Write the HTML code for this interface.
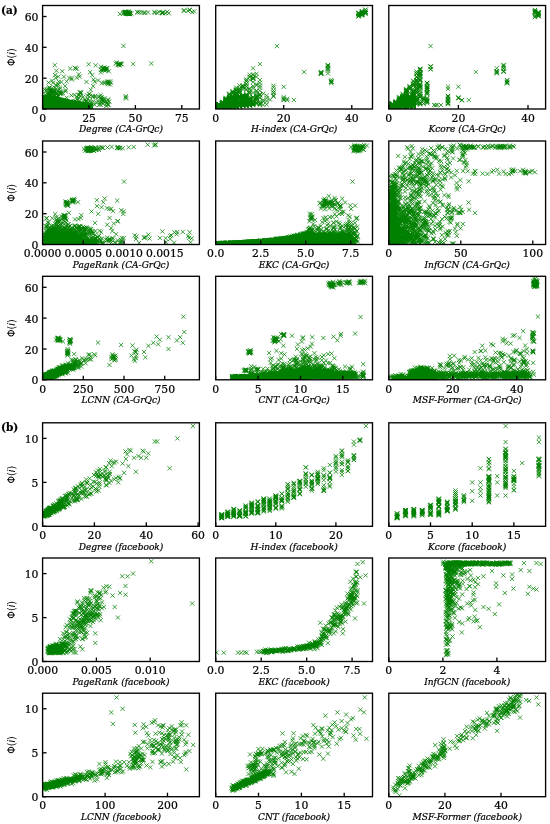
<!DOCTYPE html>
<html><head><meta charset="utf-8"><style>
html,body{margin:0;padding:0;background:#fff;}
svg{display:block;}
.fr{fill:none;stroke:#000;stroke-width:1.35;}
.tk{stroke:#000;stroke-width:1.3;fill:none;}
.m{fill:none;stroke:none;marker-start:url(#mx);marker-mid:url(#mx);marker-end:url(#mx);}
text{fill:#000;stroke:#000;stroke-width:0.22px;}
.tl{font-family:"DejaVu Serif","Liberation Serif",serif;font-size:10.8px;}
.xl{font-family:"DejaVu Serif","Liberation Serif",serif;font-style:italic;font-size:9.05px;}
.yl{font-family:"DejaVu Sans","Liberation Sans",sans-serif;font-size:9.6px;stroke:none;}
.pl{font-family:"DejaVu Serif","Liberation Serif",serif;font-weight:bold;font-size:10.5px;}
</style></head><body>
<svg width="550" height="824" viewBox="0 0 550 824">
<defs><marker id="mx" markerWidth="6" markerHeight="6" refX="3" refY="3" markerUnits="userSpaceOnUse" overflow="visible"><path d="M0.9 0.9L5.1 5.1M0.9 5.1L5.1 0.9" stroke="#008000" stroke-opacity="0.75" stroke-width="1.0" fill="none"/></marker>
<clipPath id="c0"><rect x="42.6" y="5.5" width="156.8" height="103.5"/></clipPath>
<clipPath id="c1"><rect x="215.7" y="5.5" width="156.8" height="103.5"/></clipPath>
<clipPath id="c2"><rect x="388.8" y="5.5" width="156.8" height="103.5"/></clipPath>
<clipPath id="c3"><rect x="42.6" y="141" width="156.8" height="103.5"/></clipPath>
<clipPath id="c4"><rect x="215.7" y="141" width="156.8" height="103.5"/></clipPath>
<clipPath id="c5"><rect x="388.8" y="141" width="156.8" height="103.5"/></clipPath>
<clipPath id="c6"><rect x="42.6" y="276.3" width="156.8" height="103.5"/></clipPath>
<clipPath id="c7"><rect x="215.7" y="276.3" width="156.8" height="103.5"/></clipPath>
<clipPath id="c8"><rect x="388.8" y="276.3" width="156.8" height="103.5"/></clipPath>
<clipPath id="c9"><rect x="42.6" y="422.8" width="156.8" height="103.5"/></clipPath>
<clipPath id="c10"><rect x="215.7" y="422.8" width="156.8" height="103.5"/></clipPath>
<clipPath id="c11"><rect x="388.8" y="422.8" width="156.8" height="103.5"/></clipPath>
<clipPath id="c12"><rect x="42.6" y="558" width="156.8" height="103.5"/></clipPath>
<clipPath id="c13"><rect x="215.7" y="558" width="156.8" height="103.5"/></clipPath>
<clipPath id="c14"><rect x="388.8" y="558" width="156.8" height="103.5"/></clipPath>
<clipPath id="c15"><rect x="42.6" y="693.2" width="156.8" height="103.5"/></clipPath>
<clipPath id="c16"><rect x="215.7" y="693.2" width="156.8" height="103.5"/></clipPath>
<clipPath id="c17"><rect x="388.8" y="693.2" width="156.8" height="103.5"/></clipPath></defs>
<rect width="550" height="824" fill="#fff"/>
<path clip-path="url(#c0)" class="m" d="M68 106.2 88.5 108 50.8 107 88.4 107.7 58.7 104.4 63.9 102.3 82.8 106.6 63.2 107 69.8 107 45.4 97.4 79.3 105.3 69.2 106.2 59.5 101 81 104.2 58.3 103.4 65.3 104.8 50.4 104.1 62.9 105.2 53.6 99.8 56.4 101.7 79.2 104 57.2 107.8 66.8 107.2 89.9 106.9 89.1 106.6 78 106.1 69.4 104.8 57 100.1 51.6 102.5 89.4 107.5 68.2 104.8 49.5 105 73.2 104.5 80.4 105.6 72.7 104 87 105.3 45.9 102.6 68.8 107.8 65.6 104.5 47 102.6 74.1 103.8 84 104.9 71.8 107.1 56.2 100.1 83.4 107.5 67.9 104.1 68 108 79.3 104.4 51 103.9 82.4 107.3 76 103.3 80.9 107.7 53 104.7 81.6 106.2 53 105.5 47.9 104.3 84.1 105.2 84.4 107.4 85.1 106.3 66.2 106.6 56.9 102.6 44.4 105.2 74.3 106.4 77.7 105.6 83.2 107.2 57.3 101.7 54.1 106 74 103.5 81.7 105.3 89.1 107.8 51.1 102.9 66.6 107.6 85.9 107.5 63.9 105.7 71.7 103.9 45.2 101.2 75.6 105.3 87.1 107.6 82.7 107 85.5 105.9 75 105.5 55.6 105.1 80 107.8 54 107.6 83 104.7 47 103.6 82.7 104.7 51.8 105.7 61.6 103.4 58.9 105.9 76.4 103.7 52.4 105.9 62.6 103.9 44.4 97.1 56.4 101.5 63.8 103.9 49 104.3 73.7 105.1 61.9 108 78 107.5 74.7 106.6 64.2 107.7 84.6 107.3 73.6 105.7 82 104.8 60.1 100.5 69.5 107.9 53.3 103.7 90.7 106.6 55.5 101.2 56.1 106.6 47.5 108 56.1 105.8 79.8 106.7 76.7 107.2 50.1 105.8 61.7 102.8 63.8 106.4 75.2 107.1 65.4 106.1 71.5 105.4 83.3 107.4 78.1 105.8 61.2 100.6 65.1 102.1 61.3 102.1 49.2 98.3 53.6 99.3 57.4 103.2 58.8 102.2 58.7 105.1 71.1 104.8 89.5 105.9 80.3 105.9 81.1 106.4 79.6 105.2 72 105.4 87 107.8 76.3 106.2 67.5 107.2 47.7 98.3 66.9 103 54 103.9 50.3 107.4 67.7 107.3 80.8 107 57.9 103.5 80 107.6 68.7 105.7 51.1 106.3 89.2 107.8 62.9 107.1 57.9 107 83.7 105.1 49.9 106.2 78.4 107.6 52.9 100 62.4 100.6 54.9 101.3 83.4 107.8 62.3 107 89.7 107.7 73.3 107.5 76.5 105.7 68.5 107.7 58.5 101.3 62.6 104.9 88.1 107.6 53.5 107.2 90.3 106.8 79.5 104.7 60.9 103.4 74.1 106.8 61.9 101.8 61.9 104 67.6 104.1 44.9 97.8 67.2 103.5 89.5 107.8 57.4 102 79.1 106.8 64.8 102.3 53.9 102.7 86.4 106.5 44.9 106.5 58.3 107.8 90.8 106 56.3 107.8 83.8 107.9 72.4 105.4 81.8 104.4 73.6 105.1 61 100.1 79.7 105 45.3 98.9 65 102.1 61.5 100.6 66.4 101.3 50.1 104.7 54.5 101.5 70.4 104.9 62.2 100.4 81.1 105.7 72.4 105.8 84.4 108 78.3 104.7 72.2 108 57.5 102.4 80.7 107 55.8 101.9 47.6 97.4 89.1 107.2 69.3 104.5 80.3 105.7 68.8 107 72.7 103.9 45.7 100.3 52.8 100.6 75.6 106.9 70.8 107.7 51.5 104.2 88.6 107.8 51.3 105.3 67.9 108 50.8 104 77.6 106.4 57 105.2 50.4 104.2 46.2 107.6 52.3 103.8 53.1 101.8 69.2 106 65.2 104 88.8 106.1 88.7 106.7 81.3 104.4 75.5 104.1 83.6 106.1 88 107.9 45.1 102.8 49.6 107.7 60.9 100.4 48.5 107.6 72.1 106.9 56.3 106.4 56.4 100.4 57.6 100.1 48.7 100.4 78.7 104.2 74.5 106.7 72.4 102.9 45.7 107 64.2 105.8 76.1 103.7 51.4 101.2 62.1 100.8 45 98.5 47.9 105.8 54.2 104.1 63.5 100.6 65.7 103.1 85.4 105.6 58.9 107.4 45.1 97.4 82.7 106 47 106.4 48.4 102 89.1 105.8 79.3 105.7 59.9 99.9 50.3 98.6 62.2 104.2 59.9 100.1 85 105.6 63.7 106.2 47.9 107 87.4 108 73.2 105.1 49.5 100.3 49.4 106.7 65.9 106.6 48.4 97.8 73.6 103.6 72.9 106.2 45.6 97.6 81.8 106.2 80.9 107 86.9 107.1 75.4 106.7 76.5 104.6 51.7 104.4 45.2 101.6 47.2 101.4 89.2 106.8 74.3 105.6 88.4 107.2 60.4 106.2 79.4 107.7 47.1 100.5 51.9 107.9 57 101.6 69.8 103.3 70.1 103.1 67.4 103.7 63.9 101 71 105.8 89.3 107 65.5 106 83.2 108 46.7 103.3 62.1 104.2 70.3 105.2 73.1 107.9 55.8 106.6 62.8 106 88.4 107 74.4 107 71.4 105.9 47.1 105 46.5 106.9 54 99.8 50.5 101.9 90.1 105.9 44.2 101.2 61.2 103.1 46.8 104.1 74 103.7 46.3 103 47.3 99.2 47.8 103.1 56.8 101.5 71 104.1 81.7 106.5 56.6 107.3 57.3 106 82.6 106.4 79 106 50 105.9 81.8 107.1 83 106.9 52.4 102.7 73.4 107.6 53.3 104.2 55.5 101.8 67.2 102.4 68.5 104.7 66.5 101.5 69.4 103.4 54.1 100.6 80.5 107.5 57.1 103.6 86.8 108 68.2 103.6 58.3 105.3 52.2 99.5 66.8 107.2 61.7 107.5 73.2 105.9 67.4 107 45.8 102 83 106.5 46.5 107.8 82.8 107.2 82.1 107.5 87.3 107.6 75.2 102.9 51.6 102.3 64.7 102.4 64.6 105.3 73.7 107.1 61.9 105.4 75.7 104.5 53.6 104.1 60.6 108 69.5 104.5 64.1 104.3 49.8 101.1 89.2 108 76.4 103.7 83 106.4 60.8 105.2 88.3 107.3 82.1 104.8 89.9 107.5 53.3 105.2 66.4 101.9 62.1 104.4 72.8 107.8 55.8 107 48.8 100.2 66.4 105.8 74 106.4 62 105.8 90.3 105.9 63.1 104.4 58.1 100.3 82.1 105 65.9 102.5 56.9 101.2 57.5 105.4 88.4 105.9 89.1 106.9 74.3 107.1 57.1 105.8 77.3 105.5 54.2 103.5 59.1 99.8 69.4 104.1 62.8 103.3 60.5 107.6 89.6 107.9 52 105.1 72.8 105.5 45.9 97.8 48.4 107.5 53.9 101.2 90.5 106.7 78.1 106.9 84.7 105 46.4 103.9 75.9 103.8 64.7 106.1 63.6 103.8 77.2 104.3 58.5 100.7 68.1 105.7 56.3 106.2 62.4 103 69 103.9 51.5 107.6 57 102.7 63.7 101 66.2 106.3 81.5 105.6 74.1 103.1 70.4 105.7 84.8 105.4 53.3 99.5 49 107.6 62.5 105.8 50.5 105.6 70.1 102.4 70.9 104.4 50.2 106.8 77.6 106.3 70.1 106.4 63.9 100.6 87 105.6 84.1 105.1 54.4 107.1 51.9 104.3 86.9 106.8 51.4 104.9 79.5 104.2 58.7 104.2 61 101.9 70 104.4 87.4 107 44.2 107.1 51.7 99.6 77.8 105.8 62.5 107.5 57.5 103.9 89.1 108 56.4 105.2 77.5 103.8 89.2 107.2 79.8 106.6 77.3 106.6 77.9 105.4 81.7 106.1 56.8 104.7 73.4 103.3 81.6 106.2 85.6 105.4 86.4 106.9 86.4 107 48.7 106.2 61.7 107.5 65.4 104 85.8 107 63.7 107 56.5 103.4 45 100 57.6 102.6 80.6 108 45 103.9 51.8 101.4 58.6 104.7 69 105.2 61.1 101.7 85.4 107.6 53.8 106.5 70.3 103.3 80.5 104.2 87.6 107.6 84.9 107.9 50.4 99.8 81.1 105.8 75.7 106.8 63.8 107.7 45.3 101.9 51.9 106.6 79.1 104.1 48 98.4 58.7 101.8 56 99.2 79 106.7 60.9 107.1 48.2 101.2 61.4 106.1 59.4 102.2 77.6 107.7 59.1 105.2 76.5 104.8 69.3 102.1 85.6 107.8 78.4 106 63.2 100.9 66.8 107.7 66.1 104.9 84.8 105.6 50.5 103.2 63.9 101.7 69.1 105.5 64.5 105.8 72 107.9 67.4 104.7 63.4 100.7 76.2 103.5 59.5 108.1 72.5 107.9 78.2 107.8 50.2 99.3 59.3 105 88.3 107.4 89.3 106.3 90.5 107.3 46.1 103.9 82.7 105.5 87.8 105.7 86.3 107.5 77.5 107.1 75.7 107.1 77.7 103.6 71 104.7 81 104.7 67.6 106.8 54.6 100 48.5 104.9 86.6 106.2 79.4 107.1 52.4 103.1 82.5 105.2 58.1 106.6 73.8 102.8 60.7 101.2 54.1 101.4 52.3 100.7 47.4 105 47.6 107.1 47.3 104.6 48.3 106.7 83.1 106.9 68.3 103 50.1 106.3 68.6 107.6 69.5 102.9 67.3 101.7 53.7 104.2 64.4 106.5 84.8 105.2 62 107.6 67.7 105.7 87.6 105.9 55 101.3 78 104.5 66.7 104.8 80.9 105.2 60.9 105.6 69.4 102.6 61.3 101.8 84.6 104.9 86.9 105.9 73.6 104 90 107.6 78.3 105.5 82.9 107.8 85.9 105.3 56.8 101 90.2 106.9 62.3 101.6 67.3 102.2 52.5 104.6 82.5 105.5 59.8 107 76.3 107.8 54.3 100.8 60.5 106.3 62.1 104.9 55.1 103.6 45.7 97.6 80.1 104.8 88.5 106.7 54.7 100.5 51.7 105.6 60.3 107.4 48 105.4 74.5 104.9 61.3 105.4 70.4 102 86.4 106.4 84.4 106.1 87.2 106 87.8 106.7 71.7 107 67.6 106.7 45.8 103 48.9 105.4 68.6 106.7 84.1 106.8 64.3 102.1 44.3 98.2 54 105.6 79.6 107.2 51.5 107.7 53.4 108 57.4 104.9 72.6 107 83.2 106.2 54.3 106.8 72.1 104.4 68.9 104.5 64.9 101.4 71.2 103.2 82.2 107.6 54.3 102.9 67.3 105.6 48.7 107.6 68.1 104.4 81.1 104.1 90.8 107.8 66.3 108 58 106.4 71.2 105.5 61.5 106 49.6 100.9 68.6 106.3 81.5 104.6 85.8 107.7 89.8 107.7 61.3 100.3 55.9 107.4 49.3 100.2 64.5 107.5 81.8 107.5 55.1 102.3 83.8 105.2 77.4 105.1 53.5 98.6 73.6 102.6 82.4 107.5 87.7 106.8 51.7 103.4 82.5 107.4 80.4 105.3 55.5 100.1 57.9 101.7 88.8 106.1 61 106 57.6 103.1 77.8 107.2 50.3 100.3 66.7 101.6 60.8 104 69.5 104.8 72.3 103.8 74 103.2 64.3 107.4 85.6 105.7 83.2 104.8 87.7 107.5 64.9 105.9 78.2 105.9 64.2 103.7 57.1 104 74.6 105 88.3 107.1 81.7 106.4 57.4 105.4 54.8 102 80.2 104.1 77.1 103.3 84.5 106.8 50.9 107.6 84.4 105.9 64.3 101 56.9 99.6 60.1 102.4 90.5 107.3 88.8 107.9 48 103.2 58.8 102.5 77.7 104.7 45.7 100.7 45.8 99.3 46.2 106.8 84.7 106.4 59.7 104.3 59 103.8 81.2 106.2 59 103 78.6 107.6 61.4 108 58 104.3 62.2 103.5 51.9 103.9 47.6 102.6 84.8 106.8 84.7 105.4 65.6 102.3 76.3 107.3 84.4 106 62.4 104 77.4 107.8 79.4 107.7 47.7 99.4 50.5 100.8 79.2 107.4 77.1 105.2 52.7 99.4 82.7 106.1 81.5 105.7 59.6 102.4 60 103.7 49.3 98.9 64.9 106.2 49.2 105.7 69.5 107.4 73.3 105.6 71.3 106.1 47.4 102.7 73.2 107.1 79.3 106 50.7 103.1 71.9 106.3 82.4 105 53.1 103.2 86.8 106.3 89.5 105.8 77.4 103.9 84.9 106 56.8 108 75.2 104.7 87.4 107.2 46.2 105.4 82.5 105.8 55.2 106.5 81.5 105.2 74.1 103.9 81.6 107.5 62.8 106.9 65.1 101.4 87.3 108 47.4 99.5 51.4 100.6 89.6 106.4 86.8 108 51 98.6 89.6 107.6 56.5 100.3 85.8 106.5 86.4 107.1 45.2 106.1 44.5 107.9 59.4 106.1 87.6 107.8 81.1 108 62.2 102.9 84.2 104.7 58.5 103.7 60.3 101.4 53 98.7 89 107.9 81.7 106.4 65.7 105.1 56.4 105.8 89.3 106.3 62.6 103.8 53.9 106.5 63.9 101 77.7 107.5 80.1 107.9 49.2 100.2 88.3 107 75.6 104.7 47 107.8 83.2 107.8 89.5 107.4 83.3 106.9 44.5 102.1 66.2 105.8 71.6 106.7 85.6 105.1 67.6 107.2 47.7 102.7 87.7 107.5 88.6 106 66.8 103.8 46.6 101.3 83.3 106.5 78.8 106 89.5 105.7 44.4 103.2 64.4 103.2 57.4 107.3 49.1 102.6 78.5 104.6 60 104.2 45.9 100 50.3 101.3 81.8 107.6 72.4 105.3 54.1 107.8 76.6 107.6 50.2 101.2 75.6 106.9 74.7 107.8 44.3 102.7 68 103.4 78 106.8 79.6 107.2 77.1 107 85.5 108 79.4 107.9 87.2 106.8 63.5 106.4 45.7 103.3 52.5 99.2 57.5 101 46 99 49.1 98.4 68.3 103.7 55.9 104.1 57.4 107.4 78.8 104.8 84.1 107.7 84.4 107 61.4 105.8 77.3 103.6 83.9 105.1 51.1 105.5 53.5 104.5 74.4 105.5 56.5 107.6 53.1 107.9 61.3 103.5 44.8 102.4 64.6 103.5 46.3 98.4 55.5 106.8 54.3 99.7 59.5 106.3 49.9 98.6 66.1 107 76.2 106.1 59.9 102 87.4 107.5 84.3 107.7 58.4 105.8 45.9 104.4 80 104.3 55.3 105.8 59.6 102.4 71.2 103 90.8 108 58.1 105.7 66 101.7 73.4 104.8 76 107.2 54 103.4 71.9 105.7 69.5 102.8 74.9 103.9 49.5 104.7 50 98 89.7 108 82.5 104.6 82.8 107.7 87.8 106.6 89 107 62.5 101.7 79.3 106 74.1 106.5 70.3 103.7 75.9 106.1 59 104.5 84.4 105.3 63.1 105.4 51 102.8 44.6 98.9 74 103.6 54.9 101.7 88.8 106.3 53.2 107.2 58.9 103.5 90.1 106.7 68.4 107.1 87.2 105.6 80.6 105.3 49.6 107 54.2 106.9 62.2 107.3 85.3 107.6 59.7 103.2 65.7 107.4 66.6 105.2 59.3 105.7 80.9 105.4 46.6 100.3 54.6 102.1 82.7 105.9 72.9 104.9 68 103 61.4 104.1 50.2 105.9 65.4 107.3 90.2 106.7 71.9 103.3 71 103.7 90.4 106.5 85.5 105.6 90.8 107.9 88.7 105.9 75.3 107.9 58.4 103.3 73.5 105.8 60.4 107 82 105.9 50.5 106.9 65.7 107.7 83.4 105.5 65.3 101.7 72.2 105.5 48.7 99.6 57.4 99.7 88.7 106.2 74.8 105.8 61.1 100.5 68.3 106.4 80.3 107.1 80.9 105.3 82.8 105 57.6 105.8 55.2 105.2 73.9 107.9 68.7 107.5 70.5 106 54.1 107.2 59 107.9 79.3 104.7 60.8 100.9 79.5 107.5 46.3 104.3 88.5 108 53.8 104.1 66.4 107.2 87.1 106.5 55.9 101.9 54.7 101.4 90.2 107.8 86.4 105.7 69 102.7 46.9 105.1 72.4 102.4 55.8 105 54.1 105.6 87.7 107.6 73 102.6 64.8 100.9 47 99.6 61.5 105.7 84.5 107.4 58.2 101.1 59.2 101.2 72.5 104.1 55.9 107.9 70.1 107.5 80 105.6 57.5 107.7 66.2 102.3 71 102.2 61.1 100.2 54.5 100.3 49.4 107.7 70.5 107.4 87.9 105.4 45 102 84.6 107.7 89.1 108.1 69.4 107.3 89.3 106 77 106.6 69.6 103.3 65.8 101.4 65.9 105.6 76 103.4 55.1 99.9 77.5 107.5 67 107.2 75.6 103.4 88.1 105.9 55 100.4 62.9 103 57 99.6 46.5 103.5 73.2 103.5 73.5 103.8 90.8 107.2 72.2 106.4 62.6 107.2 86.2 105.2 44.8 98.8 58.2 101.7 79.2 107 51.6 99.9 61 106.5 83.8 105.8 60.2 106.7 55.4 103.9 85.7 106.2 47.7 100.4 84.1 104.9 58.8 99.9 53.8 100.9 66.9 107.8 66.7 105.4 89.2 106.3 79.3 104.2 65.6 107.9 70.2 105.6 59 100.2 90 106 62.1 101.2 85.5 107.6 74.8 106.4 86.9 105.4 60.7 100.6 63.6 100.8 61.4 102.5 82.8 105.4 88.7 107.4 82.6 105.4 65.2 106.2 82.9 105 78.2 105.3 68.4 106.2 52.7 106.6 55.2 106.9 77 107.3 53.4 99.3 70.3 105.8 81.7 105.8 74.7 107.3 72.6 102.9 56.1 99.1 49.7 102.8 45.7 97.5 46.3 97.4 54.9 101.8 70.2 107.2 63.9 103.1 53.6 106.3 58.2 100.4 65.7 101.7 81.4 107.4 74.8 106.2 46 100.5 66.6 106.4 52.8 99.9 84.1 106.3 85.5 106 70 105.2 78.5 104.4 76.2 104.1 82.3 105 57.1 104.9 54.8 104.8 79 107 88.9 105.8 54.8 107 70.6 105.9 69.5 107.9 61.6 102.9 79.2 103.8 50.2 102.6 61.5 107.8 64.2 105.5 88.6 106.4 76.1 107.3 77.3 105.6 90.8 107.4 54.7 107.7 72.3 103.5 49.1 105.1 51.7 106.3 76.6 104.8 82.7 106.4 73.8 106.3 71.2 107.5 81.1 104.1 88.8 106.6 87.4 106.8 81.9 105.8 64.3 104.7 79.9 104.7 55 100.1 86.4 107.2 57.2 99.9 89.9 107.4 58.2 102.6 56.4 99.6 59.8 102.3 66.8 107.7 53.4 102.1 56.4 100.4 85.4 107.9 87.6 107.5 51.4 104 64.7 105.2 63.7 100.7 82.8 107.8 75 107.1 63.2 103.2 81 107.6 72.4 104.5 53.9 102.1 81.1 105.8 65.9 105.1 85.6 106.6 75.2 106.1 51.2 104.2 79.5 106.6 71.3 106.2 69.4 107 63.7 103.9 75.1 104.9 47 102.2 67.6 104.7 87.8 105.9 53.7 99.4 50.5 107.4 63.3 105 68.4 105 61.7 107.3 66.7 105.8 75.6 105.9 81.2 107.9 46.5 103.3 61.9 107.3 73 105.8 45.1 105.8 88.5 107.8 74.1 107.7 66.8 104.5 65 108.1 51 104.1 47.2 107.4 75.9 104.6 87.3 106.3 81.1 107.5 45.1 104 45.9 100.1 68.1 107.2 70.9 103.1 72.4 104.3 85 105 86.1 106.2 90.3 108 59.7 104.7 66 103.2 90.5 107.1 76.8 106.3 46.8 105.3 86.6 106 72.9 107.2 53.1 100.7 60.3 105.8 71.1 104.6 74.6 103.2 63.3 103.6 78.9 104.2 69 107.5 89.7 106.9 84 105.8 51.1 106.4 48.9 100.8 84 105.8 72.5 105.4 89.7 106.2 64.5 108.1 52.5 99 45.8 107.1 80 104.8 48 106.4 74.2 108 70.4 104.4 78.7 105.6 88.2 106.1 55.1 100.1 66.7 104.8 79.2 105.8 53.5 102.5 48.4 104.5 50.5 100 87.7 106 81 107.4 53.5 101.5 44.8 105.7 73.9 106.5 59.1 103.2 54.7 104 53.4 102.5 66.2 106.4 60.1 101.8 88.1 107.8 70.5 108 86.2 107.5 87.3 106.7 86.2 105.5 67.4 105.8 71.4 107.6 69.1 101.7 45 100.4 88.3 107.3 51.1 105.8 70 107.1 76 107.5 80.9 105.1 69.4 107.3 74 104.4 82.8 106.6 74.2 104.7 75.3 106.2 84 107.7 47.5 108.1 68.3 102.6 45.3 98.8 51.2 106.8 45.4 105 84.6 106.6 59.5 100.3 68.5 105.7 80.9 105.8 76.3 108 87.4 107.9 67 103 76.9 105.6 84.7 107.9 49.1 100.5 66.1 106.6 48.2 98.5 70.1 101.9 58.7 100 83.4 107.4 66 103.9 51.7 99.4 84.9 106 64 107.6 45 105.1 56.6 102.1 62 105.1 45.3 106.2 50.6 102.4 57.9 100.7 59.9 102.4 64.5 106.1 58 106.4 59.1 107.1 65.7 106.1 60.5 103.3 79.1 104 80.6 107 44.9 99.7 51.7 98.7 48.8 104.2 60.6 101.8 60.7 100 79.1 107 78.2 105.5 85.3 105.3 76 107.4 71.9 107.6 90.6 106.7 74.1 104.8 62.3 101 58.3 102.4 45.8 98 88.2 106.7 79.3 105.3 61.7 101.6 85 106.7 79.8 106.3 65.8 103.1 88.8 107.9 85.8 106.6 64.9 107 64.1 104.6 51.2 107.9 48.9 107.5 60.8 103.7 54.1 105.2 47.3 100.5 78.5 105.5 89 106.9 76.2 103.8 86.5 107.9 84.8 105 74.3 107.6 68.5 107.8 60.8 100.3 67.2 107 59.1 104.2 52.1 104.5 67.2 106.2 75 105.4 71.5 102.8 78.6 106.1 59.8 102.9 44.1 97.2 54 103.8 57.6 105.2 69.9 105 62.3 101.9 74.8 104.4 54.6 99.1 66 105.7 44.2 97.4 76.2 106.2 84.6 108 84.2 105.9 85 105 53.3 105.8 90 106 69.9 102.8 52.8 105 48.3 99.8 47.4 104.6 73.9 104.6 73.5 105.3 80.9 107.2 74.9 105.8 68.4 105.4 51.7 107.3 78.4 104.1 44.3 104.7 75 106.4 51.8 98.6 51.5 104.1 86.5 106.9 87.4 105.7 77.8 106.4 54.8 99.2 66 104.7 60.3 105 49.6 104.8 55.2 105.2 46.8 97.5 89.6 106.9 55.1 107.5 62.2 107.5 55.6 101 74.5 103.3 70.4 102.1 79.9 107.8 44.6 105.2 53.7 100.2 72.1 103.3 71 103.1 82.6 107.4 47.9 99.9 61.4 102.2 63 101.1 68.1 105.1 60.5 102.8 78.4 107.2 49 100.3 46.9 107.9 58.7 100.8 48.3 100.9 62.4 105.6 71.1 106.9 48 103.1 65.6 102.8 70.1 102.3 70.5 102.1 45.5 102.1 80.2 106.8 77.8 107.5 58 101.8 66.1 103.9 78.6 107.1 83.1 106.1 55.7 104.5 80.1 104.7 63.9 107.4 88.7 107.6 85.2 107.5 60.8 104.2 60.9 105.4 66.8 104 89 106.9 50.8 104.6 69.8 103.8 74.4 105 77.8 107.5 47.2 104 72.1 104.5 65.1 103.6 60 104.3 89.5 107.6 49 99.4 77.2 105.5 53.6 102 88.4 105.8 67.5 107.8 65.3 107.2 55.7 101.4 69 107.4 84.5 108.1 47.5 97.6 74.9 107.8 50.9 99.4 54.6 98.9 84 106.7 47.5 101.4 78.3 107.6 46.8 97.2 67.9 102.1 73.2 106.4 51 107.3 81.6 105 54.4 98.7 66.3 107 55.3 99.9 79.8 104.4 55.8 106.2 56.3 106.4 44.7 105.8 86.2 107.2 45.7 103.4 58.8 106.3 74.3 106.3 59.6 103.3 72 104.6 61.1 100.1 85.2 107.6 51.5 99.2 44.9 105.3 48.7 105.9 68.6 102.3 71.8 104.7 83.1 105.5 88.7 105.8 62.9 102.2 82.6 105.3 63 105.5 61.4 105.5 50.3 103 84.7 106.8 59.8 106.5 74.3 104.1 68.3 103 90.7 106.1 56 102.2 69.9 104.8 81 106.6 53 104.2 82.6 105 70.2 103.5 48.9 107 89.4 106.7 63.3 101.3 66.3 102.2 80.8 106.5 89.2 106.1 55.6 100.4 50.5 101.8 78.9 104.1 75.7 107.3 65 101.3 74.4 103.5 88.2 107 83.5 105.2 70.7 105 86.6 105.7 86.8 107.1 80.1 105.3 49.6 107.4 70.4 102 72.5 104 85.2 105.2 68.2 103.7 72.7 104.2 77.5 103.8 48 97.5 46.7 104 45.5 104.8 49.1 100.2 56 103.7 46.3 97.1 72 104.8 70.8 107.4 65.4 107.8 44.5 99.6 68.4 105.8 50 105.2 44.3 100.4 81.3 107.1 86.7 107 47.5 104 74.9 104 46.6 100.2 71.3 102.6 73.3 106.5 71.5 102.1 90.4 106.9 72.8 106 51.9 98.8 87.7 107.6 58.1 99.8 69.3 107.9 64.3 106.9 81.8 106 48 105.2 61.3 102.2 64.8 103.8 72 106.6 86.5 106.7 58.2 107.9 60.2 100.6 75.5 107.8 53.9 105.1 67.9 102 59 103.7 73.3 105 71.2 104.2 76.2 104.6 64.2 105.7 55 107 44.8 101.1 72.2 105.3 54.6 102.4 44.3 97.2 61.6 103.6 56.9 106.3 76 106.4 58 100.5 61.3 106 77.9 106.6 75.6 103.2 51.6 103.3 71.5 104 87.7 105.5 86.6 105.6 83.8 108 57.3 103.7 89 106.4 53.4 106.8 62.9 106.7 49.4 100 70.5 103.5 77.9 103.5 76.2 107.8 44.4 107.5 90 105.8 58.6 102.1 78.8 107.6 87.4 106.2 80.6 105.4 68.6 103.6 69.3 102.8 50.8 100.7 62 103.7 82.5 106.7 75.9 107.1 75.1 102.9 75.9 105.8 60.4 105.9 89.9 106.6 59.8 102.5 52.8 102.3 75.4 103.5 52 102.1 89.7 107.2 71 107.5 49.7 106.8 45.2 102.5 72.2 106.6 46.1 106.5 46.5 99 63.4 104.6 65 102.8 82.8 104.9 50.1 107.5 84.7 104.9 63 103.8 84 106.9 51.2 103.2 46.3 105.6 64.5 105.6 54.2 102.3 66.4 106.7 82.4 106.4 85.5 107.2 48.1 99.8 56.1 105.9 58.3 101.8 52.2 107.9 65.9 105 46.6 102.9 53.3 104.2 47.1 102.5 65.5 102 88 106.7 51.2 99.9 85.6 105.8 58.9 106.4 79 106.7 83.5 107.5 72.4 103.6 77.7 107.6 73.6 103.3 87.6 106.6 80.5 106.3 63.7 103.8 57.7 103.4 51.4 101.9 68 104.5 54.8 105.2 55.1 99.8 85.3 106.1 76.8 103.2 69.3 107.2 83.5 104.7 68.7 104 62.5 102.8 76.1 103.3 72.6 107.7 53.8 106.3 59 103.2 70.3 106.2 54.3 107.9 87 107.2 46.2 100.5 85.1 105.9 89.9 108 72.9 106.2 54 100 81.9 105.5 64.7 103.5 77.4 103.4 59.2 105.3 54.4 107.3 88.7 106.5 47.6 101.2 46.8 102.1 80.7 104.1 80.3 105.2 58.6 107.5 61.6 102.9 76.3 107.7 72.1 104.7 74.4 105.4 64.4 108.1 89.9 107.6 51 103.9 73.6 106.3 53.7 106.8 59.7 103 58 99.9 82.7 107.9 71.2 103.4 59.6 105.1 69.1 106.3 65.7 102.4 69.5 102.2 55.2 99 61.6 100.7 65.5 107.2 48 108 44.8 99.6 71.8 103.6 53.8 106.7 81.6 105.8 45.3 100.9 54.5 104.5 73.5 107.1 50.3 104.6 63.8 106 58 108 56.6 105.6 55.1 105.8 89.7 106.5 59 102.7 49.6 101.1 86.9 107.2 51.5 102.2 78.5 107.5 74.9 104 77.6 103.6 80.2 104.9 52.5 100.9 45.8 101.7 64.2 102.4 64.9 104.7 55.1 105.7 82 105.1 49.2 102.7 67.3 101.8 68.8 104.3 44.5 102 82 107.9 60.8 106.3 65.5 102.9 51.6 103.7 62.7 100.9 65.2 103.6 72.2 106.5 45.7 105.4 64.1 105.9 67 106.6 88.6 106.7 71.9 107.6 76.1 105.2 64.7 104.9 67.2 102.1 90 106.1 63.5 105.8 90.6 107.7 72.6 105.7 86.9 106.6 71.1 103.8 82.5 104.4 82.5 104.7 62.1 105 59.5 103.5 88 106.5 59.5 100.7 80.7 107.6 52.4 100.1 67 106.3 61.8 107.2 57 99.4 55.2 104.9 89.2 106.3 75.4 106.2 65.8 106 70.9 104.8 83.6 107.3 75.7 106.8 50.1 107.6 53.9 101.3 85.8 105.2 70.2 108 71.7 106.4 51.7 99.5 50.5 102 54.2 106.9 59.3 106.1 70.2 106.8 61.5 107.8 75.8 107.4 64.3 107.1 68.1 104.7 88.6 106.1 46.1 102.3 73.9 104.5 78.5 104 52.5 100.5 84.3 107.7 49.8 107.8 81.9 104.5 53.1 105.6 64 101.6 62.6 106.7 70.8 102.7 73.8 105.6 46 107.8 82.2 104.3 68.7 107.3 87 108 52 100.2 64.9 105.7 88.8 108 73.8 108 67.8 105.3 66.1 107.3 86.9 107.1 44.4 100.3 90.4 106 66.1 106 82.5 105.9 66.7 103.2 82.8 105.1 48.7 102.9 64 102.2 80.1 106.1 90.7 106.5 68.1 103.9 47.6 103.1 79 104.2 74.4 106.4 51.1 104.5 53.9 103.5 67.6 107.7 51.9 102.2 86.9 108 90.4 106.2 79.3 106.5 83.6 104.9 59.6 106.8 49.1 100.6 78.2 105.4 81.2 105.8 76.6 103.6 52.4 107.2 45.3 97.8 70 106.3 51.1 105.5 57.9 102.1 66.4 105.2 55.8 106.9 87.7 106.6 59.1 100.7 70.3 108 89.6 107.1 75.5 107.1 62.1 102.5 79.3 104.6 53.1 106.7 48.9 99.2 45.9 104.6 75.3 104.2 74.9 107.4 75.5 105.6 75.6 104.7 71.3 105.1 88.1 106.3 65.6 102.5 49.9 98.5 55.8 102.2 63.2 106.7 72.7 103.7 60.8 104.6 64.5 102.9 57.8 102.1 78.1 104 83.6 106 59.9 106.2 81.5 106.5 53.3 102.1 89.7 106.7 60.7 106.5 75 103.7 72.2 104.7 47.9 101.9 71.5 106.9 46.3 102.7 66.8 106.2 69.2 105.9 88.6 107.2 52.6 102.2 46.4 104 73.4 103.1 58.6 101.7 69.8 101.9 56 102.5 76.4 105.9 50 104 68 107.8 80.2 105.1 85.8 107.1 59.4 107.9 69.7 102.3 88.7 107.5 50.6 107.1 82.9 105.4 78.3 104.5 89.3 106.2 66.9 103.8 65.4 107.9 69.6 104.7 61 100.3 46.8 103.1 70.7 106.3 62.3 103.7 67.7 103.8 76.8 106.6 62.5 102.1 51.7 99.7 82.9 108 88.2 107.8 55.1 103.5 72.6 107.7 61.7 106.5 76.9 103.8 46.6 97.2 87.1 105.7 84 107.5 50.6 99.9 74.1 104.9 59.5 99.8 53.9 105.4 83.7 104.9 79.3 108 71.1 106.7 73.1 103 84.8 106.4 60 106.4 67.1 103.3 54.8 105.1 65.3 103.8 52.1 104 60.2 107.4 74.2 107.7 57 100 74.6 103.4 81.4 106.2 73.5 106.7 66 107.1 62.4 100.6 47.5 102.3 79.9 108 88.8 106.5 55.4 101.1 76.6 106.6 72.3 102.4 82.1 107.8 76 107.5 53.3 102.3 50.4 103.4 59.8 105 52.8 101.3 72.3 102.7 48.2 98.9 75.7 104.3 80.8 106.9 46 104.7 85.6 107.5 82.4 104.8 46.1 100.6 69.7 104.4 45.4 107.3 66.4 102.2 47.9 106.5 71 105 47.7 98.1 48.3 104.3 89.5 107 81.9 104.4 75.5 106.5 80.9 106.2 54.1 104.5 48.9 103.8 59.1 104.4 79.7 103.8 79.4 104.5 77.6 107.9 63.6 103.5 67.9 108 78.7 107.7 71.6 104.6 54.4 102.3 66.1 106.9 87.8 107 89 107.2 47.7 100.5 49.7 103.7 46.8 103.9 67.7 102.5 86.1 106 68.2 107.3 59.6 103.6 85.3 107.4 55.4 105.6 69.8 104.2 85.5 105.3 84.8 106.9 50.3 102.8 58.4 107.4 63.2 102.2 80.2 107.3 76.2 106.1 69.2 106.3 61.7 104 57.5 105.5 71.3 105.3 81.7 106.3 60.5 103.1 50.1 91.2 53.5 95.7 47.8 94.8 52 91.3 56.9 93 53.1 93.5 53.5 92.5 51.3 99.7 53.1 90.7 46.1 90.6 46.7 89.2 54.3 100.1 46.2 96.7 57.6 95.9 55.9 89.6 48.3 92.7 44.6 89.4 43.7 93 53.9 96.1 52.4 97.9 57.7 95.9 54.5 90.4 58.5 96.6 56 99.2 49.2 93.5 52 90.5 49.6 87.5 51.5 90.8 50.8 91.6 51.8 99.2 57.7 95.3 50.7 95.3 48.3 93.9 50.4 96.9 50.9 92.1 50.5 90.8 52.1 94 51.1 95.1 56.8 93.8 56.1 93.2 49.9 92.1 56.4 96.7 57.9 90.3 52.7 94.2 49.6 94.8 54.4 92.4 52.4 96.2 54 91.9 48.8 88.3 60.5 93.1 52 93.7 54.7 95.6 50.6 90.2 53.4 91.2 44.3 98.5 48 91.6 43.6 96.2 56.5 97.6 47.6 94.5 47 96.2 100.8 97.7 59.4 92.2 101.4 99.1 90.3 103.8 48 105 52.9 103.2 92.8 95.9 99.2 104.8 69.7 103.4 63.1 103.1 107.8 104.7 99.8 102.2 109.2 101.5 57.4 85.8 78.4 102.6 52.4 104 89.2 93.7 71.9 102.8 51.7 88.3 55.9 85.1 103.7 102 101.6 97 106.6 103 102.9 103.8 80.1 92.6 78.8 95.3 83.4 101 94.7 104.7 58.8 99 74.4 95 71.4 95.4 96.1 102.4 49.2 95.3 86.7 100.9 51.9 103.4 80.5 95.9 60.3 94.2 108 99.6 54.8 87.5 66.6 97.7 59.6 89.4 62.7 92.9 89.2 94.3 50.6 99.9 85.5 101.2 79.2 98 49.3 101.9 106.1 101.1 76.9 99 49.8 87.9 80.6 93.6 70.6 103.5 53 82.8 95.4 97.2 102.3 99 90.5 102.3 75.2 101.1 98.5 97.1 47.8 104 60 102.7 83.1 96.9 58.4 100.2 87.9 98.8 76.9 96.9 98 101.4 108.3 100.1 49.9 100.4 92.8 97 50.1 95.5 80.2 92 68.9 102.4 76.5 101.6 93.2 101.6 46.7 100.1 86.2 101.2 101.7 102 102.4 98.9 78.4 94.7 87.2 95.4 56.1 93.3 59.4 99.2 108 104.2 48.6 82.6 103.7 100.3 63.2 101.1 79.8 100.7 61.2 93.7 52 94.6 100.8 104.8 86.2 101.2 79.6 76.7 92.2 75.2 60 87.6 62.3 71.2 71.9 79.4 65.1 86.1 93.2 86.1 78.8 74.3 61.3 92.5 75.5 68.5 77 68.8 63.9 76.7 81.1 92.8 90.1 72.1 61.3 82 65.6 91.5 58 83.9 66.6 81.4 90.7 89.8 88.7 64.3 98.1 80.4 70.2 68.6 55.1 75.1 58.7 81.8 76.7 77.8 55.8 78 86.5 81.9 65.7 90.1 74.8 67.8 71.5 78.1 69.4 78 93.6 79.7 52.1 80.6 95.6 65.3 54.8 65.1 56.5 70.8 60.2 92.1 94.7 81.7 100.9 72.4 58.3 76.6 106.8 103.6 89.3 96.5 108.5 105 89.9 100.6 95.2 95.9 88.3 102.7 104.3 98.4 84.9 99.8 106.3 105.9 102.8 100.7 101 69.9 106.7 70 106.1 68.9 105 70.8 103.1 68.2 103.9 68.4 103 69.3 106.5 68.4 100.9 66.7 105.1 68.9 104.4 67.3 101.7 69.5 105.9 69.9 103.6 68.1 108.9 71.3 107.2 68.2 104.3 69.2 103.5 69.7 108.1 81.5 108.2 83.3 110.9 82.7 109.9 84.4 108.4 83.1 107.4 82 105.6 82.3 108.4 81.8 101.7 83.1 110.2 81.5 107.9 84 103.9 82.9 115.8 63.5 118.8 63.8 118.5 64.9 119 63.9 120 63.5 120.9 63.8 117.7 64.5 118.9 64.7 116.7 62.6 121.6 64.2 120.9 64 119.8 65.5 123.5 45.9 133.2 64 151.3 63.5 125.7 97.4 125.9 96.2 126.1 98.4 99.2 96.7 100.7 95.1 128.5 13.7 127.8 13.3 126 11.9 129.6 13.9 127.4 13.8 128.5 13.2 128.2 12.8 126.2 13.5 127.9 13 129.7 14.2 125.6 11.9 125.7 13.3 125.9 13 128.6 11.2 126.6 13.4 127.9 13.9 129.3 13.7 125.5 11.9 129.9 13.2 127.4 13.6 127.1 13.1 130 13.1 128.2 12.4 125.2 12.6 127.3 12.8 126.1 12.7 127.8 13.6 126.6 13.9 126.8 12.8 129 12.7 124.6 12.9 127.9 12.9 127 12.6 127.9 13.8 123.4 13.3 139.6 12.3 145.1 12.7 119.9 13.9 142 12.4 128.1 13.3 131.3 13.3 148 12.4 129.6 14 124.7 12.3 144.1 12.8 125.3 12.5 137.8 12.4 137.2 12.1 123.6 12.2 157.3 12.9 162.4 13.3 161.9 12.8 165.6 13.1 167.3 11.7 159 11.8 162.3 12.8 163.4 12.2 154.7 12.8 168.7 13.3 162.6 12.6 154.5 12 189.8 10.1 189.5 9.8 187.8 10.8 192.2 12.1 194.2 11.4 183.7 10.9 184.1 10.3"/>
<path clip-path="url(#c1)" class="m" d="M219.1 108.1 219.1 108 219.1 107.6 219.1 107.4 219.1 106.7 219.1 106.6 219.1 107.9 219.1 108 219.1 107.6 219.1 107.5 219.1 105.9 219.1 107.8 219.1 107.1 219.1 106.9 219.1 107.7 219.1 104.8 219.1 106.2 219.1 104.7 219.1 108.1 219.1 108 219.1 108.1 219.1 107.5 219.1 106 219.1 106.3 219.1 107.3 219.1 106.9 219.1 107 219.1 106.8 219.1 107.5 219.1 107.6 219.1 108 219.1 107.8 219.1 106.5 219.1 107.2 219.1 105.9 219.1 107.3 219.1 107.8 219.1 106.9 219.1 107.1 219.1 106.9 219.1 107.9 219.1 107.5 219.1 105.8 219.1 107.7 219.1 108.1 219.1 106.8 219.1 107.9 219.1 107.9 219.1 108.1 219.1 107.2 219.1 107.3 219.1 107.1 219.1 104.9 219.1 107.7 219.1 106.1 219.1 107.8 219.1 106.3 219.1 107.9 219.1 107.7 219.1 107.8 219.1 108.1 219.1 107.3 219.1 107.5 219.1 108.2 219.1 106.4 219.1 107.7 219.1 104.6 219.1 106.6 219.1 108 219.1 107.5 219.1 106.7 219.1 105.3 219.1 107.5 219.1 107.3 219.1 105.3 219.1 107.1 219.1 105.2 219.1 108.1 219.1 108.1 219.1 107.7 219.1 106.5 219.1 104.8 219.1 108.2 219.1 107.7 219.1 108.2 219.1 107.5 219.1 108.1 219.1 108 219.1 104.6 219.1 107.4 219.1 107.7 219.1 108.1 219.1 106.8 219.1 107.9 219.1 107.3 219.1 108.2 219.1 107.2 219.1 107.2 219.1 107 219.1 106.3 219.1 104.6 219.1 107.5 219.1 107.8 219.1 106.1 219.1 108.2 219.1 108.1 219.1 108.2 219.1 107.9 219.1 107.6 219.1 106.5 219.1 106.9 219.1 107 219.1 106.5 219.1 104.8 219.1 108.2 219.1 106.5 219.1 107.9 219.1 107.9 219.1 107.7 219.1 106.6 219.1 107.9 219.1 107.9 219.1 107.1 219.1 106.4 219.1 106.6 219.1 106.8 219.1 107 219.1 107.8 219.1 105.9 219.1 108.1 219.1 105.7 219.1 107 219.1 106.5 219.1 108 219.1 107 219.1 107.7 219.1 108.2 219.1 108.2 219.1 106.9 219.1 107.5 219.1 107.6 219.1 107.6 219.1 107.5 219.1 106.5 219.1 107.6 219.1 106.2 219.1 105.4 219.1 107.9 219.1 106.2 219.1 106.9 219.1 106.8 219.1 108 219.1 105.9 219.1 105.5 219.1 107.8 219.1 107.1 219.1 107.7 219.1 107.9 219.1 108.1 219.1 107.2 219.1 105.6 219.1 107.7 219.1 105.9 219.1 104.9 219.1 108 219.1 107.9 219.1 107.2 219.1 108.1 219.1 108 219.1 106.5 219.1 108 219.1 106.9 219.1 106.5 219.1 107 219.1 107.4 219.1 107.7 219.1 107.6 219.1 108.1 219.1 108.1 219.1 107.4 219.1 106.6 219.1 108.2 219.1 104.6 219.1 105.3 219.1 107.6 219.1 107.4 219.1 108.1 219.1 107.5 219.1 108.1 219.1 106.6 219.1 108.2 219.1 104.8 219.1 107.1 219.1 106.2 219.1 106.2 219.1 108 219.1 107.5 219.1 107.5 219.1 108 219.1 107.9 219.1 107.8 219.1 105.7 219.1 105.9 219.1 107.9 219.1 107.2 219.1 107.1 219.1 106.4 219.1 105.5 219.1 108.2 219.1 108.2 219.1 107.3 219.1 107 219.1 107.6 219.1 108.2 219.1 107.4 219.1 107.4 219.1 107.9 219.1 107.8 219.1 107.1 219.1 108.2 219.1 108.2 219.1 107.9 219.1 107.8 219.1 108.1 219.1 107.9 219.1 108 219.1 105.5 219.1 107.5 219.1 108 219.1 105.9 219.1 106.4 219.1 104.5 219.1 106.1 219.1 107.1 219.1 107.5 219.1 107.6 219.1 107.2 219.1 107.1 219.1 108 219.1 108.1 219.1 108 219.1 108.1 219.1 107.9 219.1 107.3 219.1 106.7 219.1 108 219.1 108 219.1 107.8 219.1 105.7 219.1 108.1 219.1 106.7 219.1 107.9 219.1 106.7 219.1 107.1 219.1 108 219.1 107.9 219.1 108.2 219.1 106.1 219.1 107.2 219.1 107.9 219.1 107.8 219.1 108.2 219.1 107.6 219.1 106.7 219.1 105.7 219.1 107.6 219.1 105.9 219.1 108.1 219.1 107.7 219.1 108.1 219.1 107.9 219.1 107.9 219.1 107.3 219.1 107 219.1 106.6 219.1 108 219.1 107.3 219.1 107.3 219.1 108 219.1 107.5 219.1 106.6 219.1 108.1 219.1 107.7 219.1 107.4 219.1 107.7 219.1 107.8 219.1 107.7 219.1 107.7 219.1 107.9 219.1 104.5 219.1 107.8 219.1 108 219.1 106.6 219.1 106.9 219.1 107.6 219.1 107.2 219.1 106 219.1 108 219.1 107.8 219.1 106.2 219.1 107.9 219.1 107.5 219.1 107.8 219.1 107.3 219.1 107.2 219.1 107.8 219.1 107.6 219.1 107.1 219.1 108 219.1 105.5 219.1 104.9 219.1 104.5 219.1 107.9 219.1 107.2 219.1 108 219.1 108.2 219.1 107.5 219.1 105.6 219.1 107.3 219.1 106.7 219.1 105.8 219.1 106.8 219.1 107.1 219.1 107 219.1 107.9 219.1 105.2 219.1 107.5 219.1 108.1 219.1 107.4 219.1 108.1 219.1 105.3 219.1 107.9 219.1 108 219.1 108.1 219.1 107.3 219.1 107.9 219.1 107.3 219.1 107.5 219.1 107.6 219.1 107.9 219.1 106 219.1 107.9 219.1 107.5 219.1 107.1 219.1 105.2 219.1 108 219.1 107.7 219.1 105.9 219.1 107 219.1 108 219.1 106.2 219.1 106.1 219.1 106.4 219.1 108.1 219.1 106.3 219.1 105.5 219.1 108.1 219.1 107.3 219.1 107 219.1 107.7 219.1 107.8 219.1 107 219.1 106.3 219.1 106.5 219.1 105.8 219.1 107.7 219.1 104.9 219.1 106 219.1 107 219.1 108.2 219.1 107.4 219.1 108.2 219.1 106.9 219.1 108 219.1 107.8 219.1 105.6 219.1 107.5 219.1 107.6 219.1 107.4 219.1 107.2 219.1 108.1 219.1 106.2 219.1 107.7 219.1 107.7 219.1 107.8 219.1 107.4 219.1 107.9 219.1 105.9 219.1 108.1 219.1 107.7 219.1 107.9 219.1 108 219.1 107.9 219.1 107.1 219.1 108.2 219.1 108.2 219.1 107.9 219.1 107.5 219.1 107 219.1 106.3 219.1 107.9 219.1 108.1 219.1 107.3 219.1 108 219.1 108.1 219.1 107.8 219.1 107.1 219.1 107.6 219.1 108 219.1 107.9 219.1 104.8 219.1 107.1 219.1 107.8 219.1 108.2 219.1 107 219.1 105.6 219.1 105.6 219.1 108 219.1 108.1 219.1 107.2 219.1 106.7 219.1 106.3 219.1 107.9 219.1 108.1 219.1 107.6 219.1 108.2 219.1 108.1 219.1 107.5 219.1 108.1 219.1 106.4 219.1 107.5 219.1 107.5 219.1 106.7 219.1 107.4 219.1 106.8 219.1 106.1 219.1 106.6 219.1 106.3 219.1 108.1 219.1 107.3 219.1 106.8 219.1 107.3 219.1 106.2 219.1 108.1 219.1 107.6 219.1 107.2 219.1 104.5 219.1 108.2 219.1 106.5 219.1 108.2 219.1 108.2 219.1 106.6 219.1 106 219.1 108 219.1 106.9 219.1 107.3 219.1 107.6 219.1 107.8 219.1 107.7 219.1 106.3 219.1 105.5 219.1 107.4 219.1 106.1 219.1 105.7 219.1 107.9 219.1 107.6 219.1 106.6 219.1 108.2 219.1 106.5 219.1 107.9 219.1 108 219.1 105.7 219.1 106.4 219.1 105.6 219.1 108.1 219.1 106.7 219.1 108 219.1 107.1 219.1 106.4 219.1 107.9 219.1 106.9 219.1 107.5 219.1 108 219.1 107 219.1 106.3 219.1 108.1 219.1 108.2 219.1 108.1 222.5 107 222.5 104.2 222.5 108 222.5 107.7 222.5 107.1 222.5 107.8 222.5 107.1 222.5 106.8 222.5 107.8 222.5 102.7 222.5 107.5 222.5 105.5 222.5 107.8 222.5 105.1 222.5 105.6 222.5 106.3 222.5 107.7 222.5 107.5 222.5 107.4 222.5 107 222.5 103.3 222.5 107.6 222.5 104 222.5 106.2 222.5 107.1 222.5 107.2 222.5 102.3 222.5 102.9 222.5 104.5 222.5 106.3 222.5 106.8 222.5 107.4 222.5 104.9 222.5 107.9 222.5 106.9 222.5 103.9 222.5 107.5 222.5 106.3 222.5 107.5 222.5 107.9 222.5 106.7 222.5 108.1 222.5 105.7 222.5 107.9 222.5 106.7 222.5 107.2 222.5 107.5 222.5 107.3 222.5 107.8 222.5 107.3 222.5 106.8 222.5 107.8 222.5 106.6 222.5 107.2 222.5 107.8 222.5 105.3 222.5 102.6 222.5 106.3 222.5 107.4 222.5 106.4 222.5 107.6 222.5 105.8 222.5 102.9 222.5 105.7 222.5 107 222.5 106.2 222.5 108 222.5 104.1 222.5 107.9 222.5 107.8 222.5 106.1 222.5 107.6 222.5 107.9 222.5 106.9 222.5 103.7 222.5 107.8 222.5 104.4 222.5 107.3 222.5 107.9 222.5 107 222.5 106.6 222.5 102.4 222.5 107.8 222.5 106.7 222.5 107.2 222.5 107.2 222.5 106.5 222.5 107.9 222.5 107.5 222.5 108 222.5 107.4 222.5 103.8 222.5 107.6 222.5 107.9 222.5 106 222.5 104.8 222.5 105.4 222.5 105.2 222.5 103.6 222.5 104.7 222.5 106.7 222.5 107.5 222.5 107.5 222.5 107.2 222.5 106.6 222.5 107 222.5 107.2 222.5 105.4 222.5 106.8 222.5 107.2 222.5 102.6 222.5 106.7 222.5 104.8 222.5 107.8 222.5 103.4 222.5 107.2 222.5 106.4 222.5 106 222.5 106.1 222.5 106 222.5 105.9 222.5 107.4 222.5 106.9 222.5 107.5 222.5 106.9 222.5 106 222.5 107.3 222.5 106.8 222.5 106.6 222.5 106.3 222.5 107.5 222.5 106.5 222.5 106 222.5 106.7 222.5 106.5 222.5 103.2 222.5 103.6 222.5 106.7 222.5 105.9 222.5 106.5 222.5 107.8 222.5 105.2 222.5 107.9 222.5 104.2 222.5 106.8 222.5 108.1 222.5 107.2 222.5 107.8 222.5 106.9 222.5 103.9 222.5 106.2 222.5 107.1 222.5 105.8 222.5 107.3 222.5 108 222.5 107.2 222.5 107.7 222.5 107.5 222.5 105.3 222.5 104.7 222.5 107.8 222.5 107.7 222.5 107.7 222.5 106.3 222.5 106.8 222.5 107.7 222.5 107.7 222.5 107.7 222.5 106.7 222.5 106.5 222.5 106.2 222.5 107.5 222.5 107.5 222.5 107.9 222.5 108 222.5 106.7 222.5 107.1 222.5 107.7 222.5 107.1 222.5 107.5 222.5 108.1 222.5 107.8 222.5 105.6 222.5 107.9 222.5 107.2 222.5 107.1 222.5 107.2 222.5 107.7 222.5 106.6 222.5 107.4 222.5 107.9 222.5 107.7 222.5 107.9 222.5 105.6 222.5 105.4 222.5 107 222.5 107.9 222.5 107.6 222.5 106.9 222.5 106.1 222.5 107 222.5 108 222.5 107.1 222.5 107.7 222.5 107.2 222.5 106.8 222.5 105.1 222.5 106.3 222.5 107.9 222.5 104.5 222.5 106.9 222.5 107.5 222.5 105.5 222.5 105.4 222.5 107.5 222.5 106.6 222.5 106.4 222.5 107.4 222.5 107.5 222.5 107 222.5 106.3 222.5 106.1 222.5 107.4 222.5 105.3 222.5 107.1 222.5 108 222.5 107.4 222.5 107.2 222.5 107.6 222.5 107.7 222.5 107.4 222.5 104.8 222.5 107.7 222.5 107.1 222.5 101.9 222.5 106.5 222.5 107.9 222.5 106.8 222.5 107.5 222.5 107.1 222.5 107.7 222.5 102.4 222.5 105.3 222.5 107.3 222.5 107 222.5 106 222.5 107.3 222.5 106.4 222.5 107.9 222.5 107.8 222.5 107.2 222.5 105.5 222.5 105.6 222.5 107.5 222.5 106.1 222.5 107.3 222.5 107 222.5 105.2 222.5 106.8 222.5 107.7 222.5 107.9 222.5 104.4 222.5 107.5 222.5 107.8 222.5 107 222.5 105.7 222.5 104.4 222.5 107.1 222.5 105.4 222.5 107.7 222.5 107.8 222.5 106.5 222.5 105.2 222.5 107 222.5 106.3 222.5 107.2 222.5 107.9 222.5 105.5 222.5 104.4 222.5 107.2 222.5 106.3 222.5 107.8 222.5 107.5 222.5 106.9 222.5 107.6 222.5 105.1 222.5 106.3 222.5 105.9 222.5 107.8 222.5 107.7 222.5 102.6 222.5 104.7 222.5 107.6 222.5 107.4 222.5 105.7 222.5 107.4 222.5 105.7 222.5 105 222.5 106.6 222.5 105.6 222.5 107.5 222.5 106.9 222.5 108.1 222.5 108.1 222.5 107.7 222.5 106.4 222.5 106.4 222.5 107.6 222.5 103.8 222.5 107.4 222.5 106.9 222.5 106.3 222.5 106.7 222.5 107.9 222.5 105.4 222.5 106.9 222.5 106.9 222.5 106.8 222.5 105.1 222.5 106.8 222.5 107.1 222.5 105.5 222.5 106 222.5 107.3 222.5 105.6 222.5 108 222.5 107.5 222.5 107.5 222.5 108 222.5 107.2 222.5 107.1 222.5 105.9 222.5 106.6 222.5 106 222.5 106.5 222.5 105.7 222.5 104.6 222.5 107.3 222.5 105.5 222.5 107.6 222.5 107.1 222.5 103.4 222.5 107 222.5 107.8 222.5 105.2 222.5 106.8 222.5 107 222.5 107.2 222.5 106 222.5 107.2 222.5 105.7 222.5 107.3 222.5 105.4 222.5 107.9 222.5 107.9 222.5 106.5 222.5 104.3 222.5 108 222.5 103.2 222.5 106.3 222.5 107.2 222.5 106.1 222.5 106.8 222.5 106.4 222.5 107 222.5 106.1 222.5 105.4 222.5 106.8 222.5 108 222.5 105.8 222.5 107.3 222.5 106.8 222.5 105.5 222.5 105.5 222.5 107.7 222.5 107.4 222.5 105.3 222.5 105.2 222.5 107.2 222.5 106.4 222.5 107.4 222.5 105.8 222.5 106.5 222.5 108.1 222.5 107.2 222.5 106.8 222.5 104.3 222.5 107.2 222.5 107.1 222.5 103 222.5 107.9 222.5 103.5 222.5 106.6 222.5 105 222.5 102.2 222.5 105.3 225.9 104.5 225.9 106.4 225.9 101.8 225.9 102.2 225.9 101.7 225.9 106.6 225.9 106.2 225.9 105.4 225.9 106 225.9 106.5 225.9 107.7 225.9 107.4 225.9 107.4 225.9 107.5 225.9 106.4 225.9 105.4 225.9 104.6 225.9 107 225.9 106 225.9 104.1 225.9 105.3 225.9 106.4 225.9 106.5 225.9 105.4 225.9 104.9 225.9 103.7 225.9 105.9 225.9 102.8 225.9 107.2 225.9 106.5 225.9 106.9 225.9 107.8 225.9 105.3 225.9 102.9 225.9 100.2 225.9 107.1 225.9 106.2 225.9 106.5 225.9 105 225.9 107.6 225.9 102.8 225.9 105.4 225.9 103.3 225.9 106.8 225.9 107.5 225.9 107.1 225.9 107.4 225.9 107.5 225.9 105.3 225.9 105.1 225.9 107.5 225.9 99.3 225.9 105.5 225.9 105 225.9 105.2 225.9 107.7 225.9 107.7 225.9 105.6 225.9 107.7 225.9 103.5 225.9 106.7 225.9 106.8 225.9 107.5 225.9 104.2 225.9 107.4 225.9 107.6 225.9 103.8 225.9 104.9 225.9 105.3 225.9 106 225.9 105.7 225.9 104.5 225.9 107.2 225.9 107.6 225.9 106.3 225.9 107 225.9 102.2 225.9 105.5 225.9 103 225.9 104 225.9 104.6 225.9 105.9 225.9 105.1 225.9 107.6 225.9 100.8 225.9 107.1 225.9 104.8 225.9 105.8 225.9 101.7 225.9 107.1 225.9 107.3 225.9 107 225.9 106.8 225.9 106.8 225.9 103.9 225.9 107.4 225.9 105.9 225.9 105.7 225.9 107.7 225.9 102.5 225.9 105.6 225.9 107.2 225.9 100 225.9 106.2 225.9 106.8 225.9 106.4 225.9 106.3 225.9 107.2 225.9 107.4 225.9 107.4 225.9 107.2 225.9 105.1 225.9 107 225.9 105.8 225.9 106.8 225.9 104.8 225.9 102.6 225.9 103.9 225.9 105.1 225.9 103.3 225.9 105.2 225.9 102 225.9 104.7 225.9 106.4 225.9 106.9 225.9 107.5 225.9 105.4 225.9 107.4 225.9 107.5 225.9 107.4 225.9 106.1 225.9 107.5 225.9 99.1 225.9 105.1 225.9 104.8 225.9 107.5 225.9 103.9 225.9 106.5 225.9 106.7 225.9 104.4 225.9 107.7 225.9 105.8 225.9 107.1 225.9 106.5 225.9 106.5 225.9 106.6 225.9 107.1 225.9 106.1 225.9 98.8 225.9 107.6 225.9 102 225.9 107.7 225.9 106.8 225.9 105.4 225.9 106.3 225.9 105.9 225.9 104 225.9 106.5 225.9 100.9 225.9 100.5 225.9 106.6 225.9 104.3 225.9 106 225.9 106.1 225.9 107 225.9 105.9 225.9 104.8 225.9 107.4 225.9 106.6 225.9 105.3 225.9 106 225.9 106.7 225.9 106.9 225.9 99.9 225.9 105.4 225.9 107.2 225.9 102.5 225.9 104.9 225.9 106.7 225.9 99.3 225.9 107.1 225.9 102.9 225.9 106.9 225.9 106.5 225.9 106.4 225.9 102.4 225.9 105.6 225.9 103.6 225.9 105.9 225.9 106.7 225.9 107.3 225.9 103.1 225.9 101.7 225.9 106.7 225.9 104.2 225.9 104.1 225.9 106.3 225.9 106.5 225.9 106.5 225.9 106.3 225.9 107.5 225.9 99 225.9 107.7 225.9 105 225.9 102.1 225.9 105.9 225.9 102.2 225.9 107 225.9 105.7 225.9 104.8 225.9 106.3 225.9 102.8 225.9 107.1 225.9 106.8 225.9 107.3 225.9 107 225.9 106.3 225.9 105.3 225.9 107.4 225.9 105.1 225.9 103.1 225.9 105 225.9 105.3 225.9 105.7 225.9 103.1 225.9 103.6 225.9 103.5 225.9 107.3 225.9 105.3 225.9 103.3 225.9 99.1 225.9 102.4 225.9 104.2 225.9 107 225.9 107.8 225.9 107.2 225.9 106.8 225.9 107.3 225.9 107.2 225.9 107.1 225.9 106.8 225.9 106.8 225.9 105.1 225.9 106.7 225.9 107.3 225.9 106.2 225.9 103.7 225.9 100.2 225.9 107.7 225.9 104.5 225.9 106.8 225.9 103.8 225.9 99.9 225.9 106.4 225.9 107.6 225.9 103.6 225.9 107.5 225.9 100.3 225.9 107.3 225.9 107 225.9 104 225.9 105.9 225.9 106.7 225.9 107.4 225.9 99.7 225.9 105.3 225.9 105.9 225.9 107.8 225.9 106.9 225.9 101.5 225.9 97.8 225.9 104.9 225.9 102.1 225.9 107.7 225.9 106.8 225.9 104.6 225.9 104.2 225.9 100.8 225.9 106.6 225.9 107.6 225.9 106.3 225.9 107.4 225.9 106.7 225.9 103.8 225.9 107.5 225.9 106.4 225.9 105.5 225.9 106.7 225.9 105.3 225.9 106.4 225.9 105.4 225.9 105 225.9 103.4 225.9 107.4 225.9 106.3 225.9 105.1 225.9 106.1 229.3 107.2 229.3 104.6 229.3 98.7 229.3 103.2 229.3 106.9 229.3 103.8 229.3 107.3 229.3 107.2 229.3 102.4 229.3 106.6 229.3 104.7 229.3 105.7 229.3 106.3 229.3 106.2 229.3 94.5 229.3 98.3 229.3 107.5 229.3 107.3 229.3 104.9 229.3 104.3 229.3 106.1 229.3 107.3 229.3 105.9 229.3 107.4 229.3 93.7 229.3 105.4 229.3 104.4 229.3 106.8 229.3 107.2 229.3 106.3 229.3 106 229.3 101.4 229.3 107 229.3 103.6 229.3 105.8 229.3 102.7 229.3 106.7 229.3 106.9 229.3 103.7 229.3 102.7 229.3 106.4 229.3 106.4 229.3 107 229.3 106.6 229.3 106.7 229.3 104.3 229.3 104.2 229.3 105.8 229.3 106.5 229.3 107.2 229.3 102.7 229.3 107 229.3 102.8 229.3 98.4 229.3 106.7 229.3 106.2 229.3 107.4 229.3 105.5 229.3 103.6 229.3 105.6 229.3 99.9 229.3 105.6 229.3 104.9 229.3 100.9 229.3 107.1 229.3 103.2 229.3 106.8 229.3 106.9 229.3 103.6 229.3 101.5 229.3 105.4 229.3 104.9 229.3 100.9 229.3 106.6 229.3 99.5 229.3 106.5 229.3 107.4 229.3 104.2 229.3 100.8 229.3 107 229.3 106 229.3 106.6 229.3 107.2 229.3 106.9 229.3 106 229.3 98.6 229.3 107.3 229.3 103.4 229.3 103.3 229.3 103.5 229.3 102.8 229.3 106.5 229.3 103.5 229.3 107.3 229.3 104.2 229.3 105.2 229.3 107.3 229.3 106.9 229.3 102.9 229.3 103.2 229.3 100 229.3 104 229.3 101.6 229.3 99.4 229.3 107.4 229.3 105.9 229.3 107 229.3 99.7 229.3 104.6 229.3 94.6 229.3 105.5 229.3 107.2 229.3 106.8 229.3 106.6 229.3 99.8 229.3 103.5 229.3 105.4 229.3 103.7 229.3 104.6 229.3 106 229.3 106.3 229.3 107.2 229.3 107.4 229.3 106.3 229.3 107 229.3 102.6 229.3 106.3 229.3 101.6 229.3 106.2 229.3 107.1 229.3 99.8 229.3 105.1 229.3 107.1 229.3 104.4 229.3 103.8 229.3 104.3 229.3 106.8 229.3 106.4 229.3 105.2 229.3 102 229.3 107.3 229.3 104.5 229.3 106.9 229.3 106.2 229.3 103.9 229.3 101.3 229.3 104.9 229.3 106.6 229.3 102.6 229.3 104.1 229.3 101.2 229.3 106.3 229.3 105.3 229.3 106.1 229.3 103 229.3 105.3 229.3 97.4 229.3 104.7 229.3 100.1 229.3 105 229.3 107.3 229.3 105.3 229.3 105.7 229.3 101.3 229.3 103.5 229.3 103.5 229.3 101.2 229.3 106.6 229.3 102.7 229.3 103.7 229.3 103.1 229.3 107.4 229.3 106.4 229.3 105.7 229.3 106.9 229.3 103.7 229.3 101.3 229.3 103.2 229.3 100.6 229.3 102.4 229.3 106 229.3 103.5 229.3 101.6 229.3 106.5 229.3 100.4 229.3 103.2 229.3 107 229.3 101.3 229.3 107.4 229.3 107 229.3 102 229.3 107 229.3 104.8 229.3 107 229.3 97.2 229.3 105.1 229.3 107 229.3 94.9 229.3 102.9 229.3 107.3 229.3 106.9 229.3 107.4 229.3 96.6 229.3 106.7 229.3 106.8 229.3 103.1 229.3 106.8 229.3 103.2 229.3 104.7 229.3 103.8 229.3 102.3 229.3 102.7 229.3 97.1 229.3 106.2 229.3 105.4 229.3 106.1 229.3 106.5 232.7 107.2 232.7 100.6 232.7 106.8 232.7 106.4 232.7 105.5 232.7 106.5 232.7 107.3 232.7 101.4 232.7 93.9 232.7 98.3 232.7 99.8 232.7 104.2 232.7 107.4 232.7 103.2 232.7 106.5 232.7 107 232.7 104.8 232.7 103.4 232.7 106.5 232.7 99.9 232.7 102.5 232.7 103.9 232.7 105.4 232.7 104.6 232.7 105.8 232.7 105.8 232.7 106.2 232.7 106.3 232.7 101.6 232.7 105.5 232.7 106 232.7 107.4 232.7 102.1 232.7 106.9 232.7 105.7 232.7 107.2 232.7 107.3 232.7 106.8 232.7 106.6 232.7 104.4 232.7 107 232.7 103.3 232.7 104.5 232.7 102.2 232.7 101 232.7 105 232.7 106.2 232.7 105.7 232.7 99.8 232.7 102.2 232.7 106.5 232.7 105.3 232.7 105.1 232.7 96.1 232.7 106.2 232.7 105.7 232.7 106 232.7 105.6 232.7 102.3 232.7 101.9 232.7 105.6 232.7 104.3 232.7 103.5 232.7 106.2 232.7 91.5 232.7 105.1 232.7 105.2 232.7 104.7 232.7 98.5 232.7 97.9 232.7 102.8 232.7 107.4 232.7 107.4 232.7 107.2 232.7 103.9 232.7 106.4 232.7 106.5 232.7 105.7 232.7 105.6 232.7 106.9 232.7 104 232.7 107.3 232.7 96 232.7 98.5 232.7 106.6 232.7 107.1 232.7 106.7 232.7 102.4 232.7 106 232.7 102.5 232.7 103.4 232.7 105 232.7 106.2 232.7 103 232.7 106.1 232.7 104 232.7 106.9 232.7 102.5 232.7 103.7 232.7 101.8 232.7 100.4 232.7 104.9 232.7 107 232.7 100 232.7 103.9 232.7 105.4 232.7 102.3 232.7 106.5 232.7 105.3 232.7 99.5 232.7 106.2 232.7 104.7 232.7 106.3 232.7 107.4 232.7 103.5 232.7 106.5 232.7 96.4 232.7 107.3 232.7 107.3 232.7 102.2 232.7 106.5 232.7 104.8 232.7 107.3 232.7 103.6 232.7 103.9 232.7 101.6 232.7 104.3 232.7 106.2 232.7 104.3 232.7 97 232.7 101 232.7 105.1 232.7 105.3 232.7 106.8 232.7 104.8 232.7 103.3 232.7 105.5 232.7 105.3 232.7 106.4 232.7 107 232.7 105.4 232.7 104.6 232.7 104.7 232.7 102.6 232.7 106.7 232.7 103.3 232.7 106.1 232.7 107.4 232.7 102.3 232.7 107.4 232.7 106.1 232.7 103.3 232.7 98.6 232.7 104.5 232.7 102.6 232.7 99.6 232.7 106.2 232.7 100.5 232.7 105 236.1 104.5 236.1 102.8 236.1 96.2 236.1 104.5 236.1 90.4 236.1 103.2 236.1 104.5 236.1 102.9 236.1 101.4 236.1 106.3 236.1 104 236.1 90.5 236.1 103.5 236.1 97.7 236.1 102.9 236.1 99.7 236.1 103.4 236.1 105.1 236.1 102.6 236.1 104.7 236.1 105.7 236.1 101.5 236.1 103.8 236.1 106.1 236.1 102.1 236.1 106.5 236.1 106.4 236.1 106.2 236.1 106.1 236.1 99.1 236.1 101.7 236.1 103 236.1 106 236.1 102.8 236.1 103.1 236.1 94.2 236.1 106.1 236.1 98.4 236.1 106.4 236.1 106.2 236.1 101 236.1 106.3 236.1 105.8 236.1 102.4 236.1 104.7 236.1 105.2 236.1 98.9 236.1 105.1 236.1 104.9 236.1 104.8 236.1 102.9 236.1 105 236.1 103.6 236.1 105.8 236.1 106.2 236.1 104.8 236.1 105.6 236.1 100.5 236.1 97.6 236.1 104.7 236.1 98.1 236.1 103.8 236.1 98.6 236.1 105.8 236.1 105.6 236.1 106.3 236.1 94.5 236.1 100.8 236.1 104.8 236.1 105.4 236.1 105.5 236.1 103.6 236.1 102.8 236.1 100.4 236.1 100.8 236.1 103.5 236.1 100.6 236.1 105.1 236.1 100.2 236.1 102.7 236.1 104.9 236.1 106.2 236.1 94.7 236.1 105.4 236.1 103.7 236.1 106.3 236.1 104.3 236.1 103.3 236.1 104.3 236.1 104.5 236.1 104.2 236.1 101.4 236.1 95.7 236.1 99.9 236.1 106.7 236.1 105.6 236.1 98.6 236.1 103.9 236.1 92.3 236.1 102.7 236.1 102.6 236.1 105.9 236.1 95.2 236.1 102.1 236.1 96.2 236.1 97.1 236.1 97.7 236.1 93.9 236.1 106.4 236.1 106.3 239.5 103.8 239.5 105.4 239.5 106.5 239.5 101.4 239.5 103.3 239.5 104.7 239.5 106.6 239.5 96.7 239.5 104.2 239.5 105.8 239.5 106.5 239.5 102.4 239.5 106 239.5 95.9 239.5 102.6 239.5 105.6 239.5 106.4 239.5 102.1 239.5 102.5 239.5 104.9 239.5 103 239.5 101.3 239.5 98.4 239.5 97.8 239.5 103.1 239.5 106.3 239.5 105.7 239.5 99 239.5 97 239.5 104.3 239.5 105.2 239.5 99.8 239.5 98.2 239.5 93.4 239.5 101.4 239.5 101.5 239.5 104.3 239.5 102.8 239.5 104.6 239.5 105.3 239.5 98.3 239.5 104.9 239.5 103.9 239.5 104.2 239.5 98.3 239.5 105.8 239.5 102.9 239.5 105.9 239.5 105.7 239.5 105.2 239.5 103 239.5 103.9 239.5 103.2 239.5 103.3 239.5 101.6 239.5 105.3 239.5 106.3 239.5 102.7 239.5 95.4 239.5 103.2 239.5 104.8 239.5 96.8 239.5 105.2 239.5 102.3 239.5 104.1 239.5 105 239.5 102.6 239.5 101 239.5 102.8 239.5 102.1 239.5 92.9 239.5 103.2 239.5 104.5 239.5 106.5 239.5 105.8 239.5 104.5 239.5 89.8 239.5 103.9 239.5 105 239.5 96.9 242.9 96.9 242.9 96 242.9 105.6 242.9 101.9 242.9 105.9 242.9 95.4 242.9 95 242.9 104.8 242.9 103.7 242.9 104.2 242.9 105.3 242.9 104.2 242.9 98.8 242.9 104.5 242.9 96.1 242.9 105.7 242.9 104.5 242.9 95.7 242.9 102.8 242.9 103.5 242.9 101.1 242.9 97.9 242.9 101.3 242.9 105.6 242.9 103.3 242.9 96 242.9 105 242.9 103.4 242.9 104.1 242.9 105.4 242.9 104.5 242.9 103.5 242.9 97.9 242.9 104.7 242.9 97.6 242.9 102.4 242.9 103.4 242.9 105.1 242.9 102.7 242.9 104.7 242.9 104.1 242.9 105.2 242.9 97.9 242.9 101.3 242.9 96 242.9 105 242.9 104.9 242.9 95.9 242.9 104.8 242.9 99.3 242.9 101.3 242.9 102.8 242.9 105.2 242.9 105.6 246.3 104 246.3 97.5 246.3 103.9 246.3 104.7 246.3 104.5 246.3 104.7 246.3 89.1 246.3 96.3 246.3 79.4 246.3 103.1 246.3 96.6 246.3 103.8 246.3 99.5 246.3 101.8 246.3 97.8 246.3 86.4 246.3 105.9 246.3 105.8 246.3 105.9 246.3 94.6 246.3 103.2 246.3 99.9 246.3 102.8 246.3 104.2 246.3 101.2 246.3 86.5 246.3 100.6 246.3 97.9 246.3 105.1 246.3 104.9 246.3 97.1 246.3 100.4 246.3 105.7 246.3 95.6 246.3 102.1 246.3 103.9 246.3 103.2 246.3 104.2 249.7 102.4 249.7 105.5 249.7 93.7 249.7 99.4 249.7 102.4 249.7 101.8 249.7 99.5 249.7 98.2 249.7 103.4 249.7 104.7 249.7 99.6 249.7 105.4 249.7 98.7 249.7 101.6 249.7 105.5 249.7 104.8 249.7 98.5 249.7 100.9 249.7 92.5 249.7 100.6 249.7 99.5 249.7 99.4 249.7 103.1 249.7 96.6 249.7 105 249.7 98.7 249.7 103.1 253.1 75.3 253.1 102.8 253.1 86.1 253.1 78.7 253.1 104.9 253.1 104.2 253.1 105 253.1 97.2 253.1 100.9 253.1 101 253.1 99.2 253.1 103.9 253.1 77.8 253.1 102.6 253.1 103.9 253.1 103.5 253.1 105.1 253.1 97.2 253.1 103.8 253.1 92.6 256.5 103.1 256.5 98.4 256.5 99.1 256.5 76.9 256.5 100.2 256.5 97.6 256.5 97 256.5 102.4 256.5 100.7 256.5 95 256.5 98.9 256.5 102.9 256.5 96.4 256.5 92.9 259.9 85.6 259.9 101.5 259.9 95.1 259.9 97.6 259.9 97.8 259.9 94.1 259.9 103.9 259.9 95.2 259.9 103.1 259.9 103.7 225.9 99.2 225.9 105 225.9 105.4 225.9 99.6 229.3 101.1 229.3 99.9 229.3 98.5 229.3 99.3 229.3 97.1 229.3 100.1 232.7 93.1 232.7 98.8 232.7 101.3 232.7 93.3 232.7 91.2 232.7 92.4 232.7 101.9 232.7 97.1 236.1 92.9 236.1 93.8 236.1 90.1 236.1 87.6 236.1 93.1 236.1 89.3 236.1 97.3 236.1 94.7 239.5 85.6 239.5 98.7 239.5 91.8 239.5 90.8 239.5 97 239.5 88.5 239.5 88.3 239.5 91.2 239.5 98.8 242.9 95.9 242.9 89.4 242.9 96.4 242.9 86 242.9 85.4 242.9 99.4 242.9 87.7 242.9 86.4 242.9 87 246.3 81.1 246.3 83.9 246.3 97.2 246.3 94.2 246.3 84 246.3 81.1 246.3 95.6 246.3 90 246.3 98.2 249.7 79.9 249.7 77 249.7 98.5 249.7 76.8 249.7 91.7 249.7 89.7 249.7 88.4 249.7 74.8 253.1 88.3 253.1 74.4 253.1 68.3 253.1 77.9 253.1 78.4 253.1 78.3 253.1 82.1 256.5 96 256.5 84.2 256.5 85.3 256.5 90.9 256.5 73.8 256.5 90.8 259.9 87.6 259.9 90.7 259.9 82.8 259.9 80 259.9 64.1 263.3 101.7 263.3 93.6 263.3 100 266.7 95.6 266.7 101.1 266.7 98.2 273.5 90.5 273.5 87.4 273.5 85.7 273.5 92.4 273.5 92.9 273.5 96.5 273.5 95.4 283.7 97.1 283.7 100 283.7 98.5 283.7 99.7 287.1 98.8 287.1 100.2 283.7 86.8 293.9 99.9 259.9 105.3 263.3 105 266.7 104.4 256.5 103.9 270.1 99.7 276.9 46.1 304.1 72 321.1 73.4 321.1 72.5 321.1 72 321.1 73.5 321.1 74 321.1 73 327.9 73.4 327.9 66.1 327.9 70.7 327.9 67.2 327.9 65.3 327.9 68.6 327.9 65.1 327.9 68.9 331.3 83.1 331.3 81.4 331.3 81.9 331.3 82 331.3 81.5 331.3 79.9 358.6 13.6 358.6 13.7 358.6 16.4 358.6 13.8 358.6 13.7 358.6 16.2 358.6 12.8 358.6 15.4 358.6 13.3 358.6 15 362 13.2 362 12.1 362 11.6 362 14.2 362 11.9 362 15 362 14.5 362 13.7 362 15.6 362 11.2 362 13 362 14.7 362 12.3 362 14.2 365.4 13.3 365.4 12.5 365.4 13.1 365.4 13.1 365.4 9.9 365.4 13.8 365.4 11.7 365.4 11.6 365.4 11.7 365.4 9.7"/>
<path clip-path="url(#c2)" class="m" d="M392.3 108.1 392.3 107.7 392.3 106.5 392.3 105.5 392.3 107.8 392.3 107.9 392.3 107.7 392.3 108.1 392.3 107 392.3 108.1 392.3 107.7 392.3 104.1 392.3 107.9 392.3 106.6 392.3 107.6 392.3 105.7 392.3 107.1 392.3 106.4 392.3 107.9 392.3 108 392.3 108.2 392.3 106.8 392.3 107.1 392.3 106.7 392.3 107.4 392.3 107.5 392.3 107.5 392.3 107.5 392.3 108.2 392.3 105.6 392.3 106.5 392.3 108.1 392.3 106.4 392.3 104.5 392.3 108 392.3 107.3 392.3 108.1 392.3 106.7 392.3 105.6 392.3 107.1 392.3 106.6 392.3 106.8 392.3 107.3 392.3 106 392.3 107.7 392.3 105.7 392.3 108 392.3 105.3 392.3 107.3 392.3 107.6 392.3 108 392.3 104.4 392.3 108.1 392.3 106.4 392.3 107.5 392.3 105.1 392.3 106.8 392.3 108 392.3 108 392.3 106 392.3 107.7 392.3 104.8 392.3 106.9 392.3 107.6 392.3 104.1 392.3 108.1 392.3 106.9 392.3 107.2 392.3 108.1 392.3 108 392.3 108.1 392.3 107.8 392.3 107.8 392.3 107.8 392.3 107.5 392.3 108 392.3 105.2 392.3 107 392.3 106.1 392.3 105.7 392.3 108.1 392.3 107.1 392.3 107 392.3 108.2 392.3 104.1 392.3 108.1 392.3 107.1 392.3 104.4 392.3 107.7 392.3 107.5 392.3 106.2 392.3 108 392.3 107.3 392.3 107.6 392.3 106.4 392.3 106.9 392.3 107.2 392.3 107 392.3 108.2 392.3 105.6 392.3 107.5 392.3 104.8 392.3 106.8 392.3 105.2 392.3 104.5 392.3 106.7 392.3 107.7 392.3 107.7 392.3 107.5 392.3 108 392.3 105.6 392.3 108.1 392.3 106.8 392.3 107.1 392.3 106.1 392.3 106.8 392.3 107.6 392.3 107.2 392.3 106.7 392.3 106.5 392.3 108 392.3 107.9 392.3 105.8 392.3 107.5 392.3 107.8 392.3 107.8 392.3 107.1 392.3 106.2 392.3 108 392.3 108 392.3 107.5 392.3 106.7 392.3 107.3 392.3 107.6 392.3 105 392.3 107.8 392.3 107.8 392.3 107.7 392.3 106.3 392.3 106.9 392.3 106.1 392.3 106.9 392.3 108.1 392.3 108.1 392.3 106 392.3 107.7 392.3 106.7 392.3 106.9 392.3 107.9 392.3 106.7 392.3 107.9 392.3 105.8 392.3 104.6 392.3 106.7 392.3 108.2 392.3 108.1 392.3 107.2 392.3 107 392.3 107.5 392.3 106.5 392.3 105.6 392.3 107.6 392.3 106.6 392.3 107.8 392.3 106.9 392.3 106.5 392.3 107.1 392.3 107.6 392.3 107.4 392.3 108.1 392.3 106.1 392.3 106.1 392.3 107.4 392.3 106.7 392.3 108.2 392.3 107.7 392.3 105.5 392.3 107.3 392.3 107.3 392.3 105.8 392.3 105.2 392.3 106.6 392.3 107.9 392.3 107 392.3 107.6 392.3 103.9 392.3 107.2 392.3 105.6 392.3 106.5 392.3 108.1 392.3 106 392.3 106.2 392.3 105.6 392.3 106.8 392.3 105.6 392.3 107.1 392.3 107.3 392.3 108.1 392.3 106.4 392.3 105.7 392.3 106 392.3 107.9 392.3 108.1 392.3 104.5 392.3 106.9 392.3 106.9 392.3 106.9 392.3 107.2 392.3 108.1 392.3 105.9 392.3 106.5 392.3 108.2 392.3 106.6 392.3 107.9 392.3 107.5 392.3 107.3 392.3 107.6 392.3 105.7 392.3 107.1 392.3 107 392.3 107.9 392.3 107.1 392.3 103.7 392.3 105.4 392.3 107.9 392.3 107.6 392.3 105.8 392.3 107.8 392.3 107.6 392.3 107.3 392.3 107.6 392.3 107.9 392.3 105.3 392.3 107.6 392.3 106.8 392.3 108.1 392.3 105 392.3 104.6 392.3 105.9 392.3 107.4 392.3 107.5 392.3 105.2 392.3 107.8 392.3 108.1 392.3 108.2 392.3 104.5 392.3 103.8 392.3 107.9 392.3 107.9 392.3 108.2 392.3 106.5 392.3 107 392.3 104.6 392.3 108 392.3 107.8 392.3 107.4 392.3 106.8 392.3 107.9 392.3 104.2 392.3 107.6 392.3 106.6 392.3 107.4 392.3 107.5 392.3 106.1 392.3 106.8 392.3 104.4 392.3 108.2 392.3 106.6 392.3 107.4 392.3 108 392.3 107.8 392.3 106.3 392.3 106.7 392.3 107.8 392.3 107.1 392.3 106.7 392.3 107.7 392.3 108.2 392.3 107.7 392.3 106.8 392.3 107.1 392.3 107.2 392.3 106.6 392.3 103.9 392.3 106.6 392.3 107.7 392.3 108 392.3 104.2 392.3 107.2 392.3 107.1 392.3 107.8 392.3 108.1 392.3 107.4 392.3 107.2 392.3 107.7 392.3 108.1 392.3 106.6 392.3 107.9 392.3 105.6 392.3 108.1 392.3 106.7 392.3 108.1 392.3 105.3 392.3 108.2 392.3 107.8 392.3 106.8 392.3 107.7 392.3 106.3 392.3 108.2 392.3 107.6 392.3 106.6 392.3 108.2 392.3 107.6 392.3 107.9 392.3 107.8 392.3 107.5 392.3 108.1 392.3 107.6 392.3 107.5 392.3 107.8 392.3 105 392.3 107.5 392.3 107.2 392.3 107.3 392.3 107.6 392.3 107.3 392.3 108.2 392.3 107.6 392.3 107.5 392.3 108.1 392.3 107.3 392.3 108 392.3 103.8 392.3 107.3 392.3 108.2 392.3 108.1 392.3 107.7 392.3 107.1 392.3 103.7 392.3 105.1 392.3 106.5 392.3 108.1 392.3 107.4 392.3 107 392.3 107.4 392.3 106.6 392.3 107.5 392.3 105.4 392.3 107 392.3 107.4 392.3 106.2 392.3 107.7 392.3 103.6 392.3 108 392.3 108 392.3 107.2 392.3 106.5 392.3 107.7 392.3 107.7 392.3 105.2 392.3 108.2 392.3 108 392.3 104.9 392.3 105.5 392.3 107.4 392.3 107.9 392.3 107 392.3 106.5 392.3 107.7 392.3 106.6 392.3 107.3 392.3 104.8 392.3 107.7 392.3 108.2 392.3 108.1 392.3 107.9 392.3 107.3 392.3 107.5 392.3 107.4 392.3 107.9 392.3 108.2 392.3 107.9 392.3 107 392.3 107.9 392.3 107.6 392.3 107.8 392.3 107.9 392.3 107.2 392.3 107.7 392.3 107.3 392.3 106.4 392.3 106.7 392.3 107.9 392.3 107.6 392.3 107.4 392.3 105.8 392.3 106.8 392.3 106.1 392.3 106.6 392.3 104.8 392.3 107.4 392.3 107.4 392.3 108.2 392.3 108.1 392.3 108.2 392.3 108.2 392.3 106.6 392.3 108 392.3 107.7 392.3 107.2 392.3 107.8 392.3 108.2 392.3 107.6 392.3 106.4 392.3 107.5 392.3 107.5 392.3 106.9 392.3 106.6 392.3 105.4 392.3 108.1 392.3 107.5 392.3 107.4 392.3 107.4 392.3 106.5 392.3 106.4 392.3 106.4 392.3 108.2 392.3 107.7 392.3 108.2 392.3 107.4 392.3 103.9 392.3 107.5 392.3 108 392.3 108.1 392.3 106.5 392.3 107.1 392.3 105.4 392.3 104.9 395.8 107.8 395.8 107.8 395.8 102.4 395.8 108.1 395.8 107.2 395.8 106.7 395.8 105.8 395.8 104.2 395.8 108 395.8 107.3 395.8 107.5 395.8 107.4 395.8 107.4 395.8 108.1 395.8 107.7 395.8 106.2 395.8 107.7 395.8 105 395.8 102.7 395.8 107.2 395.8 107.5 395.8 104 395.8 107.4 395.8 106.3 395.8 107.5 395.8 106.2 395.8 104.2 395.8 103.7 395.8 105.2 395.8 105.8 395.8 106.4 395.8 107.6 395.8 107.5 395.8 107.3 395.8 107.3 395.8 104.6 395.8 107.7 395.8 103.2 395.8 107.6 395.8 106.8 395.8 105.2 395.8 105.5 395.8 107.5 395.8 106.6 395.8 105.6 395.8 106.8 395.8 105.7 395.8 108 395.8 107.8 395.8 107.9 395.8 108 395.8 105.8 395.8 103.3 395.8 105.7 395.8 107.7 395.8 107.4 395.8 105.3 395.8 106.3 395.8 108 395.8 106.7 395.8 105.2 395.8 107.8 395.8 106.7 395.8 107.3 395.8 107.7 395.8 105.6 395.8 107.2 395.8 107.4 395.8 107.8 395.8 107.4 395.8 108 395.8 107.2 395.8 107.3 395.8 108.1 395.8 106.1 395.8 107.5 395.8 108 395.8 104.8 395.8 106.3 395.8 103.8 395.8 105 395.8 107.2 395.8 108 395.8 102.8 395.8 107.8 395.8 108.1 395.8 105.9 395.8 107.8 395.8 105.6 395.8 106.8 395.8 106.6 395.8 104.4 395.8 105.2 395.8 106.8 395.8 103.3 395.8 105.1 395.8 107.6 395.8 107.7 395.8 107.1 395.8 106.6 395.8 107.9 395.8 107 395.8 107.1 395.8 106.9 395.8 107.5 395.8 107.9 395.8 104 395.8 105.6 395.8 106.4 395.8 105.5 395.8 107.3 395.8 108 395.8 105.8 395.8 107.7 395.8 107.5 395.8 106.9 395.8 107.6 395.8 106.8 395.8 104.4 395.8 105.8 395.8 107.3 395.8 107.7 395.8 106.2 395.8 107.9 395.8 107.3 395.8 107.8 395.8 107.2 395.8 107.3 395.8 107.6 395.8 108 395.8 106 395.8 105 395.8 103.7 395.8 107.5 395.8 105.5 395.8 107.6 395.8 107.8 395.8 104.6 395.8 105.4 395.8 105.7 395.8 107.1 395.8 106 395.8 105.3 395.8 105.5 395.8 107.2 395.8 107.7 395.8 106.3 395.8 107.8 395.8 107.3 395.8 107.5 395.8 104.8 395.8 108 395.8 108.1 395.8 106.8 395.8 107.1 395.8 106.8 395.8 106.6 395.8 106.1 395.8 106.8 395.8 108 395.8 105.3 395.8 104.2 395.8 105.5 395.8 104.3 395.8 106.7 395.8 108.1 395.8 107.2 395.8 107.6 395.8 105.3 395.8 107.4 395.8 106.1 395.8 108 395.8 106.7 395.8 107.2 395.8 106.5 395.8 107.4 395.8 107.3 395.8 105.8 395.8 107.5 395.8 108.1 395.8 106.4 395.8 105.8 395.8 104.5 395.8 105.1 395.8 107.9 395.8 107.8 395.8 108 395.8 102.1 395.8 107.5 395.8 107.5 395.8 106.9 395.8 105.3 395.8 106.5 395.8 107.4 395.8 107.4 395.8 107.7 395.8 107.6 395.8 106.9 395.8 107.8 395.8 107.4 395.8 107.6 395.8 106.3 395.8 108 395.8 106.4 395.8 106.8 395.8 105.2 395.8 106 395.8 104.3 395.8 107.3 395.8 107.4 395.8 105.9 395.8 107.3 395.8 107.4 395.8 107.8 395.8 107.9 395.8 106 395.8 106.2 395.8 101.5 395.8 107.1 395.8 103.7 395.8 105.9 395.8 107.1 395.8 108 395.8 107.6 395.8 105.7 395.8 107.5 395.8 106.9 395.8 107.3 395.8 107.5 395.8 107.7 395.8 107.7 395.8 104.9 395.8 107.5 395.8 107.8 395.8 108 395.8 107.2 395.8 106 395.8 106.6 395.8 107.3 395.8 102.3 395.8 107.8 395.8 107.4 395.8 107.9 395.8 107.7 395.8 104.3 395.8 108 395.8 106.7 395.8 106.9 395.8 107.3 395.8 107.3 395.8 107.1 395.8 107.7 395.8 106.7 395.8 106.9 395.8 107.6 395.8 107.5 395.8 108 395.8 107.7 395.8 107.9 395.8 104.4 395.8 107.3 395.8 104.8 395.8 107.6 395.8 105.5 395.8 106.1 395.8 103.5 395.8 108 395.8 104.2 395.8 107.5 395.8 107.3 395.8 107.2 395.8 107.8 395.8 106.6 395.8 107.2 395.8 105.6 395.8 107.9 395.8 107.2 395.8 107.5 395.8 107.9 395.8 106.9 395.8 107.5 395.8 107.9 395.8 105.9 395.8 105.7 395.8 104.6 395.8 107.5 395.8 107.4 395.8 106.3 395.8 106.1 395.8 107.9 395.8 107.7 395.8 107.6 395.8 106.5 395.8 107.1 395.8 107.1 395.8 107.8 395.8 104 395.8 106.6 395.8 106.8 395.8 106.3 395.8 108.1 395.8 105.9 395.8 104.9 395.8 102.3 395.8 105.1 395.8 108 395.8 106.2 395.8 107.5 395.8 107.3 395.8 105.9 395.8 107.4 395.8 106.5 395.8 107.6 395.8 102.9 395.8 104.5 395.8 106 395.8 105.7 395.8 107.7 395.8 106.8 395.8 105.3 395.8 106.8 395.8 106.6 395.8 104.3 395.8 107.4 395.8 107.4 395.8 102.3 395.8 107.5 395.8 105.8 395.8 107.9 395.8 106.8 395.8 107.7 395.8 107.9 395.8 105.4 395.8 105.8 395.8 105.3 395.8 107.5 395.8 108 395.8 105.6 395.8 107.7 395.8 106.2 395.8 104.9 395.8 107.1 395.8 106.8 395.8 105.4 395.8 107.7 395.8 107.5 395.8 103.8 395.8 104.4 395.8 108 395.8 106.9 395.8 107.9 395.8 106.8 395.8 105.6 395.8 104 395.8 107 395.8 105.2 395.8 108 395.8 106.2 395.8 103.4 395.8 107.2 395.8 104.8 395.8 106.6 395.8 107.3 395.8 107.8 395.8 101.5 395.8 108.1 395.8 107.6 395.8 107.6 395.8 107.3 395.8 108 395.8 106.1 395.8 107.5 395.8 107.6 395.8 106.3 395.8 106.1 399.2 107.1 399.2 106.2 399.2 105 399.2 106 399.2 105.9 399.2 105.6 399.2 106.8 399.2 103.7 399.2 101.1 399.2 106.5 399.2 107.4 399.2 104.2 399.2 105.5 399.2 102.8 399.2 106.9 399.2 105.9 399.2 101.2 399.2 105.6 399.2 105 399.2 98.7 399.2 106.8 399.2 105.7 399.2 106.1 399.2 107.6 399.2 103 399.2 105.7 399.2 105.3 399.2 98 399.2 104.8 399.2 102.9 399.2 107.4 399.2 103.5 399.2 101.4 399.2 105.5 399.2 107.1 399.2 102.5 399.2 106.4 399.2 107.1 399.2 106.3 399.2 107.4 399.2 107 399.2 107.7 399.2 105.2 399.2 105.3 399.2 104.8 399.2 104.9 399.2 106.9 399.2 105.5 399.2 107.6 399.2 104.6 399.2 106.9 399.2 107.3 399.2 106.4 399.2 106.8 399.2 105.8 399.2 104.1 399.2 105.7 399.2 105.8 399.2 100.4 399.2 106.9 399.2 102.4 399.2 106.1 399.2 103.7 399.2 105.2 399.2 107.3 399.2 106.8 399.2 105.6 399.2 106.7 399.2 104.9 399.2 106.9 399.2 106.1 399.2 107.5 399.2 107.6 399.2 107.2 399.2 107.6 399.2 104.9 399.2 106.7 399.2 106.1 399.2 103.9 399.2 107.4 399.2 102 399.2 103.3 399.2 103.5 399.2 104.4 399.2 107.4 399.2 105.9 399.2 105.7 399.2 102.4 399.2 107.7 399.2 105.7 399.2 104.1 399.2 105.3 399.2 107.4 399.2 106.6 399.2 107.7 399.2 104.9 399.2 107.6 399.2 105.9 399.2 106.9 399.2 106.1 399.2 102.9 399.2 106.5 399.2 106.2 399.2 105.3 399.2 105 399.2 103.1 399.2 107.2 399.2 101.6 399.2 106.9 399.2 107.3 399.2 106.4 399.2 106.4 399.2 103.9 399.2 106.6 399.2 104.3 399.2 105.2 399.2 101.6 399.2 104.5 399.2 103.7 399.2 105.3 399.2 103.6 399.2 104.4 399.2 102.6 399.2 106.9 399.2 107.2 399.2 105.8 399.2 106.9 399.2 103 399.2 104.8 399.2 106.6 399.2 104.5 399.2 106.7 399.2 106.8 399.2 105.1 399.2 103.8 399.2 105.8 399.2 107.3 399.2 104.6 399.2 107.1 399.2 103.2 399.2 107.2 399.2 103.5 399.2 106.5 399.2 106.4 399.2 105.8 399.2 105.9 399.2 103.3 399.2 107.2 399.2 101.5 399.2 105.6 399.2 106.1 399.2 106.2 399.2 107.6 399.2 107.4 399.2 106.6 399.2 100.5 399.2 101.9 399.2 107.7 399.2 107.4 399.2 107.5 399.2 97.7 399.2 105.3 399.2 106.1 399.2 107.4 399.2 101.7 399.2 107.2 399.2 104.4 399.2 105.3 399.2 99.1 399.2 107 399.2 106.9 399.2 106.6 399.2 106.2 399.2 106 399.2 107.7 399.2 102.2 399.2 104.4 399.2 104.2 399.2 102.1 399.2 102.9 399.2 105.7 399.2 101.6 399.2 106.2 399.2 102.6 399.2 107.7 399.2 107.7 399.2 107.5 399.2 103.2 399.2 104.4 399.2 107.7 399.2 106.6 399.2 103.7 399.2 106.2 399.2 103.7 399.2 107.2 399.2 107.7 399.2 106.8 399.2 107.4 399.2 104.9 399.2 103.8 399.2 107.2 399.2 107.5 399.2 107.4 399.2 107.5 399.2 104.5 399.2 107.2 399.2 107.2 399.2 106.8 399.2 107.2 399.2 106.2 399.2 103.1 399.2 104.3 399.2 103.8 399.2 104.8 399.2 107.7 399.2 106.5 399.2 104 399.2 107.3 399.2 105.6 399.2 106.7 399.2 105.5 399.2 105.6 399.2 107.6 399.2 106.3 399.2 106.5 399.2 105.9 399.2 106.2 399.2 105.2 399.2 102.1 399.2 106.4 399.2 105.7 399.2 103.4 399.2 106.9 399.2 107 399.2 107.3 399.2 107.2 399.2 106 399.2 102.4 399.2 105.5 399.2 102.4 399.2 101.1 399.2 104.7 399.2 102.7 399.2 97 399.2 105.5 399.2 102.1 399.2 107 399.2 107.4 399.2 107.1 399.2 103.2 399.2 107.4 399.2 107.6 399.2 106.6 399.2 104.7 399.2 107 399.2 106.8 399.2 104.6 399.2 103.7 399.2 103.3 399.2 102.3 399.2 105.1 399.2 103.9 399.2 106.8 399.2 107.2 399.2 105.9 399.2 104 399.2 100.9 399.2 103.7 399.2 107 399.2 106.2 399.2 104.2 399.2 103.4 399.2 106.9 399.2 105.7 399.2 103.4 399.2 103.9 399.2 101.1 399.2 105.9 399.2 99.5 399.2 105.2 399.2 105.7 399.2 105.2 399.2 107.6 399.2 107.2 399.2 104.1 399.2 104.5 399.2 104.5 399.2 105 399.2 107.5 399.2 105.2 399.2 107.4 399.2 106.1 399.2 105.6 399.2 107.6 399.2 103.7 399.2 107.1 399.2 106.6 402.7 105.4 402.7 107.1 402.7 106.9 402.7 106.4 402.7 106.7 402.7 104.2 402.7 97.3 402.7 106.5 402.7 104.2 402.7 103.2 402.7 103.9 402.7 107 402.7 98.5 402.7 107.1 402.7 103.2 402.7 99.6 402.7 106.4 402.7 102.8 402.7 107.1 402.7 102.8 402.7 105.8 402.7 106.7 402.7 106.5 402.7 100.2 402.7 95.9 402.7 99.3 402.7 105 402.7 103.6 402.7 104.1 402.7 106 402.7 104.4 402.7 107.3 402.7 105.8 402.7 103.2 402.7 102.7 402.7 106.9 402.7 104.6 402.7 104.2 402.7 107.1 402.7 107 402.7 106.9 402.7 102.7 402.7 101.7 402.7 105.4 402.7 104.2 402.7 105.5 402.7 103.1 402.7 101.6 402.7 107.3 402.7 93.8 402.7 106.9 402.7 106.6 402.7 106.8 402.7 100.6 402.7 103.4 402.7 103.3 402.7 107.3 402.7 106.1 402.7 102.6 402.7 106.6 402.7 106.4 402.7 107.1 402.7 105.8 402.7 106.3 402.7 106.4 402.7 104.4 402.7 104.3 402.7 102.8 402.7 107.1 402.7 107.3 402.7 106.8 402.7 106.4 402.7 100.2 402.7 106.3 402.7 107 402.7 101 402.7 107 402.7 105.7 402.7 99.4 402.7 106.1 402.7 107.1 402.7 107.4 402.7 106.2 402.7 105.3 402.7 105.8 402.7 107.3 402.7 106.7 402.7 101.3 402.7 102.8 402.7 106.7 402.7 102.3 402.7 100.2 402.7 107 402.7 106.5 402.7 105.6 402.7 104 402.7 100.1 402.7 106.9 402.7 106.5 402.7 104.8 402.7 100.8 402.7 105.3 402.7 104.6 402.7 107 402.7 107.3 402.7 105.5 402.7 102.2 402.7 100.2 402.7 106 402.7 106.3 402.7 105.6 402.7 106 402.7 107.1 402.7 103.2 402.7 99.9 402.7 106.9 402.7 104.7 402.7 107.2 402.7 106.6 402.7 101.1 402.7 106.1 402.7 105.5 402.7 104.9 402.7 106.4 402.7 102.9 402.7 104 402.7 96.4 402.7 105.6 402.7 104.1 402.7 100.7 402.7 103 402.7 105 402.7 97.7 402.7 97.8 402.7 106.6 402.7 107.4 402.7 104.3 402.7 107.2 402.7 100.5 402.7 104 402.7 99.3 402.7 103.7 402.7 97.8 402.7 104.1 402.7 102.3 402.7 105 402.7 107.3 402.7 105.3 402.7 106.2 402.7 104.1 402.7 105 402.7 106.1 402.7 105.7 402.7 106.1 402.7 99.3 402.7 101.4 402.7 96.7 402.7 106.7 402.7 104.6 402.7 102.6 402.7 99.6 402.7 106.2 402.7 104.6 402.7 107.2 402.7 106.1 402.7 103.8 402.7 98.6 402.7 106.1 402.7 104.7 402.7 105.1 402.7 104 402.7 104.7 402.7 105.7 402.7 94.8 402.7 107.1 402.7 105.2 402.7 106.7 402.7 102.7 402.7 106.8 402.7 102.2 402.7 96.5 402.7 98.2 402.7 106.3 402.7 107 402.7 105.1 402.7 99.8 402.7 104.6 402.7 104.6 402.7 107.3 402.7 103.7 402.7 106.8 402.7 107.4 402.7 107.4 402.7 96.3 402.7 105.4 402.7 105.5 402.7 100.9 402.7 107.4 402.7 106.7 402.7 106.1 402.7 104.7 402.7 104.4 402.7 105.9 402.7 102.2 402.7 105.4 402.7 105.3 402.7 105.6 402.7 103.8 402.7 107.4 402.7 100.6 402.7 105.4 402.7 101.8 402.7 105.9 402.7 107 402.7 106.2 402.7 102 402.7 101.6 402.7 105.1 402.7 98.8 402.7 104.5 402.7 100.9 402.7 107 402.7 103.9 402.7 104.9 406.2 104.9 406.2 106.6 406.2 106.1 406.2 106.6 406.2 105 406.2 98.2 406.2 103.2 406.2 106.2 406.2 106.3 406.2 106.5 406.2 106.4 406.2 98 406.2 107.1 406.2 107.3 406.2 106.5 406.2 106.1 406.2 106.5 406.2 106.8 406.2 106 406.2 97.5 406.2 105 406.2 100.3 406.2 104.7 406.2 100.4 406.2 105.4 406.2 107.3 406.2 99.9 406.2 106.6 406.2 107.2 406.2 92 406.2 104.5 406.2 92 406.2 100.2 406.2 104.2 406.2 101.4 406.2 102 406.2 107.5 406.2 101 406.2 104.1 406.2 106.4 406.2 106.1 406.2 105.9 406.2 89.7 406.2 107.2 406.2 106.4 406.2 100.2 406.2 104.8 406.2 106.1 406.2 106.3 406.2 106.5 406.2 100.8 406.2 106.1 406.2 107.1 406.2 99 406.2 107.3 406.2 107.3 406.2 95.6 406.2 103.7 406.2 99.3 406.2 106.3 406.2 102.3 406.2 104.9 406.2 106.5 406.2 104.6 406.2 93.1 406.2 97.3 406.2 97.4 406.2 106.6 406.2 106.9 406.2 106.6 406.2 105.5 406.2 102.1 406.2 105.4 406.2 105.4 406.2 100.7 406.2 104.7 406.2 105.5 406.2 97.7 406.2 102.4 406.2 100.1 406.2 98.4 406.2 107.2 406.2 96.9 406.2 103.5 406.2 106.7 406.2 106.9 406.2 104.7 406.2 89.1 406.2 106 406.2 105.4 406.2 106.7 406.2 107.4 406.2 99.7 406.2 97.6 406.2 107.3 406.2 106 406.2 99.2 406.2 90.1 406.2 102 406.2 104.7 406.2 107.4 406.2 106 406.2 101.9 406.2 107 406.2 102.1 406.2 102.3 406.2 105.7 406.2 106.3 406.2 105.7 406.2 107.4 406.2 98.5 406.2 90.8 406.2 102.5 406.2 104.9 406.2 104.7 406.2 106.1 406.2 94.3 406.2 104.8 406.2 107.2 406.2 106.4 406.2 98.3 406.2 107.4 406.2 106 406.2 99.1 406.2 107 406.2 105.3 406.2 106.7 406.2 104 406.2 101.7 406.2 106.6 406.2 101.6 406.2 105.4 406.2 99.7 406.2 107.1 406.2 99.5 406.2 106.9 406.2 101.9 406.2 101.8 406.2 106.9 406.2 103.9 406.2 105.6 406.2 105 406.2 105.9 406.2 101.4 406.2 98.9 406.2 107.4 406.2 107.5 406.2 100.9 406.2 106.6 406.2 98.9 406.2 104.6 406.2 104 406.2 105 406.2 107.2 406.2 101 406.2 106.3 406.2 98 406.2 107.3 406.2 107.4 406.2 103.4 406.2 104.1 406.2 106.5 406.2 104.4 406.2 102.8 406.2 105.2 406.2 106.8 406.2 106.6 406.2 106.6 409.7 92.6 409.7 101.8 409.7 105.6 409.7 102.8 409.7 99.4 409.7 88.9 409.7 104.6 409.7 105.1 409.7 101.4 409.7 95.7 409.7 105.2 409.7 98 409.7 104.2 409.7 100.3 409.7 92.7 409.7 98.8 409.7 104.2 409.7 105.8 409.7 103.8 409.7 105.6 409.7 105 409.7 99 409.7 105 409.7 88.3 409.7 103.1 409.7 89.3 409.7 104.6 409.7 104.8 409.7 101.6 409.7 103.4 409.7 105 409.7 96.6 409.7 103.1 409.7 100.1 409.7 106.6 409.7 100.2 409.7 103.6 409.7 104 409.7 104.2 409.7 101.1 409.7 106.1 409.7 103.4 409.7 99.8 409.7 105.7 409.7 104 409.7 97.8 409.7 102.2 409.7 100.8 409.7 96.8 409.7 97.8 409.7 104.3 409.7 103.3 409.7 102.5 409.7 103 409.7 99.8 409.7 106.2 409.7 105.5 409.7 106 409.7 104.3 409.7 105.4 409.7 101.2 409.7 106.7 409.7 103.1 409.7 102.7 409.7 106.7 409.7 98.2 409.7 99.1 409.7 97.8 409.7 103.9 409.7 100.2 409.7 104.9 409.7 105.2 409.7 104.5 409.7 103.9 409.7 101.6 409.7 106.2 409.7 105.6 409.7 96.6 409.7 106.3 409.7 106.6 409.7 106 409.7 105.8 409.7 104.8 409.7 102.6 409.7 101.6 409.7 106.4 409.7 100.3 409.7 99 409.7 100.6 409.7 106.6 409.7 106.5 409.7 103 409.7 101.9 409.7 106.5 409.7 106.2 409.7 105.6 409.7 104.9 409.7 101.2 409.7 104.2 409.7 106.3 409.7 102.1 409.7 102.5 409.7 106.3 409.7 106.4 409.7 106.1 409.7 99.7 409.7 106.4 409.7 104.7 409.7 101.6 409.7 106.2 409.7 105.1 409.7 102.7 409.7 106.3 409.7 105.9 409.7 102.2 409.7 106.2 409.7 105.6 413.2 106.4 413.2 101.1 413.2 98.7 413.2 98.4 413.2 106.3 413.2 106.4 413.2 103.9 413.2 103.7 413.2 106 413.2 104.4 413.2 96.2 413.2 106.6 413.2 103.7 413.2 101.9 413.2 98.3 413.2 103.1 413.2 105.5 413.2 103.1 413.2 96.8 413.2 100.6 413.2 92.3 413.2 105.3 413.2 103.8 413.2 106.4 413.2 101.2 413.2 103.2 413.2 101 413.2 106.4 413.2 99.1 413.2 94.9 413.2 105.1 413.2 94.8 413.2 103.7 413.2 102.8 413.2 93.7 413.2 92.1 413.2 104 413.2 104.1 413.2 104.5 413.2 103 413.2 104.2 413.2 91.2 413.2 91.5 413.2 94.1 413.2 104.9 413.2 102.9 413.2 106.3 413.2 105.8 413.2 105.6 413.2 86 413.2 92.1 413.2 102.7 413.2 102.2 413.2 94.1 413.2 98.3 413.2 99.2 413.2 105.7 413.2 95.2 413.2 97.9 413.2 103.9 413.2 105.8 413.2 104.1 413.2 106.5 413.2 99.1 413.2 103.9 413.2 102.1 413.2 90.6 413.2 106.6 413.2 100.2 413.2 105.5 413.2 96.5 413.2 105.7 413.2 88.9 413.2 95.7 413.2 98 413.2 103.7 413.2 106 413.2 102.9 413.2 99.4 413.2 84.3 413.2 105.3 413.2 101.4 413.2 103.3 413.2 106.4 413.2 104.5 402.7 103.5 402.7 103.5 402.7 103.9 402.7 103.7 402.7 103.3 406.2 96.1 406.2 99.1 406.2 90.6 406.2 95.1 406.2 91.3 406.2 93.8 409.7 87.6 409.7 86.8 409.7 96.2 409.7 98.9 409.7 101.5 409.7 86.5 409.7 98.8 409.7 86.2 413.2 85.6 413.2 83.7 413.2 100.5 413.2 81.6 413.2 99.5 413.2 83.8 413.2 100.5 413.2 80.8 416.6 103.2 416.6 99.7 416.6 89.7 416.6 99.2 416.6 101.3 416.6 92.7 416.6 103.2 416.6 85.4 416.6 80 416.6 88.1 416.6 85.8 416.6 96.7 416.6 89.1 416.6 83.8 416.6 73.3 416.6 87.3 416.6 71.6 416.6 91.5 416.6 84.5 416.6 80.2 416.6 101.6 416.6 76.7 416.6 76.8 416.6 101.2 416.6 82.7 416.6 91 416.6 99 416.6 97.8 416.6 100.4 416.6 73.5 416.6 77.1 416.6 80 416.6 99 416.6 80.1 416.6 96.1 416.6 87.8 416.6 104.4 416.6 74 416.6 93.4 416.6 81.5 420.1 100.4 420.1 97.3 420.1 74.9 420.1 77.2 420.1 81 420.1 89.5 420.1 79.8 420.1 69 420.1 72.3 420.1 73.7 420.1 87.3 420.1 87.2 420.1 69.3 420.1 94.2 420.1 83.9 420.1 96.6 420.1 87.4 420.1 95.7 420.1 70.1 420.1 69.1 420.1 90.8 420.1 73.7 420.1 73.3 420.1 70.2 420.1 75.8 420.1 96.3 420.1 79.8 420.1 94.6 420.1 86.2 420.1 102.9 420.1 104.4 420.1 68.8 420.1 86.8 420.1 85.5 420.1 79.9 420.1 103.9 420.1 79.2 420.1 76.4 420.1 102.8 420.1 72.7 420.1 84.9 420.1 84.6 420.1 92.7 420.1 102.9 420.1 97 423.6 103.5 423.6 98.4 423.6 99.9 423.6 97.1 423.6 103.6 423.6 98.5 423.6 99.4 423.6 101.2 427.1 88.5 427.1 100.1 427.1 88.1 427.1 98 427.1 92.4 427.1 89.6 427.1 99 427.1 83.2 427.1 101.2 427.1 84.6 427.1 83.1 427.1 86.5 427.1 94.2 427.1 87 427.1 90.3 427.1 82.8 427.1 88.9 427.1 101.1 427.1 92.1 427.1 102.1 427.1 92.6 427.1 101.3 427.1 93.4 427.1 86.8 427.1 103.2 430.6 66.5 430.6 69 430.6 66.8 430.6 66.3 430.6 69.4 448 101.2 448 97.6 448 99.7 448 103.1 448 100.3 448 104.2 448 102.9 448 100.1 448 102.8 448 98.9 448 103.2 448 96.6 448 96 448 96.1 458.4 97.8 458.4 98.3 458.4 97.4 461.9 100.1 461.9 100.3 430.6 46.1 448 86.6 448 88.9 458.4 86.8 468.8 99.9 434 105 437.5 105 441 105 475.8 72 435.8 105.3 496.7 72.7 496.7 68.3 496.7 71.8 496.7 71.2 496.7 73.3 496.7 71.2 503.6 64.9 503.6 66.7 503.6 71.6 503.6 68.7 503.6 68.3 503.6 70.9 503.6 71.6 503.6 65.5 507.1 83.3 507.1 82.2 507.1 80.8 507.1 80.1 507.1 82.3 507.1 83.1 535 9.9 535 12 535 11.2 535 12 535 11.7 535 17.1 535 16.6 535 10.1 535 15.2 535 12.5 535 11.7 535 13.3 538.4 16 538.4 12.3 538.4 13 538.4 14.3 538.4 13.2 538.4 12.3 538.4 16.2 538.4 13.7 538.4 15 538.4 12.8 538.4 15.2 538.4 13.3 538.4 13.1 538.4 15.3"/>
<path clip-path="url(#c3)" class="m" d="M54.4 235.6 92.7 243.7 48.2 243.5 54.7 240.9 48.3 243.5 64.5 241.2 65.7 243.3 48.8 237 57.5 239.8 54.4 242 66.6 234.3 88.1 242 61.3 242.9 73.2 243.1 57.4 238.5 48.9 243.3 63.7 240.4 76.7 235.6 53.2 235.1 76.6 232.4 72.7 242.4 53.9 241.4 53.2 243 58.5 232 103.6 243.1 58 242.5 52 232.1 61.5 241.7 49.7 237.8 57.3 234.1 74.5 241.9 78.7 236.5 61.1 238.6 51.7 242.9 53.4 237.6 103.5 243.6 50.5 242.9 57.5 238.2 53 228.9 48 241.9 51.9 242.6 73.6 242.5 51.5 241.5 54.8 242.8 48.9 242.4 53.4 242.7 61.3 238.9 82.8 238.9 51.5 243.4 80.3 238 60.9 223.9 59.9 243 73.4 242.7 73.7 237.5 68.7 239.3 85 235.8 63.8 243.6 61.2 241.2 81.5 242.7 52.3 239.5 47.9 236.2 59.3 241 109.7 238.9 62.9 237.6 79.3 237.5 59.7 241.5 82.2 240.9 72.8 233.2 50.8 233.3 82.4 241.4 60.7 239.7 62.4 240.5 58 237.3 70.4 234.7 53.7 242.5 53.4 234.6 66.5 242.8 59.8 240.8 55.3 229 58.9 240 60.1 242 60.7 238.2 92.7 240.5 56.4 241.2 84.4 240.3 71.4 242 87.1 242.5 50.2 241.8 63.6 236.6 73 232.5 45.3 238.9 78.3 243.5 57.1 239.3 49.9 242.2 58.6 225.5 52.2 243.4 79.7 243.1 68.6 242.7 52.6 242.8 91.3 238.5 81.1 241 57.4 243.6 49.5 243.3 63.8 241.2 56 229.1 53.3 237.6 62.9 242.5 70.4 242.3 97.5 237.3 69.3 243.1 50.5 241.7 61.5 243.2 60.8 242.8 68.4 241.4 51.5 230.8 74.4 241.6 83.8 242.6 58.4 238.2 74.5 239.9 78.9 237.1 62.6 234.1 81.7 237.2 59.6 231.5 74 242.6 100 241.7 83.6 242.8 70.7 242.2 95.5 243.4 56.7 243.6 66.8 239.6 58.4 228.2 78 243.1 51.4 241.1 60.1 241.1 52 239.4 90.2 242.8 76.7 241 66.9 235.1 96 239.2 64.3 238.4 50.9 231.1 53 230.2 72.5 239.4 122.1 241.8 84.8 235.3 58.4 242.6 46.3 243.5 54.7 242.6 56.6 238.4 83.5 241.4 68.1 230.4 52 243.6 62.1 239.7 80.2 242.9 64.9 243.1 53.3 243.5 72.4 228 59.3 239.8 54.2 242.3 71.6 243.5 68.4 241.3 72.2 239.7 52.3 218.2 60.4 238.8 52.4 241.2 60.3 243.3 79.8 243.5 57.5 226 63.9 242.4 91.2 237.8 68.2 239.4 95.7 238.1 53.9 243.4 50.8 242.1 71.6 238.6 56.9 243.5 73.1 243.5 57.8 233.5 54.3 236.7 54.1 234.3 114.7 242.6 57.3 242.3 45.2 233.5 61.5 243.6 67.8 230.7 61.2 232.8 46.2 239.6 58.8 242.1 53.8 239.1 63.1 243.1 58.7 241.6 46.3 242.2 75 239 96.1 241.7 55.6 242 57.7 233.7 61 243.5 90 243.4 82.2 242.1 57.4 238.3 64.7 240.4 65.7 242.3 51.9 243.7 48.7 243.4 55.2 214.1 61.5 243.5 59.5 239.1 49.8 233.7 51.9 238.8 59.6 239.5 52.9 238.2 92.3 243.2 82.6 240.8 53.9 237.6 48.8 241.5 56.3 239.1 51.4 241.1 55.1 236.6 53.6 240.3 50.1 236.7 66.1 242.5 62 241.5 50 239.4 51.7 241 63.8 239.6 75.1 243 68.8 243.4 49.4 240.5 103.2 243.6 68 237.9 61.2 239.1 55.1 240.9 74.1 239.8 87.7 240.6 71.3 235.2 98.2 236.9 46.4 242.3 55.8 235.7 82.3 242 64.5 238.3 49.9 233.3 57.7 243.2 60.7 238.6 51.7 240.7 63 237.8 78.8 243.2 50.3 236.5 59.2 242.7 80.9 242.5 78.6 239 59.4 235.3 58.3 242.4 51.7 242.1 57.6 238.9 78 241.8 74.3 241.5 54.9 235.2 58.5 240.1 87.5 242.1 85.9 242.2 55.9 241.9 54.1 242.9 52.9 240.6 66.7 243.3 56.3 242.4 75.9 241.3 58.9 242.1 56.9 243.6 82.6 239.8 85.8 243.1 65.6 243 53.6 241.9 68.7 237.1 53.9 234.4 63.1 242.2 85.8 243.6 46 239.7 95 222.9 65.5 237.8 58.9 236.5 67.4 243.6 54 240.8 59.2 238.7 69 241.4 64.3 237.2 47.7 239.7 76.1 243.5 46.3 243.1 62.9 238.7 70.7 231.3 74.8 243.6 51.1 239.9 50.8 239.4 57.7 239.6 51.8 236.1 53 243.3 55.8 243.5 92.8 241.8 77.3 243.6 48.8 237.2 60.6 243.2 53 243.2 67.6 236.6 55.1 241.5 52 242.9 45.7 240.4 55.8 241.3 62.5 242.2 75.2 242.5 111.3 240.2 68.4 239 84.8 242.2 49.3 243.5 45.9 242 56.4 238.9 58.3 242.3 53.7 238.9 55.4 242.5 49.8 236.4 49 241.5 63.6 243.5 55.2 242.4 73.3 241.5 60 243.1 48.2 231.8 86.2 236 90.3 240.2 56.9 236.7 51.6 234.9 66.7 243.6 94.6 240.8 56.5 236.3 51.3 230.5 56.9 230.7 65.4 241 67.3 237.6 53.3 231.4 78.1 233.9 71.4 242.3 55.7 227.6 58.9 242.4 61.2 243.5 75.4 242.6 117.8 240.3 56.5 243.6 52.8 238.5 61.7 242.6 55.7 240.4 58.4 243.7 70.9 241 87.4 239.8 60.9 239.5 51.7 242.4 87.4 242.3 49.3 235.3 75.8 239.8 79.4 241.6 50 241.8 51.9 232.2 61.6 240.4 59.9 240.6 73.7 240.4 50.3 243.1 64.5 235.7 63.9 238.8 70.2 234.8 58 241.6 75.9 241.5 47.5 242.1 71.9 238.5 64.6 243.7 64.7 240.3 64.5 240.9 55.9 232.7 66.6 232.9 78.6 236.8 54.3 226.7 73.9 236.9 63.1 242.8 51.8 239.9 48.8 243 67 238.4 87.3 239.4 66.2 239.6 69.2 243.2 80 240.3 86.4 232.6 74.8 242.2 48.8 242.9 55.1 243.5 69.4 237.9 48.1 242.4 49.5 237.2 50.1 243.7 73.8 241.7 77.1 240.2 52.9 242.4 62.2 233.7 47 237.1 58.9 238.7 59.5 243.4 60 243.2 52 236.3 74.7 230.3 46.9 239.8 56.3 242 71.8 242.6 59.4 243.2 56.3 240.9 89.2 243 59.8 221 65.7 218.8 59.7 242.2 66 232.5 57.2 240.2 64.7 242.8 94.1 241.5 100.6 240.8 52.1 241.3 64.6 227.6 55.6 242.9 78.9 238.1 63.9 240 58 238.6 59.5 242.6 55 235.9 56.9 243 66 242.8 62.8 242.9 57.9 242.7 54.2 241.9 46.9 237.9 47.7 243.5 71.7 240 83.5 241.4 56.4 243.5 59.7 233.3 55.4 241.4 76.3 234.4 59.8 242.7 52.3 242.1 50 240 46.5 243 54.4 242.6 53.3 227.4 63 234 89.5 242.4 48.8 240.8 52.1 234.9 54.2 233 56.4 242.7 84.2 243.5 59.5 240.9 67.6 237.3 50.9 233.8 63.4 236.5 74.6 242.2 50.6 234.4 62.6 243.4 50.2 242.8 66.1 243.1 50.2 240.2 47.4 236.1 84.6 242.6 51.8 240 81.9 241.3 51.5 243.6 48 239.6 50.9 232.9 56.9 240.7 49.6 243 82.7 243.4 68.3 240.2 53.1 242.1 61.1 242.1 101.3 232.1 55.4 241.5 51.1 236.3 82.8 241.9 46.8 239.4 111.4 242.6 67.6 239.7 52.9 242.4 52.4 241.9 57.8 240.9 94.3 241.8 73.7 240 49.5 243.7 71.8 239.4 56.6 242.7 83.9 240.8 58.9 241.2 63.9 239.2 73.6 242.8 76.9 242 71 229.3 50.5 231.6 49.4 239.7 75.9 236.4 61.5 241.8 68.2 237.7 68.4 233.5 57.6 242.2 57.5 240.1 71.3 240.6 61.6 242.8 53.3 240.5 55.4 241.6 49.2 227.6 57.1 243.6 64.4 243.6 48.7 238 60.2 241.5 71 241.7 68.7 243 89.6 242.1 89.3 240.3 55.6 236.1 54.4 243.1 60.5 242.3 62.5 240 79.2 242.7 75.4 239.8 61.8 234.4 82 237.2 72.1 243.4 56.8 242.8 85.9 243.2 81.5 240.6 80.3 226.5 46.6 238.3 54.4 235.1 55.9 243.1 59 243.3 81.5 242 66.8 243.5 52.5 239.5 52.5 241.3 56.1 233.8 62.8 232.9 56.6 240.3 71.5 233.7 53.9 243 73.7 237 53.7 242.3 50.6 242.1 78.6 242.4 62.1 241.6 51.1 240.3 54.8 241.5 65.2 237.9 80.7 217.9 100.6 239.8 64 220.5 84.3 243.4 61.9 236.2 70.2 235.4 65.9 242.5 72.3 233.4 46.9 226.2 51.4 241.4 66.1 240.5 83.1 240.1 77.5 243.1 64.4 242.9 62.1 242.6 46.3 237.1 62.3 240.1 60.4 242.4 56 243.3 58.6 242.4 53.8 236.4 54.2 239.4 50.6 239.1 62 231.5 55.5 240 74.9 243.3 53.1 237.4 84.5 229.2 60.3 242 74.7 228.6 78 240.2 105.7 239.6 49.9 242.6 68.3 224.3 55.7 240.3 57.9 238.3 83.5 236 51.5 236.8 52.7 239 54.4 243.3 49.9 241.3 48.3 235.9 102 238.5 75 243.5 64.3 227.5 80.6 240.9 84.9 234.9 62.2 240 70.8 242.6 50.6 240.7 63.4 243.6 62.9 240.9 55.6 238 61.7 242.9 49 231.5 51.8 243.4 64.4 233.6 70.9 241.5 68.1 237 56 241.5 65.8 240.1 74.1 239.9 78.5 241.2 50 240.5 83.5 242.6 56.3 241.7 59 236 58 239 122 243.5 49.5 242.9 51.7 232 49.3 242.6 96.6 242.5 53.6 242.3 58.1 240 95.6 243.2 50.9 235 66.5 243.7 91 240.7 46.5 241.2 74.5 235.4 91.2 243.4 84.7 243.5 84.4 227.6 49.9 243.6 62.6 242 79.7 235.3 65 240.1 49.7 239.5 61.8 239.1 52.4 240.7 50.7 238.5 57.1 234.5 70.5 242.4 50 233.1 76.7 243.3 51 239 54.5 228.8 59.3 243.4 55.8 242.5 85.2 243.1 57.2 236.7 69.3 241.6 65.6 242.5 56.6 237.9 69 233.6 58.6 238.2 59.1 240.2 51.2 239.5 72 239.5 52.7 242.8 69.8 239.9 68.4 242.9 56.7 225.1 58.4 235.3 63.7 243.6 59.8 239.2 58.1 239.3 62.6 243.3 52.6 240.7 67.9 243.4 60.8 232.5 53.3 231.2 61.7 239.7 60.5 233.1 45.6 226.2 64.5 243.4 64.8 236.9 53.2 239 52.1 240.2 80.4 237.5 56.6 241.7 58.8 238.7 63.8 233.9 62.3 242.1 64.3 241.4 101.8 243.4 56.2 241.1 70.9 241.9 60.7 241.9 68.2 243.6 52.1 239.3 47.3 242.5 60.7 236.9 71.2 240.3 51.5 239.8 65.1 241.5 57.8 243.6 84.9 242.3 62.9 243.4 85.6 242.9 59.6 241.9 62.4 226 61.5 239.1 56 240.5 92.7 242.7 53.1 240.8 48.6 240.3 65.8 243.5 91.6 243.5 68.4 239.8 78.9 236.1 50.9 229.8 58.9 241.1 51.4 237.7 50.5 239.3 53.7 240.2 66.5 242.7 49.8 234.7 55.8 233.2 72.9 243.7 60.5 241.6 65.4 241.6 57 239.2 51.8 229.2 50.1 231.4 72.7 238.1 47.7 240 51.7 243.6 77.1 243.5 59.3 242.2 88.4 242.2 95.1 238.2 57.8 243.7 94.9 239 68.4 242.9 52.1 241.8 64.1 236.2 91.1 241.4 112 238.6 54.9 240.5 54.4 242.6 72.7 238.5 57.7 240.4 63.4 237.9 80.9 243.6 49.5 238.1 47.1 240.3 55.1 234.9 64.7 237.6 61 242.2 68.7 240.7 75.8 231.2 96.5 242.8 72.1 238.1 56.4 235.2 60.4 242.4 60.3 229.7 47.4 242 53.9 243.7 57 237.9 63.3 239.7 58.7 243.1 60.1 240.9 70.8 238.2 71.2 238.3 76.9 243.1 63.7 236.5 68.5 242.7 88.3 242.4 61.1 242.7 60.8 243.2 64.2 237.7 56.4 241.6 71.4 240.5 57.9 242.5 50.3 239.8 69.1 230.8 85.3 242.5 57.9 233.3 94.9 239.4 59.1 232.7 87 242.7 108.9 241.6 52.1 240.9 71.2 236 46.8 242.7 48.7 238.8 86.7 243 61.3 239.7 70 242.6 55.8 237.1 57.6 242.5 47 239.6 76.5 242.1 78.8 243.3 82.6 242.9 57.9 242.8 63.4 239.9 54.1 234.6 50.3 234.1 71.8 230 76.1 242.4 65.6 236.9 53.7 237.7 90.8 230.7 70.5 235.5 52.1 243.4 64.2 240.9 69.4 238.7 56.9 243.6 58.7 235 91.8 240.5 79.2 239.2 79.7 230.9 69 243.5 57.3 242.6 58.2 238.3 54 241.5 55.3 242.1 65.9 238.5 48.7 235.4 54.2 242.5 53.2 237.4 89.7 243.3 50.6 241.2 107.5 240.2 52.8 243.4 60.9 243.3 47.8 241.5 59.8 240.6 59.6 236.8 73.1 243.4 59.5 237.2 71.4 243.4 62.6 243.3 70.1 240.3 63.6 242.8 89.8 228.6 54.5 242.5 66.4 235.5 56.3 228 55.6 242.9 60.5 242.8 55.2 230.5 59.8 240.2 55.8 238.7 79.8 239.2 56.6 242.3 82.6 239.8 63.8 239.5 54.3 237.7 66.5 243.2 57.7 235 65.2 241 59.9 241.7 61.9 238.6 76.8 242.7 51.2 238 49.9 240.9 46.6 236.6 69 240.2 66.9 239.4 54 228.3 59.4 231.6 50.4 243.2 64.5 241.2 57.6 243.4 55.8 239 74.2 236.9 94.1 239.6 73.2 241.9 72 242.5 72.2 240.8 60.2 243.1 73.2 241 72.3 232.9 66.5 242.9 53.6 243.5 76.1 242.7 69.4 229.8 63.5 229.8 54.2 240.2 69.8 237.4 63.9 243.7 67.8 238.2 54.5 240.5 54.4 240.1 60.8 240.9 84.1 242.4 57.2 236.7 56.4 243.7 53.6 225.7 70.7 243.3 66.1 243.7 62.8 242 72.4 232.5 60.8 242.1 51.3 229.9 55.7 242.5 58.1 239 57.3 240.5 61.5 240 62.9 243 78.8 242.2 46.5 238.4 91.5 243.1 67.5 240.1 59 239.3 75 232.8 60.9 233.3 56.4 237.9 59.8 227.8 51.4 242.1 46 243.4 53.1 235.2 53.9 231.7 69.5 243.7 81.5 239.9 53.5 242.2 90.1 243.5 61.8 241 49.2 240 64 243.2 60.1 241.6 55.3 243.5 49.9 233 51.7 239.8 73.5 237 80.7 242.3 54.7 239.3 47 238.8 47.7 222.4 70.2 239.5 54.3 229.7 72.8 242.6 55.7 237.8 63.2 240.8 57.1 237 54.8 236.9 49.4 241.9 72.3 241.8 53 240.6 56.8 241.8 46.8 237.7 53.9 243.6 62 242.5 97.5 243 71.5 243.4 46.8 233.5 54.7 240.5 51.5 240.5 53.4 228 62.6 241.2 48 243.7 54.3 242.8 61.5 219.2 71.4 243.5 53.3 240.7 58 241.5 63.1 237.1 87.7 238.5 77.7 243.2 59.4 240.3 55.7 237.2 76 240.3 66.5 235.1 61.9 231.8 50.8 243.6 55 238.8 51.7 241 46.3 240.7 57.8 238.6 99.1 235.7 54.3 240.5 67.8 236.8 50.8 230.2 64.4 239.8 71.7 241.3 53.4 235.1 54.8 241.4 58.1 243.5 63.7 241.8 120.9 242.1 56.9 239.1 53.5 237.1 59.3 235.5 81.7 242.3 71.6 242.7 51 242.1 51.4 238.3 53.8 241.5 53.2 243.6 50.3 239.2 53.6 240.9 49.6 239.3 74 240.9 62.9 243.2 50.6 242.7 47.1 242.5 48.3 240.2 84.6 228.2 52.9 231.8 95.6 238.1 68.2 243.4 56.3 238.4 65.9 239.4 60.9 241.2 80.2 233.5 50.3 243.3 80.4 243.7 54.3 241.2 53.8 239.7 67.9 238.8 70.7 241.4 48.6 243.3 47.7 224.9 51.4 240.7 61.5 242.2 51.5 230.9 96.7 240.5 76.7 240.6 59.8 235 69.2 243.5 68.5 242.2 60.2 234 75.7 240.8 47.7 231.9 56.9 242.2 66.2 241.7 66.9 243.3 52.7 230 60.2 243.5 63.8 234.9 58.7 218.2 52.2 241.7 54.8 238.4 70.7 243.4 50 239.2 59.8 237.3 62.5 237.1 76.4 240.2 85.4 239.3 61.7 239.2 81.3 243.3 69.9 243.3 63.2 240.1 51.6 232.1 84.7 241.8 59.8 242.2 66.2 242.7 73.7 241.2 70.2 233.8 54.2 226.4 58.8 242.2 46.1 242.9 56.6 242.3 57.4 243.7 56 241.9 70.9 242.4 77.9 239.9 67 238.8 82.2 240.8 80.2 241.4 66.4 239.4 63.3 243.6 50.4 243.5 60.8 242.9 69.5 240.4 65.7 233.7 63.6 241 74.1 229.6 88.3 242.2 50.2 227.5 58.1 240.3 55.3 242.9 55.6 242.5 100.5 242.8 77.9 242.3 51.4 238.6 62.4 234.1 66.7 243.1 93.9 241.2 56.3 219.6 65.5 234.4 77.1 243.2 62.1 240.6 77.2 243.5 67.1 243.6 54.6 241.3 81.5 241.2 64.4 241.9 62.7 240.3 70.8 241.3 79.6 242.6 47.6 233.2 94.4 242.5 54.3 239.5 79.8 237.1 80.8 238.1 66.8 242.2 48.5 242.1 102 243.3 63.7 239.2 57.7 243.5 54 241.2 69 241 60.3 240.4 58.7 242.8 62.3 239.2 107.2 237.6 48.5 243.2 62.2 235.1 63.9 235.3 58.9 241.9 67.1 241.9 64.1 240.6 77.4 240.4 68.1 241.7 73.9 242.8 63.3 235.4 55 232.9 68.3 243.5 60.3 225.1 62.7 243 79 230.4 59 241.3 53.4 242.6 73.3 241.5 71.1 237.3 52.5 241.8 65.4 243.5 49.8 238.2 60.2 238.9 52.2 243.5 54 236 71.7 243.5 67.7 233.5 60.7 239.3 47.2 233.4 63.7 235.3 64.3 238.8 57.8 242.9 48.8 235.5 64.7 228.4 51.3 234.7 107.7 239.7 71.7 243.5 85.6 241 63.1 230.6 55.6 238.1 61.5 240.7 55.4 230.5 51.9 231.4 80.1 241.7 53.2 242.4 52.3 242.7 77.5 235.2 57.8 237.4 76.4 243.3 58.8 243 60.9 242.5 46.5 240.1 60.5 227.4 99.2 238.8 95.6 242.7 70 239.3 67.9 241.2 78.2 241.8 53.9 242.6 108.7 240.4 74.1 235.5 53.5 243.5 55 240.2 52 240.9 57.2 234.6 57.4 231.5 67.1 241.5 60.5 243 58.2 221 57.4 243.1 54.8 241.9 59.3 240.3 52 241.2 47.7 240.6 70.3 242.6 89.2 243.4 57.3 234.4 80.1 241.7 67.5 243.7 119.5 242.7 73.2 239 97.7 240.9 50.4 242.8 60.8 242.5 66.2 243.7 48.8 240.4 101.3 243.6 49 241.7 60.2 242.2 76.3 243.1 89.4 243.2 54.3 242.4 67.3 243.2 68.2 241.9 85.4 241.4 51 241.6 71 241.2 85.2 242.4 83.5 232.3 79.6 243.6 65 239.7 61 237.7 67.2 243.1 61.3 234.7 73.9 243.1 54.5 242.9 65.4 243.2 76.5 241.6 68.1 237.8 53.8 243.2 67.5 233.6 62.3 238.6 63.4 229.8 56.3 217.2 86.5 240.9 92.3 238 61.3 241.1 62.2 243.7 63.2 242.7 63.5 242.2 51.3 241.2 59.5 243.4 64.6 242.2 66.2 241.8 61.9 231.4 56.3 239.3 78 243.1 69.1 243.7 64.7 236.3 82.3 234.8 64.6 242.1 74.4 242.3 53 240.2 47.5 242.1 50 242.3 59.8 242.5 57.9 243.2 84.6 231.4 54.3 238.3 49.6 241.5 79 242.8 57.2 243 65 233.7 83.9 235.1 74.7 242.4 50.4 242.2 75.9 236.1 60.6 238.5 81.7 233.2 56 242.3 80.9 243.7 53.9 240.4 50.1 242.6 74.2 243.3 51.8 231.7 52.1 242.6 48.8 240.6 67.5 241 45.7 237.4 72.3 234.9 71.2 242.1 70 239.4 67 242.4 49.7 234 77.8 239.4 58.7 241.9 55.9 235.1 49.3 243.1 52.8 243.7 60.3 243.5 53.7 243.1 50.4 239.2 64.3 242.5 56.5 230.5 72.5 240.3 57.9 242.3 54.8 243 51.4 243.6 76.6 241.7 68.5 237.2 48.8 242.9 51.2 240.3 48.4 239 57.5 236.8 115.8 242.9 83.3 242.4 71.9 243.2 56.8 237 53.3 235.9 70.3 241.1 73.7 237.8 64 241.7 60.1 242.6 57.5 235.6 46.6 238.8 68.1 237.3 72 243.1 68.8 241.1 60.7 235.5 59.2 237.7 76.3 236.5 70.7 241.7 62.1 241.6 77 240.7 63.6 239.6 51.8 238.6 45.1 238.8 71 239.9 72.5 238.2 68.7 239.5 75 240.8 74.9 241.3 64.6 239 56.6 242.6 75.6 241.9 51.3 239.2 70.2 236.4 48.5 239.5 62 235.8 52.1 241.6 74.1 241.7 50.9 242.3 76.6 237.8 52.5 235.1 71.4 239.3 66.6 243.5 73.5 238.9 58 235.5 47.7 234.6 57.9 242.4 77.3 237.6 47.4 236 51.4 235.9 45.6 242 76.5 240.6 73.2 243.4 69.5 236.7 47.4 235.7 73.3 238.6 70.4 243.5 71.4 237.4 60.4 236.4 57.4 240.4 51 238.6 67.6 240.4 56.9 242.1 71.2 242.9 71.1 240.3 76.5 240.5 54.5 240.9 67.9 236.5 75.1 239 55.6 239.4 65.5 235.9 56.2 242.4 55.1 240.9 49.1 239.8 60.1 238.3 45.3 234.9 45.9 241.8 47.3 241.7 60.8 241.2 50.3 236.2 60.4 237.1 56.5 238.8 51.3 243.3 48.6 237.6 63.7 242.9 58.9 243.5 49.4 240.3 47.6 235.2 72.3 240.1 75.1 236.4 54 239.1 63.6 242.8 54.6 236.3 60.2 235 78.2 239.2 65.6 235.3 77.8 239.2 61.1 238.6 78 241 49.3 240.4 73.7 237 77.8 243.3 53.4 236.3 47.1 236.6 59.5 236.4 69.7 241.9 67.7 236.7 55.5 241.6 56 234.6 75.7 241.7 47.6 237.1 74.5 238.9 58.4 234.7 79.2 238.7 48.8 239.7 78.8 241.5 52.8 240.9 51.2 240.3 65.5 240.1 67.3 240.7 70.4 241 68.3 241.9 45.4 241.7 60.2 240.8 48.9 242.6 63.6 239.3 73.1 241.3 50.7 235.9 74.1 239 47.2 242 69.2 239.2 55.3 243.3 70.3 235.8 75.4 240.5 62.5 241.2 46.3 243.5 51.1 237.1 72.8 238.8 51.4 236.3 60.4 239.5 68.2 236.6 48.8 243.2 55 242.3 57.6 240.4 59.7 235.7 63.4 243.5 65.1 240.8 53.7 241 50.2 240.9 49.5 237.7 65 236 59.1 237.1 70.8 237.9 56.1 240 52.9 238.5 74.6 241 52.5 238.4 53.8 242.5 76.6 238.7 61.8 241.7 65.5 239.1 64 237.9 71.6 242.2 62.9 241.4 64.8 242 66 241.8 63.5 235 58.2 237.7 65.5 242.6 64.3 236.5 62.6 237.3 55.3 243.2 47.2 240 68.8 241.3 47.5 241.5 66.9 242.3 66.9 239.7 50.8 237.7 53.2 238.2 50.5 238.6 73.8 241.6 47.4 238.2 70.7 241.3 67.9 236.9 45.5 241.7 62.4 241.7 55.9 242 73.4 239.5 73.9 239.8 50.4 239.2 67.7 236.2 63.1 243.6 48 241.8 51.4 234.5 47.4 240.8 69 239.8 68.3 241.7 78 240.6 45.3 241.3 48.4 237 47.3 238.6 77 238.8 51.1 239.6 68.4 236.7 58 239.3 52.5 235.9 75 236 71.9 238.8 57.7 236.7 55.8 238.1 65.1 241.4 45.3 234.7 51.5 242 49.8 240.6 47.7 239.6 54 235 76.3 236.6 73.1 238.7 63.8 236.2 62.3 240.9 74.8 238 48.1 236.6 72.6 241.1 54.2 240.2 63.8 239.9 66.9 239.2 45.8 238.4 75.2 243.6 72.7 239.1 55.3 243.4 62.6 237.4 52.7 243.5 63.6 242.8 57.7 243.3 78.4 236.5 66.1 241.4 48.7 242.8 69.3 240.8 65.3 242.7 48.5 237.9 45.2 235.6 49.1 235.8 56.8 236.7 72.3 237.7 52.8 242.1 73 237.3 50.1 242.1 62.8 235.4 52.8 240.1 71.1 237 57 240.4 59.3 241.1 66.3 238.2 53.5 240.8 76.5 240.8 47.6 243.4 59.4 238.3 60.3 239 78.5 242.8 71.8 238.6 73.5 241.3 50.6 236.8 55.3 243.6 52.9 241.9 45.6 235.2 64.7 238.2 53.8 241.7 56.5 241.2 74.1 239.1 50.7 237.1 69.5 238.7 61.7 240.8 75.1 237.4 61.1 243.3 55.1 242.3 53.9 243 49.4 238.5 77 237.5 70.8 241.6 62.9 242.7 78.2 240.8 54.2 238.5 54.1 242.2 54.3 240.9 71.8 243.4 73.5 240.2 46.7 240.3 51 243 53.7 235.5 53.1 236.2 69.1 238.7 45 236.5 48.4 239 53 239.4 48.4 239.4 76.7 236.8 48.4 239.5 52 234.8 50.3 243.4 50.3 238.1 67.5 238.4 56.8 242.4 74.5 243.7 67.9 240.8 78.1 236.9 75.6 242.7 52.7 242.5 64.4 235.2 72 243.5 51.4 241.5 75.9 238.2 50.2 239.1 55.5 237.2 53.2 235.8 45.4 236.1 47.6 243.1 71.6 239.4 60.1 236.6 51.3 243.3 69.1 242.4 70.1 241 62.4 235.1 52.2 238.4 58.2 236.6 45.4 237.7 78.8 237.1 76.6 243 54.8 243.5 59 242.7 77.7 236.5 45.8 240.5 51.2 240.7 57.9 235.1 60.6 242.3 67.1 236.5 74 240.8 75 237.8 54.9 242.6 64.8 237.1 61.3 234.7 51.8 242 57.1 242.2 53.8 236.9 78.9 238.3 70.7 241.3 57.2 242.3 49.3 235 76.3 237.7 69.2 236.5 77.6 243.2 68.7 236.3 77 240.9 60.4 243.1 73.5 238.4 58 236.6 66.8 242.3 50.1 242 47.7 241.1 63.9 242.4 69.3 236 75.4 243.3 67.2 240.5 56.8 240.6 59.8 235.1 46.2 243.2 60.2 240.3 75 237.7 48.2 237.5 65 239 48.4 238.6 67.5 238.5 52.1 239.1 72 241.6 70.7 236.5 54.3 240.4 67.7 239.5 63.6 240.3 69.9 243.4 70.3 237.9 78.5 241.5 71.6 239.1 60.7 241 63.9 236.4 48.3 237.1 50.6 240.8 65.1 243.7 59.7 242.5 68.6 241.4 62.9 240.7 59.2 236.5 56.8 242 75.1 239.9 78.3 237.6 73.6 240 53.6 242.7 61.9 239.6 48.7 234.7 69.1 241.5 73.2 241.7 70.7 235.8 48.4 240.6 68.7 236.6 57.5 241.7 65.4 239.7 75.8 241.1 80 226.6 83 227 85.6 229 76.5 232.7 89.6 231.5 56.6 228.1 87.4 228.2 75.8 232 49 233.6 48.8 229 57.1 222.1 61.3 228.5 62.8 223.5 51.7 230.8 51.5 226 71.7 230.3 79.5 226 64.3 234.7 66.4 230.5 93.2 234 51.8 231.2 78.5 227.8 58.8 222.3 67.5 233.7 55.5 230 65.5 228.6 92 232.6 86.5 229.3 46.2 231.3 63.3 222.7 68.3 224.4 66.5 230.4 89.5 232.1 82.2 228.3 71.8 234.7 61.6 231.7 71.1 228.4 81.3 230.1 55.3 234.1 54.7 223.6 68.3 226.2 54.6 231.5 76.8 234.1 69.6 229.9 94.9 235.2 59.4 227 86.4 227.5 50.2 232.6 77.6 229.6 77.6 231.5 46.3 218.4 52.7 230.5 48.7 222.6 56.4 231.8 62.7 233 68.6 227.3 89.8 234.7 85.5 228.7 78.3 226.7 82.6 232 66.7 231.6 47.5 234 80.9 232.8 61.8 234.8 50.2 230.8 74.7 225.9 73.4 232.5 65.7 228.2 53.1 231 54.6 233.2 90.2 233.5 60.1 235.1 89.1 233.5 46.7 228 95.4 231 52.2 232.3 92.5 231.3 90.9 229.2 46.8 226.5 58.7 221.2 93.5 233.4 46.8 230.5 70 232 80.5 229 80.8 229.8 70 226 48.9 230.7 79.4 227.2 84.4 230.2 48.5 229.8 86 234.6 80 228.9 75.2 225.5 82.2 234.8 46.9 218.2 62.4 228.8 56.4 223.1 65.4 233.4 78.9 226.3 74.1 226.4 59.1 232.6 48.9 232.2 84.8 232.4 86.1 233 79.8 229.6 77.1 228.1 90.1 229.5 76.6 228.3 47 234.9 65.9 225.6 113.1 211.2 109.6 217.9 65.9 222.9 72.9 201.5 121.2 210.3 123.8 211.4 84.3 239.7 78.4 219 66.7 220.3 65.1 218.2 78 202.2 121.8 237.9 96.8 200.2 103.3 202.3 101.6 207.2 97 206.1 104.7 198.5 68.9 212.8 118 221.1 99.6 230.9 83.1 235.6 117.2 200.6 109.4 208.9 123.7 238.2 113.7 223.5 91.5 211.4 120.9 239.8 98.2 213.8 112.3 231.1 75 219.4 111.2 228 117.5 221.3 109.5 239.5 61.8 216.5 86.5 237.3 107 208.3 65 229.6 111.3 208.9 56.9 220.8 56.2 233 116.1 234.2 113.1 238.3 107.2 224.7 123.3 214 81.3 215.2 170.3 238.9 136 239 190.5 242.3 139.1 242.9 189 237.9 188.2 236.1 189.6 232.3 144.1 237.6 171.3 235.3 174 242.7 148.3 234.6 145.7 237.2 159.9 237.9 166.1 242.2 149.4 238.6 144.3 237.8 170.1 235.9 134.6 235.3 176.6 234.3 165.7 238.2 136.6 236.5 174.4 232.4 67.4 203 67.2 203.1 66.8 203.8 66 203.7 66.7 202.2 67.2 205.3 66.7 204.4 66.7 203.3 66.9 201.9 67.4 205.2 66 204.3 67.3 203.5 67.9 203 65.5 201.5 65.7 202.8 66.8 204.7 67.8 205.3 67.8 205.7 71.6 201 72.6 201.3 74.4 200.4 72.9 202.5 72.4 201.5 72.8 200.1 72.5 199.7 74.1 198.9 73.2 200 72.3 200.3 73 200.7 73.2 200.7 64.8 216 64.5 217.7 64.9 215.6 63.9 218.1 64.8 215.9 63.4 215.6 63.2 217.3 64.9 215.3 64.8 217.4 64.9 217.5 64 215.4 64.7 216.2 124.1 181.6 162.4 231.4 177.1 232.2 182.8 231.9 191.7 238.3 86.4 149 96.4 149.4 90.9 149.9 90.8 148.9 89.5 150.7 88.1 151.2 89.4 150 89.2 148.3 88.4 149 88 149.5 91.1 147.1 87.8 149 92.7 148.2 91.7 148.8 88.8 149.7 89.7 148.7 87.9 149.6 89.7 150.9 89.9 149.6 90.1 150.7 90.2 148.8 90.6 149.1 91.2 149.9 88.3 150.7 89.9 150.1 87.2 148.5 84 148.8 87.3 148.5 87.6 150.3 87.7 147.8 91.8 148.2 88.5 149 92.2 149.5 88.3 147.8 87.6 149.6 89.3 148.4 93.6 150.2 86.7 148.2 90.2 147.8 91.5 149.5 91.7 150.3 88.4 150.7 90.7 149.3 90.1 149.3 93.6 148.8 98.6 148.5 98.9 149.9 90.5 149.1 95.7 148 88.3 150.6 99.1 147.4 95.2 147.5 85.2 150.7 94 151 95.8 149.9 92 149.6 89.3 149.5 117.7 147.7 133.7 146.9 122.7 148.3 120 148.2 128.7 147.4 107.5 147.5 102.6 147.9 118.6 148.1 117 148.1 117.9 147 101.3 147.4 102.9 147.8 120.2 147.6 111.6 146.9 154.1 145.4 155.4 144.4 147.7 144.7 155.5 145"/>
<path clip-path="url(#c4)" class="m" d="M292.7 241.2 293 240.5 265.3 240.3 243.6 242.6 221.7 243.6 252.8 241.4 255.2 242.2 220.9 243.5 221.2 243.4 311 238.5 278.3 243.8 238.8 243.3 257.7 243.3 308.7 232.6 301.4 236.7 296.4 243 253.7 243.5 263.2 243.9 280.6 239.5 222.3 243.3 269.1 242.6 242.3 243.7 299.7 241.5 222.7 243.4 280.8 243.3 298.8 243.7 238.1 243.5 301.2 234 299 242.7 218.4 243.5 283.5 238.2 216.7 243.3 264.2 241.7 257.9 242.6 235.8 242.9 247.3 242.1 292.8 241 246.5 242.8 230.7 243.3 282.6 244 259 241.3 292.1 237.4 238.9 242.5 246.8 243.7 292.2 242.2 264.5 242.2 264.5 242.9 238.9 243.8 218 244 304.8 242.2 224.7 243.9 296.5 239.6 251.4 241.8 306.5 243.4 254.4 243.9 305.1 233.3 269.2 244 239.3 243.7 286.7 239 280.3 240.6 281.3 241.6 260.4 240.9 237.6 243.9 277.2 241 226.7 243.1 282 238.7 276.7 243.5 252.2 242.5 292.1 242.1 234.9 243.5 253.5 243.7 292 243.3 252.6 241.4 284 241.8 274.5 241.7 305.5 236.4 310.3 232.6 285 238.6 293 239 231 242.8 284 242.3 296.7 236.7 254.5 243.8 268.9 241 261.9 241.4 307.2 235.8 246.6 242.6 254.6 241.3 216.7 243.9 256.3 242.6 276.3 242.5 305 238.8 303.9 235.9 247.5 242.2 310.1 238.3 234.3 243.9 294.4 242.5 231.5 243.2 254.9 242.2 223.5 243.2 297.7 240.6 294.9 239 229.8 243.7 266.4 241.1 241 243.8 263.1 242.6 268.9 240.3 226.6 243.2 298.3 239.3 242.9 243.1 258.9 243.7 222 244 216.9 243.3 235 243.7 248.9 242.6 304.3 241.7 300.7 234.6 262 242.1 259.6 243.2 279.6 240.5 297.8 240.9 248.5 243.6 291.6 243 254.3 243.2 272.7 239.5 286.3 240.9 264 242.5 281.9 241.4 282.5 243.6 217.1 243.3 220.3 243.4 230.7 243.6 236.8 243.4 235.8 242.7 221.2 243.5 237.1 243.5 273.4 243.4 300.3 234.4 249.6 242.7 251.2 242.3 256 242.8 280.9 241.9 290.8 242.3 305.5 238.5 252.1 241.9 283.4 243.8 248.9 242.7 294.5 239.3 238.4 243.8 298.9 243.6 264.3 242 285.2 241.2 267.2 241 246.5 242.8 263.3 242.7 221.4 243.4 220.7 243.5 266.7 242.9 261.7 243.2 295.3 236.5 218.5 243.6 269.2 242.8 263 240.9 273.1 242.3 285.6 242.9 266.2 243.2 269.8 242.8 263.1 241.4 274.7 242.7 240.1 242.4 268.8 243.5 280.1 241.7 234.7 243 310.2 231.7 287.1 238.3 306.9 239.9 244.4 243.4 258.5 244 241.3 243.7 221 243.9 218.2 243.5 239.9 243.9 298 243.6 232.1 243 281.8 243.8 240.2 243 222.8 244 234.8 243.4 280.7 238.3 264 242.9 268.5 239.9 259.4 242.1 242.5 242.5 262.8 243.1 303.8 238.1 235.6 243.5 285.9 243 240.3 242.4 234.9 242.5 247.2 243.2 225.4 243.7 305 236.2 251.1 243.9 233.2 243.8 216.6 244 222.3 243.4 236.9 242.5 256.1 242.5 273.5 243.8 309.3 237.5 300.8 236.1 239.5 243.8 274.4 242.2 303.7 239.3 226.2 243.6 297.3 235.1 254 242.1 290.5 239.5 247.1 243.8 275.7 242.6 264.5 242.6 226.5 243.5 288.4 240.4 294.4 240.2 262.2 241.6 253.3 242.8 306.1 239.3 252 243.8 299.7 235.2 256.2 242.3 251.9 243.8 250.8 243.4 222.3 243.4 242.8 242.8 238.3 244 222.5 243.1 267.8 242.8 258.4 241.2 219 243.3 231.3 242.8 303.4 242.1 229.2 243.3 251.9 243.5 306.5 236.1 227.3 243.1 255.3 242.8 292.3 241.9 218.4 244 223 243.1 304.5 243.7 281.3 240.1 241.3 242.4 262 242.8 240.1 243.7 300.9 240.5 306.4 236.3 223.3 243.1 266.1 242.8 234 243.3 254.8 242.7 286.7 242.8 284 243.4 234.5 243 248 243.3 256.8 243.9 253.1 243.1 281.1 243 291.1 242.1 248.3 243.6 258.3 242.1 223 243.7 251.3 243.2 306.1 235.8 264.1 242.5 269.3 241.3 273.9 240.4 270.2 243.8 292.6 237.7 241.1 242.7 246.5 242.1 300.4 239.2 263.8 241.7 307.3 241.6 229.7 243.7 290.6 243.5 261.3 244 261.4 243.3 299.9 241.6 228.9 243.7 265.2 244 240.2 244 249 241.7 293.8 238 254.2 243.2 290.7 242.7 217.9 243.8 311 240.3 306.9 243.9 280.7 240.5 235.2 243.5 278.7 243.3 234.6 242.7 251.9 242 219.9 243.5 223.2 243.2 231.5 243.3 233.8 243.7 295.8 235.5 239.7 243.1 294.6 243.5 217.2 243.9 222.1 243.7 222.4 243.3 304.7 234.5 293.8 235.8 218.1 243.5 304.6 234.4 238 242.9 241.6 242.3 271.8 239.6 236 243.3 308.7 240.6 251.2 242.9 270.6 242 270.7 243.1 243.2 242.3 286 238.1 310.4 241.7 272.9 242.3 224.5 243.5 293 243.5 279.6 244 262.9 242 278.4 242.5 241.3 242.6 245.3 242.5 265.3 242.8 223.1 243.5 272.2 241.9 233.8 242.9 240.6 243.4 301.7 235.7 272.2 240.9 239.7 243.2 282.7 242.1 310.8 236.5 301.4 235.4 292.1 243.2 248 241.9 271.7 240.6 271.9 243 225 244 282.1 240.8 265.9 243.8 265.9 240.4 286.3 241 223.9 243.6 236.7 244 310 237.6 244.9 242.6 240.7 243 223.4 243.1 246.1 242.4 269.6 241.1 220.3 243.6 243.9 243 240.8 243 231.2 242.7 291.4 237.4 307.5 242.6 303.1 242.7 258.3 241.7 222.9 243.7 249.6 243.2 266.2 243.4 252.5 243.9 285.7 242.7 286.8 238.9 301.3 237.9 260.9 242.5 239.1 242.8 302.7 237.1 300.2 242.1 228.6 244 236.6 244 279 243.9 294.2 239.3 307.3 241.9 218.6 243.4 234.5 244 256.6 242.2 268.7 242.5 290.2 241.6 269.2 240.5 265.6 241.1 239.2 243 278 238.7 271.6 240.5 306 244 234.5 243.3 228.4 243.4 250 242.8 247.4 242.2 259.4 243.2 232.8 243.1 283.4 238 294.4 243 217.2 243.5 302.6 237.2 225.2 243.6 245.5 242.1 262.6 243.7 256.7 243.2 237 242.8 285.5 238.2 295.9 237 238.1 243.5 232.2 243.4 265.7 243.1 230.6 242.9 305.4 233.8 297.1 238.2 295.5 242.7 255.5 242.2 291 237.6 253.6 241.6 259.9 242.4 226.6 243.2 220.1 243.4 280 242.3 234.9 243 307 237.7 270 241.8 271.1 242.3 301.1 239.7 244.7 243.2 217.6 243.5 237.4 243.1 259.9 242.2 231 243.7 243.1 242.7 286.3 241 252.2 243.8 248.9 243.1 238.7 243.7 266.8 241.2 310.7 242.5 232.6 243.9 296.3 241 289.8 243.4 273.4 241.1 267.9 243.9 265.7 243.8 226.3 243.7 270.4 242.6 310.1 242.4 285.5 239.2 260.7 241.3 258.5 242.7 298.8 238.4 217.2 243.9 235.5 242.7 307.1 243.3 278.4 242.6 294.8 239.1 267.1 243.7 220.5 243.5 267.3 241.5 276.1 242 225 243.1 262 242.8 305.7 239.8 222.5 243.2 221 243.3 226.3 242.9 281.1 243.6 301 238.4 231.4 244 296.4 240.2 237.6 242.9 267.5 240.9 288.8 242.6 227.7 243.5 261.7 243.6 298.5 239 250.1 242.8 292 236.2 259.5 242 305.8 235.9 254.5 243.8 294.4 239.1 223.7 243.7 248.6 242.7 230.4 243.7 254.8 243.2 254.9 242.2 239.3 243.3 256.2 242.4 281 239.5 271.2 243.8 239.6 243.7 283.8 242.1 283.6 243.8 256.5 243.7 260 241.3 233 243.9 295.5 239.8 250.3 242.9 244.3 243 304.4 242.6 245.5 243.4 235.3 242.9 252.7 243.6 265.3 242.5 274.6 240.5 254.3 243.3 281.3 243.4 218.8 244 304.2 233.4 260.2 244 259 243.4 258.8 241.7 242.7 243.8 293.6 243.4 259.4 241.6 225.6 243 249.7 241.6 262.4 241.7 250.6 242.7 226.3 243.3 300.6 236.6 230.9 243.7 285.5 239.4 256.7 242.1 263.4 243.8 280.6 239.4 218.2 243.5 262.9 243.2 260 241.6 257.1 243.2 216.7 243.7 217.7 243.5 262.9 242.6 259.7 242.3 248.2 242 227.6 243.1 251 243 280.2 240.4 294.1 239.5 288.8 238 216.8 244 248.6 242.7 262.8 241 293.6 235.9 270 243.2 292.4 244 281.7 238.9 223.4 243.8 309.3 240.8 269.3 241.7 273.7 240.9 241.1 242.6 301.9 240.2 311 239.5 249 241.8 262.8 242.5 222.6 244 288.7 240 277.4 241.5 238.7 244 295 241.4 268.3 242.8 304.4 235.3 294.1 238.3 226.1 243 239 242.5 296.8 235.9 219.6 243.5 228.9 243.8 303.5 239.4 293.2 239.9 240.7 242.3 248.6 242 220.2 243.4 228.6 243 217.7 244 272.1 242.1 274.3 241.6 230.2 243.4 295.4 242.9 262.7 242.8 273.2 240.3 279.2 240 236 242.8 292.6 240.5 255.4 243.4 263.7 242.4 228.5 242.9 240.7 243.5 259.6 243.1 285.1 239.3 259.8 242.5 269.6 243.2 288.1 240.7 254.7 241.7 218.1 243.4 269.7 242 305.8 243.1 220.2 243.3 260.3 242.2 278.5 242.8 262.8 243.9 226.4 243.9 265.2 243.7 224.1 243.5 223.2 243.7 248.6 242.2 233.4 243.2 264.3 241.4 305.9 238.8 236.9 243.2 310 233.7 249.6 241.8 295.6 243.8 266 241.1 290.4 242.8 298.4 238 296.2 238.9 230.6 243.8 300.8 237.4 227.9 243.7 286 238.9 220.9 243.2 245 243.1 229.1 244 275.4 240.4 246.4 242.1 270.1 242.7 237.2 242.8 254.3 242.1 301.8 240.3 273.1 243.2 262.6 242.8 285.2 242.2 310.4 235 248.2 242.7 227 243.2 239.4 242.4 231.4 242.9 254.9 241.9 286.7 240.5 289 239.1 226.8 243.6 231.9 243.4 250.6 243.7 296.4 241.7 262.3 242.1 267.6 243.3 244.1 242.2 268.6 242.2 273.8 241.1 248.4 243.2 273.4 241 287.9 237.3 250.1 242.7 259.7 243 228.9 242.8 241.1 242.2 220.4 243.5 221.9 243.9 224.6 244 301.4 242.1 285.8 240 271.9 241.9 292 239.1 233.2 243.2 249.9 242.5 271.6 242 297.4 244 267.7 242.2 228.5 243 220.8 243.4 219.9 243.8 288.1 241.8 301.1 240.3 230.3 243.7 293.1 243.5 220.6 243.2 295.5 236.9 283 242.6 261.3 241.7 261.7 243.6 237.3 243.8 304.6 238.6 242.3 242.5 241.6 244 289.5 237.4 271.1 243.1 265.4 243.3 270.6 240.1 227 243.8 226.9 243.7 309.1 232.2 283 243.1 274.7 243 269.6 242.8 238.8 243.2 231.4 243.4 271.8 242.9 217.6 243.6 219.2 243.8 249 242.9 272 241.2 304.5 234.8 259.4 243.8 245.5 243.4 306.8 237.5 244.7 242.1 262.1 243.8 261.7 241.8 220.8 243.6 226.6 243.5 217.4 244 291.6 241 252.5 243.3 280.9 241.4 258.8 243.2 263.4 240.9 298.3 236.8 253.9 241.5 226.2 243.7 279.8 240.9 219.4 243.5 265.3 243.7 251.4 243.7 256.9 242.7 285.4 240.7 295.9 243.2 307.6 239.1 290.3 243.7 294.1 243 305.1 235.9 253 242.2 249 242 219.2 243.4 259.5 241.7 221.9 243.5 236.8 243.9 255.6 242 255.5 243.6 288.9 239 260.4 240.8 283.4 238.7 218.8 243.2 284.8 241.8 288.6 240.2 217.8 243.6 249.8 242.5 276.7 238.9 229.6 243.9 292.8 241 308.5 238 290.7 239.7 275.2 242.9 290.7 240.2 305.3 233.8 306.9 241.1 248 243.9 277.8 241.3 225.5 243.4 303.1 234.1 222.1 243.2 243.8 243 270.8 240.8 237.7 243.6 256.4 241.3 249.7 241.6 279.6 242.2 265.5 240.9 295 242.3 275.3 243.5 284.7 239.8 218.1 243.2 280.5 240.7 302.6 236.6 229.4 243.6 290.6 236.9 290.8 243.2 224.5 243.8 274.7 240.2 246 242 251.5 241.8 310.6 234.6 270.5 243.1 261.7 242.8 291.9 239.6 253.6 242.4 228.8 243.4 309.3 234.9 231.9 243.7 301.8 240.8 308.9 243.8 260.9 243.9 228 243.2 260.1 242.5 267.9 243.3 290.9 243.4 311 237.2 239.7 242.3 219.8 243.2 309.4 234.9 216.8 243.4 307.6 240.2 301 243 301.6 239.8 254.6 241.3 235.5 243.5 273.1 239.7 257.5 242 283.7 239 234.7 243.6 261.1 242.8 302.9 242.2 272.3 241.8 304.3 242.8 287.5 237.8 229.3 243.7 277.6 242.7 234 244 223.4 243.2 273.7 243 217.4 243.8 221.6 243.3 253.5 242.7 233.7 243.6 279.4 239.3 242.9 244 239.5 242.6 268.7 241.1 266.2 241.2 296.5 242 294.2 239.9 304.9 237.4 227.1 244 221.9 243.1 287.6 239.9 254.4 243.7 221.6 243.6 266.7 240.3 246.9 242 236.8 243.1 279.4 242.8 286 239.8 241.2 243.3 279.5 241 237.9 242.7 300.3 236.9 254.3 242.7 261.3 240.8 232.5 243 260.5 243.1 242.8 242.3 290.7 243.7 229.4 243.9 267.1 241.1 254.8 242.8 302.9 236.6 278.5 243.8 269.8 243.8 230.4 243.4 226.4 243.7 273.8 241.4 303.6 238.9 224.3 243.5 256.5 241.3 251.6 243.7 218.7 243.4 275.6 240.8 260.4 242 262.2 243.2 295 237.2 275.5 239.4 239.3 242.5 307.4 237 304 233.8 282.1 238.9 228.2 243.5 276.4 240.8 216.8 243.2 243.7 244 257.7 241.3 260.2 242.9 291.1 238.3 269.4 241.9 277.8 243.3 259.1 243.7 285.7 238.7 234.3 242.6 301.5 235.3 296 238 302.9 241.1 306.5 235.1 290.6 236.5 244.1 242.4 303 235.4 293.2 242.6 261.2 241.8 225.9 243.1 308.7 233.3 236.8 242.6 233 243.3 269 243.5 297.8 242.5 242.1 242.1 236.3 243.5 290.8 243 270.1 241.4 270.3 240.1 272.9 243.8 293 243.8 290.4 242.7 241.6 243 250.9 243 311 243.2 295.8 240.1 267.7 241.1 246.9 243.7 301.7 239.3 243.3 243.9 260.3 241.1 272.7 241.6 289.1 239.7 283.4 240 281.5 239.7 236.2 243.7 248.6 242.3 287.5 240.3 271.2 242.6 302.8 237.4 223.3 243.7 309.6 240.6 263.2 242 244.6 243.5 226.1 242.9 223.1 243.5 310.3 238.7 291 241.3 309.1 243.5 296.7 241 257.3 241.6 234.8 243.7 267.3 242.3 239.2 242.9 231.7 243.4 269.1 242 270.5 242.2 309.6 236.1 292.6 239.2 218.3 243.6 232.8 242.8 269.4 242.5 283.5 239.3 310.1 239.8 268.6 243.6 260.9 242.5 217.6 243.9 257.7 241.2 298.1 235.5 222.1 243.9 266.2 240.8 306.5 243.1 307.6 239.4 218.2 243.8 245.6 243.9 235 243.9 309.4 232.2 292.1 243.3 242 242.2 253.1 243.4 280.4 240.5 219 244 232.4 242.9 291.2 243.8 245.5 242.5 239 243.9 302.6 237.4 284.7 241.4 297.7 235.1 290.6 243 265.1 243.4 234.1 242.9 282.3 238.6 268.4 244 285.5 241.5 280.4 243.7 291.2 241.1 221.8 243.9 232.2 242.8 300 236.7 281.4 238.6 298.6 238.1 221.9 243.9 265.9 243.7 217.8 243.7 231.5 244 221.1 244 234.5 243.2 240.9 242.8 223.4 243.5 278 240.9 271.9 242.4 281.4 241.8 309 236.5 243.2 242.9 239.6 243.5 245.4 242.6 293.6 242.8 278.4 239.8 287.5 242.8 238.9 242.4 229.2 243.4 261.3 242.8 302 238.5 241.1 242.3 288.7 236.9 283 243.7 251.2 242 282.7 239.7 303.6 237.2 236.6 243.9 241.2 243.4 253.5 243.5 235.3 243.1 254.5 243.6 285.8 242.5 297.5 235.7 279.4 242.3 267.8 243.9 303.6 234.7 234.3 243.2 282.5 243.3 252.5 242.3 305.1 234.7 235 244 240.7 242.8 227.4 243.7 259.6 243.4 281.7 243.6 244.2 242.4 301.4 240.8 292.3 240.1 242.2 243.8 273.6 241 278.6 239 229.5 243.2 277.9 242.3 275.7 240 298.9 238.3 244.7 242.9 229.6 243.8 268 242.6 297.7 243 228 243.1 236.2 243.2 226.5 243.1 309.9 236.3 288.5 243.2 225.4 243.9 296.7 241.9 257.9 241.1 218.9 243.9 222.4 243.7 240.1 243.3 220.3 243.5 232.5 244 222.6 243.6 229.9 243.8 225.9 242.9 256.8 243 294.7 242.6 290.7 240.6 266.7 242.8 222.5 243.3 306.2 236.7 222.8 243.4 217.8 243.5 287.4 239.3 275.7 241.2 288.2 243.4 242.6 243.9 301 235 299 241.7 220.8 243.1 307 239.9 289.3 243.5 297.3 238.9 261.9 242.9 291.7 241.4 302.7 236.8 301.4 236.1 242.8 243.8 232.8 242.6 277.9 238.9 258.6 243.7 297.8 240.8 259.3 242.2 231.6 243.7 252 241.9 307.6 239.7 282.6 241.8 232.5 243.6 234.4 243.5 253.1 243.3 305.5 241.8 265.4 240.2 242.1 243.9 236.6 243.7 240 243.3 267.2 242.2 236.7 243 226.6 243.9 294.3 237.9 278.5 240.8 272.9 240.9 240.7 243.7 256.3 243.5 299.7 236.1 241.4 243.4 257.5 241.9 225.9 243 253.4 242.4 224.6 243.8 289.4 237.7 310.9 243 223.7 243.7 250.7 241.9 306.6 233.6 228 243.9 293.2 243.2 227 243.9 260.2 241.8 290.6 242.4 291.2 240.4 292.6 238.9 247.2 242.1 267.6 241.8 228.8 243.9 310.5 232 285.9 238 253.7 243.1 263.3 243.4 271.7 242 250.5 242.9 247.8 243.3 302.4 241 231.6 243.3 306.4 233 268.5 241.5 260.1 242.2 261.1 240.9 218 243.3 247.4 242.9 260.1 241.4 221 243.8 217.7 243.4 217.2 243.4 275.1 241.3 217.3 243.6 306.7 237.2 275.7 239 284.5 239 220.6 243.8 264.6 241.3 236.2 242.6 303.6 239.9 250.2 241.7 235.4 243.3 257.3 242.5 247.1 242.6 230.2 243.9 290.3 240.2 237.1 243.4 302.5 234 286.2 241.3 298 239 285.5 240.7 300.2 243.9 307 241.6 217.6 243.3 241 243.8 302.2 239.7 268.1 241.8 303.7 243.5 260.3 240.8 248.9 242.3 295.3 236.5 241.5 243.1 255.1 241.3 294.7 241.5 253.5 243.1 278.6 242.6 230.9 243.2 236.4 242.9 309.2 233.4 234.9 243.6 232.2 242.7 218.1 243.7 223.9 243.9 254.4 242.7 274.8 243.6 299.9 239 310 243.9 250.2 242.1 263.5 240.9 254.6 244 260.4 241.4 297.4 236.6 255.7 241.7 286.9 240.5 297.5 236.5 255.2 241.2 248.8 241.7 225.2 243.8 280.3 243.5 292.1 237.7 276.5 242.8 242.7 242.9 283.1 241.4 237.7 243.2 292.6 237.1 305.6 242.8 247.4 242.4 273.7 240 259.6 242.3 248 242.1 300.9 239.4 246.4 244 291.5 243.6 287.8 243.7 227.2 244 294.9 237.9 252.1 243.9 251.4 241.5 258.7 243.6 254.4 242.5 256.4 242.8 287.9 240.8 246 244 231.6 243.3 288.1 239 257.2 242.7 267.5 242.4 232.9 243.3 280.4 243.3 274.6 243.6 276.7 239.7 304.6 239.6 223.7 243.1 265.7 240.5 221 243.8 251.3 243.8 277.4 239.9 293.5 240.3 242.8 244 301.3 237.4 303.7 242 303.6 237.1 258 241.2 275.7 240 261.6 241.1 223 244 242.5 242.5 295.8 239.6 233.7 243 258.6 242.1 280.4 238.6 255.6 244 271.7 240.9 270 240.2 228.8 243.4 220.3 243.2 266.1 240.2 276.5 238.9 269.3 240.6 308.8 232.2 231 243.8 224.8 243.5 295.5 238.7 300.9 240.2 308.2 237.5 301 242.2 254.2 243.5 270.2 239.9 276.8 243.7 270.5 241 256.3 241.8 294.8 238.1 289.5 238 219.6 243.8 303.1 233.8 256.4 242 285.7 238 308.3 233.6 278.1 239.5 241.6 243.4 273.9 242 257.3 242.6 233.8 243.2 231 243.4 289.1 242.8 257.2 243.1 258.1 243.6 250.4 241.7 274.3 243.9 275.8 243 291.6 238.8 245.3 242 273.5 243.9 264.6 241.9 225.6 243.3 298 241.1 274.2 241.8 262.3 243.5 265.6 240.3 266.1 242.1 255.4 241.5 265.1 242.7 294.6 240.8 252.2 242.5 288.3 239.8 217.8 243.8 246.7 243.2 286.9 243 278.5 238.6 225.7 243.2 250.4 243.9 258.4 241.5 293.6 237.7 226.9 243.6 231.1 243.1 245.1 242.6 255 241.8 283.4 239 253.8 241.8 284.5 241.2 238.2 243.8 250.8 242.6 289.7 241.5 257.6 243.9 264.7 243.3 256.7 243.4 225.5 243.3 264.6 240.4 220.9 243.4 231.5 242.9 286 243.5 286.9 238.3 308.3 243.8 287.4 242.2 254.2 242.4 236 243.4 236.3 243.7 240.7 242.5 302.9 243.3 257.2 243.7 266.3 243.8 265.4 243.7 227.6 243.8 273.8 240.4 217.1 243.4 276.8 240.4 238.4 243.1 307.3 242 276.2 243.6 263.5 241.2 227.8 242.9 242.5 242.2 243 243 304.6 235.5 265.4 242.4 264.9 243.9 261.3 243.9 250 243.8 279.8 239.1 260.7 240.9 269.7 240.3 283.9 240.2 277.6 240.9 233.3 242.9 302.5 240.5 232.7 242.7 269.9 243.8 303.3 233.8 309.6 234.5 250.2 242.2 269 241.3 277.9 239.9 238.7 243.3 255.8 243.1 273.6 241.9 236.3 243.2 288.1 238.6 310.8 240.6 217 243.8 310.8 241.4 262.9 240.5 291.4 237.9 263.4 241.2 260.7 240.9 224.1 243.5 242.2 243.1 220.3 243.7 267.7 242.4 279 242.8 254.6 243.6 301.5 238.3 306.8 232.9 239.6 243.6 247.7 242.6 235.5 242.9 237 243.9 280.8 243.8 288.9 239.7 308.2 233.1 265.7 242.7 254.9 243.5 306.1 237.1 221.4 243.9 266.1 242.7 244.8 243.9 285.8 243.6 247.5 242.6 228.8 243.9 306.6 239.1 307.4 240.3 304.5 239 231.9 243.4 247 241.8 252.4 242.7 255 242.2 266.3 240.3 294.2 237.8 310.9 237.1 288 242 288.9 238.5 261 241.2 244.8 242.9 308.5 234.2 253.9 243.9 307.8 237.6 287 238.4 247.8 244 236 243.2 284.6 243.3 279.8 240.3 271.1 241.8 267.8 243.3 242.6 243.6 303 237.7 264.7 242.1 303.2 240.5 292.7 240.3 287.2 241.5 232.3 243.8 229.9 243.2 251.3 242.3 306.6 235 228.9 242.9 222.2 243.1 235.5 243.2 240.5 242.5 272.5 242.5 228.2 242.8 288.4 238.3 271.7 241.1 273.2 242.9 294.6 235.9 248.7 243.8 306.2 236.7 260.1 242.9 278.8 242.2 291.1 243.5 252 241.6 294.4 241 220.6 244 267.1 242.1 266.1 242.1 225 243.7 270.5 240.7 309.4 242.3 281.9 242.5 246.8 243.4 273.8 239.8 290.3 240.4 287.7 240.4 287.3 238.2 292.6 242 254.8 242.9 287.3 241.9 262.8 241.5 333.5 227.6 357 217.7 335.2 241.8 348.2 229.1 309.3 221.1 350.9 238 355.3 238.7 349.6 234.2 306.8 238.2 314.2 242 308 229.5 319.1 240.4 318.6 240.7 346.6 236.5 323.2 237.6 317.4 242 322.1 239.5 316.2 235.6 355.2 240.5 340.5 233.4 309.8 242.6 332.9 241.6 320.6 239.1 330.8 239.4 336.3 238.2 312.2 242.8 342.5 226.2 317.8 241 333.3 228 341.5 240.8 349.4 234.6 321.1 234.2 332.3 241.4 309.1 229.2 313.2 240.3 322.9 237 324.7 235.6 321.4 239.6 306.9 241.5 334 232.4 334.6 198 322.5 242.7 346.9 239.8 350.9 242.8 357.4 235.5 340.2 238.1 328.7 236 313.3 240.6 339.2 213.9 329.8 217 312.6 237.8 356.5 239.7 320.1 230.8 339.8 239.8 346 226 332.5 239.6 342.1 239.8 356.5 218.4 345.4 225.7 306.1 242.7 309.5 241.5 355.3 242.8 316.5 242.3 315 219.9 323.8 240.1 346.5 242.4 332.8 242.6 321.1 234.9 318.3 240.8 316.3 239.6 333.6 239.2 318.4 228.3 332 236.9 317 229.4 353.3 241 318.4 242.2 337.2 233.9 325.6 232.6 316.9 241.2 336.6 231.9 322.6 235.5 355.9 239.9 354.5 232.8 354.1 242.5 343.4 236 353.7 234.6 336.5 221.7 315.3 243 316.3 242.6 316.6 237 308.5 241.3 324.7 239.9 333.4 230.9 328.4 230.6 311.5 231.1 348.6 234 356.6 236.3 342.5 231.8 306.9 242.1 329 237.5 339 235.3 313.4 224 346 241.1 325.8 239.3 330.8 239.1 314.4 230.4 330 238 315.6 241.9 342 231 329 233 351 236.8 313.4 235 342 236.2 306.8 238.3 317.4 242.4 313 235 313.7 242.2 343.2 236.6 313.2 239.6 308.2 237.1 338.4 241.5 320.2 239.4 310.1 241.5 336.9 236.9 338.1 239.6 328.3 240.7 310.2 240.4 332.6 239.6 307.6 241.4 327.1 219.7 320 242.1 307.6 237.6 326.1 234.2 328.8 234.3 311.2 219.7 307.8 238.8 353.5 227.6 321.4 234.9 315.3 237.2 333.6 232.3 342.8 241.1 326.4 239.3 334 239.6 335.3 239.2 313.3 238.4 347.4 223.6 349.1 232.8 324.3 233.3 357.8 241.5 329.9 235.3 333.6 235.8 334.7 236.9 309.8 228.3 308.9 241.3 351.1 209 346.7 242.5 311.5 230.7 342 242.2 319.4 242 311.5 241.5 354.9 228.9 323.5 242.3 312.9 235.9 350.6 235.7 305.8 240.9 305.9 238.1 329.9 226.3 333.1 242.3 330.9 240.2 326.6 234.2 326.8 228.5 341.5 235.9 312.1 240.5 348.1 215.4 307.3 236.8 308 236.8 307.1 240.2 337.3 237.3 335.4 226.9 341.1 242.7 324.6 236 319.1 241.7 305.8 239.7 332.3 241.6 318.9 240.4 325.7 240.3 349.5 222.6 305.9 238.7 342.8 242.3 308.9 229 321.3 229.2 349.6 239.3 346.3 229.7 311 237.3 343.5 233.4 306.7 232 332.1 237.6 316.2 239.8 324.6 236.7 312.9 237.3 317 240.2 339.9 241.9 334.8 208.7 310.3 238.5 322.8 204 333.6 222.5 340.7 235.2 352.5 241.5 310.8 230.2 309 239.8 311 230.4 322.8 238.4 346.3 224.3 336.3 240 341.6 234.4 341.6 234.5 330.4 233.6 316.3 239.6 314.3 238.3 333.5 239.4 351.1 241.3 348.9 228.9 346.5 237.9 323.5 239.3 335 237.1 353.2 241.9 334.1 238 308.5 241.3 356 236.9 329.3 241.2 343.1 240.7 311.4 239.2 331.4 233.5 350.5 241.8 322.8 237.3 356.8 231.2 311 234.6 322.6 242 355.1 205.6 333.7 233 317.3 230.7 345.8 234.4 349.5 237.1 333.2 242.4 333.6 241.6 328 240 323.6 239.8 322 234.5 327.3 236.2 316 242 310.1 242.3 343.3 241.6 310.6 241.1 355.5 233.3 335.1 229.5 348 230 310.1 240 324.6 235 342 212.2 319.8 231.7 335.1 241.5 349.9 216.7 346.9 239.7 334.9 204.7 329.5 241.5 319 242.4 351.3 228.6 324.8 241.8 345.8 238.4 350.8 240.4 322.2 222.1 326.7 242.7 348 230.8 318.1 240.8 344.7 241 344.9 232.4 309.9 233.7 334.3 239.4 309.2 232.4 317.3 241.6 354.3 242.4 323.4 233.9 310.2 228.3 313.2 242.3 329.9 235.6 324.8 237.1 343.7 233.1 351.7 231.6 325.2 241.2 351 240.1 342.9 242 345.6 234.6 311.5 241.7 332.4 217 351.7 226.5 332.8 240.9 342.1 236.5 335 242.5 340.6 228.3 320.6 242.3 323.3 218 349.7 241.8 348 226.1 354.7 235.1 316.9 240.5 335.7 233.8 310.7 236.1 335.7 238.2 324.9 240.6 346.2 235.2 322.9 238.5 322.2 241.3 311.1 242.6 316.1 234.1 321.3 241.9 307.4 241.8 334.8 242.7 348.9 220.3 352.9 233 312.6 241.8 312.2 229.8 319.4 232.2 308.3 241.6 349.7 241.1 310.6 240 324.6 240.3 325.6 235.5 312.5 240.7 310.3 242.7 310.8 227.5 349.2 232.9 345.7 241.4 321.1 242.8 315.1 235.2 346.6 237.5 319.6 240.4 327.9 238.4 353.1 239.6 351.1 225.6 313.7 235.3 307.4 240.5 310 240.3 330.8 236.6 340.8 205.8 348.5 237.7 330.6 239.6 349.2 236.8 344.6 237.6 306.1 241.8 333.6 227 318.2 240.9 353.8 241.8 330.1 238 318.1 238.1 333.5 238.5 328.3 242 305.8 242.6 342.7 240.7 306.1 239.5 330.5 233.9 326.1 240.1 328.3 223.8 315.2 242.2 342.4 234.2 341.9 213.9 314.1 226.2 318.7 242.3 351.6 222.6 326.5 229.1 343.7 231.2 340.6 226.9 354.6 227.6 340.7 233.1 351.8 229.6 306.3 241.2 326.1 229.3 312.5 230.1 310.8 234.2 345.4 237.8 324.9 220.9 352.9 233.1 339.8 224.2 327.9 236.2 312.6 239.2 316.3 241.8 353.7 238.4 336.6 216.3 324.4 238 340.2 227.6 351.8 231.2 329.3 241.2 307 238.2 307.8 241.5 312.6 234.5 315.2 241.4 330.9 242.7 345.1 202.5 348.8 240.7 342.3 239.3 310.3 238.1 337.9 238 320.2 242.5 351.2 239.8 356.4 218.8 340.3 205.7 344 241.7 321.2 240.1 351 240 356.5 231.1 327.8 238.6 357.4 236.6 333.5 222.9 320.8 226.1 332.9 240.2 322.7 237.6 353.6 238.5 310.6 235.6 317 240.2 323.2 235.9 350.4 240.3 310.9 241.9 353.6 239.3 313.7 242.1 332.7 236.3 350.5 242.6 326.2 237.3 341.2 242.7 341 233.8 332.2 240.7 323.2 231.3 325.8 217.3 340.1 232.1 342.7 238.9 350.3 205.4 350 241.9 335.4 241.6 356 240.6 332.8 239.4 354.6 239.3 339.8 241.7 327 225.3 312.6 241 349.1 240.7 315.6 241.2 331.7 241.5 357.4 226.8 317 240.1 355 222.9 348.1 237.8 318.2 227.6 343.7 211.7 337.5 242.3 345.8 241.2 307.6 241.7 315.9 241.4 330.6 231.3 317.7 240.8 338.8 233.5 318 227.4 346.2 241.7 308.9 238.4 313.1 242 315.5 234.2 348.2 226 313.8 233.2 329.4 238.3 351.6 242.9 334.7 214.1 309.4 241.4 354 242.2 351.8 238.4 350 226.9 330.3 242.7 341.8 241.4 313.4 242.2 334.8 240 338.9 222.6 330.5 242.7 327.1 240.2 307.6 241 334.6 237.6 327.5 236 334.5 237.1 319.6 234.9 329.1 242 335.8 242.3 348.4 234.7 350.6 237.6 333.8 239 312.7 236.7 325.9 237.8 333.8 238.5 327 238.9 312.5 242.4 340.8 240.9 317.8 238.9 335.1 235 338.5 238.3 340.7 237.6 329.7 242.7 344.5 242.3 346.8 241.9 311.4 235.1 330.4 239.4 347.7 235.9 346.2 234.5 345.5 234.8 326.7 234.5 334.6 235.1 339.4 241.8 350.6 239.4 318.4 237.3 336.9 240.3 311.7 241.7 347.8 240.5 337.3 242.2 320.3 242.3 313 239 318.5 242.8 308.9 240.5 314.9 235 331.2 238 338.2 238.4 323 235.7 315 241.4 321.2 239.6 323 234.5 330 242.5 351.3 238.7 346.2 237.6 326.7 239.7 337.7 237.3 321 242.5 321.5 236 341.8 239.7 321.9 238.5 318.2 240.4 318.4 239.1 320.5 242.5 337.5 242.3 348.7 239.5 333.3 235.9 316.4 234.7 347.3 242.8 346.5 238.7 313.5 237.6 308.2 239.8 311.7 241 340.8 236 335.1 239.1 315.7 238.2 346 240.7 313.8 235.4 315.5 241.7 345 242 322.3 239.8 346.8 234.5 340.2 238.3 333.3 242.2 342.5 240.8 325.5 235 330.5 242 331.1 240.7 349.7 239.9 310 238.4 320.8 240.3 307.9 239 345.8 239.4 345.3 241.3 313.9 242.7 310.2 241.2 328 240.6 334.3 237.8 349.7 235.2 308 241.2 337.3 242.7 319.9 236.4 348 242 327.7 239.8 341.9 238.2 329.1 241.5 312.8 240.4 337.2 240.7 328.8 239.3 322.1 240.8 324.9 236.7 312.5 238 335.9 236.6 322 234.6 323.8 242.4 319.1 241.8 324.5 240.9 336.6 240.1 317.5 242.4 319.3 238.8 307.8 241.2 326.7 237 333.5 240.9 341.7 240 337 241.1 349.1 241.6 325.6 241.5 318.6 235.8 333.2 236.6 319.6 235 348.7 237.8 339.5 241.5 351.8 240.1 316.7 242.5 315.9 236.6 335.5 242.6 326.7 240.6 317.3 238.5 316.5 236.9 320.2 239.9 323 240.5 330.6 235.4 333.4 239.4 351.4 235.3 329.3 241.7 317.9 241 306.1 239.9 327 239.5 341.2 242 335.6 237.9 309.7 238.4 335.1 238.9 318.7 239.2 349.1 241.6 340 242.2 340.9 242.2 337.3 237.9 307.8 240.6 343.7 241.8 310.5 235.1 306.1 235.6 307 235.2 318.4 234.8 350.5 236.2 324.4 235.3 322.2 235.7 320.9 238.8 308.7 238.9 328.7 241.5 351.8 238.6 342.9 238.4 351.4 242.4 311.3 236.6 319.2 242.5 330.5 238.9 306.5 236.9 309 242.5 326.6 242.3 323.9 236.1 309.5 239.2 334.4 234.7 342.5 235.8 316.3 239.5 342.4 238 350.3 242.8 344.1 238.5 310.7 234.6 314.7 242.9 341.7 240.7 341.1 242.5 309.9 242.6 319.3 236.3 320 238.2 347.2 240.7 350.1 235.8 316.3 240.2 321.7 236.4 311.8 242.6 307.2 235.3 350.7 239.6 335.1 237.1 314.1 241.6 330.7 239.3 321.6 235.6 351 241.8 337.9 234.8 328.1 236.2 329.1 238.4 307.7 236.3 310.5 234.6 323.3 236.6 310.3 237.4 337.5 240.6 337 235.1 314.3 239.2 324.5 236.6 341.3 242.5 306.8 239.1 313.7 241.1 307.5 240.9 327 241.4 346.9 240.5 318.6 235 342 236.2 328.5 238 330.9 237.6 343.7 240.1 343.7 238.5 316.8 240.5 332 239.2 336.2 238.7 313.7 241.9 326.5 234.5 306.3 241.2 326.3 240.2 343 240.9 312.8 238.8 340.4 236.1 311.7 236.3 325.6 242 340.7 235.9 322.4 240.3 331.2 236.3 331.1 241.3 344.6 239.4 332.9 241.5 313.8 240.4 315.9 240 318.2 236.7 343.8 238.2 338.2 238.4 347.1 236.9 337.9 240.5 329.3 235.1 328.9 237.5 350.9 238.7 329.6 240.5 331.1 235.6 342.7 241.1 311.9 235.9 319.7 238.5 342.8 237.8 314.1 235.2 314.6 240.5 315.6 238.8 349.7 242.1 351.9 238.4 312 236.6 323.9 241.9 320.9 236.6 320 240.3 318.4 240.6 334.8 236.9 339 236.9 311.1 242.1 305.7 236.4 313.9 241.5 332.7 235 339.3 241.8 346.5 236.7 328 241 307.4 238.3 331.7 238 345.6 238.9 327.7 238.9 352.2 235.4 346.5 239.2 317.7 237.5 348.1 240.9 312 241.3 340.1 234.7 314.7 240.4 309.5 236.9 315.7 240.7 334 237.2 350.6 235 316.1 241.2 341.6 242.5 323.4 235 311.2 238.4 344.2 237.9 321.3 236.5 309 235.8 328.7 237.4 334.8 240.2 341.6 236 344.2 237.4 323.2 240.6 349 241.9 341 237.6 320.8 238.2 310 239.4 336 240.6 316.9 236.6 332.6 234.7 342.9 240.4 314.7 238.9 325.8 234.8 323 238.5 331.4 235.5 325.3 240.6 320.6 239.9 336.2 239.1 328.4 241 342.8 242 312.2 235.3 350.5 241.3 310.6 239.8 313.4 241.5 343.4 235.2 340.5 236 345.4 239.8 338.3 241.3 322.3 240.9 334.1 242.4 318.8 240.2 335.6 237.4 336.5 240.5 325.5 239.2 330.5 235.6 327.6 238.3 348.9 238 333.8 241.4 324.5 240.9 317.5 240.1 344.8 240.6 306.5 237.4 323.3 240.4 318.5 239.5 322.3 238.6 336.2 242.7 342.6 238.2 341 235.3 311.9 239.1 314.7 239.9 320.4 235.9 341.4 241.1 351.9 242.9 307.9 237.5 343.6 239.1 342.3 240.5 333.5 240 351.4 240.1 334.9 238.4 337.5 238.5 333.4 237.9 308.7 238.9 327.8 236.3 318.5 235.2 315 235.4 316.7 239.3 306.8 234.5 330.1 235.3 344.9 239.7 338.4 240 322.4 236 327.9 237.5 351.9 241.4 323.4 235.2 345.2 240.9 324.2 240.4 310.4 235.6 332.8 239 326.2 201.2 332.6 202.4 328.8 196 328.9 202.4 324.3 200.7 326.5 203 328.7 202.5 320.2 202.8 324.5 203.6 325.4 200.6 329.9 202.6 330.9 202.1 325.1 201 331.9 205.3 327.5 204.3 326.7 202.6 331.3 202.1 324.5 198.6 324.9 209.4 323 205.7 324.4 206.3 319.8 203.4 335 204.3 329.2 208.4 333.2 206.2 322 206.2 321 208.5 331.7 206.6 326.1 205.4 325.8 200.8 325.4 203.4 322.6 205.1 324.6 205.8 333.8 204.3 323.4 200.3 331.7 200.1 328.2 206 329.6 204.7 330.7 203.3 323.8 202.8 335.8 200.1 339.4 204.7 339.9 209.2 340 206.3 342.2 198.6 340.2 207 337.8 203.7 335 200.3 338 203.1 336.7 209.7 310.4 215 310.9 217.4 312.1 216.7 311.9 214.3 311 218.5 311.7 217.1 311.9 217.6 310.1 213.6 310.5 218 311.7 218.6 352.5 181.6 360.9 147.7 366.9 145.6 360.8 148.6 362 146 362 148 359.7 147.7 357.5 146.3 363.6 146.5 359.6 147.2 354.7 145.4 356.6 148.7 358.1 151.5 355.6 147.1 358 147.8 356.8 148.4 356.8 146.4 353.6 151.2 362.6 148.5 354.6 146.3 354 147.7 360 146.3 357.4 147.7 357.6 149.8 363.6 149.8 355.8 147.8 354 149.9 355.3 145.9 356 149.3 358.8 150.6 359.6 148.5 361.5 147.4 356.7 148.3 359.5 148.4 355 148.8 356.5 150.6 358.4 147.9 354.5 147 363.2 149.5 356.6 147.4 355.2 150.5 355.1 147.9 358.7 149.6 363.2 147 353.8 150.2 358.4 149.8 355.2 148.6 360.5 148.2 356.3 148.6 351.1 147.2 354.3 148.2 357 148.6 356.9 145.8 362.6 146.8 359.2 147.8 354.7 147.6 360.3 150.7 357.5 149.9 364.2 145.2 357 150.2 355.9 146.8"/>
<path clip-path="url(#c5)" class="m" d="M390.3 243.6 389.6 242.9 390 242.3 390.9 243.5 389.8 242.2 391.2 242.8 390.4 243.1 393.2 242 392.7 243.4 393.3 243.9 392.7 242.1 392.4 243.7 392.7 243.2 392.2 243.7 392.3 243.7 392.1 243.8 391.6 242.9 392.5 243.1 392.3 244 394.9 242.7 395.4 242.9 395.3 242.7 394.1 242.1 394.7 243.6 393.5 242.7 397.5 243 396.4 243.5 397.3 243 395.5 243.3 397 242.9 399.1 243.1 397.8 242.7 398.8 243.3 397.6 243.4 398 242.9 400.6 242.3 401.1 242.8 401.4 243.4 400.5 242.9 400.3 242.1 402.1 243.2 402.5 243 402.5 243.3 402.9 243.9 403.1 242.1 405 244 404 243.7 405.4 242.8 406.3 243.2 407.7 243.3 409.3 243.5 412.1 242.3 412.8 242.8 411.8 242.7 415.4 242.7 414.9 243.4 415.8 242.7 418.3 242.7 420.2 243.2 419.8 243.4 420.3 242.8 423.7 244 425.7 243.3 427.2 242.8 428.9 242.4 429.2 242.8 438.6 242.7 439.9 243.5 441.5 242.4 442.4 243.9 443.9 242.9 452.1 243.5 452.6 243.9 453.8 243.4 390.4 242 390.7 242 390.1 240.9 390 241.8 392 241.8 393 241.7 393.3 241.3 391.8 241.9 391.6 240.8 392 241.6 393.4 240.3 393.1 240.6 393.4 240.5 392.9 240.7 394.4 240.5 395.5 240.7 394.7 241.7 393.6 241.6 394.5 242 394.9 241.3 395.1 241.8 393.5 240.7 395 241.7 395 241.5 395.3 241.4 393.9 240.3 395.7 240.3 396.5 240.8 396.4 241 396.8 241.9 396 241.6 395.8 240.7 396.7 241.1 399.1 240.9 397.6 240.4 398.1 241.9 398.6 241 397.7 240.9 398.1 240.1 398.8 240.2 398.1 240.3 400.3 240.2 400.2 240.7 399.8 242 400.5 241.5 403.3 241.1 401.9 240.6 403.3 240.7 403.3 240.1 407.2 240.3 406.4 240.8 409.3 240.7 407.9 240.5 411.6 241.5 413.3 241.1 413.3 242 414.6 240.5 413.7 240.8 413.8 241.8 414 240.5 419.4 240.3 419 241.3 421.2 241.1 422.6 240.7 421.6 240.9 424 240.3 426.4 240.9 435.1 241.9 389.7 238.7 391 239.7 390.8 238.2 389.9 239.3 390.7 238.7 392.9 238.1 392.6 238.9 392.4 238.4 391.5 238.7 393.2 239.8 391.7 238.2 393.1 239.1 391.8 238.4 392.4 238.7 391.7 238.3 392.6 238.6 392.3 238.7 394.9 238.6 394.1 239.7 394.9 239.8 395.5 239.4 394.7 239.1 394.4 239.4 394 238.6 394.6 238.3 394 238.8 393.9 239.4 393.9 239.5 394.1 238.2 394 239.9 396.1 239.6 397.1 238.1 399.4 238.2 398.7 238.6 398.2 238.8 398.5 239.4 398.2 239.9 397.8 238.4 398.1 238.6 399.6 238.5 399.9 239.2 401.6 238.9 405.4 239.4 404 239.5 405.4 238.3 406.6 239.7 406.5 239.3 406.5 238.5 406.5 239.1 407.2 238.2 409.3 238.1 411.1 238.8 410.6 238.6 409.6 238.9 412.4 238.3 413.5 238.4 414.9 239.4 415.5 238.8 415 238.2 418.7 240 417.8 238.2 419 239.7 420.8 239.8 420.3 238.2 427.8 238.3 433.3 238.9 433.2 238.5 433.7 239.2 440.8 239.9 445.1 239.1 390.4 236.4 391.4 237.5 390.2 236.8 390.5 237.4 390.6 237.4 391.7 236.3 391.7 236.1 392.9 236.2 393.5 236.9 391.5 236.1 392.8 236.7 392 237.4 391.7 238 392.4 237.6 392.6 236.9 392.5 236.9 391.6 236.6 392.7 237.7 395.3 237.7 394.3 237.2 394.5 237.4 394.1 236.4 393.6 237 394.2 236.6 394.8 237.6 397.4 237.4 397.3 236.7 395.8 236.4 396.3 237.3 397.1 236.7 396.8 237.5 396.6 237.2 397.3 237.9 395.9 236.1 398.9 237.3 399.5 237.6 397.6 237 401.3 237.7 400.2 236.7 401 236.9 400.6 237.1 401.5 237.5 402.1 236.7 401.9 236.8 402.8 237.7 404.3 237.3 404.1 237.3 404.6 237.5 403.9 237.8 405.6 237.9 407.2 237.9 409.2 237.3 409.2 237.5 409.1 236.8 407.6 238 408.9 237.9 411.4 237.6 410.3 236.8 409.8 237.5 409.8 237.3 410.9 237 409.6 237.3 414.6 236.6 415.5 237.6 416.9 237.3 416 237.1 417.2 237.6 417.5 237 417.7 237 425.2 237.1 424.1 236.1 424.1 236.6 426.4 237.3 390.1 234.8 390 234.6 389.9 235 391.3 234.4 392.4 235.9 393 234.4 392.5 234.1 391.6 235.2 393 234.4 395.1 235.4 393.6 234.6 394 234.7 395.5 235.3 393.9 235.4 395.5 234.7 394.7 234.1 393.8 235.3 395.4 235.2 394.6 234.2 395.9 235.3 396.7 234.7 396.6 235.8 395.7 234.3 397.2 234.4 396.8 234.3 396.7 234.1 396.2 235.5 398.7 234 398.7 235.3 399.2 234.2 398.7 235.2 399.3 235.5 399.3 235.8 399.6 234.3 400.6 234.6 405.4 235.4 405.1 234.2 404.4 235.8 405.7 234.9 407.1 235.3 406.8 234.6 406.8 235.3 407.5 235.5 406.7 235.2 407.6 235.8 408.4 235.4 410.6 236 409.8 234.3 410.8 234.2 410.2 235.1 410.5 234.1 413.4 235.1 415.2 234.7 414.4 235.3 417.2 234.8 417.5 235.7 418.5 235.4 419.6 235 421.1 234.6 421.2 235.2 425 235.1 423.8 235.7 425.5 235.2 426 235.9 441.8 235 447.2 235.5 446.8 234.3 448.6 235.2 456.8 235.8 391.1 232.8 390.6 233.2 389.7 232.6 391.1 232.9 390.1 232.5 392.4 232.7 392.5 233.6 391.8 232.5 391.6 233.5 393.4 232.1 391.6 232.8 393.5 232.3 392.4 233.5 391.7 233.5 391.7 232.8 391.5 233.7 392.7 233 392.5 232.4 394.7 232.2 395 232.3 393.8 232.8 394 233 394 233.3 394.6 233.5 394.4 233.2 396.8 232.1 395.7 232.3 397.4 232.4 397.3 233.3 397.2 232.4 395.7 233.3 399 233.9 398.8 233.8 400.4 232.9 400.9 233.5 403.5 232.8 402 232.7 403.4 233.5 401.9 233.4 405.4 232.5 405.2 232.4 406.9 232.6 406.1 232.9 406.7 233.1 408.9 232.7 411.6 233 413 233.1 412.2 233.2 414.5 232.2 415.1 232.2 416.3 234 416.9 232.9 418.5 233 431.4 233.4 433.7 232.6 445.7 232.6 448.5 232.6 455.7 232.2 390.6 231.2 389.6 231.9 391.4 230.1 390.5 231.1 392.8 230.9 392.6 231.5 391.6 230.5 392.8 230.2 392.9 232 393 231.3 393.1 230.1 393.5 231.8 391.9 230.8 393.1 230.1 394.5 231.8 395.1 231.3 393.6 231.8 395.3 231 394.5 231.1 394.8 231.6 396.7 231.1 396.4 231.3 396.5 230.9 397.1 232 398.4 231.2 397.6 230.1 399 231.2 398.7 230.9 398.2 231.5 398.8 230.6 398.5 230.6 399.2 230.8 398.2 230.3 401.1 231.5 399.6 232 400.3 231.6 401.1 231.9 402.7 231 402.8 230.4 402.6 230.4 402.9 230.6 402.1 230.3 401.5 230.2 405.1 231.3 406.8 231.6 407.7 231.2 407.7 231.4 413.4 230 415.3 231 417.4 231.2 419 230.4 419.2 230.5 420.4 230.4 422 231.4 425.1 230.3 427.1 230.1 428.9 230.2 428.5 231.1 429.2 230.8 432.8 231 448 231.3 449.9 231 389.8 229 389.7 229.8 392.4 230 391.8 228.7 392.6 229.9 392.9 229.4 391.8 228.5 393.3 228.7 391.6 229.1 392.4 229 392.5 229.1 393.4 228.4 391.8 230 392.6 228.9 393.5 229.4 392.9 228.1 394.7 228.2 395.1 228.3 395.3 228.4 394.3 229.2 396.5 228.5 397.3 228.7 395.9 228.9 399 228.3 397.8 228.4 400.7 228.1 400.6 229.5 399.9 228.5 403 228.9 402.1 228.9 401.6 228.9 404.1 229.2 403.9 228.8 405.8 229.3 408.2 229.5 410.8 229.9 410.6 228.1 411.7 229.1 413.5 229.5 413.6 228.2 413.6 229.2 417.3 229.1 418.6 228.5 420.4 229.4 435.4 229.4 440.2 229.4 455 228.6 460.6 228.3 390 227.3 391.3 227.9 390.2 226.8 391 228 392.6 227.9 392.7 226.8 391.6 227.9 392.8 227.1 392.1 227.9 393 227.5 392.7 226.1 394.3 227.3 394.5 228 394.7 227 394.4 227.6 393.7 227.1 394 227.9 395.7 227.8 396.8 226.5 395.8 226.4 397.5 226.9 397.5 226.3 396.1 227.3 399 226.1 398.4 226.4 398.2 226.8 401.8 228 404 226.3 404.3 227.6 406.1 226.5 407.2 228 406.9 226.4 408.1 226.7 408.6 227.2 411.1 226.8 410.6 226.7 412 226.3 413.8 228 415.8 226.3 421 227.1 423.3 228 423.8 226.3 425.4 228 426.8 226.7 429.1 227.5 440.3 227.8 442.7 226.5 390.5 225.7 390.4 225.7 390.8 225.6 390.2 225.2 392.2 224.4 392.5 224.9 392.4 224.3 391.5 225.7 393.2 224.1 393.4 224.1 392.3 225.9 393.1 225.5 392.2 224.7 393.5 225.6 394.9 225.9 394.8 225 393.6 225.4 395.2 224.6 393.6 225.9 394.4 224.2 395.1 225.4 395.1 224.2 393.6 224.1 393.9 224.6 393.8 225.3 397.3 224.8 397.4 224.7 396.9 225.8 397.9 225.4 399.9 224.3 399.8 224.4 402.6 224.4 405.3 224.6 403.8 226 406.4 225.3 408.3 224.4 411.2 224.5 412.3 224.1 414.8 226 415.5 224.5 414.5 225.3 413.8 225.2 414.1 224.5 414.1 225.1 415.4 225.3 417 224.7 417.1 225.5 421 225.9 422 225.5 423.5 224.7 422.9 225.7 426.7 224.3 427.3 224.9 435 225.8 437.3 224.1 439 226 439.5 224.2 457.3 225.1 391 223.3 390.1 222.6 393.1 222.3 391.8 223.9 392 223.5 392.2 224 392.8 223 391.6 222.4 393.4 223.3 392.4 223.5 393 223.9 391.9 224 392.1 222.2 392.7 223 392.4 223.1 394.8 223 393.9 222.6 393.8 222.7 394.4 223.4 395.3 223.5 394.3 223.5 394.4 222.9 393.7 223.3 397.1 222.9 395.8 222.6 395.5 222.4 397.1 222.6 396.6 222.2 397.6 223.3 400.3 222.9 400.1 223.1 405 223.8 405.8 222.5 406.1 222.3 409.4 222.6 410.6 222.5 411.3 223.9 409.8 222.8 410.6 222.5 411 222.6 412 223.8 415 222.8 413.6 222.9 425.2 222.7 423.9 223.9 426 223.8 425.7 222.2 426.6 222.3 431.2 223.7 439.9 222.1 450.8 222.7 457.4 223.8 462.9 224 389.7 221.1 390.9 221.7 389.9 221.7 390.3 222 393.1 220.3 392.3 221.4 392.1 220.6 392.6 220.3 392.5 221.9 393.1 220.8 393.3 221 392.1 220.1 392.4 221.9 393.5 220.6 394.4 221.8 394.9 221.3 393.6 220.8 393.6 220.6 393.6 220.9 395.4 221 394.7 220.7 393.6 221 396.3 221.3 396.4 221 396.5 220.9 397.2 220.2 398.5 221.6 398.7 221.7 401.2 220.6 400.9 220.3 401.7 220.1 401.6 221.3 403.3 221.7 404.2 220.7 404.7 222 406.1 220 406.1 220.9 407.8 220.1 408.6 221.5 409.1 221.6 414 221.3 416.6 220.8 416.4 221.4 418 220.5 419.5 220.5 421.2 221.3 423.4 221.5 425 220.9 424.2 221.9 425.7 221.1 433 221.7 449.6 221.9 390.2 219.1 389.8 219 391.4 218.6 391.9 218.5 393.2 218.5 391.6 218.1 393 219.6 392 218.8 392.5 219.5 391.6 219 392 219.3 392.7 219.8 395.1 219.2 395.5 218.2 393.9 219.9 394.7 219.6 393.7 218.5 393.9 219.9 394.2 218.7 394.2 219.3 395.4 219.8 394.2 219.2 395.5 218.3 394.4 218.6 397.3 219.2 395.5 219.2 396 219 396.4 219 396.4 219.8 399.3 219.9 399.4 218.3 399 220 400.7 219 400.1 219.6 403 219.6 401.7 219.9 403.5 218.4 403.6 219.8 405.8 219.8 406.5 220 407.6 218.2 408.1 218.5 409 219.5 411.4 218.1 413.3 219 414.7 218.4 415.9 219.2 423.2 219 423.8 218.1 425.3 218.4 430.9 218.9 441.9 219.1 446.7 218.3 449 218.3 450.7 218.7 451.9 218.3 390.4 216.8 390.1 217 390.8 217.7 389.8 216.6 391.1 216.3 393.1 217 393 217.6 393 216.8 391.6 216.2 393.2 216.8 391.8 217.3 392.7 216.4 395.1 216.9 395.1 217.1 395.5 217.8 393.8 216.4 394.2 216.2 394.2 216.3 397.3 217.1 397.3 217.4 396.2 216.5 401.4 217 400.8 217.1 401.1 218 400.6 217.7 402.7 217.8 401.9 216.3 404.3 217.3 405.5 217.7 406.3 217.4 405.5 217.1 410 216.9 411 217.9 412.7 216.2 412.7 216.3 412.6 216.6 415.5 216.1 415.7 217.8 415.9 217.7 419.3 217.3 419.9 218 435.1 217.5 444.8 216.8 451 217.9 451.9 216.6 391.4 215.8 390.3 215.2 390.5 214.3 390.1 215.7 392.1 214.1 391.9 215.6 393.5 215.9 393.1 214.4 393.3 215.2 392.5 214.2 395.5 214.7 393.9 215.4 395.2 216 396.4 215.8 397.5 214.1 401.3 215.2 399.6 214.8 401.6 214.6 403.6 215.4 403.7 214.7 406.2 215.9 406.4 214.1 406.6 215.7 406.8 214.8 413.8 214.3 418.3 214.7 418.9 214.8 426.8 215.5 425.8 214.4 430.2 214.1 429.6 215.5 429.5 215 431.2 215.2 433.7 214.7 434.3 215.7 390 212.7 389.8 213.4 389.9 213.2 391.4 213.8 390.4 213.1 393.4 213.6 393.1 213.7 392.9 213.2 391.9 213.1 393.4 213 392.8 213.9 391.6 212.1 392.7 213.5 392 212.7 395 213.2 395 213.1 395 212.6 393.9 212.3 394 212.9 394 212.3 394.7 214 395 213.9 393.9 213.3 394.4 213.2 395 212.7 397 213.4 397.8 214 399.9 212.7 401.6 212.3 402.7 213.1 402.2 212.7 405 212.1 409.4 213.3 409.4 212.6 408.4 212.5 409.6 213.6 410 212.3 413.1 213.5 411.6 212.2 411.8 212.2 414.3 212.8 413.9 212.5 416.5 213.6 417.3 213.8 418 213.3 426.5 212.7 429 212.2 435.5 213.4 436.2 213.4 437.5 212.1 389.6 211.3 391.1 210.2 392.1 210.3 391.7 210.1 392.1 211.3 392.7 210 392.7 210.7 392.4 210.1 392.1 211.6 392.3 210.6 392.6 210.4 393 210.6 393.6 212 395.3 211.9 394 210.3 395.7 211 396.4 211.2 396.4 211 398.4 210.3 398.9 211.1 402.9 211.5 404.7 210.2 406.3 210.4 406.7 211.2 409.1 210.8 410.5 210.7 412.2 210.9 414.1 211.4 419.5 211.3 420.3 211.4 424.2 211.9 424.8 211.8 426.5 211.6 432.6 210.5 438.8 211 391.4 208.2 391.5 208.3 390.7 208.3 390.2 209.6 391.9 209.8 391.8 209.6 392 209.5 393.1 209.3 391.6 209.7 392 209.9 392.8 209.6 392.1 208.3 392.9 210 394.4 210 395.5 208.8 394.2 209.4 398.9 208.9 398.3 209.2 398.4 209.1 398.3 209 400.5 208.9 401.4 209.4 402.9 208.6 404.9 209.2 407.8 209.1 407.7 208.7 410.8 209.4 410.5 209.8 412.2 208.2 412.2 209.2 414.9 209.1 417.2 208.9 418.7 208.6 419.8 208.2 419.9 208.8 428.5 209.4 437.6 208.4 454 209.4 390.2 206.5 390 207.9 389.7 206.5 392.3 207.4 393 206.9 392.3 207.8 391.8 207.8 394.8 207.8 395.3 207.6 393.7 206.7 395.2 206.7 394.3 206.3 394.4 207.2 397.5 206.6 397 208 396.1 207.4 397.1 207.9 397.8 206.3 403.7 206.6 403.6 206.4 407.8 207.7 407.7 207.6 410.1 206.3 415.1 206.5 420.9 207.3 429.3 206.1 429.7 207.6 447.1 207 453.8 207.9 460.2 206.9 389.8 204.8 393.2 204.8 392.2 205.1 393.2 204.1 393.5 204.5 392.8 204.5 392.6 204.4 393.2 206 394 205.1 394.4 205.2 395 204.2 396.6 206 397.9 204.8 398.5 205.6 401.7 205.8 405.3 204.6 409 204.5 408.7 205.1 416.2 204.8 417.6 205.3 418.6 204.6 435.7 204.9 442.5 204.8 442.9 205.6 448.7 205.6 449.2 204.1 390.6 203.2 391.2 202.7 390.1 204 390.5 203.7 390.6 203.3 391.2 204 390 202.6 392.5 202.1 392.3 203.5 393.5 202.1 393.8 204 393.8 202.8 395.3 202.6 394.1 203.1 393.6 203 397.4 202.3 396.3 202.1 396.8 204 397.8 202.2 405.9 203.9 412.6 203.7 417.5 202.9 416.5 203.2 419.6 202.2 433 203.2 468.6 202.5 393.5 201.5 392.7 201.6 392.6 201.5 392.3 200.5 394.9 200.7 395.3 200.9 394.5 200.6 399 201.5 398.5 201.7 397.7 201.1 405.3 200.1 409.7 201.1 411.8 200.8 418.8 201.9 424.8 201.4 434.7 200.1 437.7 200.8 440.3 201.8 440.5 201.7 390.1 198.7 390 199.2 391.1 199.5 391.5 198.8 392.2 199.6 393.1 199.1 392.9 199.7 391.9 198.8 395 199.9 393.5 199 394.4 198.4 393.8 198.5 393.8 198.1 400.8 198.3 408.2 198 411.9 199 413.8 198.1 415.9 198.7 390.9 196.9 389.8 197.6 390.9 196.5 392.9 196.8 392.6 196.6 392 196.8 392.5 196.6 392.8 196.9 392.2 196.3 391.5 197.7 395 196.8 395.4 198 394.1 196.1 394.3 196.9 398.3 197.2 400 197.6 405.1 197.2 411.1 196.2 412.9 196.8 416.3 196.7 420.8 196.7 433.9 198 435.1 196.7 448.6 197 390.5 194.9 390 195.5 391.4 195.6 391.2 194.9 389.7 194.8 392.5 195.8 393 195.9 392.2 196 391.9 194.6 391.6 194.5 392 194.5 392.3 194.9 392.7 194.4 393.4 195.3 394.3 195 395.5 194.4 393.6 194.8 396.9 194.6 397 194.5 398.7 194.6 400.5 194.9 410.9 195.6 411.1 194.5 419.3 195.9 427.6 194.3 430.3 194.9 433.6 195.9 437.9 196 444.4 195.1 448.4 195.3 390.2 192.1 390 193.4 390.7 192.6 389.9 192.1 391.6 193.5 392.7 193.9 392.4 192.8 392.2 192.5 393.4 193 394.7 193 395.2 193.2 394.4 192.7 394.8 192.6 398.4 192.3 412.7 192.9 415.8 193.5 416.4 192.3 418.1 193.9 419.9 193.8 433.8 192.1 436.3 193 391 191 389.9 190.6 391.8 190.1 392 191 392.4 190.4 394.6 191.6 397.8 190.8 400.1 190.9 405 191.6 411.9 190.5 414.2 191.1 416.8 191.8 419.6 190.7 421.8 190.9 427.3 190.1 426.6 191.6 434.1 190.4 391.2 188.1 392 188.2 394.3 190 395.2 188.6 395.2 188.4 396.2 188.5 396.9 189.7 400.4 188.2 399.5 188.7 406 188.1 409.9 188.4 416.1 189.4 419.5 190 419.8 189.2 422.1 188.2 430 190 432.9 188.4 440.7 189.6 457.1 189.5 391.3 186.4 389.8 186.9 393.1 186.8 392 187.9 392 186.9 393.1 187 393.9 187.7 394.5 187.5 395.7 187 395.5 187.8 413.7 186.1 419.7 187.2 426.3 186.2 433.8 187.7 442.9 186.8 456.5 187.1 459.4 186.4 393.3 185.8 393.3 184.6 395.4 185.6 395 184.6 393.9 185.3 396.3 184.9 400.9 185.6 403.1 186 402.2 184.6 406.9 184.7 420.9 185.6 420.3 184.3 426.6 185.9 428.4 184.7 436.3 184.8 440.1 184.8 441.9 185.8 391.8 182.1 391.8 182.8 392.6 182.1 394.6 182.3 394.4 183.2 397 183.2 401.6 183.9 404.4 182.1 408.3 183.6 410.9 183.2 412.3 182.8 413.4 183.6 417 182.6 416.2 183.2 418.2 182.2 420.6 183.7 419.9 182.5 422.5 183.5 422.4 183.7 424.1 182.4 426 183 427.7 182.6 456.6 182.9 390 180.6 390.8 181.5 396.4 180.1 402.3 180.4 407.2 180.3 410.1 181 413.1 180.1 417.4 181.7 416.9 181.6 420.6 180.2 423.1 180.2 426.5 180.4 425.7 181.8 429.7 180.1 433.3 181.1 432.8 181.3 438.7 180.2 440.1 181.2 460.4 180.1 468.7 181.3 395.4 178.6 403 179.1 403.5 179.5 405.1 178.8 407.2 179.5 410.9 179.5 410 179.7 412.8 178.9 414.1 179.3 419.1 179 421.3 178.2 423.1 178.7 423.2 178.4 421.6 179.2 425.5 179.8 425.1 180 426.1 178.6 433.2 179.6 434.5 179.8 435.9 179.7 442.9 179.5 445.1 179.2 389.8 176.2 394.3 176.6 397.2 176.6 399.9 177.3 402.5 177.7 411.2 176.6 414.5 176.3 416.1 176.5 417 176.2 420 177.7 424.5 176.3 431.7 176.9 444.8 177.9 451.1 177.4 392.3 175.7 393.8 175.8 394.7 174.3 396.2 174.4 396.8 175.6 403.4 175.3 404.6 175.3 408.8 174.2 408.7 175.5 413.3 175.8 417.6 175.2 419.6 174.2 427 175 427.6 175.7 432.9 175.8 436.7 174.6 438.5 175.9 445.5 174.4 455.1 175.3 402.4 173.1 411.1 173.6 410.5 173.8 418.1 173.3 419.5 173.8 417.8 172.1 420.7 173.3 421 172.5 421.8 172.6 428.2 173.1 430.4 173.4 433 173.3 440.3 172.5 440.4 172.6 444.3 173.5 451.3 172.4 396.4 170.5 399.6 171.1 403.5 171.9 405.3 171.1 410.9 171.1 413.7 171.1 416 171.2 418.4 170.9 420.5 171.4 430 170.9 442.2 170.6 447.3 171.8 448.9 170.8 456.7 170.8 400.9 169.7 400.8 169 401.8 168.6 405.9 169.8 407.6 168.3 412.1 168.6 415.3 168.4 417.9 169.4 419.3 168 419.9 169.7 426 169 425.8 169.3 428.6 169.7 428.9 168.8 432.2 168.3 446.8 168.8 447.9 168.1 398.9 167.8 400.3 167.7 403.4 166.1 402.3 167.2 409.3 167.5 410.3 167.7 411.3 166.3 412.2 167.7 412.5 168 414.5 166.5 418.7 167.7 422.8 166.7 425.7 167.8 429.5 166.4 441.1 167.5 444.1 167.1 465.5 167.1 412.5 165.1 413.2 165.3 415.9 166 419.8 164.5 426.5 164.3 429.9 164.5 440.7 165.3 447.2 164.2 466.5 165.6 404.5 163.5 406.1 162.8 408.3 163.6 414.9 163 418 162.9 419.9 162.8 431.5 163.2 449.9 163.1 464.4 162.5 403.9 161.6 416.6 161.2 415.6 160.7 421 161.3 421.1 161.4 422.8 161.8 422.1 161.4 426.5 160.7 428.1 161.8 439.1 160.9 441.3 161.3 409.7 159 416.4 159.7 420.4 159 427.3 159.1 435.8 158.6 447.9 159.7 453.1 158.4 459.4 159.8 460.1 159.8 404.8 157 411 156.9 418.2 158 426.7 156.7 434.5 157 435.4 157 434.3 156 437.4 157.1 447.1 157.9 398.2 155.9 411.1 155.8 412.7 155.3 418.5 154.1 422 154.5 431.3 154.6 433.2 154.1 444.5 155 444.3 156 462.5 154.1 422.1 152.2 429.1 153.5 430 154 430.5 153.5 447.3 153.6 452.4 152.1 410.6 151.9 425.1 150.1 426.5 151.4 433.5 150.4 434.6 151.6 451 150.6 452.3 152 408.1 148.7 412.8 148.4 422.2 149.3 431.1 148.1 439.1 149.1 445.6 148.9 407.3 147.3 438.4 147 437.8 147.7 450.9 146.3 452 147.9 411.7 146 459.7 144.7 483.1 147.2 466.5 147.2 490.9 146.7 474.2 147.1 498.1 146.7 464.7 147.7 492.4 145.8 510 147.6 469.3 147.4 471.2 147.4 488.6 147.7 488 145.8 495.8 146.1 505.3 146.6 465.9 146.6 495.4 147.7 500.2 147.6 472 147 500.2 146 510.1 147.1 469.1 147.2 483.1 147.4 510 145.5 473.8 147.7 478.2 146.6 474.5 147.4 492.8 146.4 466.2 146.9 470.5 146.8 503.2 146.7 486.3 147.6 500.8 145.9 504.7 146 463.9 146.4 504.8 147.3 467.7 147.6 497.9 147.3 504.5 147.7 474 147.5 465.9 146.1 478.4 146.2 472.5 147.5 502.7 145.9 470.4 146.6 471.6 146.8 500 147.2 508.6 147.2 497.9 146.6 465.4 147.4 500.5 146.8 498.7 147.5 484.7 146.5 502 147.5 465.3 147.3 470.4 145.6 514 146.8 503.5 147.1 463.7 145.7 513 146 505.5 146.2 447.9 151.1 462.6 150.4 462.4 148 439.2 145.7 457.2 148.6 452.4 150.1 453.6 145.5 441.9 147.1 452.8 146.8 460.4 145.3 442.6 147.5 460.8 147 482.6 173.6 475.2 174 475.3 171.4 520.1 171.2 511.5 173.3 532.3 170.8 487.4 174 474.8 170.9 499.1 173.6 467.7 171.3 524.6 170.8 526.1 172.8 493.6 170.5 509 174.1 473.1 173.6 463 170.9 515.2 171 503.7 171.6 491.7 171.9 505.6 174 523.1 169.8 497.4 169.7 513.2 169.6 511.4 169.8 513 171 511.9 171.5 512.8 170.9 523.8 172.7 530 171.8 535 172.3 525 173 525.8 173.6 528.8 172.3 525.2 172.4 525.5 171.5 452 209.6 459.3 212.2 462.7 211.9 457.5 213 459.7 212.8 456 210.3 447.9 209.3 447.8 209.3 474.9 212.9 451.2 212.7 447.6 210.2 447.3 212.6 469 209.7 448 213 460.7 213 452.1 212.1 459.4 212.8 461.3 209.8 463 146.3 463 148.5 464 150.9 466.6 148.1 462.6 155.9 463.6 162.1 466.9 163.3 462.8 154.4 465.1 152.9 463.2 156.5 466.9 149.5 465.3 160.2"/>
<path clip-path="url(#c6)" class="m" d="M49.5 373.9 52.6 371.1 48.2 375.6 51.3 375.8 44.6 377 75.7 365.3 42.7 377.8 70 366.2 48.2 375.9 45.5 376.7 47.9 377 45.6 377.7 51.4 377.1 53.1 374.7 61 373.3 44.8 377.8 73.3 367.8 49.8 375.4 46 376.7 51.2 376.7 43.3 379 43.2 379.1 54.6 372.4 50.2 373.2 64.1 367.7 47.2 377 47.7 374.8 54.1 375.8 47.7 374.7 42.8 379 45.5 380.1 52.5 370.7 48.8 374.1 56.2 374.4 42.7 378.4 51.4 375.1 45 377.4 46.1 378.6 72.6 367.4 56.3 372 79.7 362.1 59.7 369.2 64.5 369.1 44 375.8 45.6 378 44.9 377.3 53.8 376.5 54.6 375.3 43.8 376.8 46.4 378 53 373.4 43.3 378.3 43.6 379.1 51.1 375.4 60.9 371.7 68.9 368.4 49.5 374.7 55.4 372.1 50.1 376.1 51.8 375.9 44 377.7 67 368.4 51.2 373.5 51.2 371.5 42.9 377.7 53.2 374.1 53 374.4 53 375.3 48.2 377.2 55.9 374.4 58 372.7 49 376.4 46 376.3 59.2 372.2 49.2 376 49.9 376.9 43.7 376.6 45 377.1 62.6 366.7 49.7 374.6 42.8 377.2 55.6 373.4 47.4 375.7 71.4 359.9 50.8 376.6 52.1 372.9 46.8 374.9 42.8 378.1 47.2 375.8 62.8 367.5 44 378.6 69.4 366.2 42.7 379.3 51 375.9 43.5 378.7 44.4 377.9 58.1 371.7 68.5 366.5 49.2 377.5 56.8 369.3 53.2 372.4 47.3 375.8 64.4 370 60.6 371.1 45.9 376.6 49.7 375 53.8 376.2 53.8 372.7 43.4 375.6 42.6 380.2 56.3 371.1 55.1 372.6 45.4 377.5 49.2 374.1 46.2 378.3 42.8 378.4 50.5 373.3 54.3 373.9 53.8 374.4 86.2 359.6 44.2 378.3 44.5 376.3 48.3 377.2 44.7 376.8 48 377.7 69.9 365.4 55.7 373.1 48.4 379.1 49.9 375.5 47.9 377.5 53.6 374.5 61 367.9 54.8 375.1 54.4 375.1 58.7 369.2 45 377.4 48.5 374.2 56 372.3 49.2 376.8 64.2 369.5 43.7 377 47.9 375.2 46 377.1 53.1 374 47.3 376.7 77.9 365.1 51.4 372.2 68.8 367.4 59.1 373.5 53.9 374.5 54.5 372.4 48.4 375.3 45.8 377.4 45.2 378.1 43.7 378.1 65.2 372.4 48.8 377.5 45.6 376.5 55.5 373.8 47.9 375.9 51.6 373.1 66.7 366.9 44.8 377.6 51.2 372.1 43.6 377.5 46.6 377.2 48.8 375.1 45.3 377 42.7 379.3 45.9 377.1 59.7 371.6 55.2 376.2 48 376.5 44.6 378 64.1 370.3 55.9 375.5 81 363.2 47.2 376.7 63.9 369.3 43.1 379.4 43 377.8 42.9 379.5 43.1 378.5 46.9 375.3 43.2 378.9 57.7 373 42.9 377.5 47.5 376.9 44.7 378 50.8 374.8 42.9 377.5 48 378.8 70.8 368.5 53.5 375.4 46.2 378.2 58.2 373.4 49.5 376.7 44.3 377.6 59.6 372.9 43.3 378.1 58.3 371.2 62.1 371.6 52.3 374.2 46 375.4 62.1 369.7 43.8 378.7 47 376.8 56 374.3 52.2 374.1 50.8 374 50.2 376.4 44.9 377.8 48.8 374.6 57.2 373.2 44.1 377.8 57.3 374 70.1 368.8 50.8 375.7 43.4 376.3 45.4 377.8 46.8 377.3 49.7 376.2 47.7 376.6 61.2 369.5 52 374.3 45.2 375.4 42.9 378.3 45.2 376 45.3 377.2 57.2 371.4 46.3 378.5 66.6 368.6 51.7 374.8 54 374 58.3 375.5 42.8 377.7 51.8 375.2 44 378.4 51.4 375.1 58.3 372.3 48 375.8 45.8 378.5 56.1 374.2 48.2 375.9 44.9 377.5 47 377.1 48.5 376.7 43.6 378.9 51.6 374.8 70.5 363.9 47.3 377.7 42.9 377.1 56.5 371.3 44.8 378 43.4 377.5 43.9 379.4 42.8 380 47.2 378 50.5 375.7 45.3 377.7 56.5 373.5 50.6 375 46.3 379.2 49.5 375 56 375.1 45.9 377.8 48.5 376.5 44.5 378.8 45.8 378.6 85.6 363.3 51.2 374.9 49.2 375 67.7 366.6 43.7 379 60.9 372.2 64.8 371 45.5 376.9 56.4 375.9 61.7 368.1 63.8 370.5 53 375.2 43.4 377.9 43.7 377.2 75.9 363.5 59 369.8 84 360.5 51.3 373.3 58.5 369.7 43 378.5 54.5 371.4 46.4 376.8 49.4 375.6 43.8 378.9 65.8 369.3 50.2 374.4 48.5 377.6 48.7 375.2 42.9 378.1 70.3 366.1 48.5 378.6 46.3 377.1 46.1 376.4 59.1 372.8 47.9 376.2 45.2 379.8 78.3 361.5 48.7 376.7 44.7 376.8 56.2 375.7 57.2 371.2 47.5 376.7 45.5 376.5 45.9 378.1 47 377.3 72.9 360.2 46.7 377.7 45.8 377.9 64.4 369.8 49.9 376.7 52.3 372.8 47.2 374.7 59.1 372.7 43.8 379.6 60.7 368.7 45 376.5 46 376.3 42.9 377.4 61.4 372.1 59.9 371.5 64.6 371.9 45.9 378.6 44.5 376.8 59.7 372.5 47.4 374 58.5 371.6 47.4 377.2 47.7 375.5 42.9 376.9 57.7 371.3 46.3 378.3 43.5 377.8 54.1 371.6 49 376.4 46.6 377.7 60.6 369.1 46.5 376.8 51.6 376.2 45.5 377.7 55.6 374.2 68.8 366.7 56.9 372.3 47.7 375.1 66.4 366.9 52.7 376.4 44.5 377.4 44.8 376.7 44.3 377.4 58.6 370 59.4 372.4 43.1 379.2 50.7 373.9 65.6 370.9 48.9 378.4 42.9 377.5 45.9 377.9 45.9 377.5 44.3 379.1 45.7 378.6 63.3 372 54.6 374 48.9 375.4 62.6 374.4 64.5 367.7 48.2 377.5 51.6 376.1 46.2 376.3 44.7 377.7 49.2 377.6 43.2 376.7 49.4 376.7 43.7 377.9 48.5 375.8 51.3 373 47.7 376.9 59.9 369.4 48.3 377 48.5 374.8 44.2 378.6 51.2 375.4 65.9 364.7 63.7 368.9 43.7 378 59.8 367.3 55.7 372.4 61.4 372 65.9 367.1 53.2 375.7 50.9 373.6 61.4 368.4 56 373.7 46.5 377.6 55.1 373 46.6 376.8 54.4 375 48.9 375.2 46.1 379.2 46.7 377.3 42.7 378.9 61.7 370.9 48.7 375.6 46.4 378.2 48.8 375.2 55.5 373.3 50.1 376.2 46.7 378.3 53.6 375.5 51.8 374.1 66.1 370.5 43.5 378.1 52.1 373.1 51 373.7 55 370.9 43.1 378.6 46.1 378.2 44.2 376.9 47.5 376.1 63.2 367.6 44.7 377.6 54.2 371.9 65 367.3 52 373.6 51.3 374.2 68 366.9 59.4 371 49.4 375.4 61.2 368.8 49.2 376.3 47.6 374.5 53.2 374.2 58.5 370.1 47.8 376.4 54.9 373.7 50.9 372.4 49.3 376.1 61.7 372.8 44.8 378.3 43.7 378.4 54.3 370.4 50.7 374.9 52.1 373.3 64.2 371.3 49 375.4 43 377.8 53 371.6 45 378.2 47.7 375.7 74.7 364.1 48.4 377.3 48.7 376 48.1 376.5 65.9 373.4 44 377.4 48.1 375.6 45.1 377.9 46.9 378.2 53.6 371.8 48.2 375.9 62.7 368.1 54.7 371.3 47 377.2 48.2 375.2 47.3 376.8 51 375.1 58.5 371.9 79.3 362.9 44.5 376.7 56.7 372.3 45.4 377.5 61.6 371 54 373.2 47.6 377.4 51.2 375.5 61.8 370.5 46.4 377.5 62.1 370.5 51.5 375.6 67.9 363.4 58.7 369.4 52.1 373.9 48.7 376 59.3 367.7 60.9 370.2 44.1 378 58.6 371.2 47.1 376.3 50.7 373.3 43 378.4 75.6 359.1 48.6 377 52.9 373.2 64.2 371.3 50.9 372.7 46.3 377.3 46.1 377.1 61.1 369 46.5 375.6 45 378.6 62 370.9 44.3 379.2 56.8 372.3 46.2 377.2 43.1 378.7 63.5 371 69.8 367.8 59.1 372.8 48 375.6 43.5 376.8 45.6 379.2 47.9 376.4 60.4 371.7 46.8 376.3 46.3 378 45.7 377.4 54.2 375.1 47.7 375.6 45.2 377.3 46.5 377.1 60.2 370.4 46.2 377.3 51.7 376.7 43.5 377.7 44.1 377.6 44.6 377.9 44.9 376.6 44.7 376.5 56.2 374.5 43.2 379 43.9 376.6 46.9 375.2 53.5 375 42.7 379.5 50.1 376.2 47.4 377.1 46.2 378.7 60.3 371 44.5 379 47.5 377.8 47.3 375.6 53.7 374.8 56 373 47.3 375.9 64.4 367.7 55.8 373.5 45.6 377.3 42.7 379.2 60.3 367.9 57.2 371.3 52.3 375.9 43.5 378.2 53.1 373.1 47.4 376 44.3 376.1 52.4 372.5 42.8 378.9 71.9 366.3 52 376.3 48.1 375.9 46.5 376.8 46 374.3 58.1 371.8 54.4 376.6 46.7 377.5 53.7 373.7 43 379.5 48.2 377.2 47.4 376.9 49.9 375 46.2 377.2 43.1 379.1 44.4 377.1 44.6 378.2 51.4 375.5 44.6 379 44.3 378.6 53 373.2 59.6 374.1 55.6 373.1 44.8 376.9 42.6 378.9 50.5 374.9 54.2 375.2 44.9 376.3 54 372.1 75 364.2 48.1 378.2 49.4 376.9 53.2 372.7 51.8 372.4 52 374.2 45.3 376.2 45.4 378 44.5 377.9 46 377.1 42.8 378.1 52.9 376.3 46.9 375.7 45.2 376.2 50.9 376.5 46.8 378.2 43.7 377.8 49.4 376.5 68.1 372.9 44.1 377.2 59.5 371.1 48.6 376.5 47.3 374.3 50.3 375.1 64.5 370.7 57.5 372.1 45.8 378.2 74.3 367 61.3 369.9 43.2 378.8 69.6 368.1 50.3 373.2 45.8 376.3 70.6 364.8 50.8 374.4 59.9 370.3 49.4 373.9 56.6 372.6 51.3 372.4 43.4 379.1 45.4 377.6 44.9 378.9 48.8 376.3 46.1 376.5 45.6 375.8 60.9 371.9 46.1 377.1 69.6 367.9 71.4 368 50.6 376.7 47 376.6 47.9 378.2 45.3 377.3 46.4 376.9 73.1 367.2 47.4 377.6 54 375.7 45.1 375.7 49.2 377.4 59.9 368.4 52.9 373.3 42.6 378.9 48 377.6 46.7 375.7 53.6 371.4 45.9 378.1 49.9 375.8 64.8 367 49 375.5 46.7 374.7 66.1 369.7 48.2 375.6 44.9 378.8 57.4 368.8 45.2 378.2 44 380 49.8 375.6 51.7 374.9 50.8 372.6 52.5 374.8 50.3 375.3 53.6 373 75 360.7 50.5 375.3 47.6 375.3 49.6 374.9 43.1 378.6 47.8 376.3 53.3 373.9 49.1 376.9 55.1 371.4 51.9 376.5 48.2 374.8 49 374.7 46.4 377 51.4 375.8 46.8 377 43.7 377.7 58.7 370.4 62.5 369.5 64 367.5 43.1 378.8 59.4 371 52.5 376.5 44.3 377.1 46.4 376.8 46.8 377.2 43.4 377.2 48.3 375.3 46.6 379.8 46.7 376.8 51.7 376.6 44.2 376.9 44.8 375.2 45.5 377.8 46.8 376.7 61.6 370.9 51.4 374.4 44.3 377.3 52.9 372.4 54.5 374.9 43.6 376.7 54.8 374.7 50.5 374.8 82.2 358.3 42.6 378 64.1 371.3 45.4 378.1 54.1 374.3 49.2 375.8 50.1 373.9 44.8 378.9 43.4 377.8 45 377 43 377.9 55 372.6 45.3 375.9 52 373.9 49.7 374.5 45.3 376.9 46.1 375.2 43.5 379.9 53.6 372.1 48 376.6 44.5 378 45.4 378.3 46.5 378.9 48.6 376.4 48.2 377 66.5 367.3 44.5 379.1 51.7 372.8 49.1 375.5 46 377.4 54.8 374.4 58.9 372.9 66.2 370.8 45.8 377.7 63.1 369.8 47 376.9 43.3 379.5 61.4 371 57.9 373.5 45.2 377.3 50.3 372.9 43 377.8 48.5 376.4 55.1 375.7 78.5 367.1 43 379.9 59.8 370 53.8 374.9 43.2 378.3 52.7 375.1 48.4 376 46.6 375.4 62.1 371.5 53.1 374.6 58 373.3 65.4 367.1 65.5 370.9 72.4 368.6 61.1 373.2 44.6 379 49.8 374.9 49.5 372.5 49.9 376.7 57.5 370.7 51.7 374.3 49.1 377.1 59.6 371.8 47.5 376.7 50.1 376.2 50.4 372.8 51.2 377.4 43.2 378 45 377.2 43.2 378.8 63.9 369.2 49.5 374.6 54.2 373.4 50.5 374.7 48.7 375.2 48.1 378.5 48.5 374.4 53.4 370.7 57.8 370.5 45.3 376.4 46.6 378.3 44.3 378 45.6 378.1 43.5 378.7 67.5 365.9 77.6 365.8 47.1 376.8 53.5 376.6 43.1 378.5 50.6 375 65.3 370.3 44.4 378.5 43.6 376.4 50.2 376.8 56 374.5 43.9 378.8 47.6 375.1 43.4 376.3 84.3 359.8 43.8 378.7 46 377.6 44.1 376.9 64 371.2 49.3 374 48 374.7 56.9 372.4 54.8 372.4 43.7 377.4 49.7 373.7 57.7 373.9 46.9 375.5 48.5 376.5 43.1 379 42.6 378.5 43.2 378.5 44.7 378.6 43.1 379.8 52.6 375.6 55.7 370.8 44 376.1 42.9 377.9 74.6 362 59.1 372.4 43.3 378.3 52 374.2 43.1 379.3 47.5 377.6 66.7 368.1 50.5 375.6 46.4 378.1 42.8 378.1 44.5 378 42.8 377.6 43.1 378.4 45.2 377.8 43 378.3 44.2 378 61.1 371.9 50.4 375.7 52.2 373.5 44.4 377.2 46.6 375.5 53.7 376.2 47.7 376.8 62.2 371 44 377.8 44.5 378.2 48.1 376.8 64.2 367.8 50.4 375 42.6 379.5 54.6 371.5 43.6 377.2 44.3 378.4 63.6 368 49.3 376.6 59.3 369.5 43.6 378.3 47.1 377.5 42.9 378.7 48.6 376.9 53 373.9 45.6 377.1 71 366.4 45.2 378 48.3 380.3 52.9 374.1 42.8 380.1 45.1 377.3 47.6 375.2 50.3 374.9 71.5 367.2 68.5 367.9 51.6 374.9 44.8 378.2 47.5 377.1 45.9 378.1 47.7 375.1 42.7 378.5 44.5 376.8 58.2 372.3 59.6 371.2 43.2 378.5 52.1 373.9 45 376.7 56.9 372.1 62.7 371.3 55.5 374.2 46 375.4 43.1 378.6 51.1 375.3 58.4 369.4 47.1 375.5 64 368.4 64.7 370 45.7 374.9 69.9 366 42.7 378.1 53.5 374.2 46.7 378.3 43.9 379.2 53.2 373.5 64.7 368.3 44.1 378.1 50.6 376.6 53 376.1 42.7 378.8 46.2 378.5 44 377.2 66.2 366.1 49.4 372.3 43.6 377.3 46.9 377.4 72.4 368 48.6 380 51.4 375.6 70.2 367.2 51.3 373.6 50.4 374.5 53.2 373.2 50 375.1 68.1 366.2 48.8 374.2 66.9 370.5 54 374.4 47.9 377.9 66 365.3 43.2 377.2 57.8 370.9 53.3 375.7 48.5 375.9 42.8 378.7 52.8 374.1 53.3 374.3 49.2 375.1 45.5 377.7 49.8 374.4 52.5 374 56.2 373.2 62.3 370.4 47.4 377 64 367.9 45.5 377.6 63.1 369.3 48.6 376.5 48.4 377.8 53.8 372.5 43.4 379.2 62 369 48.6 375.5 45.1 379.1 52.2 375.7 66.1 369.6 61.4 372.1 43.9 379.1 43.4 377.6 53.8 374.1 46.4 376.6 51.5 375.3 60.1 370.5 45.4 378.1 54.5 373.5 45.5 376.8 44.2 377.8 50.9 375.6 64 371.6 52 374.3 59.2 370.9 50.4 375.6 44.8 378.4 47 376.1 44.8 375.2 51.8 375 47.5 376.1 56.8 371.9 48.3 379.1 44.8 377.5 58.3 373.1 43.5 377 56.8 372.9 79.4 365 42.7 378.7 47 376.5 44.4 378.3 44 378 62.3 372.7 52.1 374.8 47.3 375.7 43.1 376.6 55.2 372.2 66.6 367.8 47.7 375.1 47.4 375.4 49.8 373.5 47.5 375.3 50.2 375.5 59.2 371.1 49.8 375.3 48.1 375.9 47 376.5 44 378.7 54.1 376.7 55.1 374.3 44.2 379.8 48.1 376.1 56.9 372.5 48.4 378 46.9 376 52.6 373.1 59.9 371 51.3 372.7 60.1 367.8 51.1 376.5 62.9 367.9 50 374.9 55 372.6 48.7 374.9 47.7 377.2 46.2 377.6 53.3 375.2 46 377.9 43.3 378.4 64.5 372.1 43.6 379.1 55.2 372.3 44.2 378 46.8 376.4 43 380 49.7 376.5 53 374.9 47 376.7 67.1 369.4 53.9 372.4 47.1 376.7 56.1 372.8 42.7 378.5 51.3 373.9 47.4 377 43.7 377.1 48.5 375.5 47.1 376.5 48.8 375.9 43.6 377.7 79.3 360.1 42.9 377.6 45.6 376.9 76.6 361.8 45.7 377.1 44 376.8 59.2 371.5 50.2 377.9 67.1 365.3 55.1 373.1 56.6 374.5 43.9 378.2 63 371.5 62.5 366.1 67.2 367 51.5 376.8 44.6 377.2 71.4 367.2 52.7 371.6 73.6 367.9 42.9 380.4 68.7 367.3 46.1 377.4 45 377.9 49.4 378.2 47.2 376.1 52.3 372.2 42.9 380.1 46.3 375.8 73.4 366.8 50.6 372.2 57.5 371.5 47.2 376.8 52.3 372.9 44.6 377.2 57.3 373.3 66.5 366.9 65 370.1 43 380 60.4 367.4 55.1 373.8 55.2 374.1 49.1 375.4 81.1 366.6 51.4 376.6 70.3 367.9 47.9 376.9 53.8 373.7 55.7 371.3 50.5 375.8 60.5 370 54.4 372.7 45.5 378.4 53.4 373.6 72.9 367.9 46.3 375.9 53.2 373.4 44.8 377.6 58.8 373.9 42.7 378.4 43.5 378.9 56.3 371.6 47.6 376.6 59.4 372.8 45.9 376.2 51.6 373.8 52.4 375.2 45.7 376.1 46.3 377.3 51.7 375.1 51 374.8 51.6 375.7 45.5 377.8 58.8 371.9 43.9 376.6 49 374.1 54.3 374 63.9 366.3 44.9 377.6 52.4 373.9 64.8 367.3 58.2 371.4 44.7 375.3 48.1 375.9 44 379.1 52.4 372.6 43.6 378.5 61.2 371.2 44.5 380.6 44.7 376.7 65.3 367.2 64.7 367.6 46.1 376.1 42.6 377.1 47.6 376.5 43.1 377.5 51.8 375.6 44.6 378 73.4 362.9 51.3 374.4 46.4 378.4 45.5 377 64.9 369.4 44.6 378.5 46 376.7 44 378.3 78 367.7 46.6 378 45.6 375.5 56.5 375 44.4 377.6 54 372.8 44.8 377 42.8 379.5 81.6 362.9 55.6 372.8 54.1 372.5 46.9 377.4 43.2 379.3 43.5 377.3 48.2 374.9 42.9 378.1 61.4 371.6 60 370.5 53.2 373.9 69.6 365.2 43 379.5 43.4 378.1 58.4 372.1 48 377.5 53.3 373.7 44.3 377.8 48.3 376.6 44 377.6 48.2 377.8 47.8 376.4 62.1 369.4 73.9 364.5 55.7 371.3 48.9 377.3 44.1 379.3 62.1 369.8 42.8 378.1 51.2 372.2 46.4 376.3 56 374.2 47 375.8 55.8 374.2 60.8 373.5 62.6 365.1 49.8 375.1 44.8 377 56.4 371.8 43.6 376.5 65.7 368.1 49 374.4 44.9 378.6 47.9 377.9 44.1 376.6 47.9 374.6 46.7 376.3 54.8 373 71.5 365.8 54.9 374.4 47 375 51.6 373.8 42.8 378 44.1 377.6 48.4 374.9 56 372.1 46.8 376 59.2 373.5 75.5 363.2 44.1 375.9 56.6 373.4 53.4 374.1 47.1 375.7 51 373.8 51.9 373.8 50.2 377.3 45.3 376.9 48.5 377.4 43.4 379 50.4 374.5 48.3 376.5 58.3 370.5 45.7 374.1 50.5 374.2 45.3 376.7 44.8 378.5 60.4 372.1 49.4 376.9 80.6 363.9 44.4 378.8 48 377 49.7 375.8 50.9 376.3 44.9 379 45.3 378.8 59.4 370.6 61.9 370.2 74.1 362.6 61.7 368.5 43.3 378.6 47.1 375.9 47.6 378 44.4 375.6 54.4 371.8 57.4 372.6 73.5 368.2 49.9 375 55.7 375.8 56.6 373.8 55.5 371.9 45.5 377.2 60.1 372 52.4 373.1 48.4 377.3 42.7 378.3 74.2 366.3 50.9 376.1 47.4 376 44.1 378.9 49.2 373.5 59.4 372.4 58.7 368.4 45.8 378.3 62.1 369.1 43.1 379.4 49.6 377.2 43.6 378 52.6 373.4 45.4 378.7 45.8 376 44.3 378.6 46 377 52.7 373.8 52.8 373.4 45.4 379.2 48.8 374 54.4 372.7 50.9 375.6 76.3 366.9 73.3 369.6 43.9 379.3 57.8 371.2 63.3 370.4 63.8 371.7 65.4 369.9 48.5 374.2 49.2 376.2 46.2 377.6 44.4 376.5 69.4 366.1 56.2 372.7 48.6 376.7 45.4 378.9 42.9 379.4 51.3 375.5 51.8 374.9 52.7 373.8 44.5 377.2 43.5 378 65.5 368.3 44.2 378.8 47.5 378.8 43.1 378.8 43.5 379 55.1 374.2 48.4 376.4 53 375.9 64.6 371.4 48.7 376.1 56.2 372.6 57.6 373.2 46 376.6 71 367 61.3 372.5 57.7 372.1 48.3 374 67.3 369.5 53 372.5 56.2 370.6 47.8 374.7 47.6 377.4 48.2 373.9 44 377.9 50.5 375.5 44.7 377.9 50.7 374.4 59.4 371.3 48.3 376.3 51.1 373.3 73.6 367.1 46.8 377.9 53.1 373 43.9 377.3 48 375 51.3 376.2 44.8 376.6 45.4 376.9 75.8 359.9 71.8 369.1 59.1 371.2 45.1 377.8 49.1 377.7 45.9 377.9 43.6 377.1 49.8 376.1 46.6 377.6 59.5 369.9 47.6 375.3 47.3 375.5 46.5 377.8 61.7 370.5 60.9 368.9 54.1 374.6 49.2 376.6 44.2 377.1 47.1 375 57.9 338.3 56 339.7 57.5 340.1 58.1 340.7 59.2 340.5 60.2 339.3 59.2 339.5 58.5 338 59.6 339.9 58.1 338.1 59.3 339 58.5 339.2 62.9 341.4 60.4 340.6 58.3 338.4 58.1 337.7 58.8 339 57.2 338.4 58.4 339.7 58.4 339.6 69.6 339.5 70.4 340.9 70.1 340.1 69.8 342.1 69.8 341.6 70.2 343.6 70.1 339.3 69.5 343.1 70.8 339.9 70.1 341.8 70 342 70.7 341 67.6 351.7 67.8 352.8 68.4 353.1 67.7 351.3 67.9 354.3 67.2 353 67.9 350.3 67.6 355.5 67.3 353 67.5 351.3 67.5 354.2 67.6 349 74.2 354 98 342.6 109.5 365 121.1 344.9 144 352 145.3 357.4 168.5 337.2 168.5 349 183.4 316.7 184.3 332 176.9 340.5 180.2 337.2 182.8 342.8 156.6 336.6 159.8 339.7 148.4 345.9 153.3 342.8 158.2 344.3 87.6 359.1 95.2 355.4 90.7 356.6 88.3 354.8 89.8 359.2 89.7 354.5 94.3 354.3 91.1 359.4 111.6 359.2 115.7 359.1 114.3 360.3 111.3 357.1 113.7 356.5 112.5 354.3 112.7 355.8 113.9 357.7 112.6 358.6 115.3 357.5 112.6 358.3 115.4 355.5 113.7 356.5 115.1 359.8 135.4 352.1 134.7 361 136 351.9 136.2 358.1 131.4 355.5 136.2 355.7 132.5 345.4 134.5 351.2 136.4 349.7 133.9 359.2"/>
<path clip-path="url(#c7)" class="m" d="M239.3 376.5 254.4 378.8 239.1 378.5 249.8 377 251.7 377.3 240.8 378.2 241.8 378.1 240.3 378.1 234.3 376.7 242.8 379.1 237.3 378.6 237.7 377.1 236 378.7 236.2 377.3 250.4 377.9 241.5 376.6 237.7 376.7 245.3 378.4 245.6 378.7 246.6 379.1 252.7 377.9 235.2 377.8 240.3 376.9 238.3 376.8 232.2 376.8 236 377 240.8 377.2 240.8 377.9 245.9 378.6 242.2 376.8 245.7 376.7 236.9 378.8 234.9 378.5 239.3 377.5 234 378.4 240.2 377.7 242.3 376.3 248.3 378.2 251.6 377.2 233 377.4 253.7 378.1 248.3 378.2 254.4 377.9 234.5 379.3 240.4 379 243.3 376.7 248.9 378.8 238.9 378.4 242.1 377.7 238.1 376.6 242.1 376.9 243.5 377.8 244.7 376.8 247.9 378.4 237.3 376.6 246.2 379.1 233.9 378.5 245.8 378.5 242.3 378 234.9 378.9 237.7 376.3 233.3 378.2 240.3 377.4 241 379 243 377.7 233.4 377.9 248.2 379.2 239.1 377.6 238.3 377 252.2 376.6 245.6 376.9 246.9 376.7 244 377.2 236.8 377 235.3 377.9 236 377.7 239.6 378.1 235.7 377.2 242.7 377.9 253.9 377.5 248.7 376.4 238.9 377.2 238.8 377.6 249.7 377.8 254.1 376.9 245.9 376.8 237.7 376.3 242.1 378.2 235.4 377.7 241.7 377.3 252.2 376.7 236.4 377.6 241.9 378.7 246.3 376.9 253.5 378.9 246.2 377.6 241.9 376 246.8 376.3 238.5 376.3 234.1 378.6 250.9 379.3 242.5 379 253 376.8 236.1 376.1 232.1 376 243.6 377.8 248.1 376.8 254.5 376.6 246.4 379.2 233.9 377.5 244.6 376.7 240.6 378 236 377.7 250.5 379.3 248.2 378.7 250.3 378.8 245.8 377.7 247.8 376.2 247.5 377.3 237.6 377.5 244.6 378.3 251.8 379 240.3 377.8 235.6 377.7 232.3 378.2 233.6 379.1 241.8 376.2 232.3 377.2 247.3 377.4 248.4 377.4 253.2 377.3 248.8 377.3 241.6 377.1 249.6 378.4 249.2 378.8 233.3 377.4 232.4 376.6 236.2 377.9 253.5 377.5 240.5 379.1 250.5 377.6 240.1 378.3 246.7 376.6 240.3 379.1 250.6 378.6 243.6 376.7 253.4 379.1 250.4 378.3 254.2 377.5 239.4 377.6 238.1 377.5 246.6 376 247.9 379.3 241.6 377 235.3 378.2 237.5 378.4 254.7 379.1 238.8 378.5 239.4 376.3 243.6 376.2 234.5 376.1 235.3 377.6 250 378.8 243.1 379.1 236.8 378.3 252.5 377.7 237.9 377.6 247.5 376.4 247.7 377.7 234 376.7 233.6 378.5 249.5 376 234.9 376.2 236.3 378.2 251.8 376.3 244.4 377.3 252.3 378 252.1 378.2 248.5 377.8 233.8 379.1 243.7 376.7 237.7 378.4 235.7 376.7 241.7 378.9 250.2 377.7 253.4 378.9 243.5 377.7 243.4 377 251.9 377.5 245.1 378.8 250.8 376.1 243.2 376.3 254 376.1 248 377.7 242.2 377.5 235.5 378.7 252.7 378.7 233.2 377.1 233.1 376.9 232.2 377.9 251 377.1 248.3 377 233.2 377.7 233.1 377.9 235.6 376.2 247.6 378.8 239.9 378.3 250.3 376.3 253.8 377.2 246.7 377.4 242.6 377.7 251.7 378.3 238.1 377.1 248.3 377.4 232.7 378.2 237.8 377.5 246.5 377.5 248.9 377.2 241.8 378.8 242.5 379.2 248.9 379.1 248.6 377.9 248.7 377.4 252.4 376.6 233.6 377.8 238.5 376.5 248.8 377.8 252.3 379 251.2 379.2 242.1 377.6 250.1 378.1 245.3 379 234.2 378.2 251.1 376.7 241.2 376 232.1 379.2 236.5 379.2 236.9 379.1 233.2 378.1 253.8 378.1 241.6 378.4 244.6 376.7 245.4 378.4 253.4 378.2 244.3 378.1 239.6 377.9 241.8 378.6 238.9 377 249.1 377.5 251.7 377.1 235.9 377.8 232.5 378.3 251.6 377.7 246.6 376.7 253.2 376.1 239.5 376.8 236.4 378.6 252.4 378 233.2 376.9 249.7 376.4 250 378.4 251.1 378.7 242.4 378.8 237 377 232.5 378.7 242.6 377.1 254.6 377.5 239.7 376.6 244 378 235.1 377.3 247.5 376.2 250.9 378.8 238.8 378 244 377.5 238.1 376.5 238.4 378 233 378.1 241.2 377.1 251.1 378 249.2 378 247.9 377.5 240.7 378.7 243.7 379.3 245.8 377.8 234.4 377.4 250.5 378 238.1 378.1 240.1 377.5 233.4 378.7 242.2 379.1 248.9 377.8 241.1 378.8 243.9 378.3 245.8 378.1 253 378.5 251.2 377.6 242.9 377.2 239.4 378.9 250.8 376.3 244 377.2 327 373.9 256.9 377.8 326.2 370.8 294.9 378.8 275.1 378.7 251.3 373.5 251.4 375.9 300.1 379.1 270.8 371.6 270.6 375.7 288.2 364.5 302.5 376.7 288.8 367.1 270.4 359.3 284.6 378.8 297.2 373.7 272.8 373.9 337.7 376.8 338.5 375.6 293.5 369.4 293 360.5 277 378.6 341.1 374.6 289.5 370.4 363.2 374.2 251.3 375.7 309.2 371 317 371.1 303.2 378.2 302.1 374.5 326.3 372.6 290.9 378.2 268.5 378.7 274 373.5 312.5 372 263.6 376.8 312.5 371.9 320.6 376 317.4 376 263.4 378.6 277.8 378.2 274.3 377.2 308.3 366.2 292.1 378.2 314 376.4 328.7 375.6 291.8 375.3 301.4 372.6 354 376.5 292.4 376.6 290 375.5 280.9 378.6 293.8 370.8 273.1 375.3 317.6 375.2 276.6 379.1 298.8 371.7 285 375.1 278.5 373.9 302.5 367.1 336 377.1 266 377.6 319.3 376.1 264.9 378.5 303.4 357.3 265 371.8 267.9 376.7 285.9 372.3 332.6 366.3 300.8 374.5 295.7 375.8 307.8 360.7 314.2 359.4 300.8 372.5 291 375.8 295.8 360.3 321.8 376.5 320.6 368.2 251.3 376.4 363.1 375.5 316.8 376 301.8 376.7 363.2 376.4 261.2 376.9 269.5 378.6 335.7 377 304.5 356.9 329.2 375.1 338.8 377.1 355.6 376.8 323.1 365.8 286.7 377.2 257.6 377.6 308.3 377.3 255.3 374.5 282.2 378.3 324 370.4 303.3 365.9 265.9 378.8 284.2 374.5 313.2 364.5 291.6 373.7 289.1 375.8 251.3 375.4 278.8 377.8 306.7 376.7 287.8 377.3 304.6 370.9 270.6 362.9 263.4 375 330.8 375.7 283.2 379.1 284.2 372.6 316.3 368.3 323.4 372.1 281.8 372.2 256.2 378.4 283.7 372.5 252.9 377.9 299 376.4 292.1 378.7 312.2 376.5 268.7 377.7 317.5 369.8 261 374.6 321.4 376.6 309.1 371.6 261.5 376 286.6 374.3 274.5 377.9 258 378.6 296.2 378.7 309 366.4 300.2 373.1 291.3 369.5 297.8 372.7 326.1 373.8 299.3 364.8 254.1 377.9 294.2 376 301.9 341.6 333.5 375.7 310.4 376.7 309.3 376.2 363.2 371.7 278.9 377.7 308 373.6 356.4 376.9 326.6 370.1 313.5 370.5 291.6 377.3 308.1 373.6 309.8 372 359.5 376.7 314.1 365.9 304.2 376.8 257 378.8 322.6 375.7 251.3 371.4 323.9 374.5 332.6 375.3 316.3 359.4 275.4 370.2 296.9 377 251.3 375.3 284.5 378.3 311.3 366.6 304.8 368 294.2 378 304.4 349.4 274.4 369.9 299.3 369.9 251.3 376 251.3 377.1 294.1 377.5 330 374.3 272.9 373.3 254.6 377.1 303.1 360 304.4 378.6 303.7 359.5 263.2 375.9 319.4 375.6 323.5 373 319.2 374.8 294.1 374.9 309.6 368.9 266.5 377.8 278.6 377.9 294.6 376.8 281.8 375.4 266.3 377.9 308.6 370 275.3 376.5 286.2 375 251.3 375.2 310.5 370.6 311.5 372.9 299.5 371.6 285.8 375.2 311.1 361.7 346.1 377 284.7 371 311.5 376 297.6 362.9 320 371 282.2 375.6 282.9 376.7 276.8 378.5 314.7 372.2 257.7 378.3 306.7 355.8 322.8 372.3 262.9 375 336.9 374.5 284.6 373.5 295.9 376.2 332.1 376 306.7 375.4 266.9 371.3 299 373.1 294.3 377.1 310.1 376.7 278.6 359.9 285.5 376.7 295.4 375.2 305.5 368.8 300 376.8 322.7 370.1 313.9 375.7 286.1 373.4 261 373.9 279.5 377.9 285.1 379 296.9 376.6 301.6 377.1 276.8 373.3 266.5 378.9 299.9 372.4 296 376.5 273.2 365.3 256.8 372.4 293.1 378.1 313.7 375.6 308.6 375.1 261.9 379 290.4 378.6 297.2 378 275.5 377.9 300.1 372 284.6 379 328.4 373.7 284.2 377.6 331.1 373.3 313.8 374.1 310.7 376.4 343 371.4 293.7 376.5 315.8 372.2 297.3 375.3 347.3 373.6 295.9 373.1 297.3 375 251.3 377.4 294.2 375.3 320.2 376.3 263.2 368.8 279.9 378.8 282.7 376.2 309.8 358.9 306.5 374.6 306 369.7 338.2 371.4 289.4 372.9 320.4 365.2 296.9 363.8 272.8 373.1 341.7 376.8 299.8 377 285 378.3 298.8 371.7 291 379 318.9 376.7 276.5 375.8 329.8 377.1 291.8 374.2 331 368.9 276.8 375.2 321.6 375.8 298.4 373.8 273.3 376.6 326.8 372.7 354.8 376.9 317.4 376.2 298 369.7 346.1 374.6 278.2 377.7 263.3 372.7 308.7 375.5 311.9 375.8 293.4 375.7 301.1 378.3 318 376.1 301.3 367.1 251.3 377.1 293.1 370.1 276.1 378.3 306 368.2 262.7 374 322.1 374.3 321.9 377 315.8 365.9 290.9 371 312.6 375.2 269.1 377.9 282.4 363.6 316.2 375.1 285.3 378.3 297.2 377.5 303.6 377.2 334 374.4 285.2 375.6 288.3 378 284.4 374.8 257.6 377.4 309.2 368.9 251.3 379.2 281 377.7 340.1 377.2 304 368.2 251.3 378.2 275.5 378 295.6 372.7 355.4 376.3 287.9 374.3 251.3 374.1 310.8 375.3 296.8 360.4 311.2 376.4 273.8 377.8 273.2 376.7 286.6 376.9 273.4 378.4 297.1 378.9 329.6 377.1 283.7 371.7 294.5 376.4 256.4 378.3 338.4 376.9 288.2 373.9 338.6 372.1 318.2 374 310.3 373.8 275 378.6 328.2 354 314.2 371.4 270.2 378.5 272.8 369.8 350.6 377.3 297.5 379.1 302.7 362.9 310.5 374.1 313 376 297.4 372.3 288.5 377.1 301.3 377.6 286.6 367.8 312.3 376.9 273.2 377.9 285.7 378.1 274.7 375.2 311.9 343.7 321.9 357 293.6 371.7 278.9 376.9 259.9 378.5 330.9 375.6 329.6 374.8 296.5 378.8 301.6 369.2 300.7 376.1 290.1 377.2 315.5 368.3 283 377.6 294.6 377.2 307.1 371.1 255.8 375.3 288.5 378.4 267.7 376.8 289.7 378.1 288 378.7 296.6 377.4 305.7 375.7 273 368.1 309.5 375.7 253.3 378.7 327.2 370.3 298.8 377.1 322.9 377.3 251.3 377.2 339.2 374.9 292.5 373.5 310 372.1 303.7 372.1 298.8 377.4 287.7 374.5 251.3 376.3 335.6 375.3 353.1 375.5 284.1 367.8 338.8 369.2 327.8 372.1 311.5 373.5 298 371.7 318.6 377.3 284 367.8 292.8 377.1 287.3 370.5 281.4 375.9 286.9 378.4 319.2 370.4 321.2 376.7 279.9 377.1 300.5 372.9 297.1 374.6 253.9 378.5 334 366.6 272 377.1 251.3 375.5 281.1 379.1 324.4 371.6 317.3 368.9 302.1 375.7 305.3 367.9 313 377.1 283.3 371.3 281.3 378.8 342.2 376.1 253.2 378.5 288.4 373.2 306.7 372.9 331.6 375.7 253.6 378.7 309.6 370.5 304.9 373 286.3 378.9 303.5 377.5 354.5 372.4 274.4 378.6 302.8 375.3 296 365.3 297.2 376.6 355.6 374.3 294.4 358.9 319.8 366.2 281.7 369 313.9 375.7 294.3 376.8 317.7 364.5 275.1 373.2 254.2 378.9 273.3 376.7 277.4 377.8 264.8 376.1 285.7 374.2 291 375.5 283.4 368.4 352 366.7 313.6 375.7 345.2 376.6 310.1 371.4 314.2 374 284.5 375.9 289.9 363.4 283 368.6 288.9 377.2 331.5 372.2 321.9 371.1 314.7 374.4 272.9 378.6 360.9 373.3 300.8 378.7 296.1 373.3 299.9 374.9 281.2 378.1 297.2 378.4 361.4 376.4 262.3 376.7 363.2 375.1 277.9 376.6 277.9 368.6 343.2 377.2 293.3 377.8 327.9 363.2 282.4 374.1 294.1 372.5 282.8 375.8 307.6 377.3 285.5 369.6 293.7 376.8 303.3 369.1 305.1 367.3 284 364.1 292 378.7 270.3 379 323.4 376.8 292.1 377.8 294.2 377.2 286.7 376.8 289.2 377.1 306.1 375.3 254.4 366.9 261 374.4 303.7 362.3 326.7 374.4 282.2 376.6 324.1 377.2 328.2 372.9 298.3 373.9 305.4 365.5 269.8 377.4 272.8 371.8 304.5 372.9 295.6 376.7 299.9 376.5 304.2 376.1 322.3 369.4 253.4 375.3 323.1 376.8 277.2 376.3 314.4 371.7 322.6 375.1 261.2 377.4 331.6 371.4 301.9 373 285 376 264.3 377.1 257.4 378.4 304.9 374.1 311.7 370.7 293.3 371.6 251.3 375.8 327.5 373.3 304.5 373.4 269.4 372.4 266.2 377.4 312.9 367.2 311.2 374.6 281.7 378.4 303.4 374.8 301.4 375.4 330.8 375.5 274.7 376.6 329.3 377 304 375.3 302.7 372.7 316.4 374.3 288 377.5 261.6 372 255.8 377.6 253 378.9 330.9 372.1 282 374.3 276 379.1 310.6 346.8 307.2 372.3 324 375.7 291.1 372.5 264.3 372.4 331.5 374.9 273 378.8 330 373.9 292.2 378.3 295.9 371.1 289 377.1 332.4 373.2 296.4 372.9 297.6 377.2 330.2 376.8 327.9 375.9 251.3 373.9 312.5 376.5 328.7 373.1 333.5 375.1 301.4 376.6 287.1 379.1 270.7 375.8 295.4 373 328.1 373.4 307.2 375.7 306.5 377.1 291.7 370.4 349.4 375.6 301.4 372 251.3 368.7 270.5 374.6 292.4 371.4 278 364.3 313.3 369.9 282.3 378.1 282.8 376.9 288.7 369.4 298.5 376.2 332 375.7 283.2 375.9 266.2 377.9 309.2 376.4 332.4 376.9 258.6 373.7 290 376.1 322.3 376.8 297.2 358.7 296.1 367.2 308.8 357.7 290.2 367.2 311.9 369.2 290 372.8 251.3 375.3 307.3 366.8 324.6 369.4 277.7 377.8 284.3 377.9 323.7 375.5 297.6 371.5 303.5 378.2 251.3 378.8 292.7 374.4 307.6 369.1 310.2 356.4 303.4 378.1 314.5 353.2 298.4 376.1 341 373.7 299.8 369.4 355 373.8 267.9 378.9 251.3 377 284.3 373.5 251.3 377.3 317.6 358 295 372.7 277.3 365 270.1 374.7 322.1 369.9 287.2 378.6 287 375.5 318.7 376.6 299.1 378.2 319.6 369.1 334.9 367.8 295.5 378.1 319.5 373.8 251.3 377 298.1 370.7 308.6 366.1 311.9 368 303.2 377.5 287.2 373.1 313.5 377.2 339.4 376.3 251.9 376.6 291.3 368.3 282.6 368.5 273.6 378.3 304.7 377.4 251.3 369.8 293.3 378.7 328.7 377.3 330 370.7 323.8 374.9 328.1 373 309.5 361.4 319 376.1 325.9 370.3 330.9 373.3 264.4 378 313.7 376 310.8 371.3 291.1 376.7 277.1 374.6 324.1 373.4 308.1 366.1 297.3 374.8 275 367 284.5 373.2 290.8 368.4 251.3 372.1 316.8 377.1 317.7 377.3 276.2 378.2 267.5 368.7 304.6 377.8 315.6 371.3 347.5 374.9 300 377 304 377.9 279.2 378.9 318.8 365.6 251.3 374.8 253.2 377.9 319.7 367.3 290.8 366.5 293.9 373 322.6 372.7 279.6 376.9 302.7 375.3 275.5 366.8 285.7 373.8 325.1 376.4 253.4 378.4 281.2 376.7 251.3 374.8 307.7 362.1 363.2 376.5 291.1 374.9 332.8 365.4 321.4 376.3 294.5 376.3 337.1 375.3 251.3 379.2 315.9 376.6 281.7 376.2 280.6 379.2 273 374.7 311.6 371 273.3 372.9 306.3 375.9 281.7 378 304.7 378.2 285 378.7 264.8 375.6 335.9 370.2 282.8 377.8 303 371.9 297.5 375.8 280.7 339.4 251.3 379 343.1 376.3 286.1 368.7 350.6 368.9 298.9 370.5 254 378.5 264.1 379.1 319.8 375.4 280.3 378.7 325.7 376.8 264.8 378.4 330.8 374.1 300.1 376.3 311.7 371 275.7 377.3 288.5 372.6 304.8 369.2 273.3 379 306 372.4 258.7 375.1 286 375.5 291.5 374.2 271.3 377.5 302.3 368.8 251.3 377.3 299.2 369.9 347.2 376.6 251.3 376.2 304.4 370 284.2 365.8 294.9 375 267 377.7 327.3 376.1 263.6 375.4 330.1 371.5 306.3 371.3 316.9 374.2 251.3 366.4 282 368.7 251.3 376.4 318.1 372.3 332.9 376.7 258.5 377.1 294.1 365.9 251.3 378.7 290.9 377.1 303.2 337.6 329 375.5 298.1 378.8 280.1 378.7 350.4 376.8 363.2 376.7 325.5 373.9 329.6 374.9 331.2 372.1 335.4 372.1 279.1 373.2 295.5 363.6 261.5 378.6 279.8 377.9 336.3 373.1 335 372.1 318.6 375.1 269.4 378 304.7 374.8 316.2 369.3 285.3 377.2 285.8 371.5 295.1 366.1 358.1 377 269.4 376.4 288.5 370.5 298.3 372.9 253 374.6 310.1 376.8 304.5 371.2 332.5 375.9 281.5 370.7 286.1 377.1 329.3 373 277.9 379 300.3 376.7 317.2 363.7 288.7 373.8 353.2 375.4 288.9 367.9 342.9 376.7 290.9 378.5 281.1 377.5 327.4 377.2 350.1 369.8 291.2 373.8 285 375.3 313.5 371.2 293.3 374.7 291.8 379 261.3 379.2 341.1 376.7 296.1 376 267 374.6 299 379.1 325.6 372.4 345 366.6 311.2 375.3 330.2 363 256.4 377.7 305.3 363.3 330.4 374.5 272.5 374.5 350.8 375.2 363.2 376.6 311.7 375.8 257.5 377.6 325.2 371.9 324.7 367.4 293.5 379 277.3 379 275.9 375.2 312.7 371.1 269.5 371.3 282.4 367.3 296.6 377.3 280.8 374.6 297.1 363.7 332 368.6 278.5 372.8 324.2 369.1 303.7 379 295.9 372.3 264.1 374.6 310.3 375.4 318.9 370.6 280.9 365.4 329.9 376.7 332.4 371.4 308.5 377 279.1 377.6 301.2 368.6 331 371.4 330.3 375.9 302 377.8 298.4 372.9 333.9 368.4 273.8 379.1 301.6 375.3 330.3 371.3 284.4 378.4 284.5 375.6 342.9 375.5 290.7 373.3 297.2 371.6 320.8 368.1 293 377.3 301.9 375.3 281.6 375.2 298.9 368.8 270.3 374.4 251.3 378.8 265.3 376 320.6 375.2 289 370.6 315.7 357 291.4 375.9 303.1 358.6 313.1 375.4 328.7 376.1 277 376.3 280.6 379.1 306.2 367.6 349.4 368.2 312.5 376.6 299.5 372.1 300.3 361.5 297.9 344.5 287.4 376.9 312.8 375.1 264.3 378.5 253.7 378.6 256 378.7 318.6 376.8 301.3 365.4 306.1 370.5 291.5 371 314.1 365.9 290.2 374.8 320 375.5 268.3 374.1 259.2 377.9 333.4 367.9 327.3 375.1 285.2 375.1 272.4 366.2 276.5 366.6 305.6 354.1 277.4 369.5 277.1 374.3 315.6 375.9 352.7 371.6 312.6 376.9 338.1 375.8 319.5 367.4 316.3 374.8 303.5 373.2 288.3 369.7 290.9 372.4 312.7 374.1 267.8 379 290 371.5 273 378 324.8 376.4 363.2 375.2 319.5 376.4 268.7 378.9 319.2 375.6 283.2 375.9 251.3 376.6 251.3 378.9 251.3 373.9 348.8 376 251.3 373.5 300 373 267.5 374.8 329 375 322.4 370.9 281.5 377.9 307.3 376.9 278.3 378.1 293.9 360 309.6 376.8 292.6 376.1 264.2 377.6 266.4 373.8 270.6 376.7 272.6 378.1 271 378.7 327.8 375 319 374.7 290.4 376.4 337.2 376.3 318.8 376.1 251.3 376 363.2 374.1 300.6 368.8 254.5 374.5 342.1 375.7 307.9 371.5 308.7 365.8 329.2 371.3 314 373.7 307.5 373.1 299.6 374.3 265.3 379 335.4 368.5 301.4 353.9 326.1 372.2 284.9 377.9 292.8 370.9 298.1 374.5 273 379.1 274.3 378.8 288.6 371.9 363.2 364.1 283.5 376.9 314.8 375.5 291.2 377.9 270.6 378 294.8 373.2 363.2 372.7 281.9 373.4 274.8 377.2 315.3 371.3 274.7 373.8 280.4 375.7 262.1 376.4 331.5 375.6 323.1 375.6 251.3 376 323 366.3 296.5 369.9 300.9 376.9 281.9 376 309.5 376.9 321.3 366.2 280 370.3 302.8 376.9 301.7 374.4 280 378.7 287.5 375.7 299.9 371.3 326.9 374.9 284 373.6 303.5 374.5 332 371.6 342.8 376.7 261.9 377 309.4 357.6 296.6 377.6 287.8 379.1 282.9 377.8 332.1 377.1 296.1 373.1 306.5 368.1 301.3 378.9 298 370 327 370.3 290.4 377.1 324.4 375.8 263.3 373.8 311.2 376.7 300.7 369.8 287.9 373.4 316.2 367.6 308.1 376.2 295.2 377.7 301 372.9 299.2 378.4 289.4 371.8 335.7 376.6 331.5 353.6 251.3 373.9 278.9 379.1 314.7 367.9 319.2 375 302.1 371.2 290.6 379.1 308.2 371.9 305.6 376.8 309 373.7 279.2 376.4 298 376.7 334.1 376.1 328.9 375.8 319.3 371.3 298.3 377.5 324.1 371.1 305 376.6 309.8 376.3 318.5 369.7 282.8 374.5 321.9 372.8 337.4 375.8 260.6 375.8 296.9 377.9 295.5 377.5 350.5 375.2 308.7 375.3 322.8 376.6 326.4 370.2 283.7 376 268.4 373.6 337.1 376.8 330.1 370.9 328.5 370.2 285.4 374.8 285.1 374.6 305.5 358.1 323.8 355.3 296.1 377.1 296.7 374.5 318.9 374.9 261 379 298.8 371 263.3 377.1 254.4 375.7 311.3 375.8 259.8 376.4 294.8 378 352.3 375 258.7 378.3 329.7 375.3 347.4 375.1 296 377.1 303.4 371.3 291.1 374.1 266.4 378.5 281.3 375.9 308.4 377.1 255.7 378.1 308 373.6 281.7 376.4 296.5 378.2 282.3 375.2 295.8 373 257.7 377.3 257.8 378.7 294.7 372.3 344.3 375.7 333.3 377.1 305 372.6 298.1 372.2 255.2 377.6 279.5 379.3 271.1 377.4 345 377.2 256 376.8 346.9 372.6 341.7 376.7 283.9 377.4 289.7 378.2 266.3 374.5 325.4 373.5 303.1 372.2 304.6 376 331.4 376.9 353.7 374.8 276 373.4 335.4 375.7 255.2 378.1 281 374.4 273.3 374.9 309 372.4 350 376.5 338.7 374.1 302 378.2 320 373.8 300.6 377.6 292 378.3 336.5 377.1 267.9 378.5 270 377.6 252.3 376.2 252.9 377.9 300.9 373.4 260.2 375.1 340.5 375 294.2 378.3 255.5 376.1 253.8 375.8 346.3 374.9 288.9 374.3 276 375.9 324.8 375.9 282.4 377 258.2 376.8 341.1 373.4 321.8 373.9 291.6 378 309.1 373.9 352.5 373.5 282.2 375.6 345.2 375.9 346.3 373.6 353.1 376.8 267.1 375.7 295.4 371.5 283.5 375.8 282.5 378.2 334.4 377.3 279.1 377.4 345.1 375.6 297.3 371.2 267.3 376.3 297.9 373.9 330.2 375.5 268.9 378.2 272.5 377 265.9 377 333.8 374.4 348.3 375.4 341.3 373 327.4 375 326.6 373 310.6 371.3 318.2 375.4 323.4 375.7 272.6 375.3 355.5 375.2 298 374.5 321.8 373 322.4 376.4 303.9 373.5 325 377 348.7 377.3 258.3 377.9 308.5 373.3 310 375.2 263.1 375.4 280.7 376.4 343.1 376.5 260 379 262.6 376.7 353 373.3 287.4 374.8 271.9 378 279.3 378.7 262.4 376.3 292.1 372.4 348 374.4 334.4 372.5 334.4 374.1 284.7 373 279.6 374.7 271.5 374.9 280.6 376.5 353.4 374 332.7 373 298.2 372.8 302.1 379.1 262.6 377.9 301.9 377.9 319.6 371.6 258.6 376.6 279.6 377.4 273.9 378 298.5 378.2 320.8 373 326.4 375.4 284.3 373.9 311.6 373.6 272 374.1 265.6 379.1 271.7 375 253.2 378.4 296.6 371.2 289.5 373.5 304.5 375.9 271.9 374.8 336.8 375.5 289.3 376.7 293.5 374.3 341.4 374.9 350 375.1 326.4 375.7 326.3 374.6 301.2 378.2 310.4 377.3 278.4 374.2 324.2 374.5 353.6 376.6 348.9 376.4 334.4 376.8 330.3 376.5 296.3 375.9 345.7 373.4 252.4 376.4 279.4 374.5 291.4 374.9 345 374.3 310.4 377.2 313.3 373.1 341.1 375.1 252.8 376 259.2 375.2 333.6 373.3 310.7 374.4 348.7 373.9 262.7 378 343.9 374.9 282.4 373.9 345.9 375.1 322.4 372.3 263.5 376.2 309.4 376.3 279.4 374.9 345.2 374.5 354.1 375 274.7 377.4 321.4 373.5 258.7 378.8 288.5 377 303.1 373.9 265.1 375.3 310.2 372.5 325.3 371.8 335.8 375 263.6 375.7 345.2 372.9 337.5 376.2 270.4 378 263.7 375.9 298.2 371.5 268 375.2 338.7 373.5 287.9 378.8 271.4 376 281.3 377.2 296.3 376.7 275.6 379 289.1 373.6 279.3 374.7 310.5 376.8 343.3 373.7 258.9 376.8 316.2 372 269.9 375.9 327 376.2 253.2 376 288.6 376.2 350.8 372.9 347.5 376.9 260 376.7 306.2 371 281.2 375 279.5 378.2 333.3 377.1 304.5 375.3 276.2 378.9 326.2 374.6 337.5 375.9 330.4 373.5 300.9 370.9 318.4 371.4 308.9 374.8 283.4 373.9 329 372.2 288.9 375.9 323.5 377.3 325.8 377 262.6 378.5 258.7 378.1 263.5 375.5 319.4 373.7 321.1 376.6 284.6 376 278.9 375.3 275.2 376.6 296.2 373.6 296.6 379 324.4 376.3 300.2 372.8 335.9 374.8 259.7 375.6 313 374.3 301.1 377.3 280.2 376.4 281.3 377.4 278.2 378.7 312.1 374 285.8 377.6 326.9 376.9 339.2 373.3 270.7 378.2 303.8 375.4 257.5 376.2 321.2 373 300.2 376.9 279 374.1 308 372.8 273.1 375.6 297.9 376.6 334.6 372.1 347.2 372.5 292.7 377.8 262.4 377.9 291.1 376.2 344.7 373.3 330.5 377.1 256 376 286.9 373.2 345.5 377 313 376.2 260.4 377.1 276.8 373.5 309.9 375.2 267 375.1 273 377.5 324.1 373.6 254.7 376.9 257.3 377.8 336.1 373.1 332.3 372.3 313.1 374.2 287.6 379.2 299.3 377.8 271.8 373.9 347.8 376.4 300.6 372.5 340.3 376 353.9 374.2 317.1 371.3 301 373.1 308.1 372.4 299.6 373.9 352.8 373.3 331.4 373.8 263.5 377.3 339.8 373.6 327.7 373.2 259.4 376.2 286.3 374.8 349.3 374.4 329.4 373.6 304 378.6 299.9 374.8 301.1 378.6 312.8 375.1 343.7 373 322.5 375.3 270.8 378.1 277.3 378.5 272.9 376.7 351.6 374 311.4 376.3 255 379.1 283.8 375.4 269.4 379.1 315.5 375.4 258.2 376.1 304.1 373.1 343 377.1 285.4 377.7 336.1 373.7 353.6 374.7 280.2 376.7 306.4 373.7 268.1 374.9 288.8 373.3 272.9 375.3 351.6 375.2 343.2 372.5 345 372.9 334.7 375.1 330.6 376.5 287.1 379.2 256.6 377.6 320.3 374.3 342.7 372.9 286.7 372.2 273.1 373.9 344.6 374 282.5 376.5 349.1 372.5 298.6 377.6 279.5 375.9 290.3 377.2 339.5 374.9 303.6 378.1 295.9 374.7 274.2 376.8 280.7 372.9 314.6 375.1 346.1 372.7 271.7 377.2 269.7 375.1 284.9 375.2 316.5 371.9 294.6 375.6 340.4 376 261.9 377.4 328.2 373 287.8 377.2 317.9 371.7 305.5 373 307 375.5 287 379 290.6 373 337.1 377 311.8 373 334.6 374.5 275.3 376.2 316.1 371.3 309.7 376.3 304.3 377.5 315.2 372.9 282.4 373 277.2 373.3 313.9 372.4 287.8 375.5 288.2 373.7 283.6 373.4 327 376.9 274.6 376.9 320.3 376.4 311 374.1 311.3 372.6 316.2 371.9 254.1 376.7 287.6 374.5 315.5 374.7 304.5 371.3 309.6 374.2 273.2 378 331.8 372.3 301 374 277.2 377.2 286.9 377.9 353.1 373.8 310.5 376 270 378.7 272.9 378.1 328.4 376.9 298.3 371 291.2 376.4 327.3 373.4 298.4 379 294.6 377 318.9 376 283.7 376.6 344.1 375.4 258.4 375.8 302.9 375.4 323.1 376.9 281.8 373.1 353.5 377.1 291.4 371.9 273.8 374.7 282.6 374.5 255.2 378.1 312.6 371.5 287.4 379 335.7 376.1 353.7 373.7 275.5 376.8 306.7 374.8 256.4 376.6 312.3 372.3 290.1 376.6 302.7 373.1 254.1 377 272.4 379.3 312.3 371.2 322.7 372.5 296.3 372.3 318.6 372 333.4 372.9 282.1 374.9 267.2 377.7 277.2 378.9 354.8 376 290.1 374.6 331.7 373.5 290.7 373 293.6 372.3 293.2 372.4 348 376.8 305.3 372.4 347.6 373.2 274 375.4 338.6 375.2 256 378.2 304.2 378.5 324 371.7 353.6 372.9 278.9 379 351 374.2 267.8 375.9 254.8 376.3 267.9 377.7 311.4 372.2 306.8 372.2 319.3 375.9 257.5 376.1 306.6 372.9 333 374.1 273.1 374.1 336.2 375.3 305.9 372.1 290.4 375.1 313.2 371.3 256.3 379.2 315.8 374.7 317.8 371.4 256.9 377.2 255.6 378.8 304 372 323.4 373.2 298.7 371.3 332.9 375.3 254.7 377.2 256.8 377.8 274.6 376.5 331.2 376 294.2 373.6 333.9 374.5 337.9 372.6 301.2 376.9 321.5 375.1 336.1 376 286.4 373.7 312.1 373.6 317.3 374.5 253.9 376.1 309.5 375.9 337.4 373.4 349.1 375.3 332.6 373.8 290 373 350.1 373.5 345.1 376.4 322.7 371.9 283.4 375 284.9 372.6 320.3 376.6 311.3 375.5 339.8 372.5 327.7 374.5 333 376.9 294 379.2 280.8 375.3 289.6 378.6 352.2 376.3 329.7 374.6 281 372.9 295.7 376.4 273.5 376.1 334.7 376.5 274.4 377.5 354.7 375.4 253.5 377.2 347.5 373.5 300.8 376.3 320.4 376.7 271.2 377.3 283.6 372.6 351.8 377 276.3 376.4 263.9 376.5 255.2 377.6 289.5 374.2 257.1 377.1 279.2 378.2 345.3 374.9 273.2 375.6 350.8 374.5 262 375.9 353.8 375.4 343 372.6 304.8 375.8 303.1 370.9 282.6 375.3 287.8 375.9 297.6 375.3 314.9 375.3 301.5 377.5 352 373.6 281.7 373.6 301.7 378.2 264 375.8 273.1 376.8 347.1 375.2 329.9 372.6 321.2 374.7 334.6 373 271.6 375.7 303.8 375 329.2 375.6 265.4 375.5 257.9 376.5 343.8 373.4 348.4 373.4 354.4 374 297.1 377.1 295.5 375.9 309.1 373.4 295.9 378.1 287.5 372.7 326.8 375.9 333.3 373.2 306.7 372.3 284.6 372.5 253.4 378.7 353.8 374.9 342.5 376.9 343.7 376.3 338 374.6 322.1 376.5 337.4 375.4 348.3 374.4 263.4 377 354.3 375.5 317.2 374.7 325.9 375.4 273.8 379.2 271.7 379.2 297 348.9 273.4 337.1 325.9 360.5 290 360 284.4 354.4 340.6 335.7 337.3 340.3 323.3 338 305.5 362 333.5 336.7 281 334 283.4 345.7 281.2 358.6 303.5 366.4 295.8 356.7 306.1 355.9 321.8 360.2 281.2 353.3 312.3 337.1 334.4 358.2 302.2 350 276.5 350.9 307.7 348.4 341 333.9 283.1 366.9 296.3 360.1 273.9 340.4 323.8 362.8 271.8 358.3 302.5 354.1 274.7 341.6 316.1 360.7 302.5 338.1 355.1 333.6 309.5 361.6 275.8 340.9 275.1 337.7 274.8 342.2 276.1 338.7 274.8 340.9 274.9 339.8 277 339.4 272.6 340.8 274.7 339.7 277.1 339.5 276.4 339.2 274.2 339 275.6 338.6 275.4 340.4 276 339.7 276.3 338.2 274.8 340.8 274.4 338.2 275.9 340.6 278.8 341.2 283.6 335.6 283.6 335.2 283.8 334.1 284.1 335.6 283.5 334.4 282.7 335.2 284.1 334.8 283.2 335.3 248.7 351.3 248.7 352.4 249.2 352.5 249.8 353.1 249.5 351.8 250.6 352.4 250.5 350.3 249.6 353.4 250.1 352.6 250.1 350.6 249.1 352.6 250.1 351.9 251.2 352.2 249.9 351.5 247.9 351.6 246.6 370.8 245.7 369.9 246.6 369.8 245.9 370.2 246.3 371.3 245.3 369.7 243.8 370.6 244.5 370.6 246.3 370.5 245.5 370.2 258.4 369.6 256.3 370.1 258.1 369 257.8 369.1 256.6 369.8 256.2 368.7 269.1 353 292 335.7 360.6 317 330.8 286.4 332.5 285.4 329.2 285 329 284.6 331.1 285 331.7 285.7 332 285.6 333.1 284.4 332.1 286.2 332.1 284.6 334.7 284.8 330.9 284.4 333.2 287.3 330.6 283.2 332 287.2 331.2 284.3 330.9 285.3 333.4 284.9 333.6 285.2 331 284.8 330.7 285.3 330.5 283.2 328.3 283.4 333.1 283.2 331.1 284.2 332.6 285.1 333 281.8 330.5 284.4 332.1 286.4 329.7 282.6 342.4 282.4 338.3 284.2 340.2 282.8 339.4 281.1 341.5 285 337.6 282.9 339.5 282.4 339.9 284.5 340.3 283 338.6 283.3 349.1 282.4 347.2 283.1 348.8 282.1 349.3 282.4 346.3 283 345.6 282.1 347.5 282.6 347.8 282.4 349.1 281.3 350 283.7 362.2 281.6 362.5 282.3 364.2 282.3 360.7 282.8 361.3 281.9 360 281.6 358.7 283 361.1 281.8 360.3 282.9 362.8 282.8 364.8 280.8 363.4 281.9 360.7 281.4 365.1 283.4"/>
<path clip-path="url(#c8)" class="m" d="M391.4 377.9 394.1 378.4 393.3 378.4 392.6 379 392.7 378.3 393.7 378 393.7 377.9 395.8 378.4 394.9 379 396.6 378.6 399.3 378.6 399.2 378.5 399.7 377.6 399 377.6 398.9 379.1 399.9 378.2 400 379.1 398.9 379.3 398.8 378.6 399.2 379.4 399.2 377.6 400.2 378.3 399.1 378.8 401.7 378.5 401.3 378.1 400.7 379.3 401.4 377.7 400.7 378.6 400.4 377.5 404 378 403.4 378.1 403.5 378.4 406.1 377.6 404.6 379 405.8 378.4 406.2 378.7 407.3 378.6 407 379.2 407 378 406.7 379.1 406.5 378.8 406.5 378.5 409.5 378.2 409.7 377.5 409.1 377.5 409.8 378.9 408.6 378.2 409.8 378.7 409.8 377.8 411.6 379.3 412.1 378.6 411.5 379 411.5 378.8 410.8 379.4 412.2 377.6 410.5 378.5 410.5 377.8 413.5 378.7 414 379.2 413.9 378.6 414 377.6 413.6 377.6 413.6 377.5 412.7 379 415.6 378.6 415.4 378.1 414.6 378.2 414.9 379.3 415.6 379.3 415.7 378.7 416.4 378.9 415 377.9 414.5 378.2 415.1 378.3 416 378.8 415.6 379.3 418.4 378.6 416.9 379.4 418.2 377.7 417.7 378 418 378 416.5 378.2 417.2 377.6 417.8 379.1 416.9 379.2 417.2 378.2 419.9 378.6 420.1 377.5 420 378.4 420.3 379 421.9 378.6 421.3 377.8 421.3 377.8 421 377.9 421.4 379 420.6 379.4 422.3 378.7 421.5 377.9 422.1 378.1 421.1 378.8 420.6 379.3 421.4 379 420.8 378 422.5 378.3 423.1 378.3 423.7 378.9 424.3 379 422.9 378.3 422.5 379 424.1 379.1 423.3 378 423.4 378.5 422.7 378.2 423.2 378.2 425.2 379.4 424.6 378.6 424.9 378.9 425 378.8 426.8 378.1 426.5 378.9 428.1 378.7 426.7 379 428.7 378.3 429.3 378.2 428.5 378.7 429.9 378.9 430.3 378.7 430 378.3 428.5 378.8 431.3 377.6 431.5 378.2 430.6 377.8 432 378 430.8 377.7 431.1 378.9 432.1 378.4 431.4 378.2 431.7 377.6 432.7 378.3 433.4 378.9 433.9 379.4 433.7 377.8 433.5 378.8 432.6 378.1 433.9 377.9 432.6 377.5 433.7 379.4 432.8 378.3 432.4 379.4 434.5 378.6 436.2 378.7 436 377.6 435.3 378.5 434.9 379.2 438.4 379.4 443.3 379 447.3 377.8 459.6 378.7 459.1 377.5 473.7 378.2 487.8 378.6 524.3 379 390.7 376.2 392.9 376.2 394.4 377.3 395.1 377.2 395.3 376.6 396.8 376.2 399.8 376.5 398.6 375.9 399.4 376.3 398.9 377.4 399.1 375.8 399 376.9 401 376.2 402.4 375.5 401.2 376.7 401 377 401.5 376.7 401.7 376 404.3 376.9 403.7 376 406.7 376.8 408.2 375.8 408.2 376 410.3 375.9 409.8 376.8 409.1 376.6 409.9 377 410.4 376.6 409.4 376.5 410.6 375.7 412.3 377 411.3 375.5 412.1 376.4 411.7 376.7 411.7 376.5 414.2 376.3 413.2 376.9 413.6 376.5 413 376.6 413.7 375.9 413.3 376.4 412.8 376.2 413.2 376 415.9 375.6 414.6 375.6 415.5 376.9 414.8 375.9 415.4 377.2 416.2 375.8 417.5 376.7 418.3 377.1 416.4 377.2 417.3 376.9 417.1 377.4 417.1 376.5 416.7 376.3 418.1 377.1 417.3 376.1 420.3 376.1 418.6 376.8 418.6 375.7 419.8 376.1 418.7 376.3 419.3 376.3 419.1 375.8 421.7 377.1 421.5 375.5 421.3 377 420.7 376.5 421.4 375.7 421.8 376.2 420.4 376.9 421.7 375.5 423.9 377.3 423.5 377.2 423.1 376.7 422.8 375.6 424.2 377.1 423.7 377.4 423.5 375.9 425.6 376.4 424.7 377.3 425.5 376 425.3 377.2 425 377.4 425.8 377.2 424.6 376.3 424.8 376.5 426.2 376.4 426.1 376.9 427 376.8 427.9 376.7 428.1 377.4 427.1 375.9 427.9 376.1 427.5 376.7 429.5 377 429.9 376.4 430.2 377.4 428.6 375.6 428.9 375.7 428.9 377.1 432.2 377.3 432.1 375.7 431.9 376.1 431.3 377.1 432.1 376.8 431.7 377.4 431.2 377.3 431 376.3 433.6 377.3 433.1 376.2 434.2 376.6 432.6 376.6 433.5 375.9 433.6 375.8 432.4 377.2 435.1 376.5 434.4 377.1 434.7 375.7 434.6 375.6 436.1 377.5 435.8 376.9 438 376.6 438.4 376.4 437.3 376.5 440.1 376 439.7 377.4 439.6 376.1 440 376.2 441.8 377 442.2 377.2 441.2 376.9 441.1 375.9 440.6 377.2 442.7 377 444.2 376.8 444.2 376.9 443.3 377.1 443 376.2 445 377.3 444.4 376.9 444.9 376.8 446.3 376.6 447.8 377.4 448.2 376.7 449.4 376.6 449.1 377.1 449.5 376.5 448.8 375.9 448.5 376.4 449.1 375.6 449.1 376.8 451.4 375.8 452.5 376.9 453.3 377.1 454.8 376.6 456.1 376.9 455.4 377 457.5 377.3 458 377.4 460.4 376.7 460.1 376.3 462.3 376 461.1 375.7 462.4 376.5 463.2 377 463.6 376.2 463.3 376.6 464.1 375.9 463.7 377.3 464.9 375.9 465.8 377.1 465 377.3 466.9 375.8 467 375.9 466.5 376.7 470.2 375.7 469 376.9 469.2 376.2 469.1 376.5 469.2 376.9 471.4 376.1 472.3 375.5 473.6 375.8 472.4 376.9 474.2 375.9 473.8 375.6 476.4 376.6 474.7 376.6 474.7 375.7 475.9 375.9 475.4 375.6 475.7 376.3 476.5 376.6 476.5 376 479.6 376.2 480.2 376.3 481.3 375.9 481.4 376.3 482.3 375.9 481.9 376.3 482.5 376.7 483.5 377.3 484.2 377.2 483.4 377.4 484.1 375.6 483.1 377.3 484.6 377 485.7 377.1 485.7 375.9 484.4 376.7 484.4 376 487.1 375.7 488 375.8 487.4 375.9 487.6 376.8 487.1 375.8 489.8 376.6 489.7 376.8 490 376.3 491.7 375.6 491.6 376.9 492.9 375.9 494.1 376.9 492.8 377.4 493.5 376.3 494.6 377.1 495.2 376 495.1 375.7 495.4 376.3 495.2 377.4 495.6 376.1 494.7 377.2 496.9 376.7 496.9 376.1 496.6 376.8 501.6 376.3 501.7 375.6 501.1 376 501.6 376.3 502.3 376.6 503.3 377.4 503.6 376 503.5 375.5 503.4 376.4 504.5 377 505 376.8 505.5 376.5 506 375.7 504.4 376.4 507.3 375.5 508.1 375.5 506.6 377.4 506.7 376.3 507.5 377 508.1 377.1 506.8 377.3 508.8 376.6 508.5 377.2 508.7 376.7 510.8 377.1 511.9 375.9 511.5 377.4 511.6 377.1 513.6 376.2 512.4 376.2 513.6 377.3 512.5 376.5 512.8 377.5 512.9 377.1 514.7 376 516.4 376.8 516.1 377.3 515.5 375.6 515.6 375.6 514.8 376.2 515.3 375.8 516.9 376 516.8 376.1 518.4 377 517 376.6 517.3 376.9 517.7 376.8 516.9 376.4 520.3 376.5 518.7 376.5 519.9 375.7 519.9 376 518.9 376.3 519.1 376.5 521.3 375.7 521.1 376 524 376.4 523.8 376.1 522.4 375.9 523.2 375.7 522.9 376.8 523.2 376.7 526.3 377.4 525.3 377.3 525.7 375.8 526.2 376.1 528.2 376.1 527.3 375.7 529.6 377.4 529.7 376.2 529.9 377.2 530 376.5 395.3 375.3 400.9 374.2 403 374.5 410 373.7 409.7 375.1 411.8 375.3 412 374.8 411.5 375 412.2 375.1 412.5 374.8 412.5 374.3 414.1 374 413.5 375.2 415.7 374.9 414.8 374.3 415.1 374.9 417.8 374.3 417.8 375 418.1 373.5 417.8 375.1 416.8 375.4 418.7 374.7 419.5 374.5 420.1 375 419.4 375.3 420.1 373.9 419.1 374 421.3 375.4 421.6 374.3 422.1 374.3 420.7 373.6 421.3 374.4 422.3 374.4 421.3 374.2 423.9 374.2 423.6 375.2 424.1 374.1 422.9 373.9 423.1 375.1 424.2 374.8 425.8 374.1 425.9 374.8 424.6 374.6 424.9 373.6 425.2 373.8 428.2 374.2 428.1 375.3 426.9 375.2 427.8 374 427 375 429.4 374.6 428.8 374.4 430.3 373.9 428.9 375.1 430.4 375 430.5 374.4 430.8 374.2 431.8 373.7 431.6 374.6 432.3 375.1 432.3 374.6 431.7 374.4 432.5 374.9 433.9 373.8 433.1 374.2 433.9 374.1 432.8 373.6 433.7 375.2 432.7 374.7 433.6 373.6 433.9 374 433.6 374.6 433.8 373.5 432.4 374.2 433.1 375.1 433.4 374.3 435 373.8 436.1 375.1 434.9 375.1 436.1 373.8 435.4 373.5 435.7 375.1 435.3 374.5 436.8 375.1 437.1 374.6 438.8 373.7 439.3 374.1 439.8 374.6 442 373.8 441.3 373.9 441.4 373.5 441.7 374.5 440.5 373.6 443.2 374 444 373.9 443.4 373.7 448 374.3 446.8 375.2 451.6 374.9 450.8 373.7 454.4 375 452.9 374.5 454.2 373.7 454.8 375.5 455.5 373.8 454.8 373.7 455.2 375.3 454.6 374.8 458.2 373.8 457.8 375.1 459.3 374.5 459.7 375 458.5 374.6 460.5 374 462.3 375 462.1 374.8 461.2 374 463.1 374.2 464 375.2 464.5 373.7 466.4 374 465.5 373.5 464.9 373.7 466 375.3 465.7 374.3 467.9 374.6 468 374.8 469.8 374.8 468.5 373.8 469.2 373.5 469.3 374.8 471.6 375.2 471 374.6 471.3 373.9 471.6 374.3 471.3 375.1 472.5 375 473 374.1 474.8 373.6 476.3 375.2 478.3 374.4 476.7 374.3 476.6 373.5 478.1 374.5 478.9 374.7 478.9 375.4 478.7 374.1 481.8 374.1 481.2 374.7 481.6 373.8 482.1 373.7 480.6 374.2 480.7 373.6 482.1 375.3 482 374.9 483.4 374.7 485.7 373.6 485.7 374.5 484.7 374.6 487.4 375.4 486.6 374.8 488.6 373.8 489.6 375.2 491 374.4 492 374 493.9 374.6 493.8 374.6 493 374.6 492.6 375.3 494.2 373.8 493.4 375.4 494.4 375.1 496.4 373.5 494.9 375.2 494.5 374.8 495.8 373.8 494.8 375.4 496.3 374.7 494.9 374.2 496.3 374.1 496.4 375.5 495.6 374 497.2 374.8 496.5 374.4 498.2 373.6 496.6 374 497 374.2 498 374.4 498.2 374 500.3 373.8 499.1 374.5 500.3 374.6 500.2 373.9 498.9 374.5 500.9 374.7 500.5 373.7 501.5 375.2 500.9 374 503.4 375 502.9 374.2 502.7 374.5 503.5 373.5 505.1 374.3 505.7 374.3 505.7 373.6 505.8 374.7 506.2 374.6 505.8 374.1 506.8 374.6 507.3 374 506.9 374.3 506.5 374.3 506.4 375.2 507.4 374.3 507 374.8 507.1 375.5 506.9 374.9 508.6 373.7 508.5 375.4 510.3 373.8 508.5 374 509.5 373.8 509.1 374.2 509.7 373.7 511.5 373.7 511.7 373.8 512.4 374.5 513.8 373.7 513.5 374.5 515 373.7 514.7 375.3 514.8 373.7 516.1 373.7 514.5 373.9 517.4 374.4 518.2 374.5 518.1 373.9 518.1 375.2 518.8 374.8 518.4 373.8 520 373.9 518.5 374.8 519.9 375.2 519.9 374.8 521.2 374.1 521.2 374.4 520.7 375.5 521.9 375.5 523.1 375 523.5 374.2 522.8 373.7 524 373.9 523.4 374.6 523.1 374.2 524 375 523.2 373.9 525.2 373.9 524.5 374 524.9 375.1 526.2 374.6 526.6 374.5 526.7 374.2 527.7 375.2 526.8 375.1 528.6 373.8 530.4 375.2 533.8 374.6 409.5 372.7 409.3 372.2 410.1 371.8 411.2 371.9 410.6 372.8 412.2 372.3 410.5 371.6 411.9 371.7 412 373.3 411.6 371.7 414.3 372.3 412.9 371.8 413 371.8 413.5 371.7 413.2 371.8 413.4 371.5 412.9 371.8 414.8 372 416.1 373.3 415.6 373.3 416 371.5 415.8 372.2 415.5 373.4 415.8 373 415.8 372.9 416.2 372.8 418.2 373.1 417.2 372.7 417.3 373.3 416.8 372 418.3 372.8 416.6 371.7 419.2 373 419.1 372.3 420.2 373.2 419.5 372.4 418.6 372.6 420.8 373.4 420.7 373.2 421 372 421.8 372.4 421.7 372.9 422.2 373.1 420.8 373.1 422.3 373.5 422 372.9 423.8 373.4 424.4 372.9 424 372.4 422.8 373 423.3 372.1 425.6 372.1 425.1 371.7 425.4 371.8 424.5 373.5 425.8 372.8 425 373.2 426.2 372.7 428.1 372.8 427.5 373.4 428 372.7 427.7 372.6 427.1 372 426.6 372.2 426.7 372.9 427.6 372.6 428.8 373.4 429.1 372.5 429.9 372.3 429 372.8 429.1 371.8 429.6 372.1 429.4 373.2 429.6 372.4 431.8 373.2 432.2 373 431.5 372.8 430.4 371.7 432.2 372.4 431.2 371.8 431.5 371.8 431.7 373 434 372.9 432.4 373.3 434.2 373 433.8 371.5 433.4 373.3 434.1 371.9 443.1 372.3 451.2 371.5 456 373.2 461.1 373.2 462.3 372.6 460.9 373.4 471.1 373.5 475.9 372.4 481.4 372.4 481.8 371.6 483.6 372.6 488 373.2 498.5 373.4 504.3 372.6 502.5 373.5 504.2 371.7 505.8 373.5 505 372.9 505.7 372.6 510.4 372.3 512 372.5 517 372.2 517.1 372.5 519.9 373.2 519.4 373.4 521.8 373.4 520.7 373.1 520.9 373.4 525.2 372.1 529.7 372.6 533.2 371.9 411.8 370.2 411.4 371.2 414.1 370.5 414.2 370.8 413.7 370.5 414.6 370.9 415.7 371.2 414.9 369.9 414.6 370.1 417.9 371.1 418.4 370.9 417.5 370.3 419.2 370.5 419.8 370.9 419.6 370.2 419.7 371.4 422 370 422.3 371.3 421.8 369.5 421 370.9 420.7 369.8 420.4 369.5 421.3 371.3 422.1 371 421.7 370.3 423.9 371.4 424.2 370.2 422.5 370.3 423.3 370.4 422.5 371 423.3 371.2 424.1 371.3 425.3 369.6 425.3 369.7 425.3 369.9 425.6 370 426.1 371.3 424.5 371 427.7 371.2 427 370.7 426.8 369.7 427.6 370.2 427.4 370.7 427.6 370.7 426.9 370.2 427.3 371.2 426.6 371.2 427 370.4 428.2 370.3 427 371.3 428 371.1 429.8 371.1 429.9 371.3 430 371.3 431.6 370.7 434.3 370.4 495.5 370.8 522 370.2 414.9 367.7 417.4 368.7 417.7 367.8 419.4 368.5 420.3 367.8 420.9 367.9 421.7 367.8 420.9 369.5 421.7 369.1 421.1 369.4 421.1 368.5 421.8 367.8 420.7 368.4 424 368.3 423.4 369.2 422.9 367.8 423.6 368.9 425.4 369.3 426.6 368.4 427.6 368.7 426.8 367.6 428.2 368 428.3 368.1 432.1 368.1 420.8 366.8 460.3 367.3 439.2 373.6 474.6 367.8 439.8 364.4 468.1 359.6 513.2 364.9 480.3 373.8 446.7 363.7 527.7 370.6 453.9 363.6 437.4 374.3 508 370.4 502.8 341.4 451.1 373.6 526.8 349.4 480.1 367.8 463.3 367.2 452.6 367.6 499 366.1 515 373.3 491.6 358.3 486 373.6 477.5 367 514.5 364.8 440.3 367.2 516.8 373.9 485 367.9 444.5 368.2 480.7 360.4 522.6 371.9 514 359.8 504.1 373 519.7 361.3 523.6 351 472.1 362 470.1 373 515.4 352.1 467.2 372.5 486.2 360 454.1 371.1 499.1 353 506 372.9 463.2 374.4 491.3 374.3 493 370.4 440.4 365.6 525.7 361.2 525.2 345.5 523.4 361.4 506.6 343.3 474.7 352 485.3 350.6 521.3 353.8 493.5 360.6 521.7 364.9 450.6 372.8 514.4 370.6 526.2 371.7 489.3 366.5 495.6 352.6 527.3 373.4 464.8 357 485.3 357.4 524.1 371.1 437.7 374.3 484.6 364.4 433.8 372.2 490.4 367.4 523.5 370.8 490.5 370.3 477.1 371.5 497.6 369.2 476.1 369.7 493.2 345.2 524 362.2 438.6 371.5 493.4 368.8 442.5 373.7 471.3 373.7 497.5 358.2 495.6 362.5 448.8 363.8 516.6 350.2 510 374.2 443.5 373.8 511.3 367.7 523.6 358.2 513.2 372.6 458.4 368.3 484.1 364.9 494.8 358.4 510.5 361.8 439.8 372.4 500.9 352.9 493.3 361.9 456.6 368.7 485.8 365.4 448.1 364.6 522.1 372.2 527.7 362.4 433.5 373.2 515 360.5 449.8 356.1 482.3 363.8 516.2 373.1 474.3 371.1 519.6 353.2 503 354.1 454.2 355.7 510.2 373.6 447.2 372.9 511.4 367.9 483.7 365.6 449.3 362.8 450 359.2 523.9 363.1 525 373.9 433 373.8 457.5 367.8 452 368.3 504.8 355 479.4 364.9 498.1 361.7 490.3 366.1 516.2 350.9 482.2 345.7 471.6 364.5 471.7 358.3 501 355.6 481.5 367.6 501.6 372.7 525.8 365.9 502.7 338.9 515.8 372.5 526.8 365 479.3 369.7 448.6 374.3 463 369.9 483.9 371.4 521.7 373.1 447.5 372.7 524.1 372.7 445.8 373.1 500.1 366.4 524.4 374.1 446.3 365.3 484.5 372.9 448.7 366.7 518 369 500.6 369.7 469.3 369.8 493.9 374.2 505.5 372.7 480.6 350.9 507.8 366.6 474.9 365.5 489.5 360 511.3 359.1 485 372.4 460.6 367 513.7 360.6 492.8 359 509 366.2 443.2 374.1 434.8 370.8 510.9 358.3 514.4 359.8 489.6 365.4 491.2 344.1 500.3 368 513.2 370.6 504.6 372.2 458.7 360.2 464.8 373.1 503.9 362.2 527.3 353.1 520.2 353.9 460.8 360.4 452.9 363.7 520.8 366.6 476.6 361.9 508.9 355.6 450.7 365.4 512.8 335.7 519.6 337.9 490.1 371.7 521.8 374 440.8 364.8 509.2 366.8 527.4 370.2 524.1 361.1 465.8 372.9 478.4 357.9 505.4 339.7 481.1 351.2 502.2 356.8 510.7 343.5 507.5 374.4 464.5 358.4 472.5 365.2 487.2 364.6 507.9 368.3 522.6 356.8 459.2 362.9 513.4 351.9 501.5 357.4 474.6 371.8 523 362 481 370.9 495.6 368.3 514.6 335.3 535.3 283.2 535.5 285 534.8 281.7 536.1 280.3 533.9 283.1 536.2 284.2 536.3 284.1 534.1 282.2 534.1 285.2 534.4 283.2 536.3 283.2 533.4 283.4 534 286.8 536.7 284.9 535.5 283.8 535.9 283.1 534.6 283.8 535 281.9 536.6 285.6 534.8 285.9 535.7 285.6 534.7 279.1 534.4 282.7 533.2 281 534.1 284 535 284 536.7 285 535.5 285.5 534.8 286.7 534.2 283.2 535.9 283.2 536.8 282.4 535.3 281.6 535.9 283.7 535.9 283.9 535.5 283.9 533.4 284.9 535.3 282.2 534.6 283.5 535.3 282.4 534.8 284.9 533.4 285 534.1 283.5 537.5 281.3 537.2 285.5 535.1 282.7 534.4 283.9 537.1 286.6 533.9 284.9 534.4 282.7 536.3 281.5 536 280.8 535.5 282.6 533.9 283.5 536.3 282.5 534.4 279.9 535.5 286.6 536.1 282.7 536.8 283.7 535.7 276.4 537.9 316.6 533.1 362.8 523.2 331.1 532.5 332.6 532.1 337.6 534.3 341.4 532.3 335.9 532.6 340.6 532.7 336.1 534 333.8 532.9 332.2 533.1 337.1 532.6 333.8 533.2 341.2 532.5 338.7 533.9 332.9 533 336.3 533.7 341.6 532.9 352 533 352.1 533 351.3 533.3 352.3 532.8 350.8 532.5 350.8"/>
<path clip-path="url(#c9)" class="m" d="M53.7 506.6 49.7 509.7 68 503 49.4 509.5 84.5 489.7 44.3 514.1 60.7 499.6 46.6 515.6 53.5 509 51.3 508 51.2 507.8 46.7 514.3 53.4 508.9 51.9 511.3 59.5 505.3 75.1 493.1 49.8 509.5 58.6 505 45 514.7 48.5 513.4 55.6 505.9 69.1 504.2 46.8 515.2 65.3 504.1 48 514.6 54.8 505 49.1 508.7 45.8 513.4 51.6 509.7 46.8 513.1 46.4 514.9 57.2 508.5 52 510.3 63.7 507 50.2 508.3 46.3 514.2 48.5 512.3 53.6 511 54 509.9 69.1 494.4 73.8 499.5 57.8 504.8 60.5 500.9 44.8 514.1 60.8 501.3 49.4 512.4 59.8 502.9 48.7 513.7 48.2 510.2 47.1 515 48.8 512.5 50.3 507.9 53.4 506.5 66.7 499.4 57.8 507.4 49.6 511.7 102.4 476.4 83.5 492.9 51.3 509.6 47.5 510.6 58.4 508.3 45.8 513.1 60.1 500.8 106.3 479.5 54.2 506.2 53.1 512.4 55.3 509.3 60.3 501.1 59.3 504.3 45.6 511.3 51.1 510.1 51.2 512.2 56.5 510.6 49.3 508.5 53 512.2 61 500.8 48.8 510.9 69.2 494 62.2 498.5 44 515.2 59.7 507.8 76.2 490.1 45.1 514.6 63.7 507.4 49.6 508.5 56.5 506.7 64.3 499.7 45.1 515.8 45.6 514 65.5 498 48 509.4 44.1 515.6 53.4 509.9 50.5 508.6 48.4 514.2 79 497.7 44.1 513.2 44.3 512.8 46.8 511.2 67.3 505.6 45.1 514.4 54.9 504.8 45 513.3 77.8 499.8 49.6 510 47.4 514.3 48.8 514.2 76.4 499.4 56.5 503.4 44 516 50.1 511.4 49.3 510.5 58.9 509.2 45.3 512.8 56.4 510.1 48.1 510 58.8 507.2 67.2 498.1 60.6 502.7 69.2 503.9 54.9 510.8 49.2 509.9 52 510.5 51.1 511 62.6 505.3 86.1 482.4 54 511.1 53.7 509 49.9 508.8 52.9 511.3 51.9 510.7 54.6 507.4 76.3 495.7 52.8 506 56.3 510.2 67.9 503.6 74.8 501.3 52.9 510.2 51.2 513.2 51.3 511.9 73.8 489.3 55 510.7 59 507.3 53.7 505.4 43.8 514.9 46.3 511.3 59.1 500.7 46.4 513.5 43.8 513.8 46.8 512.5 59.9 509.2 45 512.8 45.2 515.7 53.4 511.3 46.8 514.1 61.2 502.3 45 516.2 64.6 502.9 44 513.2 65.1 499.5 44.7 514 55.2 504.7 48.1 513.2 54.7 511.3 60.3 506.4 62.6 505.7 47.6 511.4 74.5 492.1 48.6 511.9 57.4 509.7 55.3 508.2 46 511.6 44.3 514.7 62 499.4 65.9 495.6 48.1 514.2 75.9 488.7 58.2 509.3 53.1 509.3 49.6 512.3 48.7 509.3 52.3 510.5 52.6 510.2 47.5 510.1 58.2 508.8 48.4 513.4 46.3 513.4 48.9 513.6 49.4 511.5 47.3 514.6 53 510.5 50.5 509.2 44.9 514.4 49.7 512.6 63.5 504.4 47.3 514.1 48 510.3 51.2 509 62.7 507.3 63 507.2 47.7 513 79.1 495.5 58.9 504.8 48.6 512.3 48.9 513 64.6 501.4 61.3 503.3 49.4 511.6 46.4 511 62.5 502.5 48.6 510.5 50.3 507.9 59.6 503.7 46.7 511.3 66.7 500.2 47.3 511.9 70.2 501.3 49.3 512.3 45.6 513.8 46 514.1 50.2 511.7 46.8 512.4 59.9 507.8 45.8 514.4 57.1 505.6 50.2 512.9 73.3 501 44 514.3 44.5 516.2 62.6 498.1 64.1 506.9 54.8 511.2 44.8 514.2 58.3 504.2 76.9 499.3 46.5 513.6 45.7 513.6 68.4 502.5 60.9 501 53.2 511.4 51.3 507.5 49 514.4 50.6 507.9 49.2 510.7 46.8 512.6 53.3 510.5 43.7 516.9 56.9 506.6 58.7 501.8 55.1 506.6 67.7 496.5 58.3 507 61.6 501 65.1 496.1 46.9 513.6 54.1 507.5 56.7 508.5 51 511.4 49.2 514.1 47.2 515.3 87.1 483.1 48 514.6 54.2 506.3 85 486.7 79.4 488.1 62.3 505.7 46.6 511.4 52.6 508.3 108.7 474.1 73.5 496.3 54.7 507.5 49.4 509.3 97 473.7 53.3 508.2 74.1 495.1 74 495.7 80.2 492.4 110.5 460.6 77.3 498 48.8 510.2 91.6 493.5 94 475 100.5 474.5 44.1 514.1 106.2 467.3 90.8 484.5 89.2 494 89.9 489.2 81.8 484.2 77 500.2 49.1 514.3 77.7 486.2 90.6 493.5 86.8 496.4 64.8 506.8 74.5 490.6 98.7 490.6 87.2 482.9 104.7 472 77.3 494.6 78 494 62 499.1 84.8 496.5 46.5 515.5 81.4 499 95 481.8 93.2 486.5 80.4 484.7 72.2 494.2 56.3 509.2 68.3 494.6 45.9 513.4 96.8 483.5 106.3 479.5 68.1 500.1 49.9 510.4 86.3 479.5 69.6 492.8 109.5 471.8 91.3 487.4 46.3 514.7 82 482.9 72 493.4 99.5 484.2 85 490.2 45.2 515 75.3 488.2 104.2 476.2 81.3 492.9 60.6 505.8 46.6 512.3 96.2 489.4 50 508.4 81.9 490.6 107.6 475.7 98.2 476.3 44 512.9 75.4 499.8 109.6 483.1 66.3 496.3 89.7 478.5 105.1 470.6 71.9 497.9 58.7 507.2 99.9 469 105.8 485 75.7 488.1 88.9 494.5 97.9 470.5 44.5 512.8 85.9 493.6 67.4 495.4 81.8 486.4 100.3 471.4 58.4 501.6 46.9 510.6 82 492.6 107.7 475.7 59.1 507 106.7 485.3 105.7 477.6 99.4 486.8 84.1 492.8 82.2 485.8 86.3 496.5 96.4 491.6 50.5 508.4 93.4 481.7 53.9 506.1 86.2 489.5 111.7 466.2 119.5 478.2 105.7 467.2 100.5 475.3 118.5 476.8 110.1 474 120.3 478.1 105.2 479.1 114.3 462.6 125.9 458.9 99.3 478.1 116.1 461.5 127.1 454.4 128.4 466.1 99.1 476.7 109.2 463.2 122.6 463.5 112.8 462.4 125.5 451.5 99.4 482.5 106.3 480.8 96.1 472.2 124.1 472.8 96.1 475.8 104.4 475.3 115.8 478.1 95.5 488.5 108.2 477.9 114.3 479.4 98.2 475.8 192.9 426.1 177.4 438.4 154.8 441.5 157.2 441.5 169.6 468.3 135.9 471.8 142.6 450.7 148.3 453.4 134.1 457.8 141.1 457.8 146.3 457.8 111 480.6 118.3 482.4 130.7 450.7 138.5 456 129.4 449.9 143.7 451.6"/>
<path clip-path="url(#c10)" class="m" d="M221.7 517.8 221.7 516.2 221.7 515.8 221.7 518.3 221.7 517.7 221.7 514.3 221.7 518.1 221.7 517.8 221.7 514.2 221.7 515.7 221.7 516.8 221.7 516.1 221.7 515.5 221.7 517.2 221.7 517.8 221.7 514.9 221.7 515.4 221.7 516.1 221.7 514.8 227.7 514.1 227.7 511.5 227.7 516.3 227.7 514.1 227.7 514.5 227.7 515.3 227.7 513.9 227.7 516.1 227.7 512.6 227.7 512.2 227.7 516.7 227.7 514.6 227.7 515.8 227.7 517 227.7 512 227.7 514.9 227.7 516.6 227.7 513.4 227.7 516.3 233.7 509.5 233.7 514.9 233.7 516.4 233.7 515 233.7 513.9 233.7 512.9 233.7 509.5 233.7 511.1 233.7 514 233.7 516.5 233.7 515.4 233.7 508.8 233.7 513 233.7 511.2 233.7 516.2 233.7 516.4 233.7 509.9 233.7 512 233.7 514.2 239.7 514.4 239.7 516 239.7 515.4 239.7 516.5 239.7 510.7 239.7 513.4 239.7 515.7 239.7 511.4 239.7 515.3 239.7 516.2 239.7 512.4 239.7 510.3 239.7 516.4 239.7 511 239.7 515.3 239.7 516 245.7 516.4 245.7 513.3 245.7 508.3 245.7 511 245.7 506.9 245.7 514.2 245.7 513 245.7 513.7 245.7 505.5 245.7 505.9 245.7 512.7 245.7 511.7 245.7 513 245.7 508.1 245.7 516.2 245.7 515.9 245.7 512 245.7 513.8 245.7 507 251.7 505.5 251.7 507.8 251.7 506.4 251.7 506.1 251.7 505.1 251.7 503.4 251.7 512.3 251.7 506.8 251.7 512.4 251.7 508.9 251.7 505 251.7 503.8 251.7 505.3 251.7 513.6 251.7 509.9 251.7 512.1 251.7 502.6 251.7 512.4 251.7 511.2 251.7 509.9 251.7 513.3 251.7 504.1 257.8 505.6 257.8 511.9 257.8 507.4 257.8 513 257.8 505.9 257.8 510.9 257.8 513.5 257.8 512.5 257.8 506.7 257.8 505.6 257.8 509.7 257.8 505.5 257.8 509.4 257.8 512.3 257.8 509.8 257.8 508.8 257.8 502 257.8 512.5 257.8 512.9 257.8 506.6 257.8 501.3 257.8 502 263.8 500.6 263.8 511.1 263.8 498.8 263.8 500.8 263.8 509.8 263.8 504.5 263.8 511.4 263.8 498.9 263.8 500.2 263.8 498.8 263.8 499.5 263.8 507.8 263.8 499.1 263.8 508.1 263.8 509.9 263.8 505.7 263.8 503.9 263.8 507.5 263.8 502.1 263.8 502.2 263.8 508.2 263.8 501.8 269.8 506.7 269.8 501.7 269.8 507.5 269.8 500.8 269.8 505.9 269.8 504.1 269.8 502.5 269.8 504.5 269.8 508 269.8 498.5 269.8 510.1 269.8 507.1 269.8 504.1 269.8 511 269.8 509.3 269.8 500.8 269.8 501 269.8 503 269.8 499.5 269.8 501.4 269.8 507.4 269.8 502.9 275.8 504.2 275.8 497.7 275.8 503.5 275.8 507.2 275.8 495.7 275.8 498.7 275.8 497.8 275.8 500.8 275.8 497.2 275.8 502.5 275.8 500.7 275.8 508.6 275.8 500.8 275.8 496.7 275.8 498.4 275.8 496.9 275.8 501.8 275.8 495.7 275.8 507.9 275.8 495.8 275.8 503.7 275.8 508.2 281.8 497.8 281.8 500.7 281.8 501.2 281.8 493.8 281.8 506.3 281.8 497.9 281.8 501.5 281.8 499.4 281.8 500 281.8 506.4 281.8 499.7 281.8 493.6 281.8 505.7 281.8 508.5 281.8 507.5 281.8 500.6 287.8 484.6 287.8 501.8 287.8 484.3 287.8 492.7 287.8 500.4 287.8 494.9 287.8 498.8 287.8 489.4 287.8 492.6 287.8 497.3 287.8 497.9 287.8 486.6 287.8 488.4 287.8 494.5 287.8 495.1 287.8 489 293.8 482.8 293.8 496.9 293.8 495.7 293.8 492.5 293.8 490.2 293.8 497.1 293.8 497.3 293.8 494.7 293.8 492.1 293.8 486.5 293.8 488.5 293.8 497.7 293.8 497.5 293.8 491 293.8 484.3 293.8 483.7 299.8 489.8 299.8 481.5 299.8 480.9 299.8 489.1 299.8 483.7 299.8 489.8 299.8 493.1 299.8 486.5 299.8 494.2 299.8 485.1 299.8 482.8 299.8 481.1 299.8 488.5 299.8 493.7 299.8 481.3 299.8 481.8 305.8 467.4 305.8 476.5 305.8 474.6 305.8 482 305.8 486.7 305.8 484 305.8 473.4 305.8 483.2 305.8 474.1 305.8 478.8 305.8 480.1 305.8 467.4 311.8 488.2 311.8 482.6 311.8 488.3 311.8 474.7 311.8 482.6 311.8 485.3 311.8 488.2 311.8 480.7 311.8 484.1 311.8 488.9 311.8 490.6 311.8 484.3 311.8 480.9 311.8 482 311.8 475.3 311.8 475.1 317.8 471.8 317.8 473.6 317.8 477.8 317.8 477.2 317.8 478.9 317.8 478.9 317.8 483.6 317.8 473.6 317.8 480.9 317.8 483.7 317.8 478 317.8 474.7 317.8 478.4 317.8 479.3 317.8 475.4 317.8 482 323.8 490.9 323.8 475.5 323.8 477.2 323.8 468.3 323.8 480.2 323.8 470.4 323.8 490.7 323.8 490.4 323.8 475.4 323.8 485.2 323.8 489.4 323.8 487.8 329.8 477.5 329.8 478.5 329.8 472.9 329.8 464.9 329.8 477.8 329.8 482.2 329.8 472.5 329.8 486.7 329.8 477.3 329.8 479 329.8 477.2 329.8 485.5 335.9 464.5 335.9 463.1 335.9 460.4 335.9 456 335.9 468.7 335.9 462.4 335.9 466.9 335.9 471.7 335.9 457.5 341.9 455.7 341.9 450.5 341.9 453.7 341.9 451.2 341.9 472 341.9 474.9 341.9 470.1 341.9 464.5 341.9 457.2 341.9 463.8 341.9 461.8 341.9 455.3 347.9 470.8 347.9 462.3 347.9 471.1 347.9 468.3 347.9 461.7 347.9 462.2 347.9 466.1 347.9 467.7 347.9 460.2 353.9 455.1 353.9 459.8 353.9 455.6 353.9 460 353.9 444.7 353.9 458 353.9 441.6 353.9 456.3 359.9 440.6 359.9 439.4 359.9 440.6 359.9 440.3 365.9 426.1"/>
<path clip-path="url(#c11)" class="m" d="M397.1 517.1 397.1 513.4 397.1 517.4 397.1 517.4 397.1 516.5 397.1 517.2 397.1 514.9 397.1 517.8 397.1 513.7 397.1 513.9 397.1 518.4 397.1 515.5 397.1 517.8 397.1 517 397.1 516.2 397.1 516 405.5 513.3 405.5 510.1 405.5 514.8 405.5 515.3 405.5 511.9 405.5 510 405.5 510.1 405.5 510.4 405.5 516.2 405.5 510.1 405.5 512.1 405.5 510.5 405.5 513.8 405.5 515.1 405.5 511.1 405.5 512 405.5 511.2 405.5 515.2 405.5 515.7 405.5 511.3 413.8 516.5 413.8 509.2 413.8 515.6 413.8 511.9 413.8 513.3 413.8 514.1 413.8 515.3 413.8 510.5 413.8 509.4 413.8 510.9 413.8 511.9 413.8 511 413.8 512.4 413.8 512.2 413.8 509.5 413.8 514.4 413.8 514.9 413.8 509.1 413.8 509.2 413.8 512.9 422.2 510.8 422.2 511.2 422.2 509.9 422.2 515.3 422.2 510.2 422.2 512.7 422.2 513 422.2 511.5 422.2 512 422.2 513.1 422.2 514 422.2 510.1 422.2 510.7 422.2 515.1 422.2 513.3 422.2 511.1 430.5 505.7 430.5 504.8 430.5 513 430.5 505.6 430.5 507.8 430.5 515 430.5 513.4 430.5 513.6 430.5 514.9 430.5 507.9 430.5 512.2 430.5 507.9 430.5 514.8 430.5 505.8 430.5 507.8 430.5 506.8 430.5 508.8 430.5 510.5 430.5 513.6 430.5 505 438.8 513.1 438.8 506.1 438.8 513.5 438.8 513.8 438.8 502.9 438.8 499.4 438.8 507.2 438.8 501.1 438.8 499.9 438.8 505.9 438.8 501.4 438.8 510.4 438.8 513 438.8 512.3 438.8 515.6 438.8 514.4 438.8 501.9 438.8 499.1 438.8 514.7 438.8 502.5 438.8 501.4 438.8 503.2 438.8 506.5 438.8 506.8 438.8 502.9 438.8 511.2 438.8 501.9 438.8 512.2 438.8 515.1 438.8 498.5 447.2 510.4 447.2 509.3 447.2 510.8 447.2 511.3 447.2 510.1 447.2 501.6 447.2 504 447.2 507.1 447.2 511.3 447.2 502.6 447.2 506.3 447.2 502.4 447.2 506 447.2 510.5 447.2 510.6 447.2 503 447.2 509 447.2 509.8 447.2 507 447.2 508.6 455.5 504.3 455.5 494.3 455.5 500.5 455.5 490.4 455.5 507.7 455.5 503.9 455.5 492.6 455.5 501.2 455.5 494.7 455.5 501.2 455.5 501.8 455.5 492.5 455.5 503.5 455.5 499 455.5 498.7 455.5 508.8 455.5 507.7 455.5 505 455.5 509.6 455.5 496.4 455.5 498.4 455.5 503 455.5 501.5 455.5 508.8 463.9 499.1 463.9 495.2 463.9 502.2 463.9 496.8 463.9 496.5 463.9 500.7 463.9 500 463.9 501 488.9 487.7 488.9 492.8 488.9 499.1 488.9 495 488.9 496.1 488.9 476.6 488.9 486.5 488.9 490 488.9 489.7 488.9 487.4 488.9 476.7 488.9 492.4 488.9 501.1 488.9 497.7 488.9 502.4 488.9 497.3 488.9 486.7 488.9 495.8 488.9 480.5 488.9 477.5 488.9 499.4 488.9 481.3 488.9 485.1 488.9 476.4 488.9 497.6 488.9 482.4 488.9 493.8 488.9 497.3 488.9 495.7 488.9 477.8 488.9 490 488.9 491.1 488.9 479.6 488.9 480 488.9 478.9 488.9 502 488.9 476.3 488.9 484.5 488.9 478.8 488.9 481.4 488.9 459.1 488.9 459.3 488.9 462.4 488.9 469.3 488.9 462 505.6 487.1 505.6 474.4 505.6 477.1 505.6 476.6 505.6 455.9 505.6 452.9 505.6 452.1 505.6 463.5 505.6 457.3 505.6 483.4 505.6 474.5 505.6 456.7 505.6 470.1 505.6 468.5 505.6 456.8 505.6 479.5 505.6 453.5 505.6 458.6 505.6 485.4 505.6 471.4 505.6 451.5 505.6 477.6 505.6 488 505.6 481.6 505.6 466.6 505.6 484.4 505.6 486.3 505.6 483 505.6 455.2 505.6 449.4 505.6 483.1 505.6 466 505.6 461 505.6 485.7 505.6 453 505.6 458.3 505.6 461 505.6 469.1 505.6 456.6 505.6 455.2 505.6 477 505.6 478.9 505.6 448.8 505.6 468.9 505.6 471.8 513.9 477.2 513.9 480.4 513.9 480 513.9 479.1 513.9 478.7 513.9 481 513.9 476.3 513.9 479.3 513.9 478.8 513.9 478.7 513.9 490.5 513.9 476.4 513.9 479.7 513.9 489.9 513.9 480.4 513.9 480.6 513.9 483.7 513.9 486.6 538.9 466.3 538.9 473.2 538.9 469 538.9 464.7 538.9 463 538.9 466.2 538.9 459.8 538.9 459.7 538.9 459.4 538.9 465.3 538.9 471.6 538.9 475.4 538.9 465.5 538.9 466.7 538.9 476.2 538.9 473.6 538.9 458.4 538.9 462.4 538.9 459.5 538.9 470.2 538.9 468.3 538.9 465.4 505.6 426.1 505.6 442 505.6 495.5 522.2 463 538.9 437.6 538.9 442 513.9 470.9 497.2 476.2 497.2 482.4 497.2 495.5 480.5 468.3 480.5 482.4 480.5 487.6 480.5 491.2 480.5 495.5 472.2 482.4 472.2 491.2 472.2 500.8 488.9 464.8 488.9 468.3"/>
<path clip-path="url(#c12)" class="m" d="M73.2 648.9 63.1 652.9 66.9 647.7 73.2 641.5 52.7 649.9 58.5 647.9 54.1 645.8 60.8 651.6 53.4 651.7 51.6 653 71.2 648.5 67.1 651.6 57.7 647.9 50.9 650.8 49.3 652.5 64.2 645.2 53.4 647.2 53.6 645.9 62.5 649.4 50 649.4 49.4 648.8 50.9 646.8 50.6 646.4 51.7 650.7 57.1 651.2 57.3 650.7 59.3 650.6 55.3 646.6 54.8 648 60.4 652 57.9 647.4 53.5 647.9 52.4 649.4 52.2 647.6 61 652.4 59.7 646.5 50.9 652.7 50.1 647.2 73 645.9 51.7 646.9 56 651.9 51.9 651.7 58.5 645.3 49.1 652.6 62 649.8 50.7 647.6 50.1 647.2 70.9 651.3 55.7 652.6 65.2 646.1 58.1 651.1 49.7 651.1 54.6 652.7 69.6 648.7 49.3 647.7 51.1 649 75.9 652.7 57.1 652.5 62.2 643.9 56.3 647.6 64.9 651.2 51.8 648.5 67.1 643.7 50.6 647.3 62.1 646.4 55.4 652 53.6 646.4 48.1 648.9 62.8 644.4 54.3 649.3 63 643.9 58.9 645.5 58.1 650.1 53.8 651.9 55.7 647.8 64.2 650.9 52.5 650.5 55.8 651.2 58.7 649.5 51.1 650.6 56.1 647.1 53 648.4 48.5 652 57.3 647.3 48.1 648.3 50 650 58.8 652.8 55.6 646.4 50.3 648.1 63.3 652.5 61 650.4 57.1 646.3 48 649.1 59.6 651.8 53.6 650.4 73.9 652.5 50.4 646.9 67.6 643.8 47.7 651.6 49.7 650.3 56.1 646.7 49.9 649.5 54.6 652.3 54.1 646.8 72.9 643.5 57.5 653 50.7 647 54.1 649.3 59.3 647.5 63.4 645.8 63 643.7 58.1 648.5 64.8 650.3 48 650.6 63.2 643.8 54.4 648 62.3 647.4 58.7 648 55.9 648.9 56.4 645 56.3 644.8 58.2 650 51.1 653.1 57.9 651.7 61 650.6 53.9 649.8 55.1 647.5 48.3 648.8 57.1 648.9 49.4 646.9 57.4 652.2 50.2 650.3 69.2 643.1 49.1 648.6 48.1 649.7 54.8 647.4 50 653.1 63.5 645.5 49.4 649.7 55.6 645.9 51.2 651.9 54.3 649.9 56.4 644.6 55.9 650.4 51.3 648.2 62.1 643.6 56.1 648.5 62.7 647.7 58.4 648.3 58.5 650.8 55.6 648.8 55.2 647.1 55.7 648.9 53.4 650.6 55.3 649.8 50.8 652.5 66.6 653.1 60.9 643.8 52.6 650.3 48.7 648.4 51.1 648.3 65 650.1 56.3 650.5 58.4 647.1 57.9 648.6 53.5 648 51.9 648.8 61.6 648.3 52.7 648.3 54.8 649.4 50.6 652.7 56.5 648.5 53 645.8 57.9 646.3 51.1 651.2 53.7 649.1 56.6 652.2 57.7 647 56.8 649.8 59.2 647.5 72.1 640.3 56.2 647.8 65.1 644.1 60.3 653.1 49.3 651 60.9 647.3 48.7 651.9 54.2 648.7 52.6 650.5 53.7 649.4 53.9 652.5 65.2 645 69.5 649.9 55.6 650.3 50.4 652 50.1 651.4 58.4 651.8 52.3 645.6 52.9 646.9 59.7 645.8 60.2 652.3 52.4 651.2 55.2 645.4 53.5 646.1 54.3 651.7 50.1 649 52.8 648 52.3 650 61.1 649.8 59.2 650.7 54.4 647.3 61.3 649.8 54.9 647.1 49.5 653 62.3 647.6 63.2 643.7 52.6 652.2 59.3 653.1 65.7 644.8 67.9 650.9 66.2 646.6 52.4 653.1 54.8 649 63 648.7 49.4 653 74.5 649.1 52.2 649.7 57.7 648.4 54.1 650.6 50.6 648.5 52.9 647.3 50.2 652.4 50.8 646.6 66.3 649 66.2 646.1 61.8 643.7 56 647.2 76 619.9 94.5 606.3 71.4 623.2 82.2 639.1 87.1 610.2 88.7 621.2 96.6 600.7 75.7 638.9 101.9 608.2 90.1 619.1 67.3 638.3 75.5 620.7 87.9 603.4 87.4 598.1 84.4 611.9 86.6 608.6 84.2 598.2 99.9 593.6 97.5 616.8 68.2 638.5 77 611.1 64.3 637.1 73.1 635.6 93.3 617.2 89.9 613.1 69.5 633.6 75.3 611.5 86.7 607 101.2 595 86.8 619.1 90.6 590.2 69.5 627.9 88.1 614.6 79.6 626.6 93 622 69.9 626 106.5 586.2 97.4 592.3 85.8 614.5 72.8 634.8 82.3 627.4 78.7 629.6 77.2 624.4 69.8 619.3 90.8 621.1 86.9 619.2 87.9 603.7 93.6 619.9 85.9 616.6 73.7 618.1 81.8 625.8 97.9 613.8 83.9 629.5 87.2 632.8 76.2 614.3 81.6 609.3 73.3 632.9 71.8 617.3 66.9 632.2 78.6 622.8 81.9 611.1 75.5 610.6 71.1 620.1 96.5 602 86.9 600.3 74.8 627.9 99.7 593.5 77.9 626.3 94.7 595.8 72.5 613.4 90.4 593.1 82.3 623 77.4 601.4 70.3 622.8 95.6 609.2 83.9 606.9 86.3 602.3 90.9 612.3 83.7 619.6 69.1 644.9 80.8 608 92.2 614.5 85.3 632.6 98.2 609.3 83.9 621.4 93.5 611 80.1 619 98.4 604 93 607.8 100.6 598.3 89.9 598.4 57.9 644.6 93 612.9 103.6 587.6 70.6 639.8 95.4 606.1 66.8 625 90.9 615.1 84.5 634.6 76.1 611.3 84.3 600.5 99.6 606.7 96.7 608.6 98.4 598 85.8 614.8 65.7 627.3 72.7 616.3 77.2 602.7 84 623.8 87.7 620.3 90.9 602.9 64.8 636.3 75.4 636.7 80.5 622.6 96.8 600.8 79 632.3 97.3 615.5 90.3 610.3 75 636.7 90 601.1 97.4 604.7 74.7 639.4 73 618.5 85.3 620.2 80.5 606.9 60.1 639.2 85.7 622.6 85.7 636.9 89.4 616.8 67.3 635.2 82.7 603.7 86.7 623.3 56.2 643.8 80.9 624.3 93.5 616 85.2 627.8 83.8 631.1 88.7 605.3 74.1 614.7 82.8 638.7 92.1 609.5 74.2 634.5 90.8 604.3 102 602.3 73.8 625 63.8 642 94 615.9 85.4 615.1 78.5 623.3 87.5 621.1 63.2 639.4 99.6 592.4 75.4 633.5 96.5 619.1 77.3 626 95.7 612.8 74 627.1 66.7 636.5 88.1 617.1 90.5 626.1 73.9 611.1 85.6 624.5 94.6 597.4 90 614.5 83.8 617.4 73.1 618.2 81.7 614.6 85.2 615.6 85.8 616.4 81.9 628.6 96.3 605.4 77.5 621.4 81.5 626.6 73.9 613.1 75.4 611.9 79.4 622 98.5 608.8 77.5 628.2 78 637.8 72.4 627.5 80 606.3 81.3 632.2 85.1 611.4 90.6 614.8 97.1 614.2 73.8 623.2 83.3 620.5 82 602.5 78.5 621 69.2 636.3 89.2 618.7 76.5 635.7 75.8 630.6 71.8 626.8 92.8 617.2 76.1 615.8 91.1 620.6 85 637.7 66.2 631.8 100.2 614.1 66.6 642.1 99.6 605.6 73.7 613.7 80.9 615.3 98.7 597.2 80.7 631.8 88 613.3 83.5 620.5 81 605.7 83 613.3 96.2 614.9 81.5 620.3 86.5 598.3 91.3 615.1 80.2 627.3 63 633.3 105.3 592.4 96.8 596.2 84 610.6 88 604.9 91.2 590.7 78.4 607.5 79 623.6 91.8 606.8 79.7 612.8 82 627.9 94 614.9 91.1 591.3 106.2 591.6 84.1 622.1 151.3 561.3 192.2 603.5 133 573.6 122.2 576.3 127.6 576.3 125.5 585.9 125.5 594.7 117.9 617.6 114.7 607 103.9 607 99.6 615.8 100.7 620.2 95.3 633.4 95.3 643 82.4 649.2 112.6 595.6 109.3 586.8 120.1 593 80.3 646.6"/>
<path clip-path="url(#c13)" class="m" d="M216.6 652.7 223.7 652.7 238.1 652.7 241.2 652.7 244.8 652.3 246.6 652.7 256.8 651.8 259.4 651.8 261.2 651.8 308.3 645.8 282.7 652 301.3 647.5 309.9 646.5 298 649.2 292.9 649.1 304.6 647.2 302.1 646.6 288.5 651.1 294.2 649.5 303.7 647.6 266.5 653.1 298.3 647.5 303.2 646.1 284.8 650.8 290.7 649.2 275.5 651.2 298.5 648.2 316 645 279.3 650 288.3 650.9 311.7 644.5 293.1 648.9 286 648 299.5 649.8 264.7 651.6 271.4 652.3 310.5 646.1 271.6 650.8 264.6 652.4 313.5 646.4 304.1 649 316.3 644.1 304.5 646.2 313.4 644.2 281.8 650.4 304.2 648.3 272 651.5 308 647.9 303 649.1 273.4 650.2 273 651.4 272.2 650.9 307.7 646.9 299.2 647.2 278.3 649.5 298.7 649.1 300.4 648.5 300.6 648.7 317.3 642.8 309.1 645.2 286.5 650.3 265.6 649.5 275.5 650.9 267.1 652.5 305.8 648.9 306.3 647.1 274.7 650.7 314.8 645.3 280.6 650.3 288.4 648.8 294.7 649.1 317.5 643.2 311.9 644.1 270.9 650.8 311.8 646.1 274.1 650.7 306.8 646.4 299.6 646.4 271.3 651.6 265.9 652.9 313.7 644.8 263.3 651.3 271.1 651.6 316.2 643.8 301 647.7 293.8 648.1 287.8 650.6 294.2 649.7 288.2 649.9 266.6 651.9 275.6 649.8 280.1 650.1 290.1 649.7 284.5 648.9 302.4 647.3 306.8 646 304.9 646.6 288.1 650 284.4 650.4 264.3 651.6 282.3 651.4 305.9 647.4 282.1 649.7 278.6 650.5 271.9 652 297.5 646.5 290.3 650.5 265.5 651 276.2 650.3 267.2 650.3 271.4 652 277.1 650.8 267.1 651.6 317 643 297.6 648.3 269.4 650.9 291.7 649 284.6 648.5 273.6 650.5 285.5 649.3 293.9 649.9 268.4 650.7 315.1 645.7 290.1 648.8 267.2 651.3 300.4 648.9 314.7 645.7 263.9 651.6 300.2 648 308.8 646.8 287.3 650.2 267.1 651.7 304.3 647.8 281.2 650.6 279.5 650.4 305 646 263.3 651 276.4 651.3 312.5 643.9 271.7 650.1 267 651.6 268.1 650.4 291.3 649.9 283.4 650.9 291 650.1 312.9 643.8 276.1 650.7 304.9 646.9 294.7 648.9 297.2 648.9 264.5 651 265.6 650.8 271.3 649.4 287.1 650.6 283 648.9 279.3 650 310.2 647.4 293.9 648.2 281.4 649 347.8 613.7 307.4 646.3 350 599.1 326.2 635.9 322.7 633.9 347.6 613.1 353.3 586.1 326.8 637.7 315.8 643.2 317.6 648.3 348.2 598 351.7 596.5 326.1 635.6 319.9 641.2 353.7 593.4 347.4 598.6 320.9 642.7 349.8 596.7 351.7 599 319.7 644.1 352.9 598.2 357.3 596.2 343.9 610.1 350.9 597.4 352 593 335.8 631.3 335.4 624.8 334.6 614.5 330.4 622.3 346.3 608.4 350.7 598.5 339.5 616.7 337.4 613.5 328.6 623.5 343.9 610.1 320.9 639.4 314.9 645.2 323 636.2 353 578.6 345.7 613.3 336 617.4 330.4 634.1 353.8 601.2 333.8 633.4 344.9 614.4 347.5 593.6 331.7 617.8 323.3 634 339.1 618.2 334.8 616.6 352.6 603.2 350.9 609.4 354.5 598.3 334.3 624.6 356.6 603.5 356.6 594.4 339.6 606.8 347.9 605.7 329.7 631.3 353.6 598 326.2 630.5 349 596.7 321.3 639.6 315.6 645.5 343 629.1 348.5 614.4 343.1 616.9 341.3 620 349 604.7 350.6 602.8 324.1 629 306.8 645.2 310.5 648.9 333.4 620.7 351 595.1 344 612.6 328.9 631.9 337.8 617.7 356.1 572.3 332 629.6 316.6 645.4 351.7 597.8 345.5 621.6 307.1 647.2 320.4 644.1 345.3 607.7 357.3 582.9 333.5 614.6 346.5 608.7 340.5 618.7 338.3 614.6 325.7 625.5 315.4 644.5 337.7 616.6 345.4 605 320.8 638.6 346 611.6 351.8 602.5 340.2 621.4 342.4 617.2 308.5 646.1 341.1 621.8 353.1 599.9 341.8 615.2 355.4 590.4 346.2 606.8 342.1 623.4 321.5 632.3 330.2 629.7 316.7 645.4 325.7 638.1 350.8 594.6 343.1 606.7 351.7 596.7 329.3 630.3 346.9 608 323 628.7 346 603.5 349.4 604.4 327.4 631.4 322.9 633.5 345 608.6 348.7 599.9 340.3 615.6 313.7 645.9 316 643.1 341.7 604.4 350.8 594.1 333.6 625.7 340.5 621.8 333.6 624.5 316 646.4 353.3 599.9 356.3 581.8 356.1 585.1 314.7 642 335 619.5 318.1 644.9 342.7 607.6 315.8 643.5 324.5 629.6 349.2 608.4 345.1 611.8 321.1 639.5 332 617.7 335.9 618.3 355.4 598.4 326 637.6 315.3 643.2 321.8 644.8 353.9 597 353.9 592.4 341.1 617.8 335 620.4 321.8 635.8 308.9 645.9 351.5 606.3 355.8 576.7 350.8 589.3 313 647.5 343 615.7 338.1 626.9 334.7 614.7 320.9 641.8 352 591.8 310.3 645 314.8 641.3 351.1 595.9 335.2 623.7 354.3 585.5 341.9 608.1 323.1 639.3 319 642.5 314.5 649.2 332.6 617.6 352.1 600.1 342.1 607.8 351.9 588.2 345.4 603 354.7 581.7 357.4 591.8 324.9 633.9 335.6 625.2 340 617.3 309.6 647.8 357.5 563.9 354.3 588.3 318.5 639.5 357.5 590.2 356 571.7 332.9 624.8 337.5 619.8 331.6 627.5 352.9 605 357.1 602.5 333.2 622.7 341 622 328.7 630.9 336.8 607.7 348.5 603.8 350.4 581.8 322 637 337.5 625.4 354.2 585.2 356.4 576.6 331.4 622.2 348.7 606.3 355.2 597.4 325.8 629.7 335.3 610.5 309 642.7 345.2 610.8 322.6 638.4 316.9 643.2 330 622.5 327.9 628.6 355.7 583.6 350.7 596.8 327.8 643.1 339.7 624.1 362.7 562.2 356.7 571.9 360.3 577.2 365.6 575.4 364 603.5 355 618.4 342.8 633.4 320.3 622.8"/>
<path clip-path="url(#c14)" class="m" d="M490.7 563.9 498.6 563.2 468.3 563.4 449 562.7 482.9 564.5 455.5 563.7 492.4 563.4 468.3 563.5 475.5 563.4 508.9 563.8 496.4 562.4 500.4 564.2 481.8 564 506.7 563.6 447.3 562.5 503.3 564.1 471.2 564.2 461 563.5 480.5 563.5 506.9 563.6 467.4 563.5 504.6 562.9 476.2 562.9 508.4 562.7 495.3 563.8 496.5 563.1 469.4 563.3 483.9 564.2 462.1 563.5 497.6 563.7 462.7 562.5 489.4 563.3 451 562.8 462 563.6 469.2 562.8 457.2 562.6 462.9 564.3 459.1 563.3 448.7 563.2 468.2 563.5 476.2 562.7 473 563.7 504 562.7 451.8 562.8 486.3 563.1 468.6 564.2 447.8 563.9 495.8 563.9 473.3 562.5 508.9 562.7 495.9 564.7 502 562.5 482.5 563.3 468 562.6 501.1 563.9 472.7 564.2 502.2 563.5 504.9 562.6 468.9 563.6 492.8 563.5 498.5 564.5 510.3 563.8 475.5 563.3 459 563.6 462.7 563.4 470.7 562.9 450.7 562.8 490.7 564.4 449.8 564 476 564.4 510.3 563.1 472.1 563.3 459.7 563.7 472.4 562.7 462.9 562.4 459.1 563.6 462.9 563.1 465.8 563 475.5 563 464.3 563.9 487.2 562.4 501.3 564.3 447.7 563.8 476.1 562.5 485.8 563.8 476.7 562.9 488.6 563.7 459.3 563.6 506.3 562.8 510.2 564 499.4 563.7 483.7 563 499.7 564.6 489.4 563.9 501.8 563.3 478.2 564.1 464.3 563.3 482 563.2 478 563 459.6 563.1 489.4 563.3 493.1 564.1 463.1 563.8 456.6 564.3 483.5 564 475.7 562.5 492.7 564.6 494 563.2 447.4 563.7 459.7 562.5 501.9 563.8 489.4 564 496.9 563.8 494 563.2 484.3 562.4 466.9 564.3 464.5 564 486.1 563 485.9 562.6 505.2 563 486.4 563.3 482.6 564.4 447.2 564.7 488.6 562.9 502.7 563.6 487.3 564.3 479.5 562.5 467.9 564.1 510.1 562.5 465 563.3 496.4 563.6 477.9 563.3 482.6 562.6 447.7 563.9 497.9 562.8 475 562.9 506.5 563.3 507.7 564.1 504.2 563.3 490.2 563.4 457.5 564.3 458.9 562.9 470.4 563.5 457.4 564.6 507.1 563.5 474.6 564.2 491.6 564.3 456.5 562.5 483 564.2 452.2 564.4 462.4 563.7 498.6 564.4 473.9 563.9 498.2 564.3 479.5 562.9 478.2 563.8 475.4 564.2 470.2 564.5 480.8 563.1 464.6 562.4 500.2 563.4 461.6 564.2 493 563.3 470.1 562.5 481.1 564.3 455.6 563.7 505.8 564.1 467.5 564.3 508 563.2 456.7 563.2 454.8 564.1 457.7 564.5 450.2 562.7 453.4 563.3 450.9 563.2 458.9 563.8 461.1 565.8 461.7 563.5 443.2 563.4 467.9 564.1 454.8 562.2 455.4 563.8 455.9 562.2 455.8 562.7 464.7 564.6 457.1 564.8 458.3 564.3 462.7 564 465.2 563.2 449.4 564.6 448 565 443.3 561.7 443.4 563.9 458.4 563.6 456.9 562.1 456.1 563.8 458.6 566.4 458.4 563.4 464.4 564.6 467.9 562.9 450.9 565.8 466.5 563.7 463.6 563.1 451 562.4 457.7 562.9 453.6 562.9 445 563.9 456.7 563.9 445.5 565 456.8 562.9 449.5 562.3 454.2 563.3 461.9 564.8 457.3 565.4 451.1 564.4 458 562.2 461.1 563.7 463 564.9 450.9 564.3 464.1 563 446.1 579.2 448.9 628.6 446.9 575.4 445.8 568.2 445.8 612.1 458.9 586.2 454.1 565.6 447.1 636.2 449 598.6 459.8 567.6 452.7 588.3 460.9 572.8 447 593.3 447.7 644.1 453.4 590 454 568.5 447.8 577.6 448.8 603.2 449.3 570.7 450.9 627.8 455.1 603.9 449.1 573.5 447.6 563.6 450.5 601.3 453.4 601.2 448.5 598.4 450.7 592.7 447.5 653.6 450.4 564.3 460.2 574.7 447.9 590.9 452.2 588.8 451.8 596.6 452.1 583.6 448 629.6 447.9 626.9 451.1 582.5 451.3 605 455.3 594.2 447.7 589.5 451.3 577.6 445.7 599.4 446.1 612.1 446.5 615.5 452.7 602.5 446.5 617.2 449.3 567.1 449.7 563.4 457.8 581.9 448.2 605.9 445.9 574.1 461.1 572 447.7 591.1 446.7 577.3 449.7 640 445.7 594.2 449.5 565.2 447.7 570.5 455.1 565.5 451.5 609.5 448.6 594.2 450.8 596.2 448 598.5 452 629.3 446.9 620.7 446.1 567.3 449.3 584.2 453.4 612.2 447.8 564.6 446.5 564.9 448.2 597.5 446.5 640.1 448.7 573.4 449.9 603.6 446.4 566 448.8 584.5 450.9 593.3 446.8 602.4 449.5 568.7 449.2 615.5 451.1 588.4 456.4 583.7 453.1 608.8 449.4 640.8 450.6 565.7 445.7 621.1 447.5 597.5 460.2 588.5 452 569.5 450.9 576.7 446.6 650.2 453.9 582.7 448.3 589.1 452.3 563.9 456.9 567.7 447.6 599.7 449 610.5 455.6 588.6 448.3 584.5 452.5 573.9 447.2 567.8 446.7 571 445.8 624.6 452.6 563.3 456.7 570 456.3 573.6 448.8 572.1 446.3 581.1 449.8 619.5 453.7 574.1 449.3 624.7 451.4 591.7 446.9 580 447.3 595.1 452.5 636.5 457 569 450 600.1 459.1 584.9 455.7 563.1 446.7 627.4 449.6 573.2 451.3 600.7 448.9 623 448.3 581.2 445.8 590.5 456.6 581 446.8 609.4 446 644.7 448.8 595.1 449.4 581.5 451.9 605.7 447.9 603.3 450.2 602.3 448.2 585.1 459.1 598.7 454.2 613.3 450.5 595.4 458.7 564.9 454.9 617.8 446 589.7 450.6 572.7 448.5 576.8 449.4 579 452.7 594.1 449.6 599 447.9 581 449 599.2 448.5 576.1 452.3 569.2 445.8 590.6 446 604.2 446 654.9 467 563.6 454.8 567.5 456.4 597.2 448.9 578.5 447.2 651.3 447 604.4 447.9 567.6 462.5 568.5 455.7 565.3 451.9 570.4 449.6 586.5 461.7 563.2 457.6 583.6 455.3 581.7 452.1 565.6 452.5 584.4 454.9 582.3 448 608.3 461.8 567.9 459.3 584.6 453 581.6 449.5 607 448.9 579.1 446.8 628.1 458.2 566.6 453.9 580.2 447.8 654.6 446.3 634.3 449.9 610.1 461.4 575.1 464.7 572.8 446.3 624.1 452.3 580.7 450.4 591.5 452.9 577.6 449.5 567.9 453.8 569.5 446.2 638.9 450.9 626.3 452.3 584.7 452.4 572.1 445.8 584.1 446 574.9 447.5 650.1 448.1 600.7 449 615 448.8 616.2 448.7 569.4 450.7 591.4 445.8 614.3 454.5 571.6 445.6 564.6 448.2 644.2 447.6 580.1 460.4 567.2 449.2 604.6 447.5 605.6 455.9 571.9 451.3 570.1 449.5 600.4 446.2 651.5 446.7 568.1 450.5 593.1 446 598.7 450.1 600.3 455.4 591.6 448.4 571.9 449.1 613.4 454 572.4 446.1 632 449.5 569.5 446.8 626.4 450.6 567.1 451.4 576.3 455.5 569.6 447.3 605.2 446.8 643 448.3 588.8 454.4 580.2 449.2 564 451.3 574.2 447.3 610.7 450.4 586.2 445.7 568.7 445.8 590.5 452 588.2 462.5 564.3 448.5 652.9 445.9 567.8 447.7 565.9 450.3 583.7 450.4 581.6 447.1 568.9 450.1 626.2 447.8 617.8 446.8 591.6 454.4 563.7 452.2 625.2 449.6 564.4 451.2 564.9 445.6 566.8 454.6 572.6 448.3 587.4 451 580.8 450.2 579.6 445.8 567.4 447.8 563.6 452.8 570.3 446.7 576.6 456 564.3 450.5 598.7 446.9 597.2 446.2 621.2 446.5 595.7 446.6 654.1 448.6 588.4 448.3 607.3 447.3 639.9 446 639.2 453.5 613 445.8 563.7 446.3 595.4 458.7 587.4 475.3 609.9 458.4 608.4 471.2 605.5 451.7 592.3 467.7 571.5 456.6 602.8 473.6 592.4 469.6 586 452.7 601.5 460.5 607.5 478 577.9 455.1 575.8 475.1 587.3 452.5 594.6 464.1 574.3 462.2 594.4 470.6 580.4 472.9 600.4 473.5 621.3 452.5 594 473.6 579.8 469.7 586.4 462.6 580.7 470.2 570 457.9 580.5 474.9 599.7 477.4 620.3 470.9 575.5 454.8 606.1 469.2 618.1 473.4 594.8 467.4 579 462.1 608.2 452 623.7 451.3 601.5 462.7 584 455.2 587.2 453.8 595.1 476.3 621 475.2 582.3 468 619.7 462.2 623.4 470.5 602.7 464.8 571.6 466.5 589 479.9 627.2 474.5 616.7 494.8 614.1 499.1 604.4 488.6 608.8 483.4 607 504.8 593 513.4 588.6 527.8 593.8 529.4 586.8 536.4 589.5 533.4 588.6 496.1 583.3 496.1 586.8 512.1 574.5 512.1 578.9 520.7 570.1 529.4 571 524 563.1 536.4 563.1 540.7 564 483.4 576.3 492.1 571 503.4 575.4 478 584.2 467.2 603.5 459.1 622 461.8 632.5"/>
<path clip-path="url(#c15)" class="m" d="M51.2 785.8 68 782.7 44.5 788.2 55.7 784.2 57.5 783.2 44.2 787.8 68.3 780 91.8 775.2 46.4 785.6 53.5 784 53.1 785.4 73.5 775.2 48.7 784.9 54.3 783 108.7 772.2 45.3 786.4 58.7 782 55.1 785.2 91.2 774.8 63.2 779.6 53.7 784.8 45.1 786.3 53.9 785.9 57.8 783.2 49.6 784.9 74.3 779.5 69.2 779.7 100.4 774.1 46.4 786.4 114.7 766.4 51.2 783.8 65 781.2 47.2 783.8 79.7 778.2 85.9 776.8 68.3 779.6 56.6 780.3 44.2 787 66.4 781.8 67.3 781.5 57.1 784.3 43.9 788 77.9 777.2 57.7 782 44.2 786 65.4 780.9 69 781.5 58.9 782.2 63.1 781.7 50.3 786 54.4 783.9 60.7 784.2 73.4 780.3 57.8 784.5 47.7 784.9 51.9 785.7 45 786 50.6 786.9 83.6 776.8 45.6 785.6 66.4 781.5 107.8 773.7 47.8 786.6 46.3 785.9 65.3 781.7 70.5 781.2 53.2 786.4 47.8 787.5 46.7 786.6 83.9 779 53.8 784.2 48.4 784.9 48.9 785.5 79.1 779.7 54.3 784.7 46.1 785.6 52.4 786.9 64.5 780.6 71.1 779 56.1 784.7 68 781 87.7 776.3 69.2 778.7 44.5 786 49 786.4 46.7 789.7 86.9 772 77.1 777.2 89 777.2 52.4 786.9 73.4 780.8 45.9 787.6 66.7 779 68.7 779.5 73.3 783.1 57.3 782.8 48.5 786.3 74.7 778.8 79.3 779.9 52.4 787.3 49.3 787.5 59.5 783.2 50.5 784.2 54.6 782.3 91.5 772.2 60 783.1 112.1 769.9 54.4 783.5 55.4 784.2 60.6 781 49.8 786 50.5 784.8 51.1 784.9 62.7 781.8 44.8 784.9 81.7 777.1 59.4 781.9 75.1 778.7 97.6 773.4 44.7 785 81.7 778.6 75 779.4 92.3 773.1 63.2 781.3 46.8 785.9 54.5 784.4 121.5 772.3 52 784.5 48.8 786.2 44.6 785.4 80.6 777 106.8 778 52.4 784.3 47.4 785 52.4 784.8 126.8 766 48.7 785.1 65.5 780.7 46.8 787.2 81.8 777.1 103.6 768.8 58.7 785.1 75.8 778.1 44.1 789.1 45.6 785.8 114.3 766.1 51.9 783.6 109 775 58.7 780.1 49.9 784.9 44 785.4 52.3 785.9 44.1 787.6 49.1 786.2 49.3 785.2 63.4 781.2 50.4 786.8 45.9 785.9 56.7 782.4 46.8 784.8 48 786.2 54 785 57.9 781.2 74 778.9 54.9 784.7 53 784.5 45.5 786.8 47.1 785.9 70 781.2 58.2 783 43.9 786.9 44.1 787.3 53.7 785.5 53 784.7 56.6 783 56.5 783.1 51.9 785.4 44.6 786.3 61.5 779.4 47 787.5 53.3 784.2 47.5 787.3 55.2 783.1 52.8 784 46.6 785.5 74 780.1 54.9 784.8 52 787 45.5 786.8 44.8 787 79.3 780.5 51.7 785.8 45.6 784.7 45 786.8 53.6 785.4 71.6 783.8 47.6 785.9 45.3 787.7 50.8 783.6 64.1 783.5 44.7 787.5 62.3 782.8 44.2 787.8 56.5 783.7 46.5 785.2 71.1 778.5 109.7 769.8 44.7 787.1 55.3 781.7 63.7 778.1 54.4 783.1 52.7 786.8 48.4 785.2 52.8 784.8 93.2 774.4 57.1 782.6 57.1 782.1 60.3 784.1 57 783.1 84.7 779.1 47.5 785.7 45.1 784.5 60.7 782.6 50.7 785.4 75.3 776.6 52.9 784.9 48.5 786.7 69.6 779.9 75.2 781.2 52.7 784.8 91.8 776.3 52.1 786.3 66.5 778 48.7 786.3 66.5 779.2 48.8 786 46.2 785.4 48.1 784.8 58.6 780.3 95.7 775 64.1 782.7 73 779.1 71.4 780.5 86.2 779.8 62.8 780.9 52.4 785.1 75.7 780.1 75.1 780.5 58 782.4 52.4 787.1 76.7 778.5 51.3 786 50.8 784.5 86.3 779.3 50.4 782.4 44.2 787.4 49.3 786.1 46.5 787.5 63.6 780.7 58.7 783.4 59.5 785.5 51.5 784.9 49.5 785.5 61 784.7 80 777.4 57.4 784.2 59.8 783.1 66.5 780.6 56.2 785.1 71.7 779 57.8 785 57.7 786.2 49.1 786.5 45.5 785.9 55.8 784.1 62.1 784.5 81.4 775.4 108.1 766.9 46.8 787 53.2 782.6 71.2 780.3 88.5 775.2 47.8 783.8 49.5 784.4 60.5 786.5 82.2 777.3 67.5 783.9 58.1 783.6 57.8 784 50.1 785.5 77.4 776.9 44 786.8 86.2 777.1 55.2 784.3 49 784.9 64.2 780 51.2 781.3 102.3 773.6 77.7 778.7 46.9 786.3 117.8 771 66.7 780.3 50.1 785.9 55.3 785.6 102.8 770.5 58.4 780.9 102.2 772.4 85.6 774.8 44.5 786.3 116 771.8 81.8 776.6 119.1 768.3 70.2 781.6 60.1 781 79 777.9 88.9 773.4 117.5 767.4 46.4 786.7 61.2 783.2 48.7 785.1 48.6 785.4 44 787.3 61.5 781.7 48.2 786.7 56 783.2 46.2 785.5 94.5 780.7 59.8 785.1 50.2 785 45.5 786.1 102.5 769.8 46.9 785.8 101.2 774.2 58 783.1 55.2 785.4 54.7 783 80.3 774.8 47.4 784.9 52.5 785.5 44.8 783.8 96.7 776.4 55.4 785.1 62.2 780.8 62.8 781.1 52.6 785.2 46.4 786.9 48.3 785.2 80 778.1 87.7 775.9 114.8 772.3 53.6 786.1 44.9 785.1 57.3 782.3 91.7 776.7 45.3 784.9 48.8 786.6 48.6 787.5 51.9 782.1 119.8 765.6 47.1 786.7 48.6 786.2 66.4 782.8 107.3 774.2 51.4 787.1 45.2 786.9 56.7 781.9 63.3 780.6 95.6 774.1 60.5 784.2 71.2 779.9 59.6 783.2 44.4 785.3 88.9 771.4 55.7 783.8 47.7 786.7 106 767.4 79.1 781.2 64.4 784.9 59.4 782 57 784.8 49.1 784.9 56 786.6 50.8 785.5 44.4 788.2 74.4 780.7 78 776.3 69.5 779.8 46.6 785.1 108.9 768 78.6 778.1 68.1 782.7 122.9 771.6 60 781.9 46 788.2 80.4 775.3 47.5 784.2 46.7 784.6 78.6 776.8 75.4 774.3 88.8 777.2 63.3 780.9 52.6 784 52.6 785.9 48.4 786.8 48.3 786.4 48.1 787.2 44.1 788 97.2 779.6 49.7 785 45.6 785.3 46.2 785.9 72 779.8 92.6 772.5 107.1 772.6 46.6 784.6 44.7 787.2 52.9 785.9 48.3 786 43.9 789.5 55.7 784.6 55 783.2 49 784 53.6 785.4 50.4 786.5 78.5 775.5 53.3 783.4 80.4 774 46.3 784.8 56.7 782.4 48.4 785.2 65.9 783.1 66.6 783.2 48.7 786.1 51.2 784.9 61 783.7 64 784.7 43.9 784.7 57.4 786 53 784.6 90.1 778.7 78.7 779 75.6 774.7 101 770.8 133.8 762 143.8 760.1 133.3 761 144.6 755 137.5 750.1 134.5 757.7 137 748.2 131.7 751.8 129.9 768.7 134.7 767.7 134.5 760.6 135.7 757.6 138.5 768.3 138.3 753.5 138.1 766.4 135.1 751.7 132.7 759.1 139.3 757.2 133.2 767.8 137.1 755.7 132.3 767.4 135.8 760.6 133.3 758.4 136.5 752.7 142.8 759.6 134.8 763.6 134.7 752.6 132.3 755.3 134.3 756.9 136.1 751.8 131 756.3 137.1 751.6 133.2 765.4 134.3 756.1 141.2 748.5 133.4 765.4 135.5 761.6 136.7 759.8 140.2 755.4 130.4 753.8 129.5 767 140.3 754.4 141.2 759.8 142.5 760.1 142.3 760.1 134.5 763.3 138.2 756.7 142.6 753.8 142.1 756.3 124.1 762.1 139 765.9 139 757.5 141.2 758.9 142.3 760.3 141.3 763.6 137.2 758.4 128.9 762.2 138.2 755.9 134.1 748.4 140.2 766.8 174.6 730.2 163.8 740.7 175.8 732.1 185.9 752.2 152.5 751 151.8 745.9 147.6 744.2 177.2 739.2 175.9 742.1 162.4 727.6 162.4 761.1 162 739.1 162.8 742.9 143 742 162.1 745 156.2 743.8 174.3 752.6 163 747.3 158.1 725.3 176.1 729.7 159.4 732.6 162.8 739.7 172.2 748.6 163 725.3 158.7 749.4 169.4 742.8 154.1 745.9 155 753 174.2 757 151.9 744 184.3 755.2 176 741.3 171.9 726.3 164.2 749.3 169.9 745.6 174 737.7 166.6 735.5 172.1 729.6 167.8 735.4 153.8 740.1 161.9 753.6 168.6 737.7 159 744.9 151.8 745.5 160.7 761.7 158 742.7 169.2 733.1 144.6 741.9 179.3 737.2 177 744.8 175.6 758.1 173.3 731.1 159 750.5 167.8 729.9 179.9 758.1 157.5 749.4 174.6 734.2 152.7 751 147.4 748.3 169.1 735 148.3 735.4 151.8 722.8 170.2 734.9 173.6 741.5 174.7 729.5 152.3 752.9 163.9 735.1 158.7 749.4 188.4 734.8 178.1 741.4 170.4 754.1 163.2 725.6 155.5 733.7 176.2 744.4 168.2 750.1 167.3 746 165.2 746.8 150.1 740.3 160.8 744.3 168.9 740.1 175.7 748 181.6 725 169.4 728.1 160.8 726.4 153.8 745.5 156.1 740.8 179.3 739.6 176.2 748.7 168.5 747.8 168.1 750.3 161.9 766.6 170.3 742.2 134.8 724.9 185.6 744.4 152.5 761.8 165.7 738.9 150.4 767.3 143.6 724.3 186.3 769.4 171.6 749.7 173.1 761.7 146.5 765.5 167.4 750.9 184.1 739.7 182 731.5 162 733.3 160.8 762.4 155.4 748 181.6 722.3 164.7 764.4 185.4 753.8 177.4 743.8 180.8 761.9 138.7 746 186.2 725.3 153.5 753.3 181.7 734.6 177.4 755.2 164.3 750.5 137.3 762.6 163.9 738.3 146.2 726.8 135.3 732.7 142.8 728.2 168.5 738.6 175.6 740.9 136.5 763.2 146.8 733.1 168.7 763.8 180.3 725.5 120.7 765.5 101.1 772.8 117.6 771.1 105.5 764.3 99.4 770 121 768.7 100.7 769 104.6 768.7 113.8 768.1 120 762.2 115.9 761.6 105.5 762.2 104.1 772.3 108.5 772.4 99.4 763.9 116.6 697.4 111.3 712.4 122.6 708.8 112.9 723.8 186.3 742.2 193.2 744.9 189.4 751 155 720.3 153.8 722"/>
<path clip-path="url(#c16)" class="m" d="M263.7 775.4 239 787.2 252.6 778.9 243.3 782.8 240 785.1 246.1 783.1 249.7 779.6 252.9 777.9 259 777.4 235.4 787.3 239.2 784.2 254.7 779.5 235.1 788 267.4 771 263.5 775.2 233 787.3 250.3 779.9 254.5 777.9 231.3 787.7 240.8 784.9 238.9 785.2 248.4 779.6 254 778.2 251.9 781.7 265.1 771.4 261.6 775.7 247.5 782.6 240.4 785 246.2 781.5 262.6 773.8 245.8 784 267.8 772.8 252.7 778 242.7 784.2 256.1 777.3 257.9 779.5 251.3 780 243.3 783.5 256.2 779.4 251.3 782.8 257.8 777.5 251.8 778.6 239.4 788 267.1 774 234.7 786.4 245.5 781.4 238.5 785.4 245.4 785.5 255.7 778.1 253.5 778.3 261.4 773.6 253.3 779.1 268.3 773.7 248 783 255.2 781.2 251.3 781.1 232.6 789 241.3 785.3 235.6 786.1 240.7 784.2 232.8 790.7 244.2 784 246.7 780.8 257.8 776.8 264.7 772.8 248.7 782.9 257.7 777.6 251.9 780.3 241.5 785.9 242.1 786 250.8 783.2 260.2 777.4 254.9 778.5 260.6 777.2 260.4 777 257.3 776.7 239.9 784.8 249.7 780.5 249.2 781.3 234.2 789.6 242.2 784.1 247.9 783.2 232.4 788.6 253.8 779.2 253.5 777.4 236.2 788 240.1 785.8 267.1 773 248.4 779.7 245.6 782 264.3 775.6 250 780.3 255.5 780.4 268.4 773.7 254.9 780.8 239.5 786.5 260.5 778.5 266.2 771.6 247.1 780.4 258.9 777 264 775.3 238.2 783.8 259.7 774.3 249.8 780.9 253.8 778 266.8 772.7 260.9 774.4 238.8 785.2 248.4 780.7 254.5 777.3 261.4 776.7 238.3 787 258 776.4 252.2 780.4 237.1 786.7 251.9 782.1 249.3 781.6 250.9 781.6 244.8 782.1 245.9 782.8 263 776.7 243.2 782.6 266.5 772.9 259.3 773.8 259.5 777.8 247 779.7 239.4 787.9 234.9 786.5 249 779.9 250.4 779.4 246.5 784.8 236.8 787.8 232.9 785.4 264.7 773.5 246.1 780.7 264.3 774.2 264.1 774.4 253.6 778.6 262.4 775 269.3 771.7 256.3 775.1 233.5 789.6 255.5 779.1 250.7 781.5 261.6 776.5 247.9 782.3 256.8 776.5 247.4 781.7 254.2 778.5 250.3 782.5 239.8 785.1 242.5 784.4 236.3 787.5 255.3 777.6 266.3 773.8 255.6 777.1 236.8 785.4 252 778.3 242.1 780.6 247.7 781.1 233.7 790.2 269.1 774.2 251.8 780 255.6 778.1 236.3 787.3 237.6 785.4 264.7 774.6 262.5 774.9 257.6 777.7 258.8 774.6 267.5 772 260.5 779 255.4 778.7 238.8 783.9 239.6 784.5 240.6 781.9 234.5 787.3 248.7 781.3 234.3 787.9 266.7 773.8 254.5 778.4 246.6 782.2 243.9 782.6 258.5 776.7 264 773 268.6 773.7 236.1 786.8 248.1 780.3 268.9 772.6 255.4 779.7 263.6 774.5 248.4 780.8 263.1 772.6 265.8 771.9 243.3 781.7 244.1 783.2 247.2 780.8 266.9 774.6 234.4 787.2 255.8 778.4 252.1 776.3 259.3 774.3 237 785.5 239.4 786.9 259.7 775.8 265.2 772.8 253.1 781.1 252.8 780.5 261.5 775.9 240.9 785.2 264 776 233.3 785.6 255.9 777.5 263.2 774.7 238.9 787.8 246.4 781.4 244.1 784.2 261.7 776.3 238.1 786.2 247.3 780.3 255.5 781.1 234.6 789 244.3 781.3 240.5 785.1 242 783.4 240.7 786 246.6 781.4 233 788.6 242.7 785.2 239.1 785.1 259.2 777.9 257.4 776.6 248.6 781.7 234.8 787.4 252.2 781.2 251.2 777.7 253.8 781.2 245.7 782 242.4 785.7 232.3 789.6 237.5 785.9 238.1 784 245.6 781.4 243.6 784.5 246.7 782.4 267 773.3 266.8 771.7 248.6 782.9 253.2 780 268.3 771.3 257.5 778.4 234.1 786.5 248.2 782.3 260.1 775.3 247.9 783.6 267.8 772.5 241.8 786 263 777.2 258.7 778.1 258 775.9 246.2 782.6 244.4 783.3 249.8 780.4 258.2 777.9 244.2 780.9 267.2 774.4 253.5 776.2 248.4 780.6 256 777.8 237.7 789.1 259.4 776.9 237 785.9 262.5 774.1 235.6 788.8 258.3 775.3 262.3 776.2 239.9 784.6 240.1 787.1 259.9 772.9 241.6 784.3 250.9 780 243.4 781.7 239.7 782.7 267.7 772.8 242.4 783.8 250.5 780.9 247.5 782.2 262.3 774.1 262.2 775 263.8 775.5 242.7 783.5 254.1 777.9 232.9 788.8 241.7 782.6 252.1 778.2 246.5 785.8 270.1 771.5 257.4 776.7 268.2 771.4 241.7 783.7 255.4 775.9 247.2 780.7 258.3 778.5 259.9 776.8 260 777.4 241.8 783.1 265.5 774.5 247.4 783.3 254.5 778.2 267.1 771.2 262.2 775.4 238.1 786.1 261.4 776.3 244.8 783.5 245.8 783.1 247.6 781.9 248.3 780.5 266.1 773.6 254.2 780.9 245.1 781.8 254.6 765.8 258 753.2 278.5 748.2 252.6 767.5 262.1 752.8 261 754.2 268 751.6 258.1 754.6 268.2 751 271.4 750.5 255.6 759.6 276.1 748.1 260.3 751.6 255.8 753.8 255 763.2 256 759.8 261.7 753.6 258.2 755.2 255.2 764.9 259.2 753.9 265.3 753.6 256.7 754.8 251.5 765.8 255.3 757 254.5 765.2 255.1 756.1 276.8 752.7 252.7 765.4 267.3 752.6 255.3 768.8 273.8 749.5 253.2 763.7 254.1 772.3 270.6 749.6 274.5 749.9 251.8 768.9 273.6 749.7 253.8 771.5 258.4 749 273.5 750.5 251.3 772.3 271 750.7 278.5 749.1 258.5 760.9 271 749.7 273.7 774.7 257.8 764 248.6 768.3 267.2 763.7 248.5 774 249.5 767.8 261.4 768.7 273.5 769.8 250.9 762.4 256.2 772.2 253.6 775.4 253.1 768.4 273.5 775.9 259 771.4 248.8 766.2 270.9 769.5 254 768.7 250 765.5 263.3 776.4 266 769.4 272.7 773.8 253.1 766.3 271.3 772.5 266.6 767.8 273.3 773.7 256.6 767.5 264.9 772.2 273.7 769.1 265.2 766.7 247.6 766 260.3 761.6 255.4 768.9 263.7 775.7 250.9 769.8 255.8 761.9 351 719.4 339.5 739.2 275.1 763 284.8 765.7 330.8 733 327.1 739.9 274 760.2 323.2 758.7 292.3 740.6 329.2 727.7 295.5 751.8 303.1 759.1 282.2 767.6 299.3 757.4 286 772.3 336.2 726.2 281.5 762.8 309.2 746.9 314.5 748.1 285.2 753.8 268.8 757.2 313.4 742.3 295.9 743.3 355.8 739.7 287.5 756 263 770.6 275.1 760.6 275.9 762.6 308.1 742.6 303.7 744.7 318.6 741.8 334.7 722.4 300.6 752.9 274.4 757.8 271 759.4 281.3 754.2 292.4 749.6 292.8 753 306 734.8 287.4 761.5 285.1 764 307.2 735.9 301.1 744.4 257.7 765 291.5 759.5 284.7 756.9 295.3 751.5 295.9 757.2 275.4 757.6 284.9 742 279.8 751.6 330.5 732.6 329.9 734.8 317.7 743.4 360.1 733.8 298.3 753.7 263.2 774.1 322.4 728.7 264.3 765.3 336.7 743.7 346.3 727 271 755.2 320.9 733.8 311.5 740.8 296.3 760.6 309.4 752.3 285.4 749.4 322.3 736.4 267.5 750.5 326.7 743.6 297.8 754.9 346.1 714.6 303.7 752.1 359.4 729.1 344.1 730.7 324 739.5 293 738.3 302 743.6 328.7 746.4 310.3 747.3 277.7 766.2 282.9 744.8 271.3 766.3 285.1 757 352.9 718.2 290.6 748.9 313.4 725.1 314.1 745.3 306.5 759.3 302.7 736.1 338.4 729.8 282 756 322 746.6 327.6 730.5 304.9 742.3 332.7 737.1 291.2 744.7 268.7 760.2 332.3 724.7 262.5 748.8 312.6 738.9 274.7 763.2 293.5 733.3 325.4 715.7 253.9 765.9 309.8 743.1 318 730.8 331.5 730.2 281.6 767.7 283.2 751.9 273.4 767.8 315 733.7 290.6 746.1 306 751.9 267.9 765.4 286.7 753.5 281.5 745.7 278.7 758.4 261.1 772.5 291 752.7 304.3 740.6 303.7 741 260 753.9 292.9 763.9 288.1 751.3 347.5 723 282.5 752.8 295.1 747.9 270.2 761.5 271.4 760.9 289.3 755.4 323.7 741.2 315.7 727.7 341 737.8 314.4 742.2 291.5 771.8 279.6 745.9 271.9 764.1 289.6 761.3 266.6 766.1 290.9 755.7 286.8 761 328.9 742.4 295.1 746.4 267.2 757 299.2 744.1 286.2 752 284.5 745.4 300.6 738.2 321.5 728.7 268.7 755.2 353.5 735.6 282.8 754.7 294.8 744.3 320.2 732.2 345.8 731.7 286.6 757.7 313.6 742.4 314.5 746.2 297.3 758.5 364.8 697.4 360.5 709.7 363.9 712.4 366.5 738.7 356.2 729 337.4 712.4 341.7 721.1 341.7 728.2 345.9 731.7 327.9 753.6 319.4 754.5 311.7 751.9 282.5 733.4 298.8 768.6 294.5 773.9 250 754.5"/>
<path clip-path="url(#c17)" class="m" d="M443.8 757.9 484.5 721.1 428.6 766.9 403.3 780.6 516.8 700.5 464.9 731.1 475.1 728.7 466.5 733.9 453.5 742.2 408.4 768.2 432.8 757.2 486.9 712.8 508.8 708.9 506.4 711.6 514 700.5 396 790.2 487.1 719.4 478.8 726.2 472.7 721.5 474.3 722.3 408.9 767.9 472.8 726.8 493.4 716.7 393.7 789.4 510.5 697.4 409.4 780.8 440.8 754.6 463.2 740.3 470.5 727 463 736.9 442.3 747.9 505.3 703.3 443.5 739.3 504.5 705.4 434.9 766.3 472.8 738.3 501.4 711.9 408.1 771.4 414.6 775.9 485.9 722.5 408.8 782.5 394.9 790.4 417.1 769.3 443.2 751.2 482.6 722.8 482.3 720.1 420.1 769.1 421.4 770.2 399.4 795.4 395.6 792 410 771.4 488.9 724.5 436.3 758.8 437.3 759.2 436.9 756.1 423.5 763.7 513.1 707.1 513.1 707.7 512 702.5 484.8 728.5 476.1 727 466.2 738.1 445.1 750.8 481.9 721.1 460.8 736 489 715.7 486.6 723.8 471.8 731 455 745.7 485.6 726 489.1 721 483.6 721.9 412.6 774 425 765 478.7 730.5 480.4 725.2 468.4 731.8 477.6 719.8 510.8 707.1 401.9 778.7 458 740.2 435.2 745.1 395.3 784.7 479.7 718.4 398.9 781.4 397.7 789 426 767 403.3 781.1 486.2 724.9 393.4 787.7 475.7 730.6 435.7 757.4 518.3 706.8 466.6 726.8 478.2 730.8 502.7 710.7 421.3 770.5 423.4 764.8 495.6 709.7 520.4 696.1 456.7 748 433.8 756.6 519 696.1 409.3 771.3 405.8 781.5 489.5 721.2 476.2 734.9 440.7 743.7 435.8 757.4 458.8 741.3 506.9 710.3 430.3 760.1 461.7 734.8 404.1 777.1 475.8 730 444.4 754.7 418.7 765.8 499.6 715 397.9 778 518.2 698.2 459.8 740.8 501.5 705.4 493.9 722.8 478.5 725.7 494 715 427.5 760.9 411.4 778.7 399.9 783.3 398 783.2 402.9 778.1 445.1 750 519.3 705.8 475.7 726.2 422 772.1 460.6 738.9 518.7 700.9 409.7 765.5 434 758.5 407.4 783.8 412.3 776.3 423.7 762.4 415.2 773.8 508.9 699.5 477.7 726.5 457 736.1 450.5 741.6 466.9 737.7 398.4 783.5 449.8 748.7 409.7 774.8 444.7 750.8 397.8 783.8 411 777.6 419 769 412.7 777.7 422.7 769.7 398.7 781.5 442.3 753.4 409.8 781.6 421.4 772.5 429.4 762 438.9 749.8 444.7 751 408.9 775.4 412.2 775.4 409.9 778.2 422.4 765.6 439.6 754.7 443.7 743.1 433.1 757.5 404.5 777.3 437.8 757 402.2 783.4 419 775.1 406 781.1 424.7 770.5 413.6 777.4 400.2 785.3 421.6 775.2 405 788.3 435.5 762.8 421.4 763.8 417.3 769.4 405.1 773.4 444.6 747.6 411.4 778.3 425.9 762.7 425.1 766.1 429.8 767.7 407.1 779.4 414.3 772.6 443.5 746 444.1 746.7 439.4 759.3 423 770.4 401.4 781.2 441.8 751.3 443.2 752.3 431.6 760.4 424.5 760.9 425.3 760.6 440.6 755.2 431.1 762.1 437.6 755.9 407.2 782.5 412.4 777 408.8 771.4 427.4 758.5 424.3 766 402.5 781.6 399.6 778.6 412.6 776.8 437.5 759 432.4 756.1 415.8 770.6 408.2 783 440 752 429.9 763.5 429.2 762.1 443.6 742.7 420.5 768 400.3 785.6 427.8 767.2 402 779.7 404.4 781.7 435 754.6 404.7 773.9 442.3 748.8 433.3 753.9 441.6 746.9 415.3 778.4 412.8 775.4 444 756 409.7 773.9 419.7 769.8 444 748.9 398 785.6 407.7 780.8 441.9 754.6 407.1 777 511.9 702.3 506.2 710.6 516.1 709.4 517.3 711.1 507.9 705.1 513.5 701.7 504.6 713 507.4 707.8 498.3 708.7 511.4 704.2 520.6 694.2 504.5 706.3 513.6 706.2 519 705.6 513.1 700.7 516.3 701.1 496.6 709.5 507 707.7 502.9 707.7 502.1 713.4 507.1 716.5 498.9 714.8 508.9 713.8 506.7 711.1 506.4 710.2 514.6 696.8 514.4 705.5 496.8 709.6 500.9 717.9 510.7 698.5 497.1 722.1 520.4 702 498.7 706 496.5 708.3 492.8 715.2 502.9 709.4 515.4 699.2 497.1 718.5 509 705.1 517.2 695.1 516.3 696.1 513.6 711.4 497.9 710.5 513.4 705.4 513.8 707.6 508.2 711.5 504.2 713.9 495.8 721.4 513.6 699.5 514.7 712.1 502.5 713 510.3 709.6 496.9 709.9 509.2 709.2 510.6 706.2 507.3 713.5 512.7 706.3 502.3 708.7 497.3 719.1 494.7 713.9 494.5 716.3 498.2 712.3 513.7 702 495 712.5 498 723.1 507.3 702.9 502.9 715.4 501.5 717.7 505.9 709.7 508.1 705.9 536.6 697.4 538.3 704.4 520.1 717.6 497.1 730.8 526.2 700.1 529.1 700.9"/>
<rect x="42.6" y="5.5" width="156.8" height="103.5" class="fr"/>
<path d="M42.6 109v-4" class="tk"/>
<path d="M89 109v-4" class="tk"/>
<path d="M135.4 109v-4" class="tk"/>
<path d="M181.8 109v-4" class="tk"/>
<path d="M42.6 109h4" class="tk"/>
<path d="M42.6 78.2h4" class="tk"/>
<path d="M42.6 47.3h4" class="tk"/>
<path d="M42.6 16.5h4" class="tk"/>
<rect x="215.7" y="5.5" width="156.8" height="103.5" class="fr"/>
<path d="M215.7 109v-4" class="tk"/>
<path d="M283.7 109v-4" class="tk"/>
<path d="M351.8 109v-4" class="tk"/>
<rect x="388.8" y="5.5" width="156.8" height="103.5" class="fr"/>
<path d="M388.8 109v-4" class="tk"/>
<path d="M458.4 109v-4" class="tk"/>
<path d="M528 109v-4" class="tk"/>
<rect x="42.6" y="141" width="156.8" height="103.5" class="fr"/>
<path d="M42.6 244.5v-4" class="tk"/>
<path d="M83.3 244.5v-4" class="tk"/>
<path d="M124.1 244.5v-4" class="tk"/>
<path d="M164.8 244.5v-4" class="tk"/>
<path d="M42.6 244.5h4" class="tk"/>
<path d="M42.6 213.7h4" class="tk"/>
<path d="M42.6 182.8h4" class="tk"/>
<path d="M42.6 152h4" class="tk"/>
<rect x="215.7" y="141" width="156.8" height="103.5" class="fr"/>
<path d="M215.7 244.5v-4" class="tk"/>
<path d="M260.7 244.5v-4" class="tk"/>
<path d="M305.7 244.5v-4" class="tk"/>
<path d="M350.7 244.5v-4" class="tk"/>
<rect x="388.8" y="141" width="156.8" height="103.5" class="fr"/>
<path d="M388.8 244.5v-4" class="tk"/>
<path d="M460.8 244.5v-4" class="tk"/>
<path d="M532.8 244.5v-4" class="tk"/>
<rect x="42.6" y="276.3" width="156.8" height="103.5" class="fr"/>
<path d="M42.6 379.8v-4" class="tk"/>
<path d="M83.3 379.8v-4" class="tk"/>
<path d="M124 379.8v-4" class="tk"/>
<path d="M164.7 379.8v-4" class="tk"/>
<path d="M42.6 379.8h4" class="tk"/>
<path d="M42.6 349h4" class="tk"/>
<path d="M42.6 318.1h4" class="tk"/>
<path d="M42.6 287.3h4" class="tk"/>
<rect x="215.7" y="276.3" width="156.8" height="103.5" class="fr"/>
<path d="M215.7 379.8v-4" class="tk"/>
<path d="M258.1 379.8v-4" class="tk"/>
<path d="M300.5 379.8v-4" class="tk"/>
<path d="M342.8 379.8v-4" class="tk"/>
<rect x="388.8" y="276.3" width="156.8" height="103.5" class="fr"/>
<path d="M388.8 379.8v-4" class="tk"/>
<path d="M452.8 379.8v-4" class="tk"/>
<path d="M516.8 379.8v-4" class="tk"/>
<rect x="42.6" y="422.8" width="156.8" height="103.5" class="fr"/>
<path d="M42.6 526.3v-4" class="tk"/>
<path d="M94.4 526.3v-4" class="tk"/>
<path d="M146.3 526.3v-4" class="tk"/>
<path d="M198.1 526.3v-4" class="tk"/>
<path d="M42.6 526.3h4" class="tk"/>
<path d="M42.6 482.4h4" class="tk"/>
<path d="M42.6 438.4h4" class="tk"/>
<rect x="215.7" y="422.8" width="156.8" height="103.5" class="fr"/>
<path d="M215.7 526.3v-4" class="tk"/>
<path d="M275.8 526.3v-4" class="tk"/>
<path d="M335.9 526.3v-4" class="tk"/>
<rect x="388.8" y="422.8" width="156.8" height="103.5" class="fr"/>
<path d="M388.8 526.3v-4" class="tk"/>
<path d="M430.5 526.3v-4" class="tk"/>
<path d="M472.2 526.3v-4" class="tk"/>
<path d="M513.9 526.3v-4" class="tk"/>
<rect x="42.6" y="558" width="156.8" height="103.5" class="fr"/>
<path d="M42.6 661.5v-4" class="tk"/>
<path d="M96.4 661.5v-4" class="tk"/>
<path d="M150.2 661.5v-4" class="tk"/>
<path d="M42.6 661.5h4" class="tk"/>
<path d="M42.6 617.6h4" class="tk"/>
<path d="M42.6 573.6h4" class="tk"/>
<rect x="215.7" y="558" width="156.8" height="103.5" class="fr"/>
<path d="M215.7 661.5v-4" class="tk"/>
<path d="M261.2 661.5v-4" class="tk"/>
<path d="M306.7 661.5v-4" class="tk"/>
<path d="M352.1 661.5v-4" class="tk"/>
<rect x="388.8" y="558" width="156.8" height="103.5" class="fr"/>
<path d="M388.8 661.5v-4" class="tk"/>
<path d="M442.9 661.5v-4" class="tk"/>
<path d="M496.9 661.5v-4" class="tk"/>
<rect x="42.6" y="693.2" width="156.8" height="103.5" class="fr"/>
<path d="M42.6 796.7v-4" class="tk"/>
<path d="M105.1 796.7v-4" class="tk"/>
<path d="M167.5 796.7v-4" class="tk"/>
<path d="M42.6 796.7h4" class="tk"/>
<path d="M42.6 752.8h4" class="tk"/>
<path d="M42.6 708.8h4" class="tk"/>
<rect x="215.7" y="693.2" width="156.8" height="103.5" class="fr"/>
<path d="M215.7 796.7v-4" class="tk"/>
<path d="M258.5 796.7v-4" class="tk"/>
<path d="M301.4 796.7v-4" class="tk"/>
<path d="M344.2 796.7v-4" class="tk"/>
<rect x="388.8" y="693.2" width="156.8" height="103.5" class="fr"/>
<path d="M388.8 796.7v-4" class="tk"/>
<path d="M444.9 796.7v-4" class="tk"/>
<path d="M501 796.7v-4" class="tk"/>
<text x="42.6" y="121.7" class="tl" text-anchor="middle">0</text>
<text x="89" y="121.7" class="tl" text-anchor="middle">25</text>
<text x="135.4" y="121.7" class="tl" text-anchor="middle">50</text>
<text x="181.8" y="121.7" class="tl" text-anchor="middle">75</text>
<text x="121" y="132.3" class="xl" text-anchor="middle">Degree (CA-GrQc)</text>
<text x="38.4" y="113.5" class="tl" text-anchor="end">0</text>
<text x="38.4" y="82.7" class="tl" text-anchor="end">20</text>
<text x="38.4" y="51.8" class="tl" text-anchor="end">40</text>
<text x="38.4" y="21" class="tl" text-anchor="end">60</text>
<text transform="translate(15.3 57.2) rotate(-90)" class="yl" text-anchor="middle">Φ(<tspan font-style="italic">i</tspan>)</text>
<text x="215.7" y="121.7" class="tl" text-anchor="middle">0</text>
<text x="283.7" y="121.7" class="tl" text-anchor="middle">20</text>
<text x="351.8" y="121.7" class="tl" text-anchor="middle">40</text>
<text x="294.1" y="132.3" class="xl" text-anchor="middle">H-index (CA-GrQc)</text>
<text x="388.8" y="121.7" class="tl" text-anchor="middle">0</text>
<text x="458.4" y="121.7" class="tl" text-anchor="middle">20</text>
<text x="528" y="121.7" class="tl" text-anchor="middle">40</text>
<text x="467.2" y="132.3" class="xl" text-anchor="middle">Kcore (CA-GrQc)</text>
<text x="42.6" y="257.2" class="tl" text-anchor="middle">0.0000</text>
<text x="83.3" y="257.2" class="tl" text-anchor="middle">0.0005</text>
<text x="124.1" y="257.2" class="tl" text-anchor="middle">0.0010</text>
<text x="164.8" y="257.2" class="tl" text-anchor="middle">0.0015</text>
<text x="121" y="267.8" class="xl" text-anchor="middle">PageRank (CA-GrQc)</text>
<text x="38.4" y="249" class="tl" text-anchor="end">0</text>
<text x="38.4" y="218.2" class="tl" text-anchor="end">20</text>
<text x="38.4" y="187.3" class="tl" text-anchor="end">40</text>
<text x="38.4" y="156.5" class="tl" text-anchor="end">60</text>
<text transform="translate(15.3 192.8) rotate(-90)" class="yl" text-anchor="middle">Φ(<tspan font-style="italic">i</tspan>)</text>
<text x="215.7" y="257.2" class="tl" text-anchor="middle">0.0</text>
<text x="260.7" y="257.2" class="tl" text-anchor="middle">2.5</text>
<text x="305.7" y="257.2" class="tl" text-anchor="middle">5.0</text>
<text x="350.7" y="257.2" class="tl" text-anchor="middle">7.5</text>
<text x="294.1" y="267.8" class="xl" text-anchor="middle">EKC (CA-GrQc)</text>
<text x="388.8" y="257.2" class="tl" text-anchor="middle">0</text>
<text x="460.8" y="257.2" class="tl" text-anchor="middle">50</text>
<text x="532.8" y="257.2" class="tl" text-anchor="middle">100</text>
<text x="467.2" y="267.8" class="xl" text-anchor="middle">InfGCN (CA-GrQc)</text>
<text x="42.6" y="392.5" class="tl" text-anchor="middle">0</text>
<text x="83.3" y="392.5" class="tl" text-anchor="middle">250</text>
<text x="124" y="392.5" class="tl" text-anchor="middle">500</text>
<text x="164.7" y="392.5" class="tl" text-anchor="middle">750</text>
<text x="121" y="403.1" class="xl" text-anchor="middle">LCNN (CA-GrQc)</text>
<text x="38.4" y="384.3" class="tl" text-anchor="end">0</text>
<text x="38.4" y="353.5" class="tl" text-anchor="end">20</text>
<text x="38.4" y="322.6" class="tl" text-anchor="end">40</text>
<text x="38.4" y="291.8" class="tl" text-anchor="end">60</text>
<text transform="translate(15.3 328.1) rotate(-90)" class="yl" text-anchor="middle">Φ(<tspan font-style="italic">i</tspan>)</text>
<text x="215.7" y="392.5" class="tl" text-anchor="middle">0</text>
<text x="258.1" y="392.5" class="tl" text-anchor="middle">5</text>
<text x="300.5" y="392.5" class="tl" text-anchor="middle">10</text>
<text x="342.8" y="392.5" class="tl" text-anchor="middle">15</text>
<text x="294.1" y="403.1" class="xl" text-anchor="middle">CNT (CA-GrQc)</text>
<text x="388.8" y="392.5" class="tl" text-anchor="middle">0</text>
<text x="452.8" y="392.5" class="tl" text-anchor="middle">20</text>
<text x="516.8" y="392.5" class="tl" text-anchor="middle">40</text>
<text x="467.2" y="403.1" class="xl" text-anchor="middle">MSF-Former (CA-GrQc)</text>
<text x="42.6" y="539" class="tl" text-anchor="middle">0</text>
<text x="94.4" y="539" class="tl" text-anchor="middle">20</text>
<text x="146.3" y="539" class="tl" text-anchor="middle">40</text>
<text x="198.1" y="539" class="tl" text-anchor="middle">60</text>
<text x="121" y="549.6" class="xl" text-anchor="middle">Degree (facebook)</text>
<text x="38.4" y="530.8" class="tl" text-anchor="end">0</text>
<text x="38.4" y="486.9" class="tl" text-anchor="end">5</text>
<text x="38.4" y="442.9" class="tl" text-anchor="end">10</text>
<text transform="translate(15.3 474.6) rotate(-90)" class="yl" text-anchor="middle">Φ(<tspan font-style="italic">i</tspan>)</text>
<text x="215.7" y="539" class="tl" text-anchor="middle">0</text>
<text x="275.8" y="539" class="tl" text-anchor="middle">10</text>
<text x="335.9" y="539" class="tl" text-anchor="middle">20</text>
<text x="294.1" y="549.6" class="xl" text-anchor="middle">H-index (facebook)</text>
<text x="388.8" y="539" class="tl" text-anchor="middle">0</text>
<text x="430.5" y="539" class="tl" text-anchor="middle">5</text>
<text x="472.2" y="539" class="tl" text-anchor="middle">10</text>
<text x="513.9" y="539" class="tl" text-anchor="middle">15</text>
<text x="467.2" y="549.6" class="xl" text-anchor="middle">Kcore (facebook)</text>
<text x="42.6" y="674.2" class="tl" text-anchor="middle">0.000</text>
<text x="96.4" y="674.2" class="tl" text-anchor="middle">0.005</text>
<text x="150.2" y="674.2" class="tl" text-anchor="middle">0.010</text>
<text x="121" y="684.8" class="xl" text-anchor="middle">PageRank (facebook)</text>
<text x="38.4" y="666" class="tl" text-anchor="end">0</text>
<text x="38.4" y="622.1" class="tl" text-anchor="end">5</text>
<text x="38.4" y="578.1" class="tl" text-anchor="end">10</text>
<text transform="translate(15.3 609.8) rotate(-90)" class="yl" text-anchor="middle">Φ(<tspan font-style="italic">i</tspan>)</text>
<text x="215.7" y="674.2" class="tl" text-anchor="middle">0.0</text>
<text x="261.2" y="674.2" class="tl" text-anchor="middle">2.5</text>
<text x="306.7" y="674.2" class="tl" text-anchor="middle">5.0</text>
<text x="352.1" y="674.2" class="tl" text-anchor="middle">7.5</text>
<text x="294.1" y="684.8" class="xl" text-anchor="middle">EKC (facebook)</text>
<text x="388.8" y="674.2" class="tl" text-anchor="middle">0</text>
<text x="442.9" y="674.2" class="tl" text-anchor="middle">2</text>
<text x="496.9" y="674.2" class="tl" text-anchor="middle">4</text>
<text x="467.2" y="684.8" class="xl" text-anchor="middle">InfGCN (facebook)</text>
<text x="42.6" y="809.4" class="tl" text-anchor="middle">0</text>
<text x="105.1" y="809.4" class="tl" text-anchor="middle">100</text>
<text x="167.5" y="809.4" class="tl" text-anchor="middle">200</text>
<text x="121" y="820" class="xl" text-anchor="middle">LCNN (facebook)</text>
<text x="38.4" y="801.2" class="tl" text-anchor="end">0</text>
<text x="38.4" y="757.3" class="tl" text-anchor="end">5</text>
<text x="38.4" y="713.3" class="tl" text-anchor="end">10</text>
<text transform="translate(15.3 745) rotate(-90)" class="yl" text-anchor="middle">Φ(<tspan font-style="italic">i</tspan>)</text>
<text x="215.7" y="809.4" class="tl" text-anchor="middle">0</text>
<text x="258.5" y="809.4" class="tl" text-anchor="middle">5</text>
<text x="301.4" y="809.4" class="tl" text-anchor="middle">10</text>
<text x="344.2" y="809.4" class="tl" text-anchor="middle">15</text>
<text x="294.1" y="820" class="xl" text-anchor="middle">CNT (facebook)</text>
<text x="388.8" y="809.4" class="tl" text-anchor="middle">0</text>
<text x="444.9" y="809.4" class="tl" text-anchor="middle">20</text>
<text x="501" y="809.4" class="tl" text-anchor="middle">40</text>
<text x="467.2" y="820" class="xl" text-anchor="middle">MSF-Former (facebook)</text>
<text x="1.0" y="13.8" class="pl">(a)</text>
<text x="1.0" y="431.1" class="pl">(b)</text>
</svg>
</body></html>
